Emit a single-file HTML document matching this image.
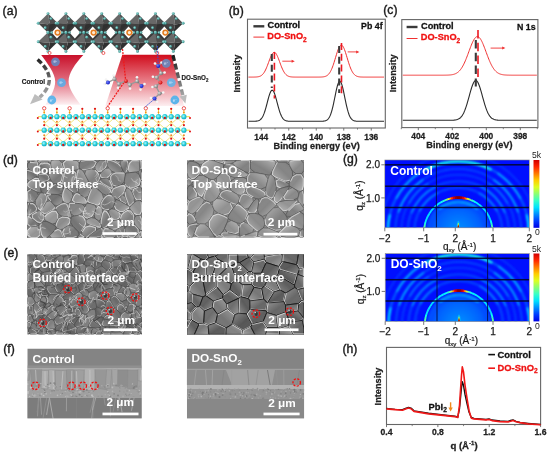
<!DOCTYPE html>
<html><head><meta charset="utf-8"><title>Figure</title>
<style>html,body{margin:0;padding:0;background:#fff;width:550px;height:454px;overflow:hidden}</style>
</head><body>
<svg width="550" height="454" viewBox="0 0 550 454" style="font-family:'Liberation Sans',Arial,sans-serif;display:block">
<defs>
<linearGradient id="sh0" x1="0" y1="0" x2="1" y2="1"><stop offset="0" stop-color="#fff" stop-opacity="0.9"/><stop offset="0.55" stop-color="#fff" stop-opacity="0"/><stop offset="1" stop-color="#000" stop-opacity="0.35"/></linearGradient>
<linearGradient id="sh1" x1="1" y1="0" x2="0" y2="1"><stop offset="0" stop-color="#fff" stop-opacity="0.9"/><stop offset="0.55" stop-color="#fff" stop-opacity="0"/><stop offset="1" stop-color="#000" stop-opacity="0.35"/></linearGradient>
<linearGradient id="sh2" x1="0" y1="1" x2="1" y2="0"><stop offset="0" stop-color="#fff" stop-opacity="0.9"/><stop offset="0.55" stop-color="#fff" stop-opacity="0"/><stop offset="1" stop-color="#000" stop-opacity="0.35"/></linearGradient>
<linearGradient id="sh3" x1="1" y1="1" x2="0" y2="0"><stop offset="0" stop-color="#fff" stop-opacity="0.9"/><stop offset="0.55" stop-color="#fff" stop-opacity="0"/><stop offset="1" stop-color="#000" stop-opacity="0.35"/></linearGradient>
<filter id="gblur" x="-5%" y="-5%" width="110%" height="110%"><feGaussianBlur stdDeviation="0.55"/></filter>
<filter id="gblur2" x="-20%" y="-20%" width="140%" height="140%"><feGaussianBlur stdDeviation="1.2"/></filter>
<linearGradient id="cbar" x1="0" y1="1" x2="0" y2="0"><stop offset="0.00" stop-color="#0000e5"/><stop offset="0.10" stop-color="#003aff"/><stop offset="0.20" stop-color="#008dff"/><stop offset="0.30" stop-color="#00e1ff"/><stop offset="0.40" stop-color="#36ffc8"/><stop offset="0.50" stop-color="#89ff75"/><stop offset="0.60" stop-color="#ddff21"/><stop offset="0.70" stop-color="#ffcd00"/><stop offset="0.80" stop-color="#ff7900"/><stop offset="0.90" stop-color="#ff2500"/><stop offset="1.00" stop-color="#d10000"/></linearGradient>
<radialGradient id="ginner"><stop offset="0" stop-color="#0093ff"/><stop offset="0.7" stop-color="#0060ff"/><stop offset="1" stop-color="#0038ff"/></radialGradient>
<clipPath id="gw1"><rect x="384.8" y="160" width="144.5" height="67.8"/></clipPath>
<clipPath id="gw2"><rect x="385.2" y="253.5" width="144.1" height="67.9"/></clipPath>
<filter id="semblur" x="0" y="0" width="100%" height="100%"><feGaussianBlur stdDeviation="0.55"/></filter>
<clipPath id="s1"><rect x="27" y="160" width="115" height="78"/></clipPath>
<clipPath id="s2"><rect x="187" y="160" width="117" height="77.5"/></clipPath>
<clipPath id="s3"><rect x="27.4" y="254.4" width="114.6" height="80"/></clipPath>
<clipPath id="s4"><rect x="187" y="254.4" width="117" height="80"/></clipPath>
<filter id="xsblur" x="0" y="0" width="100%" height="100%"><feGaussianBlur stdDeviation="0.5"/></filter>
<clipPath id="x1"><rect x="27.3" y="348.5" width="114.5" height="70.1"/></clipPath>
<clipPath id="x2"><rect x="186.9" y="348.5" width="117.3" height="70.1"/></clipPath>
<linearGradient id="gl" x1="0" y1="0" x2="0" y2="1"><stop offset="0" stop-color="#c8102a"/><stop offset="0.5" stop-color="#e06a7c"/><stop offset="1" stop-color="#fdf0f2"/></linearGradient>
<linearGradient id="gr" x1="0" y1="0" x2="0" y2="1"><stop offset="0" stop-color="#d00c1c"/><stop offset="0.45" stop-color="#e56e7a"/><stop offset="1" stop-color="#fdeff1"/></linearGradient>
<linearGradient id="garr1" x1="0" y1="0" x2="0" y2="1"><stop offset="0" stop-color="#1a1a1a"/><stop offset="1" stop-color="#c0c0c0"/></linearGradient>
<radialGradient id="ball_t" cx="0.35" cy="0.35" r="0.7"><stop offset="0" stop-color="#9ee0dc"/><stop offset="1" stop-color="#2a8580"/></radialGradient>
<radialGradient id="ball_c" cx="0.4" cy="0.4" r="0.65"><stop offset="0" stop-color="#a8fcff"/><stop offset="0.6" stop-color="#22c8d8"/><stop offset="1" stop-color="#10a8b8"/></radialGradient>
<radialGradient id="ball_g" cx="0.35" cy="0.35" r="0.7"><stop offset="0" stop-color="#e0e0e0"/><stop offset="1" stop-color="#707070"/></radialGradient>
<radialGradient id="ball_b" cx="0.35" cy="0.35" r="0.7"><stop offset="0" stop-color="#6a7cff"/><stop offset="1" stop-color="#0a14c0"/></radialGradient>
<radialGradient id="ball_r" cx="0.35" cy="0.35" r="0.7"><stop offset="0" stop-color="#ff7070"/><stop offset="1" stop-color="#c80000"/></radialGradient>
<linearGradient id="garr" gradientUnits="userSpaceOnUse" x1="0" y1="55" x2="0" y2="104"><stop offset="0" stop-color="#151515"/><stop offset="1" stop-color="#c4c4c4"/></linearGradient>
</defs>
<rect width="550" height="454" fill="#fff"/>
<text x="2.6" y="14.5" font-size="12.2" font-weight="normal" fill="#1a1a1a" text-anchor="start" stroke="#1a1a1a" stroke-width="0.4">(a)</text>
<text x="228.8" y="14.5" font-size="12.2" font-weight="normal" fill="#1a1a1a" text-anchor="start" stroke="#1a1a1a" stroke-width="0.4">(b)</text>
<text x="383.3" y="14.4" font-size="12.2" font-weight="normal" fill="#1a1a1a" text-anchor="start" stroke="#1a1a1a" stroke-width="0.4">(c)</text>
<text x="3" y="164" font-size="12.2" font-weight="normal" fill="#1a1a1a" text-anchor="start" stroke="#1a1a1a" stroke-width="0.4">(d)</text>
<text x="3.5" y="257" font-size="12.2" font-weight="normal" fill="#1a1a1a" text-anchor="start" stroke="#1a1a1a" stroke-width="0.4">(e)</text>
<text x="3.3" y="352.5" font-size="12.2" font-weight="normal" fill="#1a1a1a" text-anchor="start" stroke="#1a1a1a" stroke-width="0.4">(f)</text>
<text x="343" y="163" font-size="12.2" font-weight="normal" fill="#1a1a1a" text-anchor="start" stroke="#1a1a1a" stroke-width="0.4">(g)</text>
<text x="342.5" y="353" font-size="12.2" font-weight="normal" fill="#1a1a1a" text-anchor="start" stroke="#1a1a1a" stroke-width="0.4">(h)</text>
<rect x="247.5" y="19.2" width="137.8" height="108.8" fill="none" stroke="#666" stroke-width="1.1"/>
<line x1="261.25" y1="128" x2="261.25" y2="130.6" stroke="#666" stroke-width="0.9"/>
<line x1="288.75" y1="128" x2="288.75" y2="130.6" stroke="#666" stroke-width="0.9"/>
<line x1="316.25" y1="128" x2="316.25" y2="130.6" stroke="#666" stroke-width="0.9"/>
<line x1="343.75" y1="128" x2="343.75" y2="130.6" stroke="#666" stroke-width="0.9"/>
<line x1="371.25" y1="128" x2="371.25" y2="130.6" stroke="#666" stroke-width="0.9"/>
<line x1="275" y1="128" x2="275" y2="129.6" stroke="#666" stroke-width="0.8"/>
<line x1="302.5" y1="128" x2="302.5" y2="129.6" stroke="#666" stroke-width="0.8"/>
<line x1="330" y1="128" x2="330" y2="129.6" stroke="#666" stroke-width="0.8"/>
<line x1="357.5" y1="128" x2="357.5" y2="129.6" stroke="#666" stroke-width="0.8"/>
<text x="261.25" y="139.6" font-size="8.4" font-weight="bold" fill="#222" text-anchor="middle"  stroke="#222" stroke-width="0.28">144</text>
<text x="288.75" y="139.6" font-size="8.4" font-weight="bold" fill="#222" text-anchor="middle"  stroke="#222" stroke-width="0.28">142</text>
<text x="316.25" y="139.6" font-size="8.4" font-weight="bold" fill="#222" text-anchor="middle"  stroke="#222" stroke-width="0.28">140</text>
<text x="343.75" y="139.6" font-size="8.4" font-weight="bold" fill="#222" text-anchor="middle"  stroke="#222" stroke-width="0.28">138</text>
<text x="371.25" y="139.6" font-size="8.4" font-weight="bold" fill="#222" text-anchor="middle"  stroke="#222" stroke-width="0.28">136</text>
<text x="316.7" y="148.9" font-size="9.15" font-weight="bold" fill="#222" text-anchor="middle"  stroke="#222" stroke-width="0.28">Binding energy (eV)</text>
<text transform="translate(240.3,73.6) rotate(-90)" font-size="9.2" font-weight="bold" fill="#222" stroke="#222" stroke-width="0.25" text-anchor="middle">Intensity</text>
<path d="M248.5,121.3 L249,121.3 L249.5,121.3 L250,121.3 L250.5,121.3 L251,121.3 L251.5,121.3 L252,121.29 L252.5,121.29 L253,121.29 L253.5,121.28 L254,121.27 L254.5,121.25 L255,121.23 L255.5,121.21 L256,121.17 L256.5,121.12 L257,121.05 L257.5,120.95 L258,120.83 L258.5,120.68 L259,120.47 L259.5,120.22 L260,119.9 L260.5,119.5 L261,119.02 L261.5,118.43 L262,117.74 L262.5,116.92 L263,115.96 L263.5,114.87 L264,113.63 L264.5,112.25 L265,110.73 L265.5,109.09 L266,107.33 L266.5,105.49 L267,103.59 L267.5,101.67 L268,99.76 L268.5,97.91 L269,96.17 L269.5,94.58 L270,93.18 L270.5,92.02 L271,91.12 L271.5,90.52 L272,90.23 L272.5,90.26 L273,90.61 L273.5,91.28 L274,92.23 L274.5,93.44 L275,94.88 L275.5,96.51 L276,98.28 L276.5,100.14 L277,102.05 L277.5,103.97 L278,105.86 L278.5,107.69 L279,109.43 L279.5,111.05 L280,112.54 L280.5,113.89 L281,115.1 L281.5,116.16 L282,117.09 L282.5,117.89 L283,118.56 L283.5,119.12 L284,119.59 L284.5,119.97 L285,120.27 L285.5,120.52 L286,120.71 L286.5,120.86 L287,120.98 L287.5,121.06 L288,121.13 L288.5,121.18 L289,121.21 L289.5,121.24 L290,121.26 L290.5,121.27 L291,121.28 L291.5,121.29 L292,121.29 L292.5,121.29 L293,121.3 L293.5,121.3 L294,121.3 L294.5,121.3 L295,121.3 L295.5,121.3 L296,121.3 L296.5,121.3 L297,121.3 L297.5,121.3 L298,121.3 L298.5,121.3 L299,121.3 L299.5,121.3 L300,121.3 L300.5,121.3 L301,121.3 L301.5,121.3 L302,121.3 L302.5,121.3 L303,121.3 L303.5,121.3 L304,121.3 L304.5,121.3 L305,121.3 L305.5,121.3 L306,121.3 L306.5,121.3 L307,121.3 L307.5,121.3 L308,121.3 L308.5,121.3 L309,121.3 L309.5,121.3 L310,121.3 L310.5,121.3 L311,121.3 L311.5,121.3 L312,121.3 L312.5,121.3 L313,121.3 L313.5,121.3 L314,121.3 L314.5,121.3 L315,121.3 L315.5,121.3 L316,121.3 L316.5,121.3 L317,121.3 L317.5,121.3 L318,121.3 L318.5,121.3 L319,121.3 L319.5,121.29 L320,121.29 L320.5,121.28 L321,121.27 L321.5,121.26 L322,121.25 L322.5,121.22 L323,121.19 L323.5,121.14 L324,121.08 L324.5,120.99 L325,120.88 L325.5,120.73 L326,120.54 L326.5,120.29 L327,119.98 L327.5,119.59 L328,119.1 L328.5,118.5 L329,117.77 L329.5,116.91 L330,115.89 L330.5,114.7 L331,113.33 L331.5,111.77 L332,110.03 L332.5,108.11 L333,106.03 L333.5,103.8 L334,101.45 L334.5,99.01 L335,96.54 L335.5,94.08 L336,91.69 L336.5,89.42 L337,87.33 L337.5,85.47 L338,83.91 L338.5,82.68 L339,81.83 L339.5,81.37 L340,81.33 L340.5,81.71 L341,82.48 L341.5,83.64 L342,85.14 L342.5,86.93 L343,88.98 L343.5,91.22 L344,93.6 L344.5,96.05 L345,98.52 L345.5,100.97 L346,103.34 L346.5,105.59 L347,107.71 L347.5,109.66 L348,111.44 L348.5,113.03 L349,114.44 L349.5,115.66 L350,116.72 L350.5,117.61 L351,118.37 L351.5,118.99 L352,119.5 L352.5,119.91 L353,120.24 L353.5,120.5 L354,120.7 L354.5,120.86 L355,120.97 L355.5,121.06 L356,121.13 L356.5,121.18 L357,121.22 L357.5,121.24 L358,121.26 L358.5,121.27 L359,121.28 L359.5,121.29 L360,121.29 L360.5,121.29 L361,121.3 L361.5,121.3 L362,121.3 L362.5,121.3 L363,121.3 L363.5,121.3 L364,121.3 L364.5,121.3 L365,121.3 L365.5,121.3 L366,121.3 L366.5,121.3 L367,121.3 L367.5,121.3 L368,121.3 L368.5,121.3 L369,121.3 L369.5,121.3 L370,121.3 L370.5,121.3 L371,121.3 L371.5,121.3 L372,121.3 L372.5,121.3 L373,121.3 L373.5,121.3 L374,121.3 L374.5,121.3 L375,121.3 L375.5,121.3 L376,121.3 L376.5,121.3 L377,121.3 L377.5,121.3 L378,121.3 L378.5,121.3 L379,121.3 L379.5,121.3 L380,121.3 L380.5,121.3 L381,121.3 L381.5,121.3 L382,121.3 L382.5,121.3 L383,121.3 L383.5,121.3 L384,121.3" fill="none" stroke="#2a2a2a" stroke-width="1.1"/>
<path d="M248.5,77.1 L249,77.1 L249.5,77.1 L250,77.1 L250.5,77.1 L251,77.1 L251.5,77.1 L252,77.09 L252.5,77.09 L253,77.09 L253.5,77.08 L254,77.07 L254.5,77.06 L255,77.04 L255.5,77.02 L256,77 L256.5,76.96 L257,76.91 L257.5,76.85 L258,76.78 L258.5,76.68 L259,76.56 L259.5,76.4 L260,76.21 L260.5,75.99 L261,75.71 L261.5,75.38 L262,74.98 L262.5,74.52 L263,73.98 L263.5,73.36 L264,72.66 L264.5,71.86 L265,70.98 L265.5,70 L266,68.94 L266.5,67.79 L267,66.57 L267.5,65.29 L268,63.96 L268.5,62.6 L269,61.24 L269.5,59.89 L270,58.57 L270.5,57.32 L271,56.16 L271.5,55.12 L272,54.21 L272.5,53.46 L273,52.88 L273.5,52.5 L274,52.32 L274.5,52.34 L275,52.56 L275.5,52.98 L276,53.59 L276.5,54.38 L277,55.31 L277.5,56.39 L278,57.57 L278.5,58.83 L279,60.15 L279.5,61.51 L280,62.88 L280.5,64.23 L281,65.55 L281.5,66.82 L282,68.03 L282.5,69.16 L283,70.2 L283.5,71.16 L284,72.03 L284.5,72.81 L285,73.49 L285.5,74.1 L286,74.62 L286.5,75.07 L287,75.45 L287.5,75.77 L288,76.03 L288.5,76.26 L289,76.44 L289.5,76.58 L290,76.7 L290.5,76.79 L291,76.87 L291.5,76.92 L292,76.97 L292.5,77 L293,77.03 L293.5,77.05 L294,77.06 L294.5,77.07 L295,77.08 L295.5,77.09 L296,77.09 L296.5,77.09 L297,77.1 L297.5,77.1 L298,77.1 L298.5,77.1 L299,77.1 L299.5,77.1 L300,77.1 L300.5,77.1 L301,77.1 L301.5,77.1 L302,77.1 L302.5,77.1 L303,77.1 L303.5,77.1 L304,77.1 L304.5,77.1 L305,77.1 L305.5,77.1 L306,77.1 L306.5,77.1 L307,77.1 L307.5,77.1 L308,77.1 L308.5,77.1 L309,77.1 L309.5,77.1 L310,77.1 L310.5,77.1 L311,77.1 L311.5,77.1 L312,77.1 L312.5,77.1 L313,77.1 L313.5,77.1 L314,77.1 L314.5,77.1 L315,77.1 L315.5,77.1 L316,77.1 L316.5,77.1 L317,77.1 L317.5,77.09 L318,77.09 L318.5,77.09 L319,77.08 L319.5,77.07 L320,77.06 L320.5,77.05 L321,77.03 L321.5,77.01 L322,76.97 L322.5,76.93 L323,76.88 L323.5,76.81 L324,76.73 L324.5,76.62 L325,76.48 L325.5,76.32 L326,76.11 L326.5,75.87 L327,75.57 L327.5,75.21 L328,74.79 L328.5,74.3 L329,73.72 L329.5,73.06 L330,72.3 L330.5,71.45 L331,70.49 L331.5,69.42 L332,68.25 L332.5,66.98 L333,65.61 L333.5,64.15 L334,62.61 L334.5,61.01 L335,59.36 L335.5,57.69 L336,56.02 L336.5,54.38 L337,52.79 L337.5,51.28 L338,49.88 L338.5,48.62 L339,47.52 L339.5,46.6 L340,45.89 L340.5,45.4 L341,45.14 L341.5,45.12 L342,45.33 L342.5,45.78 L343,46.45 L343.5,47.32 L344,48.39 L344.5,49.62 L345,50.99 L345.5,52.48 L346,54.06 L346.5,55.69 L347,57.36 L347.5,59.03 L348,60.68 L348.5,62.29 L349,63.84 L349.5,65.32 L350,66.71 L350.5,68.01 L351,69.2 L351.5,70.28 L352,71.26 L352.5,72.14 L353,72.92 L353.5,73.6 L354,74.19 L354.5,74.7 L355,75.13 L355.5,75.5 L356,75.81 L356.5,76.07 L357,76.28 L357.5,76.45 L358,76.59 L358.5,76.71 L359,76.8 L359.5,76.87 L360,76.92 L360.5,76.97 L361,77 L361.5,77.03 L362,77.05 L362.5,77.06 L363,77.07 L363.5,77.08 L364,77.08 L364.5,77.09 L365,77.09 L365.5,77.09 L366,77.1 L366.5,77.1 L367,77.1 L367.5,77.1 L368,77.1 L368.5,77.1 L369,77.1 L369.5,77.1 L370,77.1 L370.5,77.1 L371,77.1 L371.5,77.1 L372,77.1 L372.5,77.1 L373,77.1 L373.5,77.1 L374,77.1 L374.5,77.1 L375,77.1 L375.5,77.1 L376,77.1 L376.5,77.1 L377,77.1 L377.5,77.1 L378,77.1 L378.5,77.1 L379,77.1 L379.5,77.1 L380,77.1 L380.5,77.1 L381,77.1 L381.5,77.1 L382,77.1 L382.5,77.1 L383,77.1 L383.5,77.1 L384,77.1" fill="none" stroke="#f03030" stroke-width="1"/>
<line x1="271.8" y1="54" x2="271.8" y2="88" stroke="#3a3a3a" stroke-width="2.1" stroke-dasharray="7,3.8"/>
<line x1="339.2" y1="46" x2="339.2" y2="93" stroke="#3a3a3a" stroke-width="2.1" stroke-dasharray="7,3.8"/>
<line x1="274.4" y1="52" x2="274.4" y2="98.5" stroke="#ec1a22" stroke-width="1.6" stroke-dasharray="7,3.8"/>
<line x1="341.5" y1="43" x2="341.5" y2="96" stroke="#ec1a22" stroke-width="1.6" stroke-dasharray="7,3.8"/>
<line x1="282.3" y1="61.2" x2="292.8" y2="61.2" stroke="#f03030" stroke-width="0.9"/>
<path d="M294.8,61.2 L291.6,59.7 L291.6,62.7 Z" fill="#f03030"/>
<line x1="347.7" y1="51.9" x2="357.4" y2="51.9" stroke="#f03030" stroke-width="0.9"/>
<path d="M359.4,51.9 L356.2,50.4 L356.2,53.4 Z" fill="#f03030"/>
<line x1="253.4" y1="26.3" x2="264.3" y2="26.3" stroke="#3a3a3a" stroke-width="2.4"/>
<text x="267.5" y="28" font-size="9.2" font-weight="bold" fill="#111" text-anchor="start"  stroke="#111" stroke-width="0.28">Control</text>
<line x1="253.4" y1="37.1" x2="264.3" y2="37.1" stroke="#f03030" stroke-width="1"/>
<text x="267.3" y="39.4" font-size="9.2" font-weight="bold" fill="#f01010" text-anchor="start"  stroke="#f01010" stroke-width="0.28">DO-SnO<tspan font-size="6.5" dy="2.6">2</tspan></text>
<text x="382.6" y="29.4" font-size="8.8" font-weight="bold" fill="#111" text-anchor="end"  stroke="#111" stroke-width="0.28">Pb 4f</text>
<rect x="401.8" y="19.6" width="136.1" height="108" fill="none" stroke="#666" stroke-width="1.1"/>
<line x1="418.3" y1="127.6" x2="418.3" y2="130.2" stroke="#666" stroke-width="0.9"/>
<line x1="452.3" y1="127.6" x2="452.3" y2="130.2" stroke="#666" stroke-width="0.9"/>
<line x1="486.3" y1="127.6" x2="486.3" y2="130.2" stroke="#666" stroke-width="0.9"/>
<line x1="520.3" y1="127.6" x2="520.3" y2="130.2" stroke="#666" stroke-width="0.9"/>
<line x1="435.3" y1="127.6" x2="435.3" y2="129.2" stroke="#666" stroke-width="0.8"/>
<line x1="469.3" y1="127.6" x2="469.3" y2="129.2" stroke="#666" stroke-width="0.8"/>
<line x1="503.3" y1="127.6" x2="503.3" y2="129.2" stroke="#666" stroke-width="0.8"/>
<line x1="401.3" y1="127.6" x2="401.3" y2="129.2" stroke="#666" stroke-width="0.8"/>
<line x1="537.3" y1="127.6" x2="537.3" y2="129.2" stroke="#666" stroke-width="0.8"/>
<text x="418.3" y="139.4" font-size="8.4" font-weight="bold" fill="#222" text-anchor="middle"  stroke="#222" stroke-width="0.28">404</text>
<text x="452.3" y="139.4" font-size="8.4" font-weight="bold" fill="#222" text-anchor="middle"  stroke="#222" stroke-width="0.28">402</text>
<text x="486.3" y="139.4" font-size="8.4" font-weight="bold" fill="#222" text-anchor="middle"  stroke="#222" stroke-width="0.28">400</text>
<text x="520.3" y="139.4" font-size="8.4" font-weight="bold" fill="#222" text-anchor="middle"  stroke="#222" stroke-width="0.28">398</text>
<text x="469.4" y="148.2" font-size="9.15" font-weight="bold" fill="#222" text-anchor="middle"  stroke="#222" stroke-width="0.28">Binding energy (eV)</text>
<text transform="translate(395.6,73.3) rotate(-90)" font-size="9.2" font-weight="bold" fill="#222" stroke="#222" stroke-width="0.25" text-anchor="middle">Intensity</text>
<path d="M402.8,120.3 L403.3,120.3 L403.8,120.3 L404.3,120.3 L404.8,120.3 L405.3,120.3 L405.8,120.3 L406.3,120.3 L406.8,120.3 L407.3,120.3 L407.8,120.3 L408.3,120.3 L408.8,120.3 L409.3,120.3 L409.8,120.3 L410.3,120.3 L410.8,120.3 L411.3,120.3 L411.8,120.3 L412.3,120.3 L412.8,120.3 L413.3,120.3 L413.8,120.3 L414.3,120.3 L414.8,120.3 L415.3,120.3 L415.8,120.3 L416.3,120.3 L416.8,120.3 L417.3,120.3 L417.8,120.3 L418.3,120.3 L418.8,120.3 L419.3,120.3 L419.8,120.3 L420.3,120.3 L420.8,120.3 L421.3,120.3 L421.8,120.3 L422.3,120.3 L422.8,120.3 L423.3,120.3 L423.8,120.3 L424.3,120.3 L424.8,120.3 L425.3,120.3 L425.8,120.3 L426.3,120.3 L426.8,120.3 L427.3,120.3 L427.8,120.3 L428.3,120.3 L428.8,120.3 L429.3,120.3 L429.8,120.3 L430.3,120.3 L430.8,120.3 L431.3,120.3 L431.8,120.3 L432.3,120.3 L432.8,120.3 L433.3,120.3 L433.8,120.3 L434.3,120.3 L434.8,120.3 L435.3,120.3 L435.8,120.3 L436.3,120.3 L436.8,120.3 L437.3,120.3 L437.8,120.3 L438.3,120.3 L438.8,120.3 L439.3,120.3 L439.8,120.3 L440.3,120.3 L440.8,120.3 L441.3,120.3 L441.8,120.3 L442.3,120.3 L442.8,120.3 L443.3,120.3 L443.8,120.3 L444.3,120.3 L444.8,120.3 L445.3,120.3 L445.8,120.3 L446.3,120.3 L446.8,120.3 L447.3,120.3 L447.8,120.3 L448.3,120.29 L448.8,120.29 L449.3,120.29 L449.8,120.28 L450.3,120.28 L450.8,120.27 L451.3,120.26 L451.8,120.25 L452.3,120.23 L452.8,120.21 L453.3,120.18 L453.8,120.15 L454.3,120.1 L454.8,120.05 L455.3,119.98 L455.8,119.9 L456.3,119.79 L456.8,119.67 L457.3,119.52 L457.8,119.33 L458.3,119.12 L458.8,118.86 L459.3,118.55 L459.8,118.19 L460.3,117.78 L460.8,117.29 L461.3,116.74 L461.8,116.1 L462.3,115.39 L462.8,114.58 L463.3,113.68 L463.8,112.68 L464.3,111.58 L464.8,110.38 L465.3,109.07 L465.8,107.67 L466.3,106.18 L466.8,104.59 L467.3,102.93 L467.8,101.21 L468.3,99.43 L468.8,97.62 L469.3,95.79 L469.8,93.97 L470.3,92.18 L470.8,90.43 L471.3,88.75 L471.8,87.18 L472.3,85.72 L472.8,84.41 L473.3,83.26 L473.8,82.29 L474.3,81.51 L474.8,80.95 L475.3,80.61 L475.8,80.5 L476.3,80.61 L476.8,80.95 L477.3,81.51 L477.8,82.29 L478.3,83.26 L478.8,84.41 L479.3,85.72 L479.8,87.18 L480.3,88.75 L480.8,90.43 L481.3,92.18 L481.8,93.97 L482.3,95.79 L482.8,97.62 L483.3,99.43 L483.8,101.21 L484.3,102.93 L484.8,104.59 L485.3,106.18 L485.8,107.67 L486.3,109.07 L486.8,110.38 L487.3,111.58 L487.8,112.68 L488.3,113.68 L488.8,114.58 L489.3,115.39 L489.8,116.1 L490.3,116.74 L490.8,117.29 L491.3,117.78 L491.8,118.19 L492.3,118.55 L492.8,118.86 L493.3,119.12 L493.8,119.33 L494.3,119.52 L494.8,119.67 L495.3,119.79 L495.8,119.9 L496.3,119.98 L496.8,120.05 L497.3,120.1 L497.8,120.15 L498.3,120.18 L498.8,120.21 L499.3,120.23 L499.8,120.25 L500.3,120.26 L500.8,120.27 L501.3,120.28 L501.8,120.28 L502.3,120.29 L502.8,120.29 L503.3,120.29 L503.8,120.3 L504.3,120.3 L504.8,120.3 L505.3,120.3 L505.8,120.3 L506.3,120.3 L506.8,120.3 L507.3,120.3 L507.8,120.3 L508.3,120.3 L508.8,120.3 L509.3,120.3 L509.8,120.3 L510.3,120.3 L510.8,120.3 L511.3,120.3 L511.8,120.3 L512.3,120.3 L512.8,120.3 L513.3,120.3 L513.8,120.3 L514.3,120.3 L514.8,120.3 L515.3,120.3 L515.8,120.3 L516.3,120.3 L516.8,120.3 L517.3,120.3 L517.8,120.3 L518.3,120.3 L518.8,120.3 L519.3,120.3 L519.8,120.3 L520.3,120.3 L520.8,120.3 L521.3,120.3 L521.8,120.3 L522.3,120.3 L522.8,120.3 L523.3,120.3 L523.8,120.3 L524.3,120.3 L524.8,120.3 L525.3,120.3 L525.8,120.3 L526.3,120.3 L526.8,120.3 L527.3,120.3 L527.8,120.3 L528.3,120.3 L528.8,120.3 L529.3,120.3 L529.8,120.3 L530.3,120.3 L530.8,120.3 L531.3,120.3 L531.8,120.3 L532.3,120.3 L532.8,120.3 L533.3,120.3 L533.8,120.3 L534.3,120.3 L534.8,120.3 L535.3,120.3 L535.8,120.3 L536.3,120.3 L536.8,120.3" fill="none" stroke="#2a2a2a" stroke-width="1.1"/>
<path d="M402.8,75.2 L403.3,75.2 L403.8,75.2 L404.3,75.2 L404.8,75.2 L405.3,75.2 L405.8,75.2 L406.3,75.2 L406.8,75.2 L407.3,75.2 L407.8,75.2 L408.3,75.2 L408.8,75.2 L409.3,75.2 L409.8,75.2 L410.3,75.2 L410.8,75.2 L411.3,75.2 L411.8,75.2 L412.3,75.2 L412.8,75.2 L413.3,75.2 L413.8,75.2 L414.3,75.2 L414.8,75.2 L415.3,75.2 L415.8,75.2 L416.3,75.2 L416.8,75.2 L417.3,75.2 L417.8,75.2 L418.3,75.2 L418.8,75.2 L419.3,75.2 L419.8,75.2 L420.3,75.2 L420.8,75.2 L421.3,75.2 L421.8,75.2 L422.3,75.2 L422.8,75.2 L423.3,75.2 L423.8,75.2 L424.3,75.2 L424.8,75.2 L425.3,75.2 L425.8,75.2 L426.3,75.2 L426.8,75.2 L427.3,75.2 L427.8,75.2 L428.3,75.2 L428.8,75.2 L429.3,75.2 L429.8,75.2 L430.3,75.2 L430.8,75.2 L431.3,75.2 L431.8,75.2 L432.3,75.2 L432.8,75.2 L433.3,75.2 L433.8,75.2 L434.3,75.2 L434.8,75.2 L435.3,75.2 L435.8,75.2 L436.3,75.2 L436.8,75.2 L437.3,75.2 L437.8,75.2 L438.3,75.2 L438.8,75.2 L439.3,75.2 L439.8,75.2 L440.3,75.2 L440.8,75.2 L441.3,75.19 L441.8,75.19 L442.3,75.19 L442.8,75.19 L443.3,75.19 L443.8,75.18 L444.3,75.18 L444.8,75.17 L445.3,75.16 L445.8,75.15 L446.3,75.14 L446.8,75.13 L447.3,75.12 L447.8,75.1 L448.3,75.07 L448.8,75.05 L449.3,75.01 L449.8,74.98 L450.3,74.93 L450.8,74.88 L451.3,74.81 L451.8,74.74 L452.3,74.65 L452.8,74.55 L453.3,74.44 L453.8,74.31 L454.3,74.15 L454.8,73.98 L455.3,73.78 L455.8,73.55 L456.3,73.3 L456.8,73.01 L457.3,72.69 L457.8,72.32 L458.3,71.92 L458.8,71.48 L459.3,70.99 L459.8,70.45 L460.3,69.85 L460.8,69.21 L461.3,68.51 L461.8,67.75 L462.3,66.94 L462.8,66.06 L463.3,65.13 L463.8,64.15 L464.3,63.1 L464.8,62 L465.3,60.85 L465.8,59.66 L466.3,58.42 L466.8,57.14 L467.3,55.83 L467.8,54.5 L468.3,53.15 L468.8,51.79 L469.3,50.43 L469.8,49.08 L470.3,47.75 L470.8,46.45 L471.3,45.18 L471.8,43.97 L472.3,42.82 L472.8,41.74 L473.3,40.75 L473.8,39.84 L474.3,39.03 L474.8,38.32 L475.3,37.73 L475.8,37.26 L476.3,36.91 L476.8,36.69 L477.3,36.6 L477.8,36.64 L478.3,36.81 L478.8,37.11 L479.3,37.53 L479.8,38.07 L480.3,38.73 L480.8,39.5 L481.3,40.37 L481.8,41.34 L482.3,42.38 L482.8,43.51 L483.3,44.69 L483.8,45.94 L484.3,47.22 L484.8,48.54 L485.3,49.89 L485.8,51.24 L486.3,52.6 L486.8,53.96 L487.3,55.3 L487.8,56.62 L488.3,57.91 L488.8,59.17 L489.3,60.38 L489.8,61.55 L490.3,62.67 L490.8,63.73 L491.3,64.75 L491.8,65.7 L492.3,66.59 L492.8,67.43 L493.3,68.21 L493.8,68.94 L494.3,69.6 L494.8,70.21 L495.3,70.78 L495.8,71.29 L496.3,71.75 L496.8,72.17 L497.3,72.55 L497.8,72.88 L498.3,73.19 L498.8,73.45 L499.3,73.69 L499.8,73.9 L500.3,74.09 L500.8,74.25 L501.3,74.39 L501.8,74.51 L502.3,74.62 L502.8,74.71 L503.3,74.79 L503.8,74.85 L504.3,74.91 L504.8,74.96 L505.3,75 L505.8,75.03 L506.3,75.06 L506.8,75.09 L507.3,75.11 L507.8,75.13 L508.3,75.14 L508.8,75.15 L509.3,75.16 L509.8,75.17 L510.3,75.17 L510.8,75.18 L511.3,75.18 L511.8,75.19 L512.3,75.19 L512.8,75.19 L513.3,75.19 L513.8,75.2 L514.3,75.2 L514.8,75.2 L515.3,75.2 L515.8,75.2 L516.3,75.2 L516.8,75.2 L517.3,75.2 L517.8,75.2 L518.3,75.2 L518.8,75.2 L519.3,75.2 L519.8,75.2 L520.3,75.2 L520.8,75.2 L521.3,75.2 L521.8,75.2 L522.3,75.2 L522.8,75.2 L523.3,75.2 L523.8,75.2 L524.3,75.2 L524.8,75.2 L525.3,75.2 L525.8,75.2 L526.3,75.2 L526.8,75.2 L527.3,75.2 L527.8,75.2 L528.3,75.2 L528.8,75.2 L529.3,75.2 L529.8,75.2 L530.3,75.2 L530.8,75.2 L531.3,75.2 L531.8,75.2 L532.3,75.2 L532.8,75.2 L533.3,75.2 L533.8,75.2 L534.3,75.2 L534.8,75.2 L535.3,75.2 L535.8,75.2 L536.3,75.2 L536.8,75.2" fill="none" stroke="#f03030" stroke-width="1"/>
<line x1="475.8" y1="40" x2="475.8" y2="86.5" stroke="#3a3a3a" stroke-width="2.1" stroke-dasharray="8.5,4.3"/>
<line x1="478" y1="30" x2="478" y2="79.5" stroke="#ec1a22" stroke-width="1.6" stroke-dasharray="8.5,4.3"/>
<line x1="490.6" y1="48.1" x2="503.4" y2="48.1" stroke="#f03030" stroke-width="0.9"/>
<path d="M505.4,48.1 L502.2,46.6 L502.2,49.6 Z" fill="#f03030"/>
<line x1="406.6" y1="27" x2="417.5" y2="27" stroke="#3a3a3a" stroke-width="2.4"/>
<text x="421" y="28.8" font-size="9.2" font-weight="bold" fill="#111" text-anchor="start"  stroke="#111" stroke-width="0.28">Control</text>
<line x1="406.6" y1="38.5" x2="417.5" y2="38.5" stroke="#f03030" stroke-width="1"/>
<text x="420.8" y="40.2" font-size="9.2" font-weight="bold" fill="#f01010" text-anchor="start"  stroke="#f01010" stroke-width="0.28">DO-SnO<tspan font-size="6.5" dy="2.6">2</tspan></text>
<text x="535.6" y="30" font-size="8.8" font-weight="bold" fill="#111" text-anchor="end"  stroke="#111" stroke-width="0.28">N 1s</text>
<rect x="386.5" y="347.4" width="154.1" height="77.1" fill="none" stroke="#666" stroke-width="1.1"/>
<line x1="386.5" y1="424.5" x2="386.5" y2="427.1" stroke="#666" stroke-width="0.9"/>
<line x1="437.86" y1="424.5" x2="437.86" y2="427.1" stroke="#666" stroke-width="0.9"/>
<line x1="489.22" y1="424.5" x2="489.22" y2="427.1" stroke="#666" stroke-width="0.9"/>
<line x1="540.58" y1="424.5" x2="540.58" y2="427.1" stroke="#666" stroke-width="0.9"/>
<line x1="412.18" y1="424.5" x2="412.18" y2="426.1" stroke="#666" stroke-width="0.8"/>
<line x1="463.54" y1="424.5" x2="463.54" y2="426.1" stroke="#666" stroke-width="0.8"/>
<line x1="514.9" y1="424.5" x2="514.9" y2="426.1" stroke="#666" stroke-width="0.8"/>
<text x="386.5" y="435.2" font-size="8.6" font-weight="bold" fill="#222" text-anchor="middle"  stroke="#222" stroke-width="0.28">0.4</text>
<text x="437.86" y="435.2" font-size="8.6" font-weight="bold" fill="#222" text-anchor="middle"  stroke="#222" stroke-width="0.28">0.8</text>
<text x="489.22" y="435.2" font-size="8.6" font-weight="bold" fill="#222" text-anchor="middle"  stroke="#222" stroke-width="0.28">1.2</text>
<text x="540.58" y="435.2" font-size="8.6" font-weight="bold" fill="#222" text-anchor="middle"  stroke="#222" stroke-width="0.28">1.6</text>
<text x="464" y="448.6" font-size="9.6" font-weight="bold" fill="#222" text-anchor="middle"  stroke="#222" stroke-width="0.28">q (Å<tspan font-size="6" dy="-3.5">-1</tspan><tspan dy="3.5">)</tspan></text>
<text transform="translate(381.2,386.5) rotate(-90)" font-size="9.2" font-weight="bold" fill="#222" stroke="#222" stroke-width="0.25" text-anchor="middle">Intensity</text>
<path d="M386.5,408.37 L395,409.39 L402.5,409.6 L405.5,408.52 L408.5,407.46 L411,408.14 L414,410.87 L428.6,413.24 L443.2,414.96 L454.8,416.22 L457.8,416.97 L459.5,408.55 L460.5,397.99 L461.5,387.78 L462.3,381.8 L463.5,385.32 L465,394.47 L467,403.62 L469,412.07 L471.3,417.42 L474,418.47 L480,418.88 L486,419.55 L489,418.91 L492,420.07 L500,420.97 L508,421.42 L510.5,420.46 L513,419.98 L516,421.32 L520,422.49 L528,423.33 L540.6,424.48" fill="none" stroke="#111" stroke-width="1.4" stroke-linejoin="round"/>
<path d="M386.5,408.37 L395,409.11 L402.5,409.82 L405.5,408.57 L408.5,407.57 L411,408.23 L414,410.88 L428.6,413.35 L443.2,414.92 L454.8,416.11 L457.8,417.05 L459.5,404.86 L460.5,389.68 L461.5,375 L462.3,366.4 L463.5,371.46 L465,384.62 L467,397.77 L469,409.92 L471.3,417.61 L474,418.41 L480,418.85 L486,419.41 L489,418.97 L492,420.11 L500,421.14 L508,421.4 L510.5,420.74 L513,419.93 L516,421.2 L520,422.13 L528,423.37 L540.6,424.24" fill="none" stroke="#f01818" stroke-width="1.6" stroke-linejoin="round" transform="translate(0,0.5)"/>
<line x1="488.3" y1="354.6" x2="495" y2="354.6" stroke="#111" stroke-width="1.6"/>
<text x="497.5" y="357.8" font-size="9.4" font-weight="bold" fill="#111" text-anchor="start"  stroke="#111" stroke-width="0.28">Control</text>
<line x1="488.3" y1="368.2" x2="495" y2="368.2" stroke="#f01818" stroke-width="1.6"/>
<text x="497.5" y="370.8" font-size="9.4" font-weight="bold" fill="#ee1111" text-anchor="start"  stroke="#ee1111" stroke-width="0.28">DO-SnO<tspan font-size="6.6" dy="2">2</tspan></text>
<text x="428.6" y="409.8" font-size="9.4" font-weight="bold" fill="#111" text-anchor="start"  stroke="#111" stroke-width="0.28">PbI<tspan font-size="6.6" dy="2">2</tspan></text>
<line x1="450.6" y1="402.3" x2="450.6" y2="408.5" stroke="#f08a1c" stroke-width="1.4"/>
<path d="M448.4,407.6 L452.8,407.6 L450.6,411.6 Z" fill="#f08a1c"/>
<g clip-path="url(#gw1)">
<rect x="384.8" y="160" width="144.5" height="67.8" fill="#000fff"/>
<g filter="url(#gblur2)">
<circle cx="458.3" cy="231.8" r="33" fill="url(#ginner)"/>
<circle cx="458.3" cy="231.8" r="29.8" fill="none" stroke="#0060ff" stroke-width="1.0"/>
<circle cx="458.3" cy="231.8" r="44" fill="none" stroke="#004cff" stroke-width="1.8"/>
<circle cx="458.3" cy="231.8" r="50.5" fill="none" stroke="#004cff" stroke-width="1.8"/>
<circle cx="458.3" cy="231.8" r="57" fill="none" stroke="#0042ff" stroke-width="1.6"/>
<circle cx="458.3" cy="231.8" r="63" fill="none" stroke="#004cff" stroke-width="1.8"/>
<circle cx="458.3" cy="231.8" r="70.5" fill="none" stroke="#0060ff" stroke-width="2.0"/>
<circle cx="458.3" cy="231.8" r="78" fill="none" stroke="#0038ff" stroke-width="1.6"/>
<path d="M477.46,208.97 A29.8,29.8 0 0 0 439.14,208.97" fill="none" stroke="#00d1ff" stroke-width="1.2"/>
<path d="M497.15,211.14 A44,44 0 0 0 478.96,192.95" fill="none" stroke="#0089ff" stroke-width="1.6"/>
<path d="M437.64,192.95 A44,44 0 0 0 419.45,211.14" fill="none" stroke="#0089ff" stroke-width="1.6"/>
<path d="M505.12,212.88 A50.5,50.5 0 0 0 480.44,186.41" fill="none" stroke="#0093ff" stroke-width="1.6"/>
<path d="M436.16,186.41 A50.5,50.5 0 0 0 411.48,212.88" fill="none" stroke="#0093ff" stroke-width="1.6"/>
<path d="M507.66,203.3 A57,57 0 0 0 488.51,183.46" fill="none" stroke="#007fff" stroke-width="1.5"/>
<path d="M428.09,183.46 A57,57 0 0 0 408.94,203.3" fill="none" stroke="#007fff" stroke-width="1.5"/>
<path d="M518.22,212.33 A63,63 0 0 0 493.53,179.57" fill="none" stroke="#00b2ff" stroke-width="1.6"/>
<path d="M423.07,179.57 A63,63 0 0 0 398.38,212.33" fill="none" stroke="#00b2ff" stroke-width="1.6"/>
<path d="M491.3,169.73 A70.3,70.3 0 0 0 425.3,169.73" fill="none" stroke="#19ffe5" stroke-width="2.4"/>
<path d="M528.8,231.8 A70.5,70.5 0 0 0 526.71,214.74" fill="none" stroke="#00efff" stroke-width="2.0"/>
<path d="M389.89,214.74 A70.5,70.5 0 0 0 387.8,231.8" fill="none" stroke="#00efff" stroke-width="2.0"/>
<path d="M520.55,198.7 A70.5,70.5 0 0 0 497.72,173.35" fill="none" stroke="#00b2ff" stroke-width="1.8"/>
<path d="M418.88,173.35 A70.5,70.5 0 0 0 396.05,198.7" fill="none" stroke="#00b2ff" stroke-width="1.8"/>
</g>
<g filter="url(#gblur)">
<path d="M492.5,231.8 A34.2,34.2 0 0 0 492.43,229.65" fill="none" stroke="#a3ff5b" stroke-width="1.8"/>
<path d="M492.45,230.01 A34.2,34.2 0 0 0 492.27,227.87" fill="none" stroke="#84ff7a" stroke-width="1.8"/>
<path d="M492.31,228.23 A34.2,34.2 0 0 0 492.02,226.1" fill="none" stroke="#65ff99" stroke-width="1.8"/>
<path d="M492.08,226.45 A34.2,34.2 0 0 0 491.68,224.34" fill="none" stroke="#47ffb7" stroke-width="1.8"/>
<path d="M491.75,224.69 A34.2,34.2 0 0 0 491.24,222.6" fill="none" stroke="#28ffd6" stroke-width="1.8"/>
<path d="M491.33,222.95 A34.2,34.2 0 0 0 490.71,220.89" fill="none" stroke="#0afff4" stroke-width="1.8"/>
<path d="M490.83,221.23 A34.2,34.2 0 0 0 490.1,219.21" fill="none" stroke="#00eaff" stroke-width="1.8"/>
<path d="M490.23,219.54 A34.2,34.2 0 0 0 489.4,217.56" fill="none" stroke="#00dcff" stroke-width="1.8"/>
<path d="M489.54,217.89 A34.2,34.2 0 0 0 488.61,215.96" fill="none" stroke="#00deff" stroke-width="1.8"/>
<path d="M488.77,216.27 A34.2,34.2 0 0 0 487.74,214.39" fill="none" stroke="#00dfff" stroke-width="1.8"/>
<path d="M487.92,214.7 A34.2,34.2 0 0 0 486.79,212.87" fill="none" stroke="#00e1ff" stroke-width="1.8"/>
<path d="M486.98,213.17 A34.2,34.2 0 0 0 485.76,211.41" fill="none" stroke="#00e3ff" stroke-width="1.8"/>
<path d="M485.97,211.7 A34.2,34.2 0 0 0 484.65,210" fill="none" stroke="#00e4ff" stroke-width="1.8"/>
<path d="M484.88,210.28 A34.2,34.2 0 0 0 483.47,208.65" fill="none" stroke="#00e6ff" stroke-width="1.8"/>
<path d="M483.72,208.92 A34.2,34.2 0 0 0 482.23,207.37" fill="none" stroke="#00e7ff" stroke-width="1.8"/>
<path d="M482.48,207.62 A34.2,34.2 0 0 0 480.92,206.15" fill="none" stroke="#00e9ff" stroke-width="1.8"/>
<path d="M481.18,206.38 A34.2,34.2 0 0 0 479.54,205" fill="none" stroke="#00ebff" stroke-width="1.8"/>
<path d="M479.82,205.22 A34.2,34.2 0 0 0 478.11,203.92" fill="none" stroke="#00ecff" stroke-width="1.8"/>
<path d="M478.4,204.13 A34.2,34.2 0 0 0 476.63,202.92" fill="none" stroke="#00eeff" stroke-width="1.8"/>
<path d="M476.93,203.12 A34.2,34.2 0 0 0 475.09,202" fill="none" stroke="#00f3ff" stroke-width="1.8"/>
<path d="M475.4,202.18 A34.2,34.2 0 0 0 473.51,201.17" fill="none" stroke="#0dfff1" stroke-width="1.8"/>
<path d="M473.83,201.33 A34.2,34.2 0 0 0 471.88,200.41" fill="none" stroke="#25ffd9" stroke-width="1.8"/>
<path d="M472.21,200.56 A34.2,34.2 0 0 0 470.22,199.74" fill="none" stroke="#3effc0" stroke-width="1.8"/>
<path d="M470.56,199.87 A34.2,34.2 0 0 0 468.53,199.16" fill="none" stroke="#92ff6c" stroke-width="1.8"/>
<path d="M468.87,199.27 A34.2,34.2 0 0 0 466.81,198.67" fill="none" stroke="#f2ff0c" stroke-width="1.8"/>
<path d="M467.15,198.77 A34.2,34.2 0 0 0 465.06,198.27" fill="none" stroke="#ff9e00" stroke-width="1.8"/>
<path d="M465.41,198.35 A34.2,34.2 0 0 0 463.3,197.97" fill="none" stroke="#ff2300" stroke-width="2.6"/>
<path d="M463.65,198.02 A34.2,34.2 0 0 0 461.52,197.75" fill="none" stroke="#db0000" stroke-width="2.6"/>
<path d="M461.87,197.79 A34.2,34.2 0 0 0 459.73,197.63" fill="none" stroke="#a40000" stroke-width="2.6"/>
<path d="M460.09,197.65 A34.2,34.2 0 0 0 457.94,197.6" fill="none" stroke="#8b0000" stroke-width="2.6"/>
<path d="M458.3,197.6 A34.2,34.2 0 0 0 456.15,197.67" fill="none" stroke="#8b0000" stroke-width="2.6"/>
<path d="M456.51,197.65 A34.2,34.2 0 0 0 454.37,197.83" fill="none" stroke="#a40000" stroke-width="2.6"/>
<path d="M454.73,197.79 A34.2,34.2 0 0 0 452.6,198.08" fill="none" stroke="#db0000" stroke-width="2.6"/>
<path d="M452.95,198.02 A34.2,34.2 0 0 0 450.84,198.42" fill="none" stroke="#ff2300" stroke-width="2.6"/>
<path d="M451.19,198.35 A34.2,34.2 0 0 0 449.1,198.86" fill="none" stroke="#ff9e00" stroke-width="1.8"/>
<path d="M449.45,198.77 A34.2,34.2 0 0 0 447.39,199.39" fill="none" stroke="#f2ff0c" stroke-width="1.8"/>
<path d="M447.73,199.27 A34.2,34.2 0 0 0 445.71,200" fill="none" stroke="#92ff6c" stroke-width="1.8"/>
<path d="M446.04,199.87 A34.2,34.2 0 0 0 444.06,200.7" fill="none" stroke="#3effc0" stroke-width="1.8"/>
<path d="M444.39,200.56 A34.2,34.2 0 0 0 442.46,201.49" fill="none" stroke="#25ffd9" stroke-width="1.8"/>
<path d="M442.77,201.33 A34.2,34.2 0 0 0 440.89,202.36" fill="none" stroke="#0dfff1" stroke-width="1.8"/>
<path d="M441.2,202.18 A34.2,34.2 0 0 0 439.37,203.31" fill="none" stroke="#00f3ff" stroke-width="1.8"/>
<path d="M439.67,203.12 A34.2,34.2 0 0 0 437.91,204.34" fill="none" stroke="#00eeff" stroke-width="1.8"/>
<path d="M438.2,204.13 A34.2,34.2 0 0 0 436.5,205.45" fill="none" stroke="#00ecff" stroke-width="1.8"/>
<path d="M436.78,205.22 A34.2,34.2 0 0 0 435.15,206.63" fill="none" stroke="#00ebff" stroke-width="1.8"/>
<path d="M435.42,206.38 A34.2,34.2 0 0 0 433.87,207.87" fill="none" stroke="#00e9ff" stroke-width="1.8"/>
<path d="M434.12,207.62 A34.2,34.2 0 0 0 432.65,209.18" fill="none" stroke="#00e7ff" stroke-width="1.8"/>
<path d="M432.88,208.92 A34.2,34.2 0 0 0 431.5,210.56" fill="none" stroke="#00e6ff" stroke-width="1.8"/>
<path d="M431.72,210.28 A34.2,34.2 0 0 0 430.42,211.99" fill="none" stroke="#00e4ff" stroke-width="1.8"/>
<path d="M430.63,211.7 A34.2,34.2 0 0 0 429.42,213.47" fill="none" stroke="#00e3ff" stroke-width="1.8"/>
<path d="M429.62,213.17 A34.2,34.2 0 0 0 428.5,215.01" fill="none" stroke="#00e1ff" stroke-width="1.8"/>
<path d="M428.68,214.7 A34.2,34.2 0 0 0 427.67,216.59" fill="none" stroke="#00dfff" stroke-width="1.8"/>
<path d="M427.83,216.27 A34.2,34.2 0 0 0 426.91,218.22" fill="none" stroke="#00deff" stroke-width="1.8"/>
<path d="M427.06,217.89 A34.2,34.2 0 0 0 426.24,219.88" fill="none" stroke="#00dcff" stroke-width="1.8"/>
<path d="M426.37,219.54 A34.2,34.2 0 0 0 425.66,221.57" fill="none" stroke="#00eaff" stroke-width="1.8"/>
<path d="M425.77,221.23 A34.2,34.2 0 0 0 425.17,223.29" fill="none" stroke="#0afff4" stroke-width="1.8"/>
<path d="M425.27,222.95 A34.2,34.2 0 0 0 424.77,225.04" fill="none" stroke="#28ffd6" stroke-width="1.8"/>
<path d="M424.85,224.69 A34.2,34.2 0 0 0 424.47,226.8" fill="none" stroke="#47ffb7" stroke-width="1.8"/>
<path d="M424.52,226.45 A34.2,34.2 0 0 0 424.25,228.58" fill="none" stroke="#65ff99" stroke-width="1.8"/>
<path d="M424.29,228.23 A34.2,34.2 0 0 0 424.13,230.37" fill="none" stroke="#84ff7a" stroke-width="1.8"/>
<path d="M424.15,230.01 A34.2,34.2 0 0 0 424.1,232.16" fill="none" stroke="#a3ff5b" stroke-width="1.8"/>
</g>
<ellipse cx="458.3" cy="226.8" rx="1.6" ry="6" fill="#00b2ff" filter="url(#gblur)"/>
<ellipse cx="458.3" cy="226.8" rx="0.7" ry="4" fill="#b2ff4c" filter="url(#gblur)"/>
<path d="M457.2,227.8 L458.3,224.2 L459.4,227.8 Z" fill="#b00000"/>
<rect x="384.8" y="164.05" width="144.5" height="1.5" fill="#020630" fill-opacity="0.92"/>
<rect x="384.8" y="185.45" width="144.5" height="1.5" fill="#020630" fill-opacity="0.92"/>
<rect x="384.8" y="206.75" width="144.5" height="1.5" fill="#020630" fill-opacity="0.92"/>
<rect x="435.9" y="160" width="1" height="67.8" fill="#02083a" fill-opacity="0.85"/>
<rect x="485.9" y="160" width="1" height="67.8" fill="#02083a" fill-opacity="0.85"/>
</g>
<rect x="384.8" y="160" width="144.5" height="67.8" fill="none" stroke="#888" stroke-width="0.6"/>
<rect x="533.5" y="160" width="5.9" height="67.8" fill="url(#cbar)"/>
<text x="536.6" y="158.4" font-size="8.6" font-weight="normal" fill="#222" text-anchor="middle" >5k</text>
<text x="537.4" y="235.2" font-size="8.6" font-weight="normal" fill="#222" text-anchor="middle" >0</text>
<text x="390.3" y="174.8" font-size="12" font-weight="bold" fill="#fff">Control</text>
<line x1="381.3" y1="164.8" x2="384.8" y2="164.8" stroke="#555" stroke-width="0.8"/>
<text x="380" y="168.4" font-size="10" font-weight="normal" fill="#1a1a1a" text-anchor="end" stroke="#1a1a1a" stroke-width="0.25">2.0</text>
<line x1="381.3" y1="197.9" x2="384.8" y2="197.9" stroke="#555" stroke-width="0.8"/>
<text x="380" y="201.5" font-size="10" font-weight="normal" fill="#1a1a1a" text-anchor="end" stroke="#1a1a1a" stroke-width="0.25">1.0</text>
<line x1="384.8" y1="227.8" x2="384.8" y2="231.3" stroke="#555" stroke-width="0.8"/>
<text x="384.8" y="241.8" font-size="10" font-weight="normal" fill="#1a1a1a" text-anchor="middle" stroke="#1a1a1a" stroke-width="0.25">−2</text>
<line x1="423.7" y1="227.8" x2="423.7" y2="231.3" stroke="#555" stroke-width="0.8"/>
<text x="423.7" y="241.8" font-size="10" font-weight="normal" fill="#1a1a1a" text-anchor="middle" stroke="#1a1a1a" stroke-width="0.25">−1</text>
<line x1="455.3" y1="227.8" x2="455.3" y2="231.3" stroke="#555" stroke-width="0.8"/>
<text x="455.3" y="241.8" font-size="10" font-weight="normal" fill="#1a1a1a" text-anchor="middle" stroke="#1a1a1a" stroke-width="0.25">2</text>
<line x1="493" y1="227.8" x2="493" y2="231.3" stroke="#555" stroke-width="0.8"/>
<text x="493" y="241.8" font-size="10" font-weight="normal" fill="#1a1a1a" text-anchor="middle" stroke="#1a1a1a" stroke-width="0.25">1</text>
<line x1="529.3" y1="227.8" x2="529.3" y2="231.3" stroke="#555" stroke-width="0.8"/>
<text x="529.3" y="241.8" font-size="10" font-weight="normal" fill="#1a1a1a" text-anchor="middle" stroke="#1a1a1a" stroke-width="0.25">2</text>
<text transform="translate(363.2,195.5) rotate(-90)" font-size="10" fill="#1a1a1a" stroke="#1a1a1a" stroke-width="0.2" text-anchor="middle">q<tspan font-size="6.2" dy="2">z</tspan><tspan dy="-2"> (Å</tspan><tspan font-size="6.2" dy="-3.2">-1</tspan><tspan dy="3.2">)</tspan></text>
<text x="459.6" y="250.1" font-size="10" fill="#1a1a1a" stroke="#1a1a1a" stroke-width="0.2" text-anchor="middle">q<tspan font-size="6.2" dy="2">xy</tspan><tspan dy="-2"> (Å</tspan><tspan font-size="6.2" dy="-3.2">-1</tspan><tspan dy="3.2">)</tspan></text>
<g clip-path="url(#gw2)">
<rect x="385.2" y="253.5" width="144.1" height="67.9" fill="#000fff"/>
<g filter="url(#gblur2)">
<circle cx="459" cy="324.8" r="33" fill="url(#ginner)"/>
<circle cx="459" cy="324.8" r="29.8" fill="none" stroke="#0060ff" stroke-width="1.0"/>
<circle cx="459" cy="324.8" r="44" fill="none" stroke="#004cff" stroke-width="1.8"/>
<circle cx="459" cy="324.8" r="50.5" fill="none" stroke="#004cff" stroke-width="1.8"/>
<circle cx="459" cy="324.8" r="57" fill="none" stroke="#0042ff" stroke-width="1.6"/>
<circle cx="459" cy="324.8" r="63" fill="none" stroke="#004cff" stroke-width="1.8"/>
<circle cx="459" cy="324.8" r="70.5" fill="none" stroke="#0060ff" stroke-width="2.0"/>
<circle cx="459" cy="324.8" r="78" fill="none" stroke="#0038ff" stroke-width="1.6"/>
<path d="M478.16,301.97 A29.8,29.8 0 0 0 439.84,301.97" fill="none" stroke="#00d1ff" stroke-width="1.2"/>
<path d="M497.85,304.14 A44,44 0 0 0 479.66,285.95" fill="none" stroke="#0089ff" stroke-width="1.6"/>
<path d="M438.34,285.95 A44,44 0 0 0 420.15,304.14" fill="none" stroke="#0089ff" stroke-width="1.6"/>
<path d="M505.82,305.88 A50.5,50.5 0 0 0 481.14,279.41" fill="none" stroke="#0093ff" stroke-width="1.6"/>
<path d="M436.86,279.41 A50.5,50.5 0 0 0 412.18,305.88" fill="none" stroke="#0093ff" stroke-width="1.6"/>
<path d="M508.36,296.3 A57,57 0 0 0 489.21,276.46" fill="none" stroke="#007fff" stroke-width="1.5"/>
<path d="M428.79,276.46 A57,57 0 0 0 409.64,296.3" fill="none" stroke="#007fff" stroke-width="1.5"/>
<path d="M518.92,305.33 A63,63 0 0 0 494.23,272.57" fill="none" stroke="#00b2ff" stroke-width="1.6"/>
<path d="M423.77,272.57 A63,63 0 0 0 399.08,305.33" fill="none" stroke="#00b2ff" stroke-width="1.6"/>
<path d="M492,262.73 A70.3,70.3 0 0 0 426,262.73" fill="none" stroke="#19ffe5" stroke-width="2.4"/>
<path d="M529.5,324.8 A70.5,70.5 0 0 0 527.41,307.74" fill="none" stroke="#00efff" stroke-width="2.0"/>
<path d="M390.59,307.74 A70.5,70.5 0 0 0 388.5,324.8" fill="none" stroke="#00efff" stroke-width="2.0"/>
<path d="M521.25,291.7 A70.5,70.5 0 0 0 498.42,266.35" fill="none" stroke="#00b2ff" stroke-width="1.8"/>
<path d="M419.58,266.35 A70.5,70.5 0 0 0 396.75,291.7" fill="none" stroke="#00b2ff" stroke-width="1.8"/>
</g>
<g filter="url(#gblur)">
<path d="M493.2,324.8 A34.2,34.2 0 0 0 493.13,322.65" fill="none" stroke="#a3ff5b" stroke-width="1.8"/>
<path d="M493.15,323.01 A34.2,34.2 0 0 0 492.97,320.87" fill="none" stroke="#84ff7a" stroke-width="1.8"/>
<path d="M493.01,321.23 A34.2,34.2 0 0 0 492.72,319.1" fill="none" stroke="#65ff99" stroke-width="1.8"/>
<path d="M492.78,319.45 A34.2,34.2 0 0 0 492.38,317.34" fill="none" stroke="#47ffb7" stroke-width="1.8"/>
<path d="M492.45,317.69 A34.2,34.2 0 0 0 491.94,315.6" fill="none" stroke="#28ffd6" stroke-width="1.8"/>
<path d="M492.03,315.95 A34.2,34.2 0 0 0 491.41,313.89" fill="none" stroke="#0afff4" stroke-width="1.8"/>
<path d="M491.53,314.23 A34.2,34.2 0 0 0 490.8,312.21" fill="none" stroke="#00eaff" stroke-width="1.8"/>
<path d="M490.93,312.54 A34.2,34.2 0 0 0 490.1,310.56" fill="none" stroke="#00dcff" stroke-width="1.8"/>
<path d="M490.24,310.89 A34.2,34.2 0 0 0 489.31,308.96" fill="none" stroke="#00deff" stroke-width="1.8"/>
<path d="M489.47,309.27 A34.2,34.2 0 0 0 488.44,307.39" fill="none" stroke="#00dfff" stroke-width="1.8"/>
<path d="M488.62,307.7 A34.2,34.2 0 0 0 487.49,305.87" fill="none" stroke="#00e1ff" stroke-width="1.8"/>
<path d="M487.68,306.17 A34.2,34.2 0 0 0 486.46,304.41" fill="none" stroke="#00e3ff" stroke-width="1.8"/>
<path d="M486.67,304.7 A34.2,34.2 0 0 0 485.35,303" fill="none" stroke="#00e4ff" stroke-width="1.8"/>
<path d="M485.58,303.28 A34.2,34.2 0 0 0 484.17,301.65" fill="none" stroke="#00e6ff" stroke-width="1.8"/>
<path d="M484.42,301.92 A34.2,34.2 0 0 0 482.93,300.37" fill="none" stroke="#00e7ff" stroke-width="1.8"/>
<path d="M483.18,300.62 A34.2,34.2 0 0 0 481.62,299.15" fill="none" stroke="#00e9ff" stroke-width="1.8"/>
<path d="M481.88,299.38 A34.2,34.2 0 0 0 480.24,298" fill="none" stroke="#00ebff" stroke-width="1.8"/>
<path d="M480.52,298.22 A34.2,34.2 0 0 0 478.81,296.92" fill="none" stroke="#00ecff" stroke-width="1.8"/>
<path d="M479.1,297.13 A34.2,34.2 0 0 0 477.33,295.92" fill="none" stroke="#00eeff" stroke-width="1.8"/>
<path d="M477.63,296.12 A34.2,34.2 0 0 0 475.79,295" fill="none" stroke="#00efff" stroke-width="1.8"/>
<path d="M476.1,295.18 A34.2,34.2 0 0 0 474.21,294.17" fill="none" stroke="#00efff" stroke-width="1.8"/>
<path d="M474.53,294.33 A34.2,34.2 0 0 0 472.58,293.41" fill="none" stroke="#00efff" stroke-width="1.8"/>
<path d="M472.91,293.56 A34.2,34.2 0 0 0 470.92,292.74" fill="none" stroke="#01fffd" stroke-width="1.8"/>
<path d="M471.26,292.87 A34.2,34.2 0 0 0 469.23,292.16" fill="none" stroke="#21ffdd" stroke-width="1.8"/>
<path d="M469.57,292.27 A34.2,34.2 0 0 0 467.51,291.67" fill="none" stroke="#42ffbc" stroke-width="1.8"/>
<path d="M467.85,291.77 A34.2,34.2 0 0 0 465.76,291.27" fill="none" stroke="#c2ff3c" stroke-width="1.8"/>
<path d="M466.11,291.35 A34.2,34.2 0 0 0 464,290.97" fill="none" stroke="#ffb200" stroke-width="1.8"/>
<path d="M464.35,291.02 A34.2,34.2 0 0 0 462.22,290.75" fill="none" stroke="#ff0f00" stroke-width="2.6"/>
<path d="M462.57,290.79 A34.2,34.2 0 0 0 460.43,290.63" fill="none" stroke="#bc0000" stroke-width="2.6"/>
<path d="M460.79,290.65 A34.2,34.2 0 0 0 458.64,290.6" fill="none" stroke="#8f0000" stroke-width="2.6"/>
<path d="M459,290.6 A34.2,34.2 0 0 0 456.85,290.67" fill="none" stroke="#8f0000" stroke-width="2.6"/>
<path d="M457.21,290.65 A34.2,34.2 0 0 0 455.07,290.83" fill="none" stroke="#bc0000" stroke-width="2.6"/>
<path d="M455.43,290.79 A34.2,34.2 0 0 0 453.3,291.08" fill="none" stroke="#ff0f00" stroke-width="2.6"/>
<path d="M453.65,291.02 A34.2,34.2 0 0 0 451.54,291.42" fill="none" stroke="#ffb200" stroke-width="1.8"/>
<path d="M451.89,291.35 A34.2,34.2 0 0 0 449.8,291.86" fill="none" stroke="#c2ff3c" stroke-width="1.8"/>
<path d="M450.15,291.77 A34.2,34.2 0 0 0 448.09,292.39" fill="none" stroke="#42ffbc" stroke-width="1.8"/>
<path d="M448.43,292.27 A34.2,34.2 0 0 0 446.41,293" fill="none" stroke="#21ffdd" stroke-width="1.8"/>
<path d="M446.74,292.87 A34.2,34.2 0 0 0 444.76,293.7" fill="none" stroke="#01fffd" stroke-width="1.8"/>
<path d="M445.09,293.56 A34.2,34.2 0 0 0 443.16,294.49" fill="none" stroke="#00efff" stroke-width="1.8"/>
<path d="M443.47,294.33 A34.2,34.2 0 0 0 441.59,295.36" fill="none" stroke="#00efff" stroke-width="1.8"/>
<path d="M441.9,295.18 A34.2,34.2 0 0 0 440.07,296.31" fill="none" stroke="#00efff" stroke-width="1.8"/>
<path d="M440.37,296.12 A34.2,34.2 0 0 0 438.61,297.34" fill="none" stroke="#00eeff" stroke-width="1.8"/>
<path d="M438.9,297.13 A34.2,34.2 0 0 0 437.2,298.45" fill="none" stroke="#00ecff" stroke-width="1.8"/>
<path d="M437.48,298.22 A34.2,34.2 0 0 0 435.85,299.63" fill="none" stroke="#00ebff" stroke-width="1.8"/>
<path d="M436.12,299.38 A34.2,34.2 0 0 0 434.57,300.87" fill="none" stroke="#00e9ff" stroke-width="1.8"/>
<path d="M434.82,300.62 A34.2,34.2 0 0 0 433.35,302.18" fill="none" stroke="#00e7ff" stroke-width="1.8"/>
<path d="M433.58,301.92 A34.2,34.2 0 0 0 432.2,303.56" fill="none" stroke="#00e6ff" stroke-width="1.8"/>
<path d="M432.42,303.28 A34.2,34.2 0 0 0 431.12,304.99" fill="none" stroke="#00e4ff" stroke-width="1.8"/>
<path d="M431.33,304.7 A34.2,34.2 0 0 0 430.12,306.47" fill="none" stroke="#00e3ff" stroke-width="1.8"/>
<path d="M430.32,306.17 A34.2,34.2 0 0 0 429.2,308.01" fill="none" stroke="#00e1ff" stroke-width="1.8"/>
<path d="M429.38,307.7 A34.2,34.2 0 0 0 428.37,309.59" fill="none" stroke="#00dfff" stroke-width="1.8"/>
<path d="M428.53,309.27 A34.2,34.2 0 0 0 427.61,311.22" fill="none" stroke="#00deff" stroke-width="1.8"/>
<path d="M427.76,310.89 A34.2,34.2 0 0 0 426.94,312.88" fill="none" stroke="#00dcff" stroke-width="1.8"/>
<path d="M427.07,312.54 A34.2,34.2 0 0 0 426.36,314.57" fill="none" stroke="#00eaff" stroke-width="1.8"/>
<path d="M426.47,314.23 A34.2,34.2 0 0 0 425.87,316.29" fill="none" stroke="#0afff4" stroke-width="1.8"/>
<path d="M425.97,315.95 A34.2,34.2 0 0 0 425.47,318.04" fill="none" stroke="#28ffd6" stroke-width="1.8"/>
<path d="M425.55,317.69 A34.2,34.2 0 0 0 425.17,319.8" fill="none" stroke="#47ffb7" stroke-width="1.8"/>
<path d="M425.22,319.45 A34.2,34.2 0 0 0 424.95,321.58" fill="none" stroke="#65ff99" stroke-width="1.8"/>
<path d="M424.99,321.23 A34.2,34.2 0 0 0 424.83,323.37" fill="none" stroke="#84ff7a" stroke-width="1.8"/>
<path d="M424.85,323.01 A34.2,34.2 0 0 0 424.8,325.16" fill="none" stroke="#a3ff5b" stroke-width="1.8"/>
</g>
<ellipse cx="459" cy="320.4" rx="1.6" ry="6" fill="#00b2ff" filter="url(#gblur)"/>
<ellipse cx="459" cy="320.4" rx="0.7" ry="4" fill="#b2ff4c" filter="url(#gblur)"/>
<path d="M457.9,321.4 L459,317.8 L460.1,321.4 Z" fill="#b00000"/>
<rect x="385.2" y="257.55" width="144.1" height="1.5" fill="#020630" fill-opacity="0.92"/>
<rect x="385.2" y="278.95" width="144.1" height="1.5" fill="#020630" fill-opacity="0.92"/>
<rect x="385.2" y="300.25" width="144.1" height="1.5" fill="#020630" fill-opacity="0.92"/>
<rect x="436.5" y="253.5" width="1" height="67.9" fill="#02083a" fill-opacity="0.85"/>
<rect x="487.1" y="253.5" width="1" height="67.9" fill="#02083a" fill-opacity="0.85"/>
</g>
<rect x="385.2" y="253.5" width="144.1" height="67.9" fill="none" stroke="#888" stroke-width="0.6"/>
<rect x="533.5" y="253.5" width="5.9" height="67.9" fill="url(#cbar)"/>
<text x="536.6" y="251.9" font-size="8.6" font-weight="normal" fill="#222" text-anchor="middle" >5k</text>
<text x="537.4" y="328.8" font-size="8.6" font-weight="normal" fill="#222" text-anchor="middle" >0</text>
<text x="390.7" y="268.3" font-size="12" font-weight="bold" fill="#fff">DO-SnO<tspan font-size="8" dy="2.5">2</tspan></text>
<line x1="381.7" y1="258.3" x2="385.2" y2="258.3" stroke="#555" stroke-width="0.8"/>
<text x="380.4" y="261.9" font-size="10" font-weight="normal" fill="#1a1a1a" text-anchor="end" stroke="#1a1a1a" stroke-width="0.25">2.0</text>
<line x1="381.7" y1="291.4" x2="385.2" y2="291.4" stroke="#555" stroke-width="0.8"/>
<text x="380.4" y="295" font-size="10" font-weight="normal" fill="#1a1a1a" text-anchor="end" stroke="#1a1a1a" stroke-width="0.25">1.0</text>
<line x1="385.2" y1="321.4" x2="385.2" y2="324.9" stroke="#555" stroke-width="0.8"/>
<text x="385.2" y="335.4" font-size="10" font-weight="normal" fill="#1a1a1a" text-anchor="middle" stroke="#1a1a1a" stroke-width="0.25">−2</text>
<line x1="423.7" y1="321.4" x2="423.7" y2="324.9" stroke="#555" stroke-width="0.8"/>
<text x="423.7" y="335.4" font-size="10" font-weight="normal" fill="#1a1a1a" text-anchor="middle" stroke="#1a1a1a" stroke-width="0.25">−1</text>
<line x1="455.3" y1="321.4" x2="455.3" y2="324.9" stroke="#555" stroke-width="0.8"/>
<text x="455.3" y="335.4" font-size="10" font-weight="normal" fill="#1a1a1a" text-anchor="middle" stroke="#1a1a1a" stroke-width="0.25">2</text>
<line x1="493" y1="321.4" x2="493" y2="324.9" stroke="#555" stroke-width="0.8"/>
<text x="493" y="335.4" font-size="10" font-weight="normal" fill="#1a1a1a" text-anchor="middle" stroke="#1a1a1a" stroke-width="0.25">1</text>
<line x1="529.3" y1="321.4" x2="529.3" y2="324.9" stroke="#555" stroke-width="0.8"/>
<text x="529.3" y="335.4" font-size="10" font-weight="normal" fill="#1a1a1a" text-anchor="middle" stroke="#1a1a1a" stroke-width="0.25">2</text>
<text transform="translate(363.6,289) rotate(-90)" font-size="10" fill="#1a1a1a" stroke="#1a1a1a" stroke-width="0.2" text-anchor="middle">q<tspan font-size="6.2" dy="2">z</tspan><tspan dy="-2"> (Å</tspan><tspan font-size="6.2" dy="-3.2">-1</tspan><tspan dy="3.2">)</tspan></text>
<text x="461.4" y="343.7" font-size="10" fill="#1a1a1a" stroke="#1a1a1a" stroke-width="0.2" text-anchor="middle">q<tspan font-size="6.2" dy="2">xy</tspan><tspan dy="-2"> (Å</tspan><tspan font-size="6.2" dy="-3.2">-1</tspan><tspan dy="3.2">)</tspan></text>
<g filter="url(#semblur)"><g clip-path="url(#s1)">
<rect x="27" y="160" width="115" height="78" fill="#7a7a7a"/>
<polygon points="35.2,162.1 29.9,161.9 27.2,161.7 27.1,161.6 27,161.2 27,160.4 29.8,160 35.4,160 38.1,160.6 37.9,161.7" fill="rgb(111,111,111)" stroke="#505050" stroke-width="0.75"/>
<polygon points="35.2,162.1 29.9,161.9 27.2,161.7 27.1,161.6 27,161.2 27,160.4 29.8,160 35.4,160 38.1,160.6 37.9,161.7" fill="url(#sh3)" fill-opacity="0.4"/>
<polyline points="27.7,161.2 27.7,160.5 30.1,160.2 34.8,160.2 37.1,160.7 36.9,161.6 34.6,162" fill="none" stroke="#f4f4f4" stroke-opacity="0.65" stroke-width="1.1" stroke-linecap="round"/>
<polygon points="41.1,162.4 47.5,162.5 51,161.9 51.6,160.6 48.5,160 41.6,160 38.1,160.6 37.9,161.7 37.8,162.3 37.9,162.3" fill="rgb(132,132,132)" stroke="#505050" stroke-width="0.75"/>
<polygon points="41.1,162.4 47.5,162.5 51,161.9 51.6,160.6 48.5,160 41.6,160 38.1,160.6 37.9,161.7 37.8,162.3 37.9,162.3" fill="url(#sh2)" fill-opacity="0.4"/>
<polyline points="50,161.8 50.6,160.7 47.9,160.2 41.9,160.2 38.8,160.7" fill="none" stroke="#f4f4f4" stroke-opacity="0.65" stroke-width="1.1" stroke-linecap="round"/>
<polygon points="81,160.7 79.8,162.1 78.4,162.1 76.8,160.7 77.4,160 80.1,160" fill="rgb(132,132,132)" stroke="#505050" stroke-width="0.75"/>
<polygon points="81,160.7 79.8,162.1 78.4,162.1 76.8,160.7 77.4,160 80.1,160" fill="url(#sh0)" fill-opacity="0.4"/>
<polyline points="79.7,160.4 80.2,160.8 79.4,161.7 78.6,161.7" fill="none" stroke="#f4f4f4" stroke-opacity="0.65" stroke-width="1.1" stroke-linecap="round"/>
<polygon points="105.3,160 106.1,160.1 106.5,160.1 106.6,160 106.2,160 105.3,160" fill="rgb(126,126,126)" stroke="#505050" stroke-width="0.75"/>
<polygon points="105.3,160 106.1,160.1 106.5,160.1 106.6,160 106.2,160 105.3,160" fill="url(#sh2)" fill-opacity="0.4"/>
<polyline points="106,160.1 106.3,160.1 106.3,160 106.1,160 105.7,160" fill="none" stroke="#f4f4f4" stroke-opacity="0.65" stroke-width="1.1" stroke-linecap="round"/>
<polygon points="121.2,161.1 120.7,163.2 118.3,163.2 114,161.1 114.3,160 119.1,160" fill="rgb(115,115,115)" stroke="#505050" stroke-width="0.75"/>
<polygon points="121.2,161.1 120.7,163.2 118.3,163.2 114,161.1 114.3,160 119.1,160" fill="url(#sh3)" fill-opacity="0.4"/>
<polyline points="118.2,162.8 114.9,161.1 115.1,160.3" fill="none" stroke="#f4f4f4" stroke-opacity="0.65" stroke-width="1.1" stroke-linecap="round"/>
<polygon points="140,160.1 139.6,160.4 139.2,160.4 139,160.1 139.2,160 139.9,160" fill="rgb(117,117,117)" stroke="#505050" stroke-width="0.75"/>
<polygon points="140,160.1 139.6,160.4 139.2,160.4 139,160.1 139.2,160 139.9,160" fill="url(#sh2)" fill-opacity="0.4"/>
<polyline points="139.7,160.2 139.5,160.3 139.4,160.3" fill="none" stroke="#f4f4f4" stroke-opacity="0.65" stroke-width="1.1" stroke-linecap="round"/>
<polygon points="27.1,170 27.3,169.7 27.4,167.6 27.3,163.7 27.2,161.7 27.1,161.6 27,163.7 27,167.9" fill="rgb(112,112,112)" stroke="#505050" stroke-width="0.75"/>
<polygon points="27.1,170 27.3,169.7 27.4,167.6 27.3,163.7 27.2,161.7 27.1,161.6 27,163.7 27,167.9" fill="url(#sh1)" fill-opacity="0.4"/>
<polyline points="27.1,162.5 27,164.1 27,167.5 27.1,169 27.3,168.9 27.3,167.2" fill="none" stroke="#f4f4f4" stroke-opacity="0.65" stroke-width="1.1" stroke-linecap="round"/>
<polygon points="38.2,165.2 38.7,171 38.9,173.9 38.8,174 35.9,173 30.3,170.7 27.4,167.6 27.3,163.7 29.9,161.9 35.2,162.1 37.8,162.3 37.9,162.3" fill="rgb(131,131,131)" stroke="#505050" stroke-width="0.75"/>
<polygon points="38.2,165.2 38.7,171 38.9,173.9 38.8,174 35.9,173 30.3,170.7 27.4,167.6 27.3,163.7 29.9,161.9 35.2,162.1 37.8,162.3 37.9,162.3" fill="url(#sh3)" fill-opacity="0.4"/>
<polyline points="30.4,162.4 35.1,162.7 37.5,162.8 37.6,162.9 37.8,165.5 38.3,170.6 38.4,173.2 38.3,173.3 35.8,172.4" fill="none" stroke="#f4f4f4" stroke-opacity="0.65" stroke-width="1.1" stroke-linecap="round"/>
<polygon points="38.2,165.2 38.7,171 41.3,173.8 45.9,173.7 49.1,172.7 50.7,171 51.3,168.2 50.9,164.4 47.5,162.5 41.1,162.4" fill="rgb(113,113,113)" stroke="#505050" stroke-width="0.75"/>
<polygon points="38.2,165.2 38.7,171 41.3,173.8 45.9,173.7 49.1,172.7 50.7,171 51.3,168.2 50.9,164.4 47.5,162.5 41.1,162.4" fill="url(#sh1)" fill-opacity="0.4"/>
<polyline points="50.7,168.2 50.3,164.8 47.3,163.1 41.5,163 38.9,165.6 39.4,170.7 41.7,173.3 45.9,173.2" fill="none" stroke="#f4f4f4" stroke-opacity="0.65" stroke-width="1.1" stroke-linecap="round"/>
<polygon points="62.2,163 63.6,168.9 64.3,171.9 64.2,172 61,171.6 54.7,170.6 51.3,168.2 50.9,164.4 51,161.9 51.6,160.6 54.4,160 59.1,160" fill="rgb(145,145,145)" stroke="#505050" stroke-width="0.75"/>
<polygon points="62.2,163 63.6,168.9 64.3,171.9 64.2,172 61,171.6 54.7,170.6 51.3,168.2 50.9,164.4 51,161.9 51.6,160.6 54.4,160 59.1,160" fill="url(#sh0)" fill-opacity="0.4"/>
<polyline points="61.8,163.3 63,168.7 63.7,171.4 63.6,171.5 60.7,171 55,170.2" fill="none" stroke="#f4f4f4" stroke-opacity="0.65" stroke-width="1.1" stroke-linecap="round"/>
<polygon points="79.2,164.3 79.2,167.2 78.8,168.9 77.9,169.6 74.2,170.4 67.6,171.4 63.6,168.9 62.2,163 65.1,160 72.3,160 76.8,160.7 78.4,162.1" fill="rgb(140,140,140)" stroke="#505050" stroke-width="0.75"/>
<polygon points="79.2,164.3 79.2,167.2 78.8,168.9 77.9,169.6 74.2,170.4 67.6,171.4 63.6,168.9 62.2,163 65.1,160 72.3,160 76.8,160.7 78.4,162.1" fill="url(#sh1)" fill-opacity="0.4"/>
<polyline points="68.1,170.9 64.5,168.6 63.2,163.2 65.8,160.5 72.4,160.5" fill="none" stroke="#f4f4f4" stroke-opacity="0.65" stroke-width="1.1" stroke-linecap="round"/>
<polygon points="82.2,170.2 80.2,169.2 79.2,167.2 79.2,164.3 79.8,162.1 81,160.7 85.8,160 94.2,160 97.3,162.2 95.1,166.5 91.3,169.1 85.9,170.2" fill="rgb(122,122,122)" stroke="#505050" stroke-width="0.75"/>
<polygon points="82.2,170.2 80.2,169.2 79.2,167.2 79.2,164.3 79.8,162.1 81,160.7 85.8,160 94.2,160 97.3,162.2 95.1,166.5 91.3,169.1 85.9,170.2" fill="url(#sh3)" fill-opacity="0.4"/>
<polyline points="81.4,161.1 85.8,160.5 93.4,160.5 96.3,162.4 94.3,166.3 90.9,168.8 85.9,169.7 82.6,169.8" fill="none" stroke="#f4f4f4" stroke-opacity="0.65" stroke-width="1.1" stroke-linecap="round"/>
<polygon points="101.5,171.8 105.5,168.5 107.2,165.2 106.7,161.8 106.1,160.1 105.3,160 103.3,160 100,160 97.3,162.2 95.1,166.5 95.4,169.8 98.1,172.2" fill="rgb(134,134,134)" stroke="#505050" stroke-width="0.75"/>
<polygon points="101.5,171.8 105.5,168.5 107.2,165.2 106.7,161.8 106.1,160.1 105.3,160 103.3,160 100,160 97.3,162.2 95.1,166.5 95.4,169.8 98.1,172.2" fill="url(#sh2)" fill-opacity="0.4"/>
<polyline points="98.5,171.5 101.5,171.1 105.1,168.1 106.7,165.2 106.2,162.2 105.6,160.6" fill="none" stroke="#f4f4f4" stroke-opacity="0.65" stroke-width="1.1" stroke-linecap="round"/>
<polygon points="114,161.1 118.3,163.2 121.2,166.3 122.9,170.3 121,172.4 115.6,172.5 111.5,171.1 108.8,168.3 107.2,165.2 106.7,161.8 106.5,160.1 106.6,160 108,160 110.6,160" fill="rgb(121,121,121)" stroke="#505050" stroke-width="0.75"/>
<polygon points="114,161.1 118.3,163.2 121.2,166.3 122.9,170.3 121,172.4 115.6,172.5 111.5,171.1 108.8,168.3 107.2,165.2 106.7,161.8 106.5,160.1 106.6,160 108,160 110.6,160" fill="url(#sh2)" fill-opacity="0.4"/>
<polyline points="107.3,162.1 107.1,160.6 107.2,160.5 108.4,160.5 110.8,160.5 113.9,161.4 117.8,163.4 120.5,166.2" fill="none" stroke="#f4f4f4" stroke-opacity="0.65" stroke-width="1.1" stroke-linecap="round"/>
<polygon points="124.2,172.6 125,173.1 125.7,173.2 126.2,173 127.2,169.7 128.6,163.2 127.4,160 123.4,160 121.2,161.1 120.7,163.2 121.2,166.3 122.9,170.3" fill="rgb(116,116,116)" stroke="#505050" stroke-width="0.75"/>
<polygon points="124.2,172.6 125,173.1 125.7,173.2 126.2,173 127.2,169.7 128.6,163.2 127.4,160 123.4,160 121.2,161.1 120.7,163.2 121.2,166.3 122.9,170.3" fill="url(#sh0)" fill-opacity="0.4"/>
<polyline points="126,172.3 126.9,169.4 128.2,163.7 127.1,160.8 123.6,160.8" fill="none" stroke="#f4f4f4" stroke-opacity="0.65" stroke-width="1.1" stroke-linecap="round"/>
<polygon points="135.3,172.1 129.4,172.7 127.2,169.7 128.6,163.2 131.7,160 136.5,160 139,160.1 139.2,160.4 139.6,162.9 140,167.6 139.7,170.4 138.7,171.4" fill="rgb(145,145,145)" stroke="#505050" stroke-width="0.75"/>
<polygon points="135.3,172.1 129.4,172.7 127.2,169.7 128.6,163.2 131.7,160 136.5,160 139,160.1 139.2,160.4 139.6,162.9 140,167.6 139.7,170.4 138.7,171.4" fill="url(#sh2)" fill-opacity="0.4"/>
<polyline points="128,169.3 129.3,163.5 132.1,160.6 136.4,160.6 138.6,160.7 138.9,161" fill="none" stroke="#f4f4f4" stroke-opacity="0.65" stroke-width="1.1" stroke-linecap="round"/>
<polygon points="140,167.6 139.6,162.9 139.6,160.4 140,160.1 140.7,160 141.6,160 142,162.4 142,167.3 141.5,169.8 140.6,169.9" fill="rgb(149,149,149)" stroke="#505050" stroke-width="0.75"/>
<polygon points="140,167.6 139.6,162.9 139.6,160.4 140,160.1 140.7,160 141.6,160 142,162.4 142,167.3 141.5,169.8 140.6,169.9" fill="url(#sh0)" fill-opacity="0.4"/>
<polyline points="140.1,160.8 140.7,160.7 141.4,160.7 141.8,162.7 141.8,166.8 141.4,168.8 140.6,168.9" fill="none" stroke="#f4f4f4" stroke-opacity="0.65" stroke-width="1.1" stroke-linecap="round"/>
<polygon points="29.7,180.6 35.2,177.5 38.1,175.4 38.5,174.5 35.9,173 30.3,170.7 27.3,169.7 27.1,170 27,173.1 27,179.2" fill="rgb(111,111,111)" stroke="#505050" stroke-width="0.75"/>
<polygon points="29.7,180.6 35.2,177.5 38.1,175.4 38.5,174.5 35.9,173 30.3,170.7 27.3,169.7 27.1,170 27,173.1 27,179.2" fill="url(#sh2)" fill-opacity="0.4"/>
<polyline points="37.4,175.3 37.7,174.5 35.4,173.1 30.4,171.1 27.8,170.3 27.6,170.5" fill="none" stroke="#f4f4f4" stroke-opacity="0.65" stroke-width="1.1" stroke-linecap="round"/>
<polygon points="48.3,181.2 43,182.5 39.7,181.4 38.5,177.7 38.1,175.4 38.5,174.5 38.8,174 38.9,173.9 41.3,173.8 45.9,173.7 49,175.4 50.3,178.8" fill="rgb(113,113,113)" stroke="#505050" stroke-width="0.75"/>
<polygon points="48.3,181.2 43,182.5 39.7,181.4 38.5,177.7 38.1,175.4 38.5,174.5 38.8,174 38.9,173.9 41.3,173.8 45.9,173.7 49,175.4 50.3,178.8" fill="url(#sh2)" fill-opacity="0.4"/>
<polyline points="39.3,174.3 41.4,174.2 45.5,174.1 48.2,175.6 49.3,178.6 47.6,180.7 42.9,181.8" fill="none" stroke="#f4f4f4" stroke-opacity="0.65" stroke-width="1.1" stroke-linecap="round"/>
<polygon points="50.3,178.8 49,175.4 49.1,172.7 50.7,171 54.7,170.6 61,171.6 63.5,175 62.3,180.8 59.5,183.7 55.2,183.9 52.6,183.1 51.5,181.4" fill="rgb(121,121,121)" stroke="#505050" stroke-width="0.75"/>
<polygon points="50.3,178.8 49,175.4 49.1,172.7 50.7,171 54.7,170.6 61,171.6 63.5,175 62.3,180.8 59.5,183.7 55.2,183.9 52.6,183.1 51.5,181.4" fill="url(#sh0)" fill-opacity="0.4"/>
<polyline points="51.1,171.6 54.7,171.2 60.4,172.1 62.7,175.2 61.6,180.4 59.1,183.1" fill="none" stroke="#f4f4f4" stroke-opacity="0.65" stroke-width="1.1" stroke-linecap="round"/>
<polygon points="62.4,184.5 63.8,186.3 64.8,187.2 65.4,187.3 68.1,186.1 72.8,183.6 75.7,179.2 76.9,173 74.2,170.4 67.6,171.4 64.3,171.9 64.2,172 63.5,175 62.3,180.8" fill="rgb(129,129,129)" stroke="#505050" stroke-width="0.75"/>
<polygon points="62.4,184.5 63.8,186.3 64.8,187.2 65.4,187.3 68.1,186.1 72.8,183.6 75.7,179.2 76.9,173 74.2,170.4 67.6,171.4 64.3,171.9 64.2,172 63.5,175 62.3,180.8" fill="url(#sh3)" fill-opacity="0.4"/>
<polyline points="75,179.2 76.1,173.5 73.6,171.1 67.6,172 64.6,172.5 64.5,172.6 63.9,175.3 62.7,180.6 62.8,184.1" fill="none" stroke="#f4f4f4" stroke-opacity="0.65" stroke-width="1.1" stroke-linecap="round"/>
<polygon points="87.2,184.6 81.8,185.9 78.1,185.5 76.2,183.4 75.7,179.2 76.9,173 77.9,169.6 78.8,168.9 80.2,169.2 82.2,170.2 84.9,174 88.3,180.7" fill="rgb(139,139,139)" stroke="#505050" stroke-width="0.75"/>
<polygon points="87.2,184.6 81.8,185.9 78.1,185.5 76.2,183.4 75.7,179.2 76.9,173 77.9,169.6 78.8,168.9 80.2,169.2 82.2,170.2 84.9,174 88.3,180.7" fill="url(#sh1)" fill-opacity="0.4"/>
<polyline points="86.7,184 81.7,185.2 78.4,184.8 76.5,182.9 76.2,179 77.2,173.4 78.1,170.2" fill="none" stroke="#f4f4f4" stroke-opacity="0.65" stroke-width="1.1" stroke-linecap="round"/>
<polygon points="100.1,177.4 99.7,174.8 98.1,172.2 95.4,169.8 91.3,169.1 85.9,170.2 84.9,174 88.3,180.7 90.6,184.4 91.8,185.4 92.8,185.8 93.4,185.7 95,184.6 97.5,182.5 99.1,180.8 99.9,179.4" fill="rgb(128,128,128)" stroke="#505050" stroke-width="0.75"/>
<polygon points="100.1,177.4 99.7,174.8 98.1,172.2 95.4,169.8 91.3,169.1 85.9,170.2 84.9,174 88.3,180.7 90.6,184.4 91.8,185.4 92.8,185.8 93.4,185.7 95,184.6 97.5,182.5 99.1,180.8 99.9,179.4" fill="url(#sh0)" fill-opacity="0.4"/>
<polyline points="94.9,184.1 97.2,182.2 98.6,180.6 99.4,179.4 99.5,177.5 99.1,175.1 97.7,172.8 95.3,170.6" fill="none" stroke="#f4f4f4" stroke-opacity="0.65" stroke-width="1.1" stroke-linecap="round"/>
<polygon points="100.1,177.4 99.7,174.8 101.5,171.8 105.5,168.5 108.8,168.3 111.5,171.1 111.9,173.9 109.9,176.6 106.8,178.2 102.5,178.6" fill="rgb(139,139,139)" stroke="#505050" stroke-width="0.75"/>
<polygon points="100.1,177.4 99.7,174.8 101.5,171.8 105.5,168.5 108.8,168.3 111.5,171.1 111.9,173.9 109.9,176.6 106.8,178.2 102.5,178.6" fill="url(#sh1)" fill-opacity="0.4"/>
<polyline points="111.2,173.9 109.4,176.3 106.7,177.7 102.9,178 100.8,177 100.4,174.7" fill="none" stroke="#f4f4f4" stroke-opacity="0.65" stroke-width="1.1" stroke-linecap="round"/>
<polygon points="116,187 121.3,185 124.3,181.4 125.1,176 125,173.1 124.2,172.6 121,172.4 115.6,172.5 111.9,173.9 109.9,176.6 110.1,180.5 112.3,185.5" fill="rgb(122,122,122)" stroke="#505050" stroke-width="0.75"/>
<polygon points="116,187 121.3,185 124.3,181.4 125.1,176 125,173.1 124.2,172.6 121,172.4 115.6,172.5 111.9,173.9 109.9,176.6 110.1,180.5 112.3,185.5" fill="url(#sh1)" fill-opacity="0.4"/>
<polyline points="123.7,173 120.8,172.8 115.8,172.9 112.4,174.2 110.6,176.7 110.7,180.3 112.7,184.9 116.2,186.2" fill="none" stroke="#f4f4f4" stroke-opacity="0.65" stroke-width="1.1" stroke-linecap="round"/>
<polygon points="135.3,172.1 129.4,172.7 126.2,173 125.7,173.2 125.1,176 124.3,181.4 124.6,184.9 125.8,186.5 127.5,187.9 129.6,188.9 133,188.5 137.7,186.8 140.4,184.5 141,181.8 140.6,178.2 139,174" fill="rgb(131,131,131)" stroke="#505050" stroke-width="0.75"/>
<polygon points="135.3,172.1 129.4,172.7 126.2,173 125.7,173.2 125.1,176 124.3,181.4 124.6,184.9 125.8,186.5 127.5,187.9 129.6,188.9 133,188.5 137.7,186.8 140.4,184.5 141,181.8 140.6,178.2 139,174" fill="url(#sh3)" fill-opacity="0.4"/>
<polyline points="125.1,184.6 126.2,186.1 127.8,187.3 129.8,188.3 132.9,187.9 137.2,186.3 139.7,184.2 140.3,181.7 139.9,178.4" fill="none" stroke="#f4f4f4" stroke-opacity="0.65" stroke-width="1.1" stroke-linecap="round"/>
<polygon points="139,174 140.6,178.2 141.5,180.4 141.8,180.5 142,177.8 142,172.4 141.5,169.8 140.6,169.9 139.7,170.4 138.7,171.4" fill="rgb(113,113,113)" stroke="#505050" stroke-width="0.75"/>
<polygon points="139,174 140.6,178.2 141.5,180.4 141.8,180.5 142,177.8 142,172.4 141.5,169.8 140.6,169.9 139.7,170.4 138.7,171.4" fill="url(#sh0)" fill-opacity="0.4"/>
<polyline points="141.4,179.4 141.7,179.5 141.8,177.3 141.8,172.8" fill="none" stroke="#f4f4f4" stroke-opacity="0.65" stroke-width="1.1" stroke-linecap="round"/>
<polygon points="29.7,180.6 35.2,177.5 38.5,177.7 39.7,181.4 40.5,185.6 41.1,190.5 41,193 40.4,193.2 36.8,191.8 30.3,188.8 27,186 27,183.5" fill="rgb(136,136,136)" stroke="#505050" stroke-width="0.75"/>
<polygon points="29.7,180.6 35.2,177.5 38.5,177.7 39.7,181.4 40.5,185.6 41.1,190.5 41,193 40.4,193.2 36.8,191.8 30.3,188.8 27,186 27,183.5" fill="url(#sh0)" fill-opacity="0.4"/>
<polyline points="36.7,191.3 30.7,188.6 27.8,186 27.8,183.7 30.2,181.1 35.2,178.2 38.3,178.4 39.3,181.7 40.1,185.6" fill="none" stroke="#f4f4f4" stroke-opacity="0.65" stroke-width="1.1" stroke-linecap="round"/>
<polygon points="48.3,181.2 43,182.5 40.5,185.6 41.1,190.5 42.4,193.1 44.7,193.4 47.6,191.2 51.3,186.4 52.6,183.1 51.5,181.4" fill="rgb(111,111,111)" stroke="#505050" stroke-width="0.75"/>
<polygon points="48.3,181.2 43,182.5 40.5,185.6 41.1,190.5 42.4,193.1 44.7,193.4 47.6,191.2 51.3,186.4 52.6,183.1 51.5,181.4" fill="url(#sh3)" fill-opacity="0.4"/>
<polyline points="50.7,186.4 51.9,183.5 51,182 48.1,181.8" fill="none" stroke="#f4f4f4" stroke-opacity="0.65" stroke-width="1.1" stroke-linecap="round"/>
<polygon points="46,193.8 45.9,193.7 47.6,191.2 51.3,186.4 55.2,183.9 59.5,183.7 62.4,184.5 63.8,186.3 63.8,189.1 62.5,192.9 57.9,194.6 50,194.1" fill="rgb(113,113,113)" stroke="#505050" stroke-width="0.75"/>
<polygon points="46,193.8 45.9,193.7 47.6,191.2 51.3,186.4 55.2,183.9 59.5,183.7 62.4,184.5 63.8,186.3 63.8,189.1 62.5,192.9 57.9,194.6 50,194.1" fill="url(#sh2)" fill-opacity="0.4"/>
<polyline points="50.5,193.7 46.8,193.4 46.7,193.3 48.3,191 51.6,186.6 55.3,184.4" fill="none" stroke="#f4f4f4" stroke-opacity="0.65" stroke-width="1.1" stroke-linecap="round"/>
<polygon points="72,192.1 67.8,188.9 68.1,186.1 72.8,183.6 76.2,183.4 78.1,185.5 78.8,188.1 78,191.3 76.8,193 75,193.5" fill="rgb(122,122,122)" stroke="#505050" stroke-width="0.75"/>
<polygon points="72,192.1 67.8,188.9 68.1,186.1 72.8,183.6 76.2,183.4 78.1,185.5 78.8,188.1 78,191.3 76.8,193 75,193.5" fill="url(#sh2)" fill-opacity="0.4"/>
<polyline points="72.3,191.6 68.6,188.8 68.9,186.4 73,184.2 75.9,184.1 77.7,185.9 78.2,188.2 77.6,190.9" fill="none" stroke="#f4f4f4" stroke-opacity="0.65" stroke-width="1.1" stroke-linecap="round"/>
<polygon points="88.3,196 91.1,189.2 91.8,185.4 90.6,184.4 87.2,184.6 81.8,185.9 78.8,188.1 78,191.3 80,194.5 84.7,197.7" fill="rgb(124,124,124)" stroke="#505050" stroke-width="0.75"/>
<polygon points="88.3,196 91.1,189.2 91.8,185.4 90.6,184.4 87.2,184.6 81.8,185.9 78.8,188.1 78,191.3 80,194.5 84.7,197.7" fill="url(#sh3)" fill-opacity="0.4"/>
<polyline points="90.5,189.3 91.2,185.8 90.1,185 87,185.1 82.2,186.3 79.4,188.3" fill="none" stroke="#f4f4f4" stroke-opacity="0.65" stroke-width="1.1" stroke-linecap="round"/>
<polygon points="97.5,182.5 95,184.6 96.6,188.2 102.1,193.4 106.3,195.4 109,194.4 110.9,192.8 111.7,190.6 108.8,187.5 102.1,183.5" fill="rgb(130,130,130)" stroke="#505050" stroke-width="0.75"/>
<polygon points="97.5,182.5 95,184.6 96.6,188.2 102.1,193.4 106.3,195.4 109,194.4 110.9,192.8 111.7,190.6 108.8,187.5 102.1,183.5" fill="url(#sh1)" fill-opacity="0.4"/>
<polyline points="110.2,192.5 111,190.5 108.4,187.6 102.2,184 98.1,183.1 95.8,185 97.2,188.3" fill="none" stroke="#f4f4f4" stroke-opacity="0.65" stroke-width="1.1" stroke-linecap="round"/>
<polygon points="102.5,178.6 106.8,178.2 110.1,180.5 112.3,185.5 113.1,188.4 112.5,189.1 108.8,187.5 102.1,183.5 99.1,180.8 99.9,179.4" fill="rgb(115,115,115)" stroke="#505050" stroke-width="0.75"/>
<polygon points="102.5,178.6 106.8,178.2 110.1,180.5 112.3,185.5 113.1,188.4 112.5,189.1 108.8,187.5 102.1,183.5 99.1,180.8 99.9,179.4" fill="url(#sh1)" fill-opacity="0.4"/>
<polyline points="109.7,180.8 111.7,185.2 112.4,187.8 111.9,188.5 108.6,187 102.5,183.4 99.9,181" fill="none" stroke="#f4f4f4" stroke-opacity="0.65" stroke-width="1.1" stroke-linecap="round"/>
<polygon points="124.7,192 125.9,188.9 125.8,186.5 124.6,184.9 121.3,185 116,187 113.1,188.4 112.5,189.1 111.7,190.6 110.9,192.8 111.7,195.3 114.3,198.1 116,199.6 116.9,199.6 119,198.1 122.4,195.1" fill="rgb(133,133,133)" stroke="#505050" stroke-width="0.75"/>
<polygon points="124.7,192 125.9,188.9 125.8,186.5 124.6,184.9 121.3,185 116,187 113.1,188.4 112.5,189.1 111.7,190.6 110.9,192.8 111.7,195.3 114.3,198.1 116,199.6 116.9,199.6 119,198.1 122.4,195.1" fill="url(#sh1)" fill-opacity="0.4"/>
<polyline points="118.9,197.5 122,194.8 124.1,192 125.1,189.2 125.1,187 123.9,185.5 121,185.7 116.2,187.5 113.5,188.7 113,189.4 112.3,190.7 111.5,192.7" fill="none" stroke="#f4f4f4" stroke-opacity="0.65" stroke-width="1.1" stroke-linecap="round"/>
<polygon points="136.8,200.8 139.6,200.4 141.2,200 141.7,199.5 142,196.6 142,191.2 141.5,187.8 140.5,186.5 137.7,186.8 133,188.5 131.9,192.3 134.3,198.1" fill="rgb(127,127,127)" stroke="#505050" stroke-width="0.75"/>
<polygon points="136.8,200.8 139.6,200.4 141.2,200 141.7,199.5 142,196.6 142,191.2 141.5,187.8 140.5,186.5 137.7,186.8 133,188.5 131.9,192.3 134.3,198.1" fill="url(#sh3)" fill-opacity="0.4"/>
<polyline points="137.8,187.5 133.6,189.1 132.6,192.5 134.7,197.6 137,200.1 139.4,199.7 140.9,199.3" fill="none" stroke="#f4f4f4" stroke-opacity="0.65" stroke-width="1.1" stroke-linecap="round"/>
<polygon points="141.5,187.8 140.5,186.5 140.4,184.5 141,181.8 141.5,180.4 141.8,180.5 142,182.5 142,186.5" fill="rgb(116,116,116)" stroke="#505050" stroke-width="0.75"/>
<polygon points="141.5,187.8 140.5,186.5 140.4,184.5 141,181.8 141.5,180.4 141.8,180.5 142,182.5 142,186.5" fill="url(#sh1)" fill-opacity="0.4"/>
<polyline points="141.7,181.3 141.8,182.8 141.8,185.8 141.5,186.8 140.7,185.9" fill="none" stroke="#f4f4f4" stroke-opacity="0.65" stroke-width="1.1" stroke-linecap="round"/>
<polygon points="28.6,202.7 27.5,202.3 27,198.4 27,191 30.3,188.8 36.8,191.8 38.6,195.6 35.6,200.2 32.9,202.6 30.4,202.8" fill="rgb(118,118,118)" stroke="#505050" stroke-width="0.75"/>
<polygon points="28.6,202.7 27.5,202.3 27,198.4 27,191 30.3,188.8 36.8,191.8 38.6,195.6 35.6,200.2 32.9,202.6 30.4,202.8" fill="url(#sh2)" fill-opacity="0.4"/>
<polyline points="27.9,201.8 27.5,198.3 27.5,191.7 30.4,189.7" fill="none" stroke="#f4f4f4" stroke-opacity="0.65" stroke-width="1.1" stroke-linecap="round"/>
<polygon points="42.7,208.4 46.3,201.9 47.6,197.4 46.6,195 46,193.8 45.9,193.7 44.7,193.4 42.4,193.1 41,193 40.4,193.2 38.6,195.6 35.6,200.2 35.3,204.5 37.5,208.5 39.2,210.7 40.3,211.3" fill="rgb(135,135,135)" stroke="#505050" stroke-width="0.75"/>
<polygon points="42.7,208.4 46.3,201.9 47.6,197.4 46.6,195 46,193.8 45.9,193.7 44.7,193.4 42.4,193.1 41,193 40.4,193.2 38.6,195.6 35.6,200.2 35.3,204.5 37.5,208.5 39.2,210.7 40.3,211.3" fill="url(#sh0)" fill-opacity="0.4"/>
<polyline points="37.9,207.7 39.5,209.8 40.5,210.3 42.6,207.6 45.9,201.7 47.1,197.6 46.1,195.4 45.6,194.3 45.5,194.2 44.5,194" fill="none" stroke="#f4f4f4" stroke-opacity="0.65" stroke-width="1.1" stroke-linecap="round"/>
<polygon points="50,200.7 53.9,204.8 57.7,205.7 61.4,203.5 62.9,200.5 62.2,196.7 57.9,194.6 50,194.1 46.6,195 47.6,197.4" fill="rgb(113,113,113)" stroke="#505050" stroke-width="0.75"/>
<polygon points="50,200.7 53.9,204.8 57.7,205.7 61.4,203.5 62.9,200.5 62.2,196.7 57.9,194.6 50,194.1 46.6,195 47.6,197.4" fill="url(#sh3)" fill-opacity="0.4"/>
<polyline points="50.5,194.6 47.3,195.4 48.3,197.6 50.5,200.5" fill="none" stroke="#f4f4f4" stroke-opacity="0.65" stroke-width="1.1" stroke-linecap="round"/>
<polygon points="72,192.1 67.8,188.9 65.4,187.3 64.8,187.2 63.8,189.1 62.5,192.9 62.2,196.7 62.9,200.5 64.5,202.8 66.8,203.6 68.6,203.6 69.9,202.9 71.4,200.3 73.2,195.9" fill="rgb(144,144,144)" stroke="#505050" stroke-width="0.75"/>
<polygon points="72,192.1 67.8,188.9 65.4,187.3 64.8,187.2 63.8,189.1 62.5,192.9 62.2,196.7 62.9,200.5 64.5,202.8 66.8,203.6 68.6,203.6 69.9,202.9 71.4,200.3 73.2,195.9" fill="url(#sh2)" fill-opacity="0.4"/>
<polyline points="65,188 64.1,189.7 62.9,193.2 62.6,196.7 63.3,200.1" fill="none" stroke="#f4f4f4" stroke-opacity="0.65" stroke-width="1.1" stroke-linecap="round"/>
<polygon points="82.1,203.9 74.4,203 71.4,200.3 73.2,195.9 75,193.5 76.8,193 80,194.5 84.7,197.7 87.1,200.2 87.4,202 87.1,203.2 86.3,204" fill="rgb(147,147,147)" stroke="#505050" stroke-width="0.75"/>
<polygon points="82.1,203.9 74.4,203 71.4,200.3 73.2,195.9 75,193.5 76.8,193 80,194.5 84.7,197.7 87.1,200.2 87.4,202 87.1,203.2 86.3,204" fill="url(#sh3)" fill-opacity="0.4"/>
<polyline points="81.9,203.5 75,202.6 72.3,200.2 73.9,196.2 75.5,194 77.1,193.6 80,194.9" fill="none" stroke="#f4f4f4" stroke-opacity="0.65" stroke-width="1.1" stroke-linecap="round"/>
<polygon points="90,203.6 95,205.1 97.9,205.8 98.8,205.8 100.6,203.3 103.5,198.4 102.1,193.4 96.6,188.2 93.4,185.7 92.8,185.8 91.1,189.2 88.3,196 87.1,200.2 87.4,202" fill="rgb(144,144,144)" stroke="#505050" stroke-width="0.75"/>
<polygon points="90,203.6 95,205.1 97.9,205.8 98.8,205.8 100.6,203.3 103.5,198.4 102.1,193.4 96.6,188.2 93.4,185.7 92.8,185.8 91.1,189.2 88.3,196 87.1,200.2 87.4,202" fill="url(#sh3)" fill-opacity="0.4"/>
<polyline points="91.3,189.8 88.8,196.1 87.7,200 87.9,201.6 90.4,203.1 95,204.5 97.7,205.2 98.4,205.2 100.2,202.9" fill="none" stroke="#f4f4f4" stroke-opacity="0.65" stroke-width="1.1" stroke-linecap="round"/>
<polygon points="109,194.4 106.3,195.4 103.5,198.4 100.6,203.3 100.2,206.8 102.1,208.7 104.2,209.9 106.4,210.3 108.9,210 111.8,208.9 113.8,206.2 115,201.7 114.3,198.1 111.7,195.3" fill="rgb(118,118,118)" stroke="#505050" stroke-width="0.75"/>
<polygon points="109,194.4 106.3,195.4 103.5,198.4 100.6,203.3 100.2,206.8 102.1,208.7 104.2,209.9 106.4,210.3 108.9,210 111.8,208.9 113.8,206.2 115,201.7 114.3,198.1 111.7,195.3" fill="url(#sh1)" fill-opacity="0.4"/>
<polyline points="111.4,196 108.9,195.2 106.4,196.1 103.8,198.8 101.2,203.3 100.8,206.5 102.6,208.2 104.5,209.3 106.5,209.7 108.8,209.4" fill="none" stroke="#f4f4f4" stroke-opacity="0.65" stroke-width="1.1" stroke-linecap="round"/>
<polygon points="122.4,195.1 119,198.1 120.2,201.2 125.9,204.5 127.6,202.9 125.3,196.7" fill="rgb(132,132,132)" stroke="#505050" stroke-width="0.75"/>
<polygon points="122.4,195.1 119,198.1 120.2,201.2 125.9,204.5 127.6,202.9 125.3,196.7" fill="url(#sh1)" fill-opacity="0.4"/>
<polyline points="119.7,198.3 120.7,201 125.6,203.8" fill="none" stroke="#f4f4f4" stroke-opacity="0.65" stroke-width="1.1" stroke-linecap="round"/>
<polygon points="124.7,192 125.9,188.9 127.5,187.9 129.6,188.9 131.9,192.3 134.3,198.1 134.1,202.5 131.2,205.5 129.5,206.8 129,206.3 127.6,202.9 125.3,196.7" fill="rgb(133,133,133)" stroke="#505050" stroke-width="0.75"/>
<polygon points="124.7,192 125.9,188.9 127.5,187.9 129.6,188.9 131.9,192.3 134.3,198.1 134.1,202.5 131.2,205.5 129.5,206.8 129,206.3 127.6,202.9 125.3,196.7" fill="url(#sh1)" fill-opacity="0.4"/>
<polyline points="133.6,202 131,204.8 129.5,205.9 129,205.5 127.8,202.4 125.7,196.7 125.1,192.5" fill="none" stroke="#f4f4f4" stroke-opacity="0.65" stroke-width="1.1" stroke-linecap="round"/>
<polygon points="141.7,201.9 141.2,200.7 141.2,200 141.7,199.5 142,200.1 142,201.7" fill="rgb(121,121,121)" stroke="#505050" stroke-width="0.75"/>
<polygon points="141.7,201.9 141.2,200.7 141.2,200 141.7,199.5 142,200.1 142,201.7" fill="url(#sh3)" fill-opacity="0.4"/>
<polyline points="141.7,200.1 141.8,200.4 141.8,201.2" fill="none" stroke="#f4f4f4" stroke-opacity="0.65" stroke-width="1.1" stroke-linecap="round"/>
<polygon points="28.6,202.7 27.5,202.3 27,204.8 27,210.2 27.5,210.4 28.6,205.4" fill="rgb(143,143,143)" stroke="#505050" stroke-width="0.75"/>
<polygon points="28.6,202.7 27.5,202.3 27,204.8 27,210.2 27.5,210.4 28.6,205.4" fill="url(#sh2)" fill-opacity="0.4"/>
<polyline points="27.6,209.4 28.4,205.5 28.4,203.4" fill="none" stroke="#f4f4f4" stroke-opacity="0.65" stroke-width="1.1" stroke-linecap="round"/>
<polygon points="28.4,216 27.5,216 27,215.3 27,213.7 27.5,210.4 28.6,205.4 30.4,202.8 32.9,202.6 35.3,204.5 37.5,208.5 36.2,211.8 31.3,214.6" fill="rgb(116,116,116)" stroke="#505050" stroke-width="0.75"/>
<polygon points="28.4,216 27.5,216 27,215.3 27,213.7 27.5,210.4 28.6,205.4 30.4,202.8 32.9,202.6 35.3,204.5 37.5,208.5 36.2,211.8 31.3,214.6" fill="url(#sh2)" fill-opacity="0.4"/>
<polyline points="30.4,203.6 32.7,203.5 34.8,205.1 36.8,208.6 35.6,211.6 31.3,214.1 28.7,215.3" fill="none" stroke="#f4f4f4" stroke-opacity="0.65" stroke-width="1.1" stroke-linecap="round"/>
<polygon points="46.9,213.6 52.4,210.4 55.3,208.3 55.6,207.3 53.9,204.8 50,200.7 46.3,201.9 42.7,208.4 41.7,212.5 43.4,214.3" fill="rgb(143,143,143)" stroke="#505050" stroke-width="0.75"/>
<polygon points="46.9,213.6 52.4,210.4 55.3,208.3 55.6,207.3 53.9,204.8 50,200.7 46.3,201.9 42.7,208.4 41.7,212.5 43.4,214.3" fill="url(#sh0)" fill-opacity="0.4"/>
<polyline points="42.4,212.1 43.9,213.7 47.1,213.1 52.1,210.2 54.7,208.3 55,207.4" fill="none" stroke="#f4f4f4" stroke-opacity="0.65" stroke-width="1.1" stroke-linecap="round"/>
<polygon points="66.8,203.6 64.5,202.8 61.4,203.5 57.7,205.7 55.6,207.3 55.3,208.3 56.3,210.6 58.4,214.2 62.4,216.3 68.2,217 71.3,217.2 71.5,216.8 70.7,213.5 68.9,207.1" fill="rgb(126,126,126)" stroke="#505050" stroke-width="0.75"/>
<polygon points="66.8,203.6 64.5,202.8 61.4,203.5 57.7,205.7 55.6,207.3 55.3,208.3 56.3,210.6 58.4,214.2 62.4,216.3 68.2,217 71.3,217.2 71.5,216.8 70.7,213.5 68.9,207.1" fill="url(#sh3)" fill-opacity="0.4"/>
<polyline points="70.1,213.2 68.4,207.4 66.5,204.1 64.4,203.4 61.6,204.1 58.2,206.1 56.3,207.5 56,208.5" fill="none" stroke="#f4f4f4" stroke-opacity="0.65" stroke-width="1.1" stroke-linecap="round"/>
<polygon points="84.9,206.9 82.9,212 79.3,215.1 74.2,216.1 70.7,213.5 68.9,207.1 68.6,203.6 69.9,202.9 74.4,203 82.1,203.9" fill="rgb(131,131,131)" stroke="#505050" stroke-width="0.75"/>
<polygon points="84.9,206.9 82.9,212 79.3,215.1 74.2,216.1 70.7,213.5 68.9,207.1 68.6,203.6 69.9,202.9 74.4,203 82.1,203.9" fill="url(#sh3)" fill-opacity="0.4"/>
<polyline points="69.5,207.2 69.2,204 70.4,203.3 74.5,203.4" fill="none" stroke="#f4f4f4" stroke-opacity="0.65" stroke-width="1.1" stroke-linecap="round"/>
<polygon points="84.9,206.9 82.9,212 82.8,215.8 84.8,218.3 87.6,218.9 91.2,217.6 94.1,214.2 96.4,208.6 95,205.1 90,203.6 87.1,203.2 86.3,204" fill="rgb(143,143,143)" stroke="#505050" stroke-width="0.75"/>
<polygon points="84.9,206.9 82.9,212 82.8,215.8 84.8,218.3 87.6,218.9 91.2,217.6 94.1,214.2 96.4,208.6 95,205.1 90,203.6 87.1,203.2 86.3,204" fill="url(#sh3)" fill-opacity="0.4"/>
<polyline points="85.2,207.2 83.4,211.9 83.3,215.3 85.1,217.6 87.7,218.2 91,217 93.6,213.9" fill="none" stroke="#f4f4f4" stroke-opacity="0.65" stroke-width="1.1" stroke-linecap="round"/>
<polygon points="102.1,208.7 100.2,206.8 98.8,205.8 97.9,205.8 96.4,208.6 94.1,214.2 94.9,218.3 98.6,221 101.1,219.1 102.4,212.8" fill="rgb(145,145,145)" stroke="#505050" stroke-width="0.75"/>
<polygon points="102.1,208.7 100.2,206.8 98.8,205.8 97.9,205.8 96.4,208.6 94.1,214.2 94.9,218.3 98.6,221 101.1,219.1 102.4,212.8" fill="url(#sh1)" fill-opacity="0.4"/>
<polyline points="100,207.4 98.7,206.5 98,206.5 96.6,209" fill="none" stroke="#f4f4f4" stroke-opacity="0.65" stroke-width="1.1" stroke-linecap="round"/>
<polygon points="108.9,210 111.8,208.9 115.3,209.6 119.5,212 121.1,214.8 120.1,218 117.7,219.9 113.9,220.4 110.8,218.1 108.6,213.1" fill="rgb(143,143,143)" stroke="#505050" stroke-width="0.75"/>
<polygon points="108.9,210 111.8,208.9 115.3,209.6 119.5,212 121.1,214.8 120.1,218 117.7,219.9 113.9,220.4 110.8,218.1 108.6,213.1" fill="url(#sh1)" fill-opacity="0.4"/>
<polyline points="119,212.3 120.4,214.8 119.5,217.6 117.3,219.3 114,219.7 111.3,217.7" fill="none" stroke="#f4f4f4" stroke-opacity="0.65" stroke-width="1.1" stroke-linecap="round"/>
<polygon points="129,206.3 129.5,206.8 129.7,207.4 129.6,208.1 127.6,209.7 123.6,212 119.5,212 115.3,209.6 113.8,206.2 115,201.7 116,199.6 116.9,199.6 120.2,201.2 125.9,204.5" fill="rgb(137,137,137)" stroke="#505050" stroke-width="0.75"/>
<polygon points="129,206.3 129.5,206.8 129.7,207.4 129.6,208.1 127.6,209.7 123.6,212 119.5,212 115.3,209.6 113.8,206.2 115,201.7 116,199.6 116.9,199.6 120.2,201.2 125.9,204.5" fill="url(#sh3)" fill-opacity="0.4"/>
<polyline points="129,207.3 128.9,207.9 127.1,209.4 123.4,211.5 119.7,211.5 116,209.3 114.6,206.2" fill="none" stroke="#f4f4f4" stroke-opacity="0.65" stroke-width="1.1" stroke-linecap="round"/>
<polygon points="136.8,200.8 139.6,200.4 141.2,200.7 141.7,201.9 142,205.6 142,212 140.3,215.3 136.8,215.5 133.7,213.8 130.9,210.3 129.6,208.1 129.7,207.4 131.2,205.5 134.1,202.5" fill="rgb(144,144,144)" stroke="#505050" stroke-width="0.75"/>
<polygon points="136.8,200.8 139.6,200.4 141.2,200.7 141.7,201.9 142,205.6 142,212 140.3,215.3 136.8,215.5 133.7,213.8 130.9,210.3 129.6,208.1 129.7,207.4 131.2,205.5 134.1,202.5" fill="url(#sh2)" fill-opacity="0.4"/>
<polyline points="141.2,202.4 141.5,205.8 141.5,211.6 139.9,214.5 136.7,214.7 133.9,213.2" fill="none" stroke="#f4f4f4" stroke-opacity="0.65" stroke-width="1.1" stroke-linecap="round"/>
<polygon points="39.7,225 39.5,225.6 36.2,226.3 30.1,227 27,224.6 27,218.9 27.5,216 28.4,216 31.6,218.1 37.1,222.5" fill="rgb(117,117,117)" stroke="#505050" stroke-width="0.75"/>
<polygon points="39.7,225 39.5,225.6 36.2,226.3 30.1,227 27,224.6 27,218.9 27.5,216 28.4,216 31.6,218.1 37.1,222.5" fill="url(#sh0)" fill-opacity="0.4"/>
<polyline points="35.8,225.8 30.3,226.5 27.6,224.3 27.6,219.2 28,216.6 28.8,216.6 31.7,218.5" fill="none" stroke="#f4f4f4" stroke-opacity="0.65" stroke-width="1.1" stroke-linecap="round"/>
<polygon points="44.2,218.9 44.2,216.5 43.4,214.3 41.7,212.5 40.3,211.3 39.2,210.7 36.2,211.8 31.3,214.6 31.6,218.1 37.1,222.5 41,223.6 43.1,221.3" fill="rgb(127,127,127)" stroke="#505050" stroke-width="0.75"/>
<polygon points="44.2,218.9 44.2,216.5 43.4,214.3 41.7,212.5 40.3,211.3 39.2,210.7 36.2,211.8 31.3,214.6 31.6,218.1 37.1,222.5 41,223.6 43.1,221.3" fill="url(#sh1)" fill-opacity="0.4"/>
<polyline points="36.6,212.3 32.2,214.8 32.5,217.9 37.4,221.9 40.8,222.8 42.7,220.8 43.7,218.6 43.7,216.4 42.9,214.5" fill="none" stroke="#f4f4f4" stroke-opacity="0.65" stroke-width="1.1" stroke-linecap="round"/>
<polygon points="46.9,221.5 52.3,224.1 56.1,223 58.4,218.3 58.4,214.2 56.3,210.6 52.4,210.4 46.9,213.6 44.2,216.5 44.2,218.9" fill="rgb(149,149,149)" stroke="#505050" stroke-width="0.75"/>
<polygon points="46.9,221.5 52.3,224.1 56.1,223 58.4,218.3 58.4,214.2 56.3,210.6 52.4,210.4 46.9,213.6 44.2,216.5 44.2,218.9" fill="url(#sh0)" fill-opacity="0.4"/>
<polyline points="57.7,218.2 57.8,214.5 55.8,211.2 52.4,211 47.4,213.9 44.9,216.5" fill="none" stroke="#f4f4f4" stroke-opacity="0.65" stroke-width="1.1" stroke-linecap="round"/>
<polygon points="55.4,226.1 56.1,227.5 57.7,228.7 60.2,229.7 63.6,228.6 68.2,225.5 70.6,222.3 71,219 68.2,217 62.4,216.3 58.4,218.3 56.1,223" fill="rgb(139,139,139)" stroke="#505050" stroke-width="0.75"/>
<polygon points="55.4,226.1 56.1,227.5 57.7,228.7 60.2,229.7 63.6,228.6 68.2,225.5 70.6,222.3 71,219 68.2,217 62.4,216.3 58.4,218.3 56.1,223" fill="url(#sh3)" fill-opacity="0.4"/>
<polyline points="67.7,225.3 69.9,222.4 70.2,219.4 67.7,217.6 62.4,217 58.7,218.8 56.7,223.1 56,225.9" fill="none" stroke="#f4f4f4" stroke-opacity="0.65" stroke-width="1.1" stroke-linecap="round"/>
<polygon points="79.3,215.1 74.2,216.1 71.5,216.8 71.3,217.2 71,219 70.6,222.3 72.9,226.4 77.8,231.3 80.3,233.7 80.3,233.7 81.9,231.4 85,226.7 86.4,223.1 86,220.8 84.8,218.3 82.8,215.8" fill="rgb(116,116,116)" stroke="#505050" stroke-width="0.75"/>
<polygon points="79.3,215.1 74.2,216.1 71.5,216.8 71.3,217.2 71,219 70.6,222.3 72.9,226.4 77.8,231.3 80.3,233.7 80.3,233.7 81.9,231.4 85,226.7 86.4,223.1 86,220.8 84.8,218.3 82.8,215.8" fill="url(#sh1)" fill-opacity="0.4"/>
<polyline points="81.6,230.7 84.5,226.4 85.8,223.1 85.4,220.9 84.3,218.7 82.5,216.3 79.2,215.7" fill="none" stroke="#f4f4f4" stroke-opacity="0.65" stroke-width="1.1" stroke-linecap="round"/>
<polygon points="98.6,221 94.9,218.3 91.2,217.6 87.6,218.9 86,220.8 86.4,223.1 89.9,225.2 96.4,227 100.2,227.9 101.1,227.9 101.3,226.4 100.7,223.7" fill="rgb(149,149,149)" stroke="#505050" stroke-width="0.75"/>
<polygon points="98.6,221 94.9,218.3 91.2,217.6 87.6,218.9 86,220.8 86.4,223.1 89.9,225.2 96.4,227 100.2,227.9 101.1,227.9 101.3,226.4 100.7,223.7" fill="url(#sh2)" fill-opacity="0.4"/>
<polyline points="90.3,225 96.3,226.6 99.6,227.4 100.4,227.4 100.6,226.1 100.1,223.6" fill="none" stroke="#f4f4f4" stroke-opacity="0.65" stroke-width="1.1" stroke-linecap="round"/>
<polygon points="102.4,212.8 101.1,219.1 100.7,223.7 101.3,226.4 101.9,228.1 102.6,228.5 103.7,228.5 105.3,227.9 107.6,225.9 110.5,222.4 110.8,218.1 108.6,213.1 106.4,210.3 104.2,209.9" fill="rgb(119,119,119)" stroke="#505050" stroke-width="0.75"/>
<polygon points="102.4,212.8 101.1,219.1 100.7,223.7 101.3,226.4 101.9,228.1 102.6,228.5 103.7,228.5 105.3,227.9 107.6,225.9 110.5,222.4 110.8,218.1 108.6,213.1 106.4,210.3 104.2,209.9" fill="url(#sh0)" fill-opacity="0.4"/>
<polyline points="103.8,227.8 105.3,227.3 107.3,225.5 110,222.3 110.3,218.4 108.2,213.8 106.2,211.3 104.2,210.9 102.7,213.6 101.4,219.3 101.1,223.4" fill="none" stroke="#f4f4f4" stroke-opacity="0.65" stroke-width="1.1" stroke-linecap="round"/>
<polygon points="113.9,220.4 117.7,219.9 120.5,221.2 122.3,224.3 121.1,227 116.8,229.4 112.5,229.8 108.3,228.4 107.6,225.9 110.5,222.4" fill="rgb(139,139,139)" stroke="#505050" stroke-width="0.75"/>
<polygon points="113.9,220.4 117.7,219.9 120.5,221.2 122.3,224.3 121.1,227 116.8,229.4 112.5,229.8 108.3,228.4 107.6,225.9 110.5,222.4" fill="url(#sh1)" fill-opacity="0.4"/>
<polyline points="119.9,221.6 121.5,224.3 120.4,226.8 116.6,228.9 112.8,229.3" fill="none" stroke="#f4f4f4" stroke-opacity="0.65" stroke-width="1.1" stroke-linecap="round"/>
<polygon points="134.6,217.4 133.8,221.2 131.2,224 126.8,225.8 124.3,226.5 123.6,226.1 122.3,224.3 120.5,221.2 120.1,218 121.1,214.8 123.6,212 127.6,209.7 130.9,210.3 133.7,213.8" fill="rgb(127,127,127)" stroke="#505050" stroke-width="0.75"/>
<polygon points="134.6,217.4 133.8,221.2 131.2,224 126.8,225.8 124.3,226.5 123.6,226.1 122.3,224.3 120.5,221.2 120.1,218 121.1,214.8 123.6,212 127.6,209.7 130.9,210.3 133.7,213.8" fill="url(#sh0)" fill-opacity="0.4"/>
<polyline points="120.6,218.1 121.5,215.2 123.8,212.6 127.5,210.5 130.6,211 133.1,214.2 133.9,217.6 133.2,221 130.8,223.5" fill="none" stroke="#f4f4f4" stroke-opacity="0.65" stroke-width="1.1" stroke-linecap="round"/>
<polygon points="141.7,230.8 141,230.8 138.8,228.9 135.2,225 133.8,221.2 134.6,217.4 136.8,215.5 140.3,215.3 142,219.1 142,226.9" fill="rgb(137,137,137)" stroke="#505050" stroke-width="0.75"/>
<polygon points="141.7,230.8 141,230.8 138.8,228.9 135.2,225 133.8,221.2 134.6,217.4 136.8,215.5 140.3,215.3 142,219.1 142,226.9" fill="url(#sh2)" fill-opacity="0.4"/>
<polyline points="140.1,216.1 141.7,219.5 141.7,226.5 141.3,230" fill="none" stroke="#f4f4f4" stroke-opacity="0.65" stroke-width="1.1" stroke-linecap="round"/>
<polygon points="41,235 39.9,228.9 36.2,226.3 30.1,227 27,230.1 27,235.4 30.6,238 37.9,238" fill="rgb(148,148,148)" stroke="#505050" stroke-width="0.75"/>
<polygon points="41,235 39.9,228.9 36.2,226.3 30.1,227 27,230.1 27,235.4 30.6,238 37.9,238" fill="url(#sh0)" fill-opacity="0.4"/>
<polyline points="30.4,227.6 27.6,230.3 27.6,235.1 30.9,237.5 37.5,237.5 40.3,234.7 39.3,229.2" fill="none" stroke="#f4f4f4" stroke-opacity="0.65" stroke-width="1.1" stroke-linecap="round"/>
<polygon points="46.9,221.5 52.3,224.1 55.4,226.1 56.1,227.5 54.3,230.7 49.8,235.6 46.1,238 43.1,238 41,235 39.9,228.9 39.5,225.6 39.7,225 41,223.6 43.1,221.3" fill="rgb(115,115,115)" stroke="#505050" stroke-width="0.75"/>
<polygon points="46.9,221.5 52.3,224.1 55.4,226.1 56.1,227.5 54.3,230.7 49.8,235.6 46.1,238 43.1,238 41,235 39.9,228.9 39.5,225.6 39.7,225 41,223.6 43.1,221.3" fill="url(#sh2)" fill-opacity="0.4"/>
<polyline points="46.1,237.2 43.4,237.2 41.5,234.5 40.4,228.9 40,225.9 40.3,225.3 41.4,224" fill="none" stroke="#f4f4f4" stroke-opacity="0.65" stroke-width="1.1" stroke-linecap="round"/>
<polygon points="49.8,235.6 54.3,230.7 57.7,228.7 60.2,229.7 62,232 63.4,235.7 64,237.7 63.8,237.9 59.7,238 51.6,238" fill="rgb(142,142,142)" stroke="#505050" stroke-width="0.75"/>
<polygon points="49.8,235.6 54.3,230.7 57.7,228.7 60.2,229.7 62,232 63.4,235.7 64,237.7 63.8,237.9 59.7,238 51.6,238" fill="url(#sh2)" fill-opacity="0.4"/>
<polyline points="54.8,231.1 57.8,229.4 60,230.2 61.6,232.3 62.8,235.6 63.4,237.3" fill="none" stroke="#f4f4f4" stroke-opacity="0.65" stroke-width="1.1" stroke-linecap="round"/>
<polygon points="76.9,236.9 79.2,234.8 77.8,231.3 72.9,226.4 68.2,225.5 63.6,228.6 62,232 63.4,235.7 64.7,237.7 66,237.9 68.9,238 73.5,238" fill="rgb(119,119,119)" stroke="#505050" stroke-width="0.75"/>
<polygon points="76.9,236.9 79.2,234.8 77.8,231.3 72.9,226.4 68.2,225.5 63.6,228.6 62,232 63.4,235.7 64.7,237.7 66,237.9 68.9,238 73.5,238" fill="url(#sh0)" fill-opacity="0.4"/>
<polyline points="64.2,229 62.7,232.1 63.9,235.6 65.1,237.3 66.3,237.5 69,237.6 73.2,237.6 76.3,236.6" fill="none" stroke="#f4f4f4" stroke-opacity="0.65" stroke-width="1.1" stroke-linecap="round"/>
<polygon points="96.4,230.5 89.7,235.5 86.3,238 86.3,238 84.8,236.9 81.8,234.8 81.9,231.4 85,226.7 89.9,225.2 96.4,227" fill="rgb(128,128,128)" stroke="#505050" stroke-width="0.75"/>
<polygon points="96.4,230.5 89.7,235.5 86.3,238 86.3,238 84.8,236.9 81.8,234.8 81.9,231.4 85,226.7 89.9,225.2 96.4,227" fill="url(#sh0)" fill-opacity="0.4"/>
<polyline points="82.5,231.5 85.3,227.2 89.7,225.9 95.6,227.6 95.5,230.6 89.5,235.2 86.5,237.4 86.5,237.4" fill="none" stroke="#f4f4f4" stroke-opacity="0.65" stroke-width="1.1" stroke-linecap="round"/>
<polygon points="101.1,227.9 100.2,227.9 96.4,230.5 89.7,235.5 88.6,238 93,238 97.3,237.6 101.3,236.7 103.3,234.4 103,230.7 102.6,228.5 101.9,228.1" fill="rgb(113,113,113)" stroke="#505050" stroke-width="0.75"/>
<polygon points="101.1,227.9 100.2,227.9 96.4,230.5 89.7,235.5 88.6,238 93,238 97.3,237.6 101.3,236.7 103.3,234.4 103,230.7 102.6,228.5 101.9,228.1" fill="url(#sh0)" fill-opacity="0.4"/>
<polyline points="89.6,237.4 93.6,237.4 97.4,237.1 101,236.3 102.7,234.2 102.5,230.9 102.1,229 101.5,228.6" fill="none" stroke="#f4f4f4" stroke-opacity="0.65" stroke-width="1.1" stroke-linecap="round"/>
<polygon points="108.3,228.4 112.5,229.8 115.3,232.4 116.5,236.1 113.8,238 107.2,238 103.8,237.6 103.5,236.7 103.3,234.4 103,230.7 103.7,228.5 105.3,227.9" fill="rgb(135,135,135)" stroke="#505050" stroke-width="0.75"/>
<polygon points="108.3,228.4 112.5,229.8 115.3,232.4 116.5,236.1 113.8,238 107.2,238 103.8,237.6 103.5,236.7 103.3,234.4 103,230.7 103.7,228.5 105.3,227.9" fill="url(#sh1)" fill-opacity="0.4"/>
<polyline points="113.2,237.5 107.3,237.5 104.2,237.1 104,236.3 103.8,234.3 103.6,230.9 104.2,229 105.6,228.5 108.2,228.9" fill="none" stroke="#f4f4f4" stroke-opacity="0.65" stroke-width="1.1" stroke-linecap="round"/>
<polygon points="120.6,237.2 124.2,235.7 125.6,232.9 125,228.7 124.3,226.5 123.6,226.1 121.1,227 116.8,229.4 115.3,232.4 116.5,236.1 117.6,238 118.4,238" fill="rgb(119,119,119)" stroke="#505050" stroke-width="0.75"/>
<polygon points="120.6,237.2 124.2,235.7 125.6,232.9 125,228.7 124.3,226.5 123.6,226.1 121.1,227 116.8,229.4 115.3,232.4 116.5,236.1 117.6,238 118.4,238" fill="url(#sh0)" fill-opacity="0.4"/>
<polyline points="117,235.7 117.9,237.3 118.7,237.3 120.6,236.7 123.8,235.3 125.1,232.8 124.5,229.2" fill="none" stroke="#f4f4f4" stroke-opacity="0.65" stroke-width="1.1" stroke-linecap="round"/>
<polygon points="126.9,235.7 128.9,237.2 131,238 133.3,238 136,236.2 139.1,232.7 138.8,228.9 135.2,225 131.2,224 126.8,225.8 125,228.7 125.6,232.9" fill="rgb(115,115,115)" stroke="#505050" stroke-width="0.75"/>
<polygon points="126.9,235.7 128.9,237.2 131,238 133.3,238 136,236.2 139.1,232.7 138.8,228.9 135.2,225 131.2,224 126.8,225.8 125,228.7 125.6,232.9" fill="url(#sh2)" fill-opacity="0.4"/>
<polyline points="127.4,235.4 129.1,236.7 131,237.4 133.1,237.4 135.5,235.8 138.3,232.6 138.1,229.2 134.9,225.7 131.2,224.7" fill="none" stroke="#f4f4f4" stroke-opacity="0.65" stroke-width="1.1" stroke-linecap="round"/>
<polygon points="66,237.9 64.7,237.7 64,237.7 63.8,237.9 64.5,238 65.9,238" fill="rgb(141,141,141)" stroke="#505050" stroke-width="0.75"/>
<polygon points="66,237.9 64.7,237.7 64,237.7 63.8,237.9 64.5,238 65.9,238" fill="url(#sh0)" fill-opacity="0.4"/>
<polyline points="64.7,237.9 65.4,237.9 65.4,237.9 64.7,237.8" fill="none" stroke="#f4f4f4" stroke-opacity="0.65" stroke-width="1.1" stroke-linecap="round"/>
<polygon points="80.3,233.7 80.3,233.7 79.2,234.8 76.9,236.9 78.4,238 83.7,238 84.8,236.9 81.8,234.8" fill="rgb(126,126,126)" stroke="#505050" stroke-width="0.75"/>
<polygon points="80.3,233.7 80.3,233.7 79.2,234.8 76.9,236.9 78.4,238 83.7,238 84.8,236.9 81.8,234.8" fill="url(#sh3)" fill-opacity="0.4"/>
<polyline points="79,237.5 83,237.5 83.9,236.7 81.6,235.1 80.4,234.2" fill="none" stroke="#f4f4f4" stroke-opacity="0.65" stroke-width="1.1" stroke-linecap="round"/>
<polygon points="97.3,237.6 101.3,236.7 103.5,236.7 103.8,237.6 101.8,238 97.4,238" fill="rgb(146,146,146)" stroke="#505050" stroke-width="0.75"/>
<polygon points="97.3,237.6 101.3,236.7 103.5,236.7 103.8,237.6 101.8,238 97.4,238" fill="url(#sh1)" fill-opacity="0.4"/>
<polyline points="101.2,236.9 102.8,236.9 103,237.5 101.5,237.8" fill="none" stroke="#f4f4f4" stroke-opacity="0.65" stroke-width="1.1" stroke-linecap="round"/>
<polygon points="128.9,237.2 126.9,235.7 124.2,235.7 120.6,237.2 121.6,238 127.1,238" fill="rgb(118,118,118)" stroke="#505050" stroke-width="0.75"/>
<polygon points="128.9,237.2 126.9,235.7 124.2,235.7 120.6,237.2 121.6,238 127.1,238" fill="url(#sh1)" fill-opacity="0.4"/>
<polyline points="128,237.2 126.5,236 124.3,236 121.6,237.2 122.3,237.8" fill="none" stroke="#f4f4f4" stroke-opacity="0.65" stroke-width="1.1" stroke-linecap="round"/>
<polygon points="136,236.2 139.1,232.7 141,230.8 141.7,230.8 142,232.6 142,236.2 140.1,238 136.3,238" fill="rgb(130,130,130)" stroke="#505050" stroke-width="0.75"/>
<polygon points="136,236.2 139.1,232.7 141,230.8 141.7,230.8 142,232.6 142,236.2 140.1,238 136.3,238" fill="url(#sh2)" fill-opacity="0.4"/>
<polyline points="139.2,233 140.7,231.5 141.3,231.5 141.6,232.9 141.6,235.9 140,237.3" fill="none" stroke="#f4f4f4" stroke-opacity="0.65" stroke-width="1.1" stroke-linecap="round"/>
</g></g>
<g filter="url(#semblur)"><g clip-path="url(#s2)">
<rect x="187" y="160" width="117" height="77.5" fill="#8a8a8a"/>
<polygon points="194,161 194,160.3 192.3,160 188.8,160 187,160.3 187,161 188.7,161.3 192.2,161.4" fill="rgb(147,147,147)" stroke="#555555" stroke-width="0.8"/>
<polygon points="194,161 194,160.3 192.3,160 188.8,160 187,160.3 187,161 188.7,161.3 192.2,161.4" fill="url(#sh2)" fill-opacity="0.45"/>
<polyline points="187.9,160.4 187.9,160.9 189.2,161.1" fill="none" stroke="#f6f6f6" stroke-opacity="0.6" stroke-width="1.1" stroke-linecap="round"/>
<polygon points="205.8,161.3 202.3,163.8 199,164.2 195.7,162.3 194,161 194,160.3 197.4,160 204.1,160" fill="rgb(142,142,142)" stroke="#555555" stroke-width="0.8"/>
<polygon points="205.8,161.3 202.3,163.8 199,164.2 195.7,162.3 194,161 194,160.3 197.4,160 204.1,160" fill="url(#sh3)" fill-opacity="0.45"/>
<polyline points="194.8,161.1 194.8,160.5 197.7,160.2 203.3,160.2" fill="none" stroke="#f6f6f6" stroke-opacity="0.6" stroke-width="1.1" stroke-linecap="round"/>
<polygon points="220.4,163.1 214.3,161 214.7,160 221.4,160 224.4,161 223.7,163.1" fill="rgb(145,145,145)" stroke="#555555" stroke-width="0.8"/>
<polygon points="220.4,163.1 214.3,161 214.7,160 221.4,160 224.4,161 223.7,163.1" fill="url(#sh1)" fill-opacity="0.45"/>
<polyline points="223.6,161.1 223.1,162.8 220.3,162.8 215.3,161.1" fill="none" stroke="#f6f6f6" stroke-opacity="0.6" stroke-width="1.1" stroke-linecap="round"/>
<polygon points="236.5,161 232.8,163 229.1,164.1 225.4,164.3 223.5,164.3 223.4,164.2 223.7,163.1 224.4,161 228.1,160 234.9,160" fill="rgb(140,140,140)" stroke="#555555" stroke-width="0.8"/>
<polygon points="236.5,161 232.8,163 229.1,164.1 225.4,164.3 223.5,164.3 223.4,164.2 223.7,163.1 224.4,161 228.1,160 234.9,160" fill="url(#sh2)" fill-opacity="0.45"/>
<polyline points="224.1,163.9 224.4,163 224.9,161.2" fill="none" stroke="#f6f6f6" stroke-opacity="0.6" stroke-width="1.1" stroke-linecap="round"/>
<polygon points="249.8,160.2 250.1,160.6 250.7,160.6 251.5,160.2 251.4,160 250.2,160" fill="rgb(132,132,132)" stroke="#555555" stroke-width="0.8"/>
<polygon points="249.8,160.2 250.1,160.6 250.7,160.6 251.5,160.2 251.4,160 250.2,160" fill="url(#sh2)" fill-opacity="0.45"/>
<polyline points="251,160.1 250.4,160.1 250.2,160.2" fill="none" stroke="#f6f6f6" stroke-opacity="0.6" stroke-width="1.1" stroke-linecap="round"/>
<polygon points="273.8,160.5 275.7,161.6 276.8,162.1 276.9,162 277.1,161.5 277.1,160.5 276.1,160 273.9,160" fill="rgb(132,132,132)" stroke="#555555" stroke-width="0.8"/>
<polygon points="273.8,160.5 275.7,161.6 276.8,162.1 276.9,162 277.1,161.5 277.1,160.5 276.1,160 273.9,160" fill="url(#sh1)" fill-opacity="0.45"/>
<polyline points="276,160.5 274.9,160.5 274.8,160.8 275.8,161.4 276.4,161.6" fill="none" stroke="#f6f6f6" stroke-opacity="0.6" stroke-width="1.1" stroke-linecap="round"/>
<polygon points="290.2,160.6 288.9,161.7 285.4,162.2 279.8,162.1 277.1,161.5 277.1,160.5 280.6,160 287.5,160" fill="rgb(144,144,144)" stroke="#555555" stroke-width="0.8"/>
<polygon points="290.2,160.6 288.9,161.7 285.4,162.2 279.8,162.1 277.1,161.5 277.1,160.5 280.6,160 287.5,160" fill="url(#sh2)" fill-opacity="0.45"/>
<polyline points="278,160.6 281,160.1 286.9,160.1 289.3,160.6 288.1,161.6" fill="none" stroke="#f6f6f6" stroke-opacity="0.6" stroke-width="1.1" stroke-linecap="round"/>
<polygon points="195.7,162.3 199,164.2 200.6,167.3 200.7,171.6 198.8,175.5 194.9,178.9 191.5,179.5 188.5,177.3 187,172.5 187,165 188.7,161.3 192.2,161.4" fill="rgb(133,133,133)" stroke="#555555" stroke-width="0.8"/>
<polygon points="195.7,162.3 199,164.2 200.6,167.3 200.7,171.6 198.8,175.5 194.9,178.9 191.5,179.5 188.5,177.3 187,172.5 187,165 188.7,161.3 192.2,161.4" fill="url(#sh2)" fill-opacity="0.45"/>
<polyline points="200.1,167.5 200.1,171.5 198.4,175 194.8,178.1 191.7,178.7" fill="none" stroke="#f6f6f6" stroke-opacity="0.6" stroke-width="1.1" stroke-linecap="round"/>
<polygon points="223.5,165.9 223.6,168.9 221.3,172.8 216.8,177.5 213.5,179.8 211.4,179.7 207.9,178.2 203.1,175.2 200.7,171.6 200.6,167.3 202.3,163.8 205.8,161.3 208.4,160 210.4,160 214.3,161 220.4,163.1 223.4,164.2 223.5,164.3" fill="rgb(142,142,142)" stroke="#555555" stroke-width="0.8"/>
<polygon points="223.5,165.9 223.6,168.9 221.3,172.8 216.8,177.5 213.5,179.8 211.4,179.7 207.9,178.2 203.1,175.2 200.7,171.6 200.6,167.3 202.3,163.8 205.8,161.3 208.4,160 210.4,160 214.3,161 220.4,163.1 223.4,164.2 223.5,164.3" fill="url(#sh0)" fill-opacity="0.45"/>
<polyline points="203.7,174.8 201.4,171.4 201.4,167.4 203,164.1 206.2,161.7 208.7,160.5" fill="none" stroke="#f6f6f6" stroke-opacity="0.6" stroke-width="1.1" stroke-linecap="round"/>
<polygon points="223.5,165.9 223.6,168.9 225.7,172.3 229.9,176.1 235.8,177.8 243.1,177.3 247.3,176.3 248.3,174.7 244.3,171.4 235.5,166.5 229.1,164.1 225.4,164.3" fill="rgb(130,130,130)" stroke="#555555" stroke-width="0.8"/>
<polygon points="223.5,165.9 223.6,168.9 225.7,172.3 229.9,176.1 235.8,177.8 243.1,177.3 247.3,176.3 248.3,174.7 244.3,171.4 235.5,166.5 229.1,164.1 225.4,164.3" fill="url(#sh3)" fill-opacity="0.45"/>
<polyline points="243.6,171.4 235.4,166.8 229.5,164.6 226,164.7" fill="none" stroke="#f6f6f6" stroke-opacity="0.6" stroke-width="1.1" stroke-linecap="round"/>
<polygon points="236.5,161 232.8,163 235.5,166.5 244.3,171.4 249.2,173.4 250.2,172.4 250.6,169.1 250.4,163.5 250.1,160.6 249.8,160.2 246.8,160 241.1,160" fill="rgb(129,129,129)" stroke="#555555" stroke-width="0.8"/>
<polygon points="236.5,161 232.8,163 235.5,166.5 244.3,171.4 249.2,173.4 250.2,172.4 250.6,169.1 250.4,163.5 250.1,160.6 249.8,160.2 246.8,160 241.1,160" fill="url(#sh0)" fill-opacity="0.45"/>
<polyline points="248.9,172.7 249.8,171.7 250.1,168.7 249.9,163.7 249.6,160.9 249.4,160.6 246.6,160.4 241.4,160.4" fill="none" stroke="#f6f6f6" stroke-opacity="0.6" stroke-width="1.1" stroke-linecap="round"/>
<polygon points="250.4,163.5 250.6,169.1 255.3,172.7 264.5,174.4 269.6,175.1 270.4,174.7 272.2,171.4 275.2,165.3 275.7,161.6 273.8,160.5 267.7,160 257.2,160 251.5,160.2 250.7,160.6" fill="rgb(129,129,129)" stroke="#555555" stroke-width="0.8"/>
<polygon points="250.4,163.5 250.6,169.1 255.3,172.7 264.5,174.4 269.6,175.1 270.4,174.7 272.2,171.4 275.2,165.3 275.7,161.6 273.8,160.5 267.7,160 257.2,160 251.5,160.2 250.7,160.6" fill="url(#sh1)" fill-opacity="0.45"/>
<polyline points="273.2,160.9 267.4,160.4 257.6,160.4 252.2,160.5 251.4,160.9" fill="none" stroke="#f6f6f6" stroke-opacity="0.6" stroke-width="1.1" stroke-linecap="round"/>
<polygon points="290.1,181 292.5,176.2 292.4,171 289.6,165.2 285.4,162.2 279.8,162.1 276.9,162 276.8,162.1 275.2,165.3 272.2,171.4 271.8,175.3 273.8,176.8 278.3,179 285.4,181.9" fill="rgb(132,132,132)" stroke="#555555" stroke-width="0.8"/>
<polygon points="290.1,181 292.5,176.2 292.4,171 289.6,165.2 285.4,162.2 279.8,162.1 276.9,162 276.8,162.1 275.2,165.3 272.2,171.4 271.8,175.3 273.8,176.8 278.3,179 285.4,181.9" fill="url(#sh2)" fill-opacity="0.45"/>
<polyline points="277.2,162.6 277.1,162.7 275.6,165.6 272.8,171.4 272.4,175 274.3,176.4 278.5,178.4 285.1,181.2 289.6,180.3" fill="none" stroke="#f6f6f6" stroke-opacity="0.6" stroke-width="1.1" stroke-linecap="round"/>
<polygon points="296.3,173.9 301.4,174 304,170.5 304,163.5 300.7,160 294.2,160 290.2,160.6 288.9,161.7 289.6,165.2 292.4,171" fill="rgb(137,137,137)" stroke="#555555" stroke-width="0.8"/>
<polygon points="296.3,173.9 301.4,174 304,170.5 304,163.5 300.7,160 294.2,160 290.2,160.6 288.9,161.7 289.6,165.2 292.4,171" fill="url(#sh0)" fill-opacity="0.45"/>
<polyline points="300.3,160.5 294.3,160.5 290.7,161" fill="none" stroke="#f6f6f6" stroke-opacity="0.6" stroke-width="1.1" stroke-linecap="round"/>
<polygon points="188.2,186.2 190.7,185.1 192.2,183.6 192.7,181.6 191.5,179.5 188.5,177.3 187,178.9 187,184.1" fill="rgb(129,129,129)" stroke="#555555" stroke-width="0.8"/>
<polygon points="188.2,186.2 190.7,185.1 192.2,183.6 192.7,181.6 191.5,179.5 188.5,177.3 187,178.9 187,184.1" fill="url(#sh2)" fill-opacity="0.45"/>
<polyline points="192.2,181.7 191.2,180 188.7,178.2 187.5,179.4" fill="none" stroke="#f6f6f6" stroke-opacity="0.6" stroke-width="1.1" stroke-linecap="round"/>
<polygon points="198.8,175.5 194.9,178.9 192.7,181.6 192.2,183.6 193.7,187.5 197.3,193.3 199.9,196.6 201.6,197.5 204.4,193.3 208.4,184.2 207.9,178.2 203.1,175.2" fill="rgb(147,147,147)" stroke="#555555" stroke-width="0.8"/>
<polygon points="198.8,175.5 194.9,178.9 192.7,181.6 192.2,183.6 193.7,187.5 197.3,193.3 199.9,196.6 201.6,197.5 204.4,193.3 208.4,184.2 207.9,178.2 203.1,175.2" fill="url(#sh3)" fill-opacity="0.45"/>
<polyline points="197.4,192.8 199.9,195.8 201.5,196.6 204.1,192.7 207.8,184.3 207.3,178.7" fill="none" stroke="#f6f6f6" stroke-opacity="0.6" stroke-width="1.1" stroke-linecap="round"/>
<polygon points="221.3,172.8 216.8,177.5 216.2,182.7 219.4,188.4 222.9,190.8 226.5,189.7 229.3,186.4 231.1,180.8 229.9,176.1 225.7,172.3" fill="rgb(145,145,145)" stroke="#555555" stroke-width="0.8"/>
<polygon points="221.3,172.8 216.8,177.5 216.2,182.7 219.4,188.4 222.9,190.8 226.5,189.7 229.3,186.4 231.1,180.8 229.9,176.1 225.7,172.3" fill="url(#sh2)" fill-opacity="0.45"/>
<polyline points="230.6,180.9 229.5,176.5 225.6,173.1 221.5,173.5" fill="none" stroke="#f6f6f6" stroke-opacity="0.6" stroke-width="1.1" stroke-linecap="round"/>
<polygon points="231.1,180.8 229.3,186.4 231.3,190.9 237.2,194.4 241.3,195.3 243.5,193.4 245.3,190.4 246.6,186.2 247.2,182.4 246.9,178.9 243.1,177.3 235.8,177.8" fill="rgb(141,141,141)" stroke="#555555" stroke-width="0.8"/>
<polygon points="231.1,180.8 229.3,186.4 231.3,190.9 237.2,194.4 241.3,195.3 243.5,193.4 245.3,190.4 246.6,186.2 247.2,182.4 246.9,178.9 243.1,177.3 235.8,177.8" fill="url(#sh3)" fill-opacity="0.45"/>
<polyline points="243.3,192.9 244.9,190.1 246.1,186.2 246.6,182.7" fill="none" stroke="#f6f6f6" stroke-opacity="0.6" stroke-width="1.1" stroke-linecap="round"/>
<polygon points="249.2,173.4 250.2,172.4 255.3,172.7 264.5,174.4 268.1,179.2 266.1,187.1 260.6,189.3 251.7,185.9 247.2,182.4 246.9,178.9 247.3,176.3 248.3,174.7" fill="rgb(137,137,137)" stroke="#555555" stroke-width="0.8"/>
<polygon points="249.2,173.4 250.2,172.4 255.3,172.7 264.5,174.4 268.1,179.2 266.1,187.1 260.6,189.3 251.7,185.9 247.2,182.4 246.9,178.9 247.3,176.3 248.3,174.7" fill="url(#sh1)" fill-opacity="0.45"/>
<polyline points="251.9,185.4 247.7,182.1 247.5,178.9 247.8,176.5 248.7,175 249.6,173.8" fill="none" stroke="#f6f6f6" stroke-opacity="0.6" stroke-width="1.1" stroke-linecap="round"/>
<polygon points="273.8,176.8 271.8,175.3 270.4,174.7 269.6,175.1 268.1,179.2 266.1,187.1 265.3,192.4 265.9,195 267.8,197.3 271.1,199.2 273.8,197.6 275.9,192.2 276.4,186.5 275.3,180.5" fill="rgb(131,131,131)" stroke="#555555" stroke-width="0.8"/>
<polygon points="273.8,176.8 271.8,175.3 270.4,174.7 269.6,175.1 268.1,179.2 266.1,187.1 265.3,192.4 265.9,195 267.8,197.3 271.1,199.2 273.8,197.6 275.9,192.2 276.4,186.5 275.3,180.5" fill="url(#sh0)" fill-opacity="0.45"/>
<polyline points="265.7,191.9 266.2,194.4 268,196.5 271.1,198.3 273.6,196.8 275.5,191.8" fill="none" stroke="#f6f6f6" stroke-opacity="0.6" stroke-width="1.1" stroke-linecap="round"/>
<polygon points="285.4,181.9 278.3,179 275.3,180.5 276.4,186.5 280.1,188.6 286.5,186.8 289.5,185.3 289.1,184" fill="rgb(129,129,129)" stroke="#555555" stroke-width="0.8"/>
<polygon points="285.4,181.9 278.3,179 275.3,180.5 276.4,186.5 280.1,188.6 286.5,186.8 289.5,185.3 289.1,184" fill="url(#sh2)" fill-opacity="0.45"/>
<polyline points="285.1,182.1 278.8,179.5 276.1,180.9 277.1,186.3 280.4,188.1" fill="none" stroke="#f6f6f6" stroke-opacity="0.6" stroke-width="1.1" stroke-linecap="round"/>
<polygon points="290.1,181 292.5,176.2 296.3,173.9 301.4,174 304,178.1 304,186.1 302.8,190.5 300.5,191.3 297,190.4 292.3,187.7 289.9,186.3 289.8,186 289.5,185.3 289.1,184" fill="rgb(136,136,136)" stroke="#555555" stroke-width="0.8"/>
<polygon points="290.1,181 292.5,176.2 296.3,173.9 301.4,174 304,178.1 304,186.1 302.8,190.5 300.5,191.3 297,190.4 292.3,187.7 289.9,186.3 289.8,186 289.5,185.3 289.1,184" fill="url(#sh3)" fill-opacity="0.45"/>
<polyline points="290.6,181.2 292.8,176.9 296.3,174.7 301,174.8 303.3,178.5 303.3,185.9 302.2,189.9" fill="none" stroke="#f6f6f6" stroke-opacity="0.6" stroke-width="1.1" stroke-linecap="round"/>
<polygon points="187.7,203.8 189,201.7 189,200.1 187.7,198.9 187,200 187,203.2" fill="rgb(141,141,141)" stroke="#555555" stroke-width="0.8"/>
<polygon points="187.7,203.8 189,201.7 189,200.1 187.7,198.9 187,200 187,203.2" fill="url(#sh0)" fill-opacity="0.45"/>
<polyline points="187.7,202.9 188.6,201.5 188.6,200.5" fill="none" stroke="#f6f6f6" stroke-opacity="0.6" stroke-width="1.1" stroke-linecap="round"/>
<polygon points="193.7,187.5 197.3,193.3 196.7,197.3 192,199.5 189,200.1 187.7,198.9 187,195.4 187,189.6 188.2,186.2 190.7,185.1" fill="rgb(128,128,128)" stroke="#555555" stroke-width="0.8"/>
<polygon points="193.7,187.5 197.3,193.3 196.7,197.3 192,199.5 189,200.1 187.7,198.9 187,195.4 187,189.6 188.2,186.2 190.7,185.1" fill="url(#sh3)" fill-opacity="0.45"/>
<polyline points="193.4,188.1 196.6,193.3 196.1,196.9" fill="none" stroke="#f6f6f6" stroke-opacity="0.6" stroke-width="1.1" stroke-linecap="round"/>
<polygon points="213.5,179.8 211.4,179.7 208.4,184.2 204.4,193.3 203.1,198.6 204.4,200 206.7,201.3 209.9,202.5 213.2,201.6 216.6,198.7 218.9,195.7 220.3,192.8 219.4,188.4 216.2,182.7" fill="rgb(144,144,144)" stroke="#555555" stroke-width="0.8"/>
<polygon points="213.5,179.8 211.4,179.7 208.4,184.2 204.4,193.3 203.1,198.6 204.4,200 206.7,201.3 209.9,202.5 213.2,201.6 216.6,198.7 218.9,195.7 220.3,192.8 219.4,188.4 216.2,182.7" fill="url(#sh1)" fill-opacity="0.45"/>
<polyline points="218.9,188.7 215.9,183.4 213.4,180.7 211.4,180.6 208.6,184.8 204.9,193.3 203.7,198.2 204.9,199.5" fill="none" stroke="#f6f6f6" stroke-opacity="0.6" stroke-width="1.1" stroke-linecap="round"/>
<polygon points="220.3,192.8 218.9,195.7 222.5,199.3 231,203.3 236.1,204.9 237.6,204 238.8,201.7 239.7,198 237.2,194.4 231.3,190.9 226.5,189.7 222.9,190.8" fill="rgb(131,131,131)" stroke="#555555" stroke-width="0.8"/>
<polygon points="220.3,192.8 218.9,195.7 222.5,199.3 231,203.3 236.1,204.9 237.6,204 238.8,201.7 239.7,198 237.2,194.4 231.3,190.9 226.5,189.7 222.9,190.8" fill="url(#sh1)" fill-opacity="0.45"/>
<polyline points="231.2,191.4 226.8,190.3 223.4,191.2 221.1,193.1 219.8,195.8 223.1,199.1 231,202.9 235.6,204.3" fill="none" stroke="#f6f6f6" stroke-opacity="0.6" stroke-width="1.1" stroke-linecap="round"/>
<polygon points="243.5,193.4 241.3,195.3 239.7,198 238.8,201.7 240.5,205.4 244.8,209 249,207.8 253.2,201.7 252.6,197.1 247.3,194.1" fill="rgb(137,137,137)" stroke="#555555" stroke-width="0.8"/>
<polygon points="243.5,193.4 241.3,195.3 239.7,198 238.8,201.7 240.5,205.4 244.8,209 249,207.8 253.2,201.7 252.6,197.1 247.3,194.1" fill="url(#sh3)" fill-opacity="0.45"/>
<polyline points="251.9,197.4 247.1,194.6 243.7,194.1 241.6,195.7 240.2,198.2 239.4,201.6" fill="none" stroke="#f6f6f6" stroke-opacity="0.6" stroke-width="1.1" stroke-linecap="round"/>
<polygon points="247.3,194.1 252.6,197.1 256.3,198.8 258.4,199.1 261.2,198.5 264.5,197 265.9,195 265.3,192.4 260.6,189.3 251.7,185.9 246.6,186.2 245.3,190.4" fill="rgb(130,130,130)" stroke="#555555" stroke-width="0.8"/>
<polygon points="247.3,194.1 252.6,197.1 256.3,198.8 258.4,199.1 261.2,198.5 264.5,197 265.9,195 265.3,192.4 260.6,189.3 251.7,185.9 246.6,186.2 245.3,190.4" fill="url(#sh1)" fill-opacity="0.45"/>
<polyline points="265.1,194.9 264.6,192.5 260.3,189.7 252.1,186.5 247.4,186.8 246.2,190.7 248,194 252.9,196.8" fill="none" stroke="#f6f6f6" stroke-opacity="0.6" stroke-width="1.1" stroke-linecap="round"/>
<polygon points="289.8,186 289.9,186.3 287.6,190 282.8,197.3 279.4,201.7 277.4,203.3 275.5,203.1 273.7,201.2 273.8,197.6 275.9,192.2 280.1,188.6 286.5,186.8" fill="rgb(131,131,131)" stroke="#555555" stroke-width="0.8"/>
<polygon points="289.8,186 289.9,186.3 287.6,190 282.8,197.3 279.4,201.7 277.4,203.3 275.5,203.1 273.7,201.2 273.8,197.6 275.9,192.2 280.1,188.6 286.5,186.8" fill="url(#sh2)" fill-opacity="0.45"/>
<polyline points="282.7,197 279.6,201.1 277.7,202.6 276,202.4 274.3,200.7 274.4,197.3" fill="none" stroke="#f6f6f6" stroke-opacity="0.6" stroke-width="1.1" stroke-linecap="round"/>
<polygon points="292.3,187.7 297,190.4 298.9,193.8 298.2,197.8 293.4,200 284.8,200.6 282.8,197.3 287.6,190" fill="rgb(137,137,137)" stroke="#555555" stroke-width="0.8"/>
<polygon points="292.3,187.7 297,190.4 298.9,193.8 298.2,197.8 293.4,200 284.8,200.6 282.8,197.3 287.6,190" fill="url(#sh0)" fill-opacity="0.45"/>
<polyline points="293.3,199.6 285.4,200.1 283.6,197 287.9,190.4" fill="none" stroke="#f6f6f6" stroke-opacity="0.6" stroke-width="1.1" stroke-linecap="round"/>
<polygon points="300.5,191.3 302.8,190.5 304,194.8 304,204.1 302.5,206.7 299.5,202.8 297.9,200.6 297.8,200 298.2,197.8 298.9,193.8" fill="rgb(140,140,140)" stroke="#555555" stroke-width="0.8"/>
<polygon points="300.5,191.3 302.8,190.5 304,194.8 304,204.1 302.5,206.7 299.5,202.8 297.9,200.6 297.8,200 298.2,197.8 298.9,193.8" fill="url(#sh2)" fill-opacity="0.45"/>
<polyline points="302.6,191.5 303.6,195.2 303.6,203.3" fill="none" stroke="#f6f6f6" stroke-opacity="0.6" stroke-width="1.1" stroke-linecap="round"/>
<polygon points="199.9,196.6 201.6,197.5 203.1,198.6 204.4,200 202.2,204.3 196.3,211.5 191.8,214.3 188.6,212.8 187,210.2 187,206.6 187.7,203.8 189,201.7 192,199.5 196.7,197.3" fill="rgb(147,147,147)" stroke="#555555" stroke-width="0.8"/>
<polygon points="199.9,196.6 201.6,197.5 203.1,198.6 204.4,200 202.2,204.3 196.3,211.5 191.8,214.3 188.6,212.8 187,210.2 187,206.6 187.7,203.8 189,201.7 192,199.5 196.7,197.3" fill="url(#sh3)" fill-opacity="0.45"/>
<polyline points="187.6,209.8 187.6,206.4 188.2,203.8 189.4,201.9 192.2,199.9 196.6,197.8 199.5,197.2" fill="none" stroke="#f6f6f6" stroke-opacity="0.6" stroke-width="1.1" stroke-linecap="round"/>
<polygon points="196,221 194.3,217 196.3,211.5 202.2,204.3 206.7,201.3 209.9,202.5 212.4,205.3 214,209.8 212.8,215.1 208.7,221.2 204.4,224.1 200.1,224 197.6,223.6 197.1,223.2" fill="rgb(134,134,134)" stroke="#555555" stroke-width="0.8"/>
<polygon points="196,221 194.3,217 196.3,211.5 202.2,204.3 206.7,201.3 209.9,202.5 212.4,205.3 214,209.8 212.8,215.1 208.7,221.2 204.4,224.1 200.1,224 197.6,223.6 197.1,223.2" fill="url(#sh3)" fill-opacity="0.45"/>
<polyline points="196.8,211.7 202.3,205 206.5,202.1 209.6,203.2" fill="none" stroke="#f6f6f6" stroke-opacity="0.6" stroke-width="1.1" stroke-linecap="round"/>
<polygon points="233.3,208.2 229.4,214 224.3,215.6 218,213.3 214,209.8 212.4,205.3 213.2,201.6 216.6,198.7 222.5,199.3 231,203.3" fill="rgb(145,145,145)" stroke="#555555" stroke-width="0.8"/>
<polygon points="233.3,208.2 229.4,214 224.3,215.6 218,213.3 214,209.8 212.4,205.3 213.2,201.6 216.6,198.7 222.5,199.3 231,203.3" fill="url(#sh0)" fill-opacity="0.45"/>
<polyline points="230.3,203.6 232.5,208.1 228.8,213.5 224.1,215" fill="none" stroke="#f6f6f6" stroke-opacity="0.6" stroke-width="1.1" stroke-linecap="round"/>
<polygon points="243.8,221.9 240.8,223.4 236.6,222.9 231.2,220.5 228.2,218.7 227.7,217.4 229.4,214 233.3,208.2 236.1,204.9 237.6,204 240.5,205.4 244.8,209 247.3,211.5 248.1,212.8 247.7,215.3 246,219.3" fill="rgb(132,132,132)" stroke="#555555" stroke-width="0.8"/>
<polygon points="243.8,221.9 240.8,223.4 236.6,222.9 231.2,220.5 228.2,218.7 227.7,217.4 229.4,214 233.3,208.2 236.1,204.9 237.6,204 240.5,205.4 244.8,209 247.3,211.5 248.1,212.8 247.7,215.3 246,219.3" fill="url(#sh1)" fill-opacity="0.45"/>
<polyline points="236.2,205.6 237.7,204.7 240.4,206 244.3,209.4 246.7,211.7 247.4,212.9 247.1,215.3 245.5,218.9" fill="none" stroke="#f6f6f6" stroke-opacity="0.6" stroke-width="1.1" stroke-linecap="round"/>
<polygon points="257.5,209.7 258.8,202.8 258.4,199.1 256.3,198.8 253.2,201.7 249,207.8 247.3,211.5 248.1,212.8 250.6,213.3 254.7,213.2" fill="rgb(135,135,135)" stroke="#555555" stroke-width="0.8"/>
<polygon points="257.5,209.7 258.8,202.8 258.4,199.1 256.3,198.8 253.2,201.7 249,207.8 247.3,211.5 248.1,212.8 250.6,213.3 254.7,213.2" fill="url(#sh3)" fill-opacity="0.45"/>
<polyline points="247.9,211.1 248.6,212.2 250.8,212.7 254.6,212.6 257.1,209.4" fill="none" stroke="#f6f6f6" stroke-opacity="0.6" stroke-width="1.1" stroke-linecap="round"/>
<polygon points="267.2,214.3 273.4,208.1 276.5,204.8 276.5,204.3 275.5,203.1 273.7,201.2 271.1,199.2 267.8,197.3 264.5,197 261.2,198.5 258.8,202.8 257.5,209.7 258.6,214.2 262.2,216.4" fill="rgb(133,133,133)" stroke="#555555" stroke-width="0.8"/>
<polygon points="267.2,214.3 273.4,208.1 276.5,204.8 276.5,204.3 275.5,203.1 273.7,201.2 271.1,199.2 267.8,197.3 264.5,197 261.2,198.5 258.8,202.8 257.5,209.7 258.6,214.2 262.2,216.4" fill="url(#sh3)" fill-opacity="0.45"/>
<polyline points="275.8,204.4 274.9,203.3 273.3,201.5 270.9,199.7 267.8,197.8 264.7,197.6 261.6,199 259.5,202.9" fill="none" stroke="#f6f6f6" stroke-opacity="0.6" stroke-width="1.1" stroke-linecap="round"/>
<polygon points="279.4,201.7 277.4,203.3 276.5,204.3 276.5,204.8 278.6,207.2 282.8,211.5 288.2,210.5 294.7,204 297.9,200.6 297.8,200 293.4,200 284.8,200.6" fill="rgb(147,147,147)" stroke="#555555" stroke-width="0.8"/>
<polygon points="279.4,201.7 277.4,203.3 276.5,204.3 276.5,204.8 278.6,207.2 282.8,211.5 288.2,210.5 294.7,204 297.9,200.6 297.8,200 293.4,200 284.8,200.6" fill="url(#sh2)" fill-opacity="0.45"/>
<polyline points="279.2,207 283,211 288,210 294,204 297,200.8" fill="none" stroke="#f6f6f6" stroke-opacity="0.6" stroke-width="1.1" stroke-linecap="round"/>
<polygon points="294.7,204 288.2,210.5 285.5,214.9 286.8,217.3 291.6,216.3 299.9,211.8 304,209.3 304,208.9 302.5,206.7 299.5,202.8" fill="rgb(128,128,128)" stroke="#555555" stroke-width="0.8"/>
<polygon points="294.7,204 288.2,210.5 285.5,214.9 286.8,217.3 291.6,216.3 299.9,211.8 304,209.3 304,208.9 302.5,206.7 299.5,202.8" fill="url(#sh1)" fill-opacity="0.45"/>
<polyline points="299.2,203.4 294.8,204.5 288.8,210.5" fill="none" stroke="#f6f6f6" stroke-opacity="0.6" stroke-width="1.1" stroke-linecap="round"/>
<polygon points="196,221 194.3,217 191.8,214.3 188.6,212.8 187,215.3 187,221.9 189.5,224.6 194.4,223.5" fill="rgb(139,139,139)" stroke="#555555" stroke-width="0.8"/>
<polygon points="196,221 194.3,217 191.8,214.3 188.6,212.8 187,215.3 187,221.9 189.5,224.6 194.4,223.5" fill="url(#sh1)" fill-opacity="0.45"/>
<polyline points="195.4,220.7 193.9,217.3 191.7,214.9 188.9,213.6 187.5,215.8" fill="none" stroke="#f6f6f6" stroke-opacity="0.6" stroke-width="1.1" stroke-linecap="round"/>
<polygon points="194.1,234.1 196.6,227.3 197.6,223.6 197.1,223.2 194.4,223.5 189.5,224.6 187,227.5 187,232.2 188,235.3 189.9,236.8 191.4,237.5 192.3,237.5" fill="rgb(129,129,129)" stroke="#555555" stroke-width="0.8"/>
<polygon points="194.1,234.1 196.6,227.3 197.6,223.6 197.1,223.2 194.4,223.5 189.5,224.6 187,227.5 187,232.2 188,235.3 189.9,236.8 191.4,237.5 192.3,237.5" fill="url(#sh2)" fill-opacity="0.45"/>
<polyline points="197.1,224.3 196.6,223.9 194.2,224.2 189.7,225.2 187.5,227.8 187.5,232 188.4,234.8 190.2,236.1" fill="none" stroke="#f6f6f6" stroke-opacity="0.6" stroke-width="1.1" stroke-linecap="round"/>
<polygon points="218.6,235.4 216.1,236.4 212.8,233.7 208.7,227.4 208.7,221.2 212.8,215.1 218,213.3 224.3,215.6 227.7,217.4 228.2,218.7 227.2,222.4 224.5,228.5 222.4,232.4 220.7,234" fill="rgb(137,137,137)" stroke="#555555" stroke-width="0.8"/>
<polygon points="218.6,235.4 216.1,236.4 212.8,233.7 208.7,227.4 208.7,221.2 212.8,215.1 218,213.3 224.3,215.6 227.7,217.4 228.2,218.7 227.2,222.4 224.5,228.5 222.4,232.4 220.7,234" fill="url(#sh0)" fill-opacity="0.45"/>
<polyline points="216.3,235.7 213.2,233.2 209.4,227.3 209.4,221.5 213.2,215.8 218.1,214 223.9,216.3 227.1,217.9" fill="none" stroke="#f6f6f6" stroke-opacity="0.6" stroke-width="1.1" stroke-linecap="round"/>
<polygon points="239.3,232.5 239.4,226.9 236.6,222.9 231.2,220.5 227.2,222.4 224.5,228.5 227.2,232.5 235.3,234.4" fill="rgb(143,143,143)" stroke="#555555" stroke-width="0.8"/>
<polygon points="239.3,232.5 239.4,226.9 236.6,222.9 231.2,220.5 227.2,222.4 224.5,228.5 227.2,232.5 235.3,234.4" fill="url(#sh1)" fill-opacity="0.45"/>
<polyline points="227.7,232.1 235,233.8 238.7,232.1 238.7,226.9" fill="none" stroke="#f6f6f6" stroke-opacity="0.6" stroke-width="1.1" stroke-linecap="round"/>
<polygon points="252.5,232.6 244.1,235.4 239.8,236.4 239.4,235.7 239.3,232.5 239.4,226.9 240.8,223.4 243.8,221.9 248.1,223.7 253.8,228.7" fill="rgb(134,134,134)" stroke="#555555" stroke-width="0.8"/>
<polygon points="252.5,232.6 244.1,235.4 239.8,236.4 239.4,235.7 239.3,232.5 239.4,226.9 240.8,223.4 243.8,221.9 248.1,223.7 253.8,228.7" fill="url(#sh1)" fill-opacity="0.45"/>
<polyline points="239.8,227.1 241.1,223.9 243.8,222.6" fill="none" stroke="#f6f6f6" stroke-opacity="0.6" stroke-width="1.1" stroke-linecap="round"/>
<polygon points="253.8,228.7 248.1,223.7 246,219.3 247.7,215.3 250.6,213.3 254.7,213.2 258.6,214.2 262.2,216.4 264.3,219.8 264.8,224.5 263.3,228 259.7,230.4 257.6,231.5 257,231.3" fill="rgb(138,138,138)" stroke="#555555" stroke-width="0.8"/>
<polygon points="253.8,228.7 248.1,223.7 246,219.3 247.7,215.3 250.6,213.3 254.7,213.2 258.6,214.2 262.2,216.4 264.3,219.8 264.8,224.5 263.3,228 259.7,230.4 257.6,231.5 257,231.3" fill="url(#sh2)" fill-opacity="0.45"/>
<polyline points="257.5,230.8 256.9,230.7 254,228.3 248.7,223.6 246.8,219.5 248.3,215.8" fill="none" stroke="#f6f6f6" stroke-opacity="0.6" stroke-width="1.1" stroke-linecap="round"/>
<polygon points="268.5,228.2 275.4,231.1 281.1,230.3 285.5,226 287.6,222.5 287.5,219.9 286.8,217.3 285.5,214.9 282.8,211.5 278.6,207.2 273.4,208.1 267.2,214.3 264.3,219.8 264.8,224.5" fill="rgb(128,128,128)" stroke="#555555" stroke-width="0.8"/>
<polygon points="268.5,228.2 275.4,231.1 281.1,230.3 285.5,226 287.6,222.5 287.5,219.9 286.8,217.3 285.5,214.9 282.8,211.5 278.6,207.2 273.4,208.1 267.2,214.3 264.3,219.8 264.8,224.5" fill="url(#sh0)" fill-opacity="0.45"/>
<polyline points="265.1,219.8 265.6,224.2 269,227.7 275.5,230.4 280.9,229.7" fill="none" stroke="#f6f6f6" stroke-opacity="0.6" stroke-width="1.1" stroke-linecap="round"/>
<polygon points="299.9,211.8 291.6,216.3 287.5,219.9 287.6,222.5 291,225.2 297.6,227.9 301.7,229.2 303.2,228.9 304,223.9 304,214.3" fill="rgb(140,140,140)" stroke="#555555" stroke-width="0.8"/>
<polygon points="299.9,211.8 291.6,216.3 287.5,219.9 287.6,222.5 291,225.2 297.6,227.9 301.7,229.2 303.2,228.9 304,223.9 304,214.3" fill="url(#sh2)" fill-opacity="0.45"/>
<polyline points="299.6,212.6 292,216.7 288.2,220 288.3,222.5 291.4,225" fill="none" stroke="#f6f6f6" stroke-opacity="0.6" stroke-width="1.1" stroke-linecap="round"/>
<polygon points="189.9,236.8 188,235.3 187,235.3 187,236.8 188,237.5 189.9,237.5" fill="rgb(138,138,138)" stroke="#555555" stroke-width="0.8"/>
<polygon points="189.9,236.8 188,235.3 187,235.3 187,236.8 188,237.5 189.9,237.5" fill="url(#sh0)" fill-opacity="0.45"/>
<polyline points="189.2,236.6 188.1,235.8 187.6,235.8 187.6,236.6" fill="none" stroke="#f6f6f6" stroke-opacity="0.6" stroke-width="1.1" stroke-linecap="round"/>
<polygon points="194.1,234.1 196.6,227.3 200.1,224 204.4,224.1 208.7,227.4 212.8,233.7 214.8,237.1 214.7,237.4 209.2,237.5 198.3,237.5" fill="rgb(141,141,141)" stroke="#555555" stroke-width="0.8"/>
<polygon points="194.1,234.1 196.6,227.3 200.1,224 204.4,224.1 208.7,227.4 212.8,233.7 214.8,237.1 214.7,237.4 209.2,237.5 198.3,237.5" fill="url(#sh0)" fill-opacity="0.45"/>
<polyline points="208.9,237.1 198.8,237.1 194.9,233.9 197.3,227.6" fill="none" stroke="#f6f6f6" stroke-opacity="0.6" stroke-width="1.1" stroke-linecap="round"/>
<polygon points="218.6,235.4 216.1,236.4 214.8,237.1 214.7,237.4 216.9,237.5 221.6,237.5 222.9,236.8 220.9,235.5" fill="rgb(131,131,131)" stroke="#555555" stroke-width="0.8"/>
<polygon points="218.6,235.4 216.1,236.4 214.8,237.1 214.7,237.4 216.9,237.5 221.6,237.5 222.9,236.8 220.9,235.5" fill="url(#sh1)" fill-opacity="0.45"/>
<polyline points="221.9,236.8 220.3,235.8 218.5,235.7 216.6,236.5" fill="none" stroke="#f6f6f6" stroke-opacity="0.6" stroke-width="1.1" stroke-linecap="round"/>
<polygon points="239.9,236.9 239.9,237.3 235.9,237.5 227.9,237.5 222.9,236.8 220.9,235.5 220.7,234 222.4,232.4 227.2,232.5 235.3,234.4 239.4,235.7 239.8,236.4" fill="rgb(141,141,141)" stroke="#555555" stroke-width="0.8"/>
<polygon points="239.9,236.9 239.9,237.3 235.9,237.5 227.9,237.5 222.9,236.8 220.9,235.5 220.7,234 222.4,232.4 227.2,232.5 235.3,234.4 239.4,235.7 239.8,236.4" fill="url(#sh3)" fill-opacity="0.45"/>
<polyline points="235.5,237.3 228.2,237.3 223.6,236.7 221.8,235.5 221.6,234.2 223.1,232.7 227.6,232.8" fill="none" stroke="#f6f6f6" stroke-opacity="0.6" stroke-width="1.1" stroke-linecap="round"/>
<polygon points="252.5,232.6 244.1,235.4 239.9,236.9 239.9,237.3 244.3,237.5 253.2,237.5 257.7,236 257.8,233.1 257.6,231.5 257,231.3" fill="rgb(146,146,146)" stroke="#555555" stroke-width="0.8"/>
<polygon points="252.5,232.6 244.1,235.4 239.9,236.9 239.9,237.3 244.3,237.5 253.2,237.5 257.7,236 257.8,233.1 257.6,231.5 257,231.3" fill="url(#sh1)" fill-opacity="0.45"/>
<polyline points="244.7,235.3 240.9,236.7 240.8,237.1 244.9,237.3 252.9,237.3 257,235.9 257.2,233.3" fill="none" stroke="#f6f6f6" stroke-opacity="0.6" stroke-width="1.1" stroke-linecap="round"/>
<polygon points="257.8,233.1 257.7,236 262.3,237.5 271.6,237.5 276.9,236.5 278.2,234.4 278.9,233.1 278.9,232.7 275.4,231.1 268.5,228.2 263.3,228 259.7,230.4" fill="rgb(146,146,146)" stroke="#555555" stroke-width="0.8"/>
<polygon points="257.8,233.1 257.7,236 262.3,237.5 271.6,237.5 276.9,236.5 278.2,234.4 278.9,233.1 278.9,232.7 275.4,231.1 268.5,228.2 263.3,228 259.7,230.4" fill="url(#sh1)" fill-opacity="0.45"/>
<polyline points="258.6,235.8 262.8,237.2 271.4,237.2 276.3,236.2" fill="none" stroke="#f6f6f6" stroke-opacity="0.6" stroke-width="1.1" stroke-linecap="round"/>
<polygon points="300.4,231.4 299.4,235.5 294.6,237.5 286.3,237.5 281.3,236.5 279.7,234.4 278.9,233.1 278.9,232.7 281.1,230.3 285.5,226 291,225.2 297.6,227.9" fill="rgb(146,146,146)" stroke="#555555" stroke-width="0.8"/>
<polygon points="300.4,231.4 299.4,235.5 294.6,237.5 286.3,237.5 281.3,236.5 279.7,234.4 278.9,233.1 278.9,232.7 281.1,230.3 285.5,226 291,225.2 297.6,227.9" fill="url(#sh0)" fill-opacity="0.45"/>
<polyline points="279.6,233.1 279.5,232.7 281.6,230.5 285.7,226.5 290.8,225.8" fill="none" stroke="#f6f6f6" stroke-opacity="0.6" stroke-width="1.1" stroke-linecap="round"/>
<polygon points="300.4,231.4 299.4,235.5 300.1,237.5 302.7,237.5 304,235.3 304,230.9 303.2,228.9 301.7,229.2" fill="rgb(137,137,137)" stroke="#555555" stroke-width="0.8"/>
<polygon points="300.4,231.4 299.4,235.5 300.1,237.5 302.7,237.5 304,235.3 304,230.9 303.2,228.9 301.7,229.2" fill="url(#sh2)" fill-opacity="0.45"/>
<polyline points="300.7,231.7 299.8,235.1 300.4,236.7 302.6,236.7" fill="none" stroke="#f6f6f6" stroke-opacity="0.6" stroke-width="1.1" stroke-linecap="round"/>
<polygon points="276.9,236.5 278.2,234.4 279.7,234.4 281.3,236.5 280.6,237.5 277.7,237.5" fill="rgb(135,135,135)" stroke="#555555" stroke-width="0.8"/>
<polygon points="276.9,236.5 278.2,234.4 279.7,234.4 281.3,236.5 280.6,237.5 277.7,237.5" fill="url(#sh1)" fill-opacity="0.45"/>
<polyline points="277.6,236.3 278.5,234.9 279.5,234.9 280.6,236.3" fill="none" stroke="#f6f6f6" stroke-opacity="0.6" stroke-width="1.1" stroke-linecap="round"/>
</g></g>
<g filter="url(#semblur)"><g clip-path="url(#s3)">
<rect x="27.4" y="254.4" width="114.6" height="80" fill="#707070"/>
<polygon points="27.6,254.4 27.5,254.5 27.4,254.5 27.4,254.4 27.5,254.4 27.6,254.4" fill="rgb(113,113,113)" stroke="#4a4a4a" stroke-width="0.7"/>
<polygon points="27.6,254.4 27.5,254.5 27.4,254.5 27.4,254.4 27.5,254.4 27.6,254.4" fill="url(#sh0)" fill-opacity="0.25"/>
<polyline points="27.4,254.5 27.4,254.4 27.5,254.4" fill="none" stroke="#eeeeee" stroke-opacity="0.6" stroke-width="0.9" stroke-linecap="round"/>
<polygon points="36.4,254.5 36.2,254.7 35.5,254.7 34.2,254.5 34.3,254.4 35.7,254.4" fill="rgb(117,117,117)" stroke="#4a4a4a" stroke-width="0.7"/>
<polygon points="36.4,254.5 36.2,254.7 35.5,254.7 34.2,254.5 34.3,254.4 35.7,254.4" fill="url(#sh1)" fill-opacity="0.25"/>
<polyline points="35.9,254.5 35.8,254.6 35.4,254.6" fill="none" stroke="#eeeeee" stroke-opacity="0.6" stroke-width="0.9" stroke-linecap="round"/>
<polygon points="58.6,256.4 55.2,258.5 53.3,259.6 52.8,259.5 52.2,258.2 51.6,255.7 53.5,254.4 57.8,254.4 60,254.6 60.2,255.1" fill="rgb(128,128,128)" stroke="#4a4a4a" stroke-width="0.7"/>
<polygon points="58.6,256.4 55.2,258.5 53.3,259.6 52.8,259.5 52.2,258.2 51.6,255.7 53.5,254.4 57.8,254.4 60,254.6 60.2,255.1" fill="url(#sh3)" fill-opacity="0.25"/>
<polyline points="53.2,259.1 52.7,258 52.2,255.8 53.8,254.7" fill="none" stroke="#eeeeee" stroke-opacity="0.6" stroke-width="0.9" stroke-linecap="round"/>
<polygon points="68.2,254.9 68.1,254.6 66,254.4 62,254.4 60,254.6 60.2,255.1 61.1,255.7 62.7,256.5 64.7,256.4 67,255.5" fill="rgb(106,106,106)" stroke="#4a4a4a" stroke-width="0.7"/>
<polygon points="68.2,254.9 68.1,254.6 66,254.4 62,254.4 60,254.6 60.2,255.1 61.1,255.7 62.7,256.5 64.7,256.4 67,255.5" fill="url(#sh0)" fill-opacity="0.25"/>
<polyline points="67.4,254.7 65.7,254.5 62.4,254.5 60.8,254.7 60.9,255.1 61.6,255.6" fill="none" stroke="#eeeeee" stroke-opacity="0.6" stroke-width="0.9" stroke-linecap="round"/>
<polygon points="68.1,254.6 68.2,254.9 68.8,255.2 70,255.6 71.1,255.5 72.2,255 72.8,254.6 72.8,254.5 71.6,254.4 69.3,254.4" fill="rgb(106,106,106)" stroke="#4a4a4a" stroke-width="0.7"/>
<polygon points="68.1,254.6 68.2,254.9 68.8,255.2 70,255.6 71.1,255.5 72.2,255 72.8,254.6 72.8,254.5 71.6,254.4 69.3,254.4" fill="url(#sh0)" fill-opacity="0.25"/>
<polyline points="72.1,254.7 72.1,254.6 71.3,254.5" fill="none" stroke="#eeeeee" stroke-opacity="0.6" stroke-width="0.9" stroke-linecap="round"/>
<polygon points="72.8,254.5 72.8,254.6 74.2,254.8 76.9,255 78.7,254.9 79.5,254.6 78.1,254.4 74.6,254.4" fill="rgb(115,115,115)" stroke="#4a4a4a" stroke-width="0.7"/>
<polygon points="72.8,254.5 72.8,254.6 74.2,254.8 76.9,255 78.7,254.9 79.5,254.6 78.1,254.4 74.6,254.4" fill="url(#sh2)" fill-opacity="0.25"/>
<polyline points="76.7,254.9 78.1,254.8 78.6,254.6 77.6,254.5" fill="none" stroke="#eeeeee" stroke-opacity="0.6" stroke-width="0.9" stroke-linecap="round"/>
<polygon points="95.7,254.9 94.7,256 92.9,256 90.1,254.9 90.6,254.4 94.3,254.4" fill="rgb(103,103,103)" stroke="#4a4a4a" stroke-width="0.7"/>
<polygon points="95.7,254.9 94.7,256 92.9,256 90.1,254.9 90.6,254.4 94.3,254.4" fill="url(#sh2)" fill-opacity="0.25"/>
<polyline points="90.9,255 91.2,254.6 94,254.6" fill="none" stroke="#eeeeee" stroke-opacity="0.6" stroke-width="0.9" stroke-linecap="round"/>
<polygon points="102.5,256.9 100,255.2 100.7,254.4 104.8,254.4 106.1,255.2 104.6,256.9" fill="rgb(102,102,102)" stroke="#4a4a4a" stroke-width="0.7"/>
<polygon points="102.5,256.9 100,255.2 100.7,254.4 104.8,254.4 106.1,255.2 104.6,256.9" fill="url(#sh1)" fill-opacity="0.25"/>
<polyline points="100.7,255.3 101.3,254.6 104.4,254.6" fill="none" stroke="#eeeeee" stroke-opacity="0.6" stroke-width="0.9" stroke-linecap="round"/>
<polygon points="110.4,254.9 111.4,256 112.9,256 114.8,254.9 114.3,254.4 111.4,254.4" fill="rgb(100,100,100)" stroke="#4a4a4a" stroke-width="0.7"/>
<polygon points="110.4,254.9 111.4,256 112.9,256 114.8,254.9 114.3,254.4 111.4,254.4" fill="url(#sh3)" fill-opacity="0.25"/>
<polyline points="111.1,255 111.8,255.7 112.8,255.7" fill="none" stroke="#eeeeee" stroke-opacity="0.6" stroke-width="0.9" stroke-linecap="round"/>
<polygon points="120.2,254.7 121.1,255.4 121.9,255.4 122.5,254.7 122,254.4 120.5,254.4" fill="rgb(111,111,111)" stroke="#4a4a4a" stroke-width="0.7"/>
<polygon points="120.2,254.7 121.1,255.4 121.9,255.4 122.5,254.7 122,254.4 120.5,254.4" fill="url(#sh0)" fill-opacity="0.25"/>
<polyline points="121.9,254.8 121.7,254.6 121,254.6" fill="none" stroke="#eeeeee" stroke-opacity="0.6" stroke-width="0.9" stroke-linecap="round"/>
<polygon points="131.3,254.6 130.6,255 130.1,255 129.7,254.6 130,254.4 131.1,254.4" fill="rgb(125,125,125)" stroke="#4a4a4a" stroke-width="0.7"/>
<polygon points="131.3,254.6 130.6,255 130.1,255 129.7,254.6 130,254.4 131.1,254.4" fill="url(#sh1)" fill-opacity="0.25"/>
<polyline points="130.9,254.6 130.6,254.8 130.3,254.8 130.1,254.6" fill="none" stroke="#eeeeee" stroke-opacity="0.6" stroke-width="0.9" stroke-linecap="round"/>
<polygon points="138.8,254.9 137.5,256 136.7,256 136.4,254.9 137,254.4 138.6,254.4" fill="rgb(109,109,109)" stroke="#4a4a4a" stroke-width="0.7"/>
<polygon points="138.8,254.9 137.5,256 136.7,256 136.4,254.9 137,254.4 138.6,254.4" fill="url(#sh2)" fill-opacity="0.25"/>
<polyline points="137.1,255.5 137,255 137.3,254.7" fill="none" stroke="#eeeeee" stroke-opacity="0.6" stroke-width="0.9" stroke-linecap="round"/>
<polygon points="36.6,257.7 36.3,255.7 35.5,254.7 34.2,254.5 32.1,254.4 29.1,254.4 27.6,254.4 27.5,254.5 27.4,256.7 27.4,260.9 28.1,263.3 29.4,263.8 31.7,262.7 35,260" fill="rgb(108,108,108)" stroke="#4a4a4a" stroke-width="0.7"/>
<polygon points="36.6,257.7 36.3,255.7 35.5,254.7 34.2,254.5 32.1,254.4 29.1,254.4 27.6,254.4 27.5,254.5 27.4,256.7 27.4,260.9 28.1,263.3 29.4,263.8 31.7,262.7 35,260" fill="url(#sh2)" fill-opacity="0.25"/>
<polyline points="27.8,256.8 27.8,260.6 28.4,262.7 29.6,263.1 31.7,262.2 34.6,259.7 36,257.7" fill="none" stroke="#eeeeee" stroke-opacity="0.6" stroke-width="0.9" stroke-linecap="round"/>
<polygon points="42.7,263.2 45.4,262.6 46.1,260.3 44.8,256.4 42.2,254.4 38.3,254.4 36.4,254.5 36.2,254.7 36.3,255.7 36.6,257.7 37.9,259.9 40.2,262.3" fill="rgb(118,118,118)" stroke="#4a4a4a" stroke-width="0.7"/>
<polygon points="42.7,263.2 45.4,262.6 46.1,260.3 44.8,256.4 42.2,254.4 38.3,254.4 36.4,254.5 36.2,254.7 36.3,255.7 36.6,257.7 37.9,259.9 40.2,262.3" fill="url(#sh1)" fill-opacity="0.25"/>
<polyline points="44.8,262.1 45.4,260.1 44.3,256.6 42,254.8 38.6,254.8" fill="none" stroke="#eeeeee" stroke-opacity="0.6" stroke-width="0.9" stroke-linecap="round"/>
<polygon points="44.8,256.4 46.1,260.3 47.1,262.4 47.8,262.5 49.2,261.8 51.4,260.3 52.2,258.2 51.6,255.7 49.5,254.4 45.9,254.4" fill="rgb(117,117,117)" stroke="#4a4a4a" stroke-width="0.7"/>
<polygon points="44.8,256.4 46.1,260.3 47.1,262.4 47.8,262.5 49.2,261.8 51.4,260.3 52.2,258.2 51.6,255.7 49.5,254.4 45.9,254.4" fill="url(#sh0)" fill-opacity="0.25"/>
<polyline points="51,260.1 51.7,258.3 51.2,256.1 49.4,255" fill="none" stroke="#eeeeee" stroke-opacity="0.6" stroke-width="0.9" stroke-linecap="round"/>
<polygon points="62.1,263.1 59.6,263.9 57.1,263.1 54.7,260.8 55.2,258.5 58.6,256.4 61.1,255.7 62.7,256.5 63.5,258.3 63.4,261.2" fill="rgb(118,118,118)" stroke="#4a4a4a" stroke-width="0.7"/>
<polygon points="62.1,263.1 59.6,263.9 57.1,263.1 54.7,260.8 55.2,258.5 58.6,256.4 61.1,255.7 62.7,256.5 63.5,258.3 63.4,261.2" fill="url(#sh1)" fill-opacity="0.25"/>
<polyline points="59.6,263.4 57.4,262.7 55.4,260.6" fill="none" stroke="#eeeeee" stroke-opacity="0.6" stroke-width="0.9" stroke-linecap="round"/>
<polygon points="67,255.5 64.7,256.4 63.5,258.3 63.4,261.2 63.8,263.2 64.8,264.2 66.9,264.1 70.1,262.7 71.4,260.5 70.8,257.3 70,255.6 68.8,255.2" fill="rgb(125,125,125)" stroke="#4a4a4a" stroke-width="0.7"/>
<polygon points="67,255.5 64.7,256.4 63.5,258.3 63.4,261.2 63.8,263.2 64.8,264.2 66.9,264.1 70.1,262.7 71.4,260.5 70.8,257.3 70,255.6 68.8,255.2" fill="url(#sh2)" fill-opacity="0.25"/>
<polyline points="64.2,262.7 65.1,263.7 66.9,263.5 69.7,262.4" fill="none" stroke="#eeeeee" stroke-opacity="0.6" stroke-width="0.9" stroke-linecap="round"/>
<polygon points="78,257.6 77.5,262.7 76.9,265.4 76.4,265.8 76.1,266 76,266 74.9,265.1 72.8,263.1 71.4,260.5 70.8,257.3 71.1,255.5 72.2,255 74.2,254.8 76.9,255" fill="rgb(126,126,126)" stroke="#4a4a4a" stroke-width="0.7"/>
<polygon points="78,257.6 77.5,262.7 76.9,265.4 76.4,265.8 76.1,266 76,266 74.9,265.1 72.8,263.1 71.4,260.5 70.8,257.3 71.1,255.5 72.2,255 74.2,254.8 76.9,255" fill="url(#sh3)" fill-opacity="0.25"/>
<polyline points="71.5,256 72.5,255.6 74.2,255.5 76.7,255.6 77.7,258 77.2,262.5 76.7,264.9" fill="none" stroke="#eeeeee" stroke-opacity="0.6" stroke-width="0.9" stroke-linecap="round"/>
<polygon points="78,257.6 77.5,262.7 79,264.9 82.5,264.2 84.5,262.9 85.1,260.8 85,258.5 84.3,255.8 82.9,254.4 80.9,254.4 79.5,254.6 78.7,254.9" fill="rgb(100,100,100)" stroke="#4a4a4a" stroke-width="0.7"/>
<polygon points="78,257.6 77.5,262.7 79,264.9 82.5,264.2 84.5,262.9 85.1,260.8 85,258.5 84.3,255.8 82.9,254.4 80.9,254.4 79.5,254.6 78.7,254.9" fill="url(#sh1)" fill-opacity="0.25"/>
<polyline points="84.6,260.6 84.6,258.5 83.9,256.1 82.7,254.9" fill="none" stroke="#eeeeee" stroke-opacity="0.6" stroke-width="0.9" stroke-linecap="round"/>
<polygon points="90.1,254.9 92.9,256 94.2,257.4 93.9,259.3 93.8,260.3 93.6,260.4 91.5,260.3 87.4,260 85,258.5 84.3,255.8 85.1,254.4 87.5,254.4" fill="rgb(97,97,97)" stroke="#4a4a4a" stroke-width="0.7"/>
<polygon points="90.1,254.9 92.9,256 94.2,257.4 93.9,259.3 93.8,260.3 93.6,260.4 91.5,260.3 87.4,260 85,258.5 84.3,255.8 85.1,254.4 87.5,254.4" fill="url(#sh2)" fill-opacity="0.25"/>
<polyline points="90.1,255.3 92.5,256.2 93.6,257.5 93.4,259.1 93.3,259.9 93.2,260" fill="none" stroke="#eeeeee" stroke-opacity="0.6" stroke-width="0.9" stroke-linecap="round"/>
<polygon points="93.9,259.3 94.2,257.4 94.7,256 95.7,254.9 96.8,254.4 98.1,254.4 100,255.2 102.5,256.9 103.8,258.1 103.8,259 103.2,260.5 102,262.4 99.5,262.6 95.7,261" fill="rgb(127,127,127)" stroke="#4a4a4a" stroke-width="0.7"/>
<polygon points="93.9,259.3 94.2,257.4 94.7,256 95.7,254.9 96.8,254.4 98.1,254.4 100,255.2 102.5,256.9 103.8,258.1 103.8,259 103.2,260.5 102,262.4 99.5,262.6 95.7,261" fill="url(#sh3)" fill-opacity="0.25"/>
<polyline points="103.2,258.1 103.2,258.9 102.7,260.2 101.6,261.9 99.4,262 96.1,260.6 94.5,259.1 94.7,257.5" fill="none" stroke="#eeeeee" stroke-opacity="0.6" stroke-width="0.9" stroke-linecap="round"/>
<polygon points="111.4,256 110.4,254.9 109.1,254.4 107.6,254.4 106.1,255.2 104.6,256.9 103.8,258.1 103.8,259 105.7,260.3 109.4,261.9 111.8,262 112.9,260.5 113.1,259 112.3,257.3" fill="rgb(111,111,111)" stroke="#4a4a4a" stroke-width="0.7"/>
<polygon points="111.4,256 110.4,254.9 109.1,254.4 107.6,254.4 106.1,255.2 104.6,256.9 103.8,258.1 103.8,259 105.7,260.3 109.4,261.9 111.8,262 112.9,260.5 113.1,259 112.3,257.3" fill="url(#sh3)" fill-opacity="0.25"/>
<polyline points="107.8,254.9 106.4,255.6 105.1,257 104.5,258.1 104.5,258.9" fill="none" stroke="#eeeeee" stroke-opacity="0.6" stroke-width="0.9" stroke-linecap="round"/>
<polygon points="121.5,256.7 121.4,258.5 119.4,259.5 115.5,259.7 113.1,259 112.3,257.3 112.9,256 114.8,254.9 116.8,254.4 118.8,254.4 120.2,254.7 121.1,255.4" fill="rgb(103,103,103)" stroke="#4a4a4a" stroke-width="0.7"/>
<polygon points="121.5,256.7 121.4,258.5 119.4,259.5 115.5,259.7 113.1,259 112.3,257.3 112.9,256 114.8,254.9 116.8,254.4 118.8,254.4 120.2,254.7 121.1,255.4" fill="url(#sh2)" fill-opacity="0.25"/>
<polyline points="115.2,255.2 116.9,254.7 118.6,254.7 119.8,255 120.6,255.6 120.9,256.7" fill="none" stroke="#eeeeee" stroke-opacity="0.6" stroke-width="0.9" stroke-linecap="round"/>
<polygon points="130.8,256.7 131.7,259.8 132,261.5 131.7,262 129.9,262.5 126.7,263.1 124.6,263.1 123.5,262.5 122.5,261.4 121.8,260.1 121.4,258.5 121.5,256.7 121.9,255.4 122.5,254.7 124.5,254.4 127.8,254.4 129.7,254.6 130.1,255" fill="rgb(105,105,105)" stroke="#4a4a4a" stroke-width="0.7"/>
<polygon points="130.8,256.7 131.7,259.8 132,261.5 131.7,262 129.9,262.5 126.7,263.1 124.6,263.1 123.5,262.5 122.5,261.4 121.8,260.1 121.4,258.5 121.5,256.7 121.9,255.4 122.5,254.7 124.5,254.4 127.8,254.4 129.7,254.6 130.1,255" fill="url(#sh2)" fill-opacity="0.25"/>
<polyline points="131.1,261.6 129.6,262.1 126.7,262.7 124.7,262.6 123.8,262.1 122.9,261.2 122.2,259.9" fill="none" stroke="#eeeeee" stroke-opacity="0.6" stroke-width="0.9" stroke-linecap="round"/>
<polygon points="136.4,254.9 136.7,256 136.9,257 136.9,258 135.7,259.2 133.3,260.6 131.7,259.8 130.8,256.7 130.6,255 131.3,254.6 132.8,254.4 135.1,254.4" fill="rgb(97,97,97)" stroke="#4a4a4a" stroke-width="0.7"/>
<polygon points="136.4,254.9 136.7,256 136.9,257 136.9,258 135.7,259.2 133.3,260.6 131.7,259.8 130.8,256.7 130.6,255 131.3,254.6 132.8,254.4 135.1,254.4" fill="url(#sh1)" fill-opacity="0.25"/>
<polyline points="131.2,255.3 131.7,255 133,254.8 134.9,254.8 136,255.2 136.3,256.1 136.4,256.9" fill="none" stroke="#eeeeee" stroke-opacity="0.6" stroke-width="0.9" stroke-linecap="round"/>
<polygon points="140.7,259.5 138.2,258.8 136.9,258 136.9,257 137.5,256 138.8,254.9 140,254.4 141.3,254.4 142,255.8 142,258.5" fill="rgb(117,117,117)" stroke="#4a4a4a" stroke-width="0.7"/>
<polygon points="140.7,259.5 138.2,258.8 136.9,258 136.9,257 137.5,256 138.8,254.9 140,254.4 141.3,254.4 142,255.8 142,258.5" fill="url(#sh3)" fill-opacity="0.25"/>
<polyline points="140.5,259 138.5,258.4 137.4,257.7 137.4,256.9 137.9,256.1" fill="none" stroke="#eeeeee" stroke-opacity="0.6" stroke-width="0.9" stroke-linecap="round"/>
<polygon points="28.1,263.3 29.4,263.8 30.3,264.4 30.6,265 30.5,267.3 29.9,271.3 29.2,273.4 28.6,273.5 28.1,273.3 27.6,273 27.4,270.4 27.4,265.5" fill="rgb(107,107,107)" stroke="#4a4a4a" stroke-width="0.7"/>
<polygon points="28.1,263.3 29.4,263.8 30.3,264.4 30.6,265 30.5,267.3 29.9,271.3 29.2,273.4 28.6,273.5 28.1,273.3 27.6,273 27.4,270.4 27.4,265.5" fill="url(#sh1)" fill-opacity="0.25"/>
<polyline points="28.6,272.8 28.2,272.7 27.8,272.4 27.6,270.2 27.6,265.9 28.2,264 29.3,264.5" fill="none" stroke="#eeeeee" stroke-opacity="0.6" stroke-width="0.9" stroke-linecap="round"/>
<polygon points="30.6,265 30.3,264.4 31.7,262.7 35,260 37.9,259.9 40.2,262.3 40.7,264.8 39.3,267.4 38.6,268.6 38.6,268.6 36.6,267.8 32.8,266.1" fill="rgb(126,126,126)" stroke="#4a4a4a" stroke-width="0.7"/>
<polygon points="30.6,265 30.3,264.4 31.7,262.7 35,260 37.9,259.9 40.2,262.3 40.7,264.8 39.3,267.4 38.6,268.6 38.6,268.6 36.6,267.8 32.8,266.1" fill="url(#sh3)" fill-opacity="0.25"/>
<polyline points="36.6,267.5 33.1,266 31.3,264.9 30.9,264.4 32.2,263 35.2,260.6 37.6,260.4" fill="none" stroke="#eeeeee" stroke-opacity="0.6" stroke-width="0.9" stroke-linecap="round"/>
<polygon points="42.7,263.2 45.4,262.6 47.1,262.4 47.8,262.5 48.8,264.8 50.3,269.3 48.8,271.7 44.3,272.2 41.2,271.5 39.5,269.6 39.3,267.4 40.7,264.8" fill="rgb(99,99,99)" stroke="#4a4a4a" stroke-width="0.7"/>
<polygon points="42.7,263.2 45.4,262.6 47.1,262.4 47.8,262.5 48.8,264.8 50.3,269.3 48.8,271.7 44.3,272.2 41.2,271.5 39.5,269.6 39.3,267.4 40.7,264.8" fill="url(#sh2)" fill-opacity="0.25"/>
<polyline points="41.1,265 42.9,263.6 45.3,263 46.9,262.8" fill="none" stroke="#eeeeee" stroke-opacity="0.6" stroke-width="0.9" stroke-linecap="round"/>
<polygon points="53.2,273 52.6,272.8 52,272.4 51.3,271.8 50.3,269.3 48.8,264.8 49.2,261.8 51.4,260.3 52.8,259.5 53.3,259.6 54.7,260.8 57.1,263.1 58.1,265.3 57.8,267.4 56.5,269.6 54.5,271.9" fill="rgb(96,96,96)" stroke="#4a4a4a" stroke-width="0.7"/>
<polygon points="53.2,273 52.6,272.8 52,272.4 51.3,271.8 50.3,269.3 48.8,264.8 49.2,261.8 51.4,260.3 52.8,259.5 53.3,259.6 54.7,260.8 57.1,263.1 58.1,265.3 57.8,267.4 56.5,269.6 54.5,271.9" fill="url(#sh1)" fill-opacity="0.25"/>
<polyline points="52.1,271.8 51.5,271.3 50.6,269 49.3,265 49.6,262.3 51.6,260.9" fill="none" stroke="#eeeeee" stroke-opacity="0.6" stroke-width="0.9" stroke-linecap="round"/>
<polygon points="57.8,267.4 58.1,265.3 59.6,263.9 62.1,263.1 63.8,263.2 64.8,264.2 65.4,265.9 65.6,268.2 63.7,269.1 59.6,268.6" fill="rgb(116,116,116)" stroke="#4a4a4a" stroke-width="0.7"/>
<polygon points="57.8,267.4 58.1,265.3 59.6,263.9 62.1,263.1 63.8,263.2 64.8,264.2 65.4,265.9 65.6,268.2 63.7,269.1 59.6,268.6" fill="url(#sh2)" fill-opacity="0.25"/>
<polyline points="59.9,264.2 62.1,263.5 63.6,263.6 64.4,264.5" fill="none" stroke="#eeeeee" stroke-opacity="0.6" stroke-width="0.9" stroke-linecap="round"/>
<polygon points="67.8,272.6 68.5,273 70.6,271.4 74.2,267.8 74.9,265.1 72.8,263.1 70.1,262.7 66.9,264.1 65.4,265.9 65.6,268.2 66.2,270.1 67.1,271.6" fill="rgb(104,104,104)" stroke="#4a4a4a" stroke-width="0.7"/>
<polygon points="67.8,272.6 68.5,273 70.6,271.4 74.2,267.8 74.9,265.1 72.8,263.1 70.1,262.7 66.9,264.1 65.4,265.9 65.6,268.2 66.2,270.1 67.1,271.6" fill="url(#sh0)" fill-opacity="0.25"/>
<polyline points="67.2,264.5 65.8,266.1 66,268.1" fill="none" stroke="#eeeeee" stroke-opacity="0.6" stroke-width="0.9" stroke-linecap="round"/>
<polygon points="84.7,264.5 85.8,265.7 86.1,267.8 85.9,270.7 84.4,272.3 81.7,272.5 79.3,270.9 77.2,267.7 76.4,265.8 76.9,265.4 79,264.9 82.5,264.2" fill="rgb(129,129,129)" stroke="#4a4a4a" stroke-width="0.7"/>
<polygon points="84.7,264.5 85.8,265.7 86.1,267.8 85.9,270.7 84.4,272.3 81.7,272.5 79.3,270.9 77.2,267.7 76.4,265.8 76.9,265.4 79,264.9 82.5,264.2" fill="url(#sh2)" fill-opacity="0.25"/>
<polyline points="77,266.1 77.5,265.7 79.3,265.2 82.4,264.6" fill="none" stroke="#eeeeee" stroke-opacity="0.6" stroke-width="0.9" stroke-linecap="round"/>
<polygon points="87.4,260 91.5,260.3 93.2,261.8 92.4,264.5 90.6,266 87.7,266.2 85.8,265.7 84.7,264.5 84.5,262.9 85.1,260.8" fill="rgb(103,103,103)" stroke="#4a4a4a" stroke-width="0.7"/>
<polygon points="87.4,260 91.5,260.3 93.2,261.8 92.4,264.5 90.6,266 87.7,266.2 85.8,265.7 84.7,264.5 84.5,262.9 85.1,260.8" fill="url(#sh1)" fill-opacity="0.25"/>
<polyline points="92.5,262 91.8,264.3 90.2,265.6" fill="none" stroke="#eeeeee" stroke-opacity="0.6" stroke-width="0.9" stroke-linecap="round"/>
<polygon points="95.7,261 99.5,262.6 101.4,264 101.5,265.1 100,266.8 96.9,268.8 94.6,268.8 92.8,266.9 92.4,264.5 93.2,261.8 93.6,260.4 93.8,260.3" fill="rgb(97,97,97)" stroke="#4a4a4a" stroke-width="0.7"/>
<polygon points="95.7,261 99.5,262.6 101.4,264 101.5,265.1 100,266.8 96.9,268.8 94.6,268.8 92.8,266.9 92.4,264.5 93.2,261.8 93.6,260.4 93.8,260.3" fill="url(#sh3)" fill-opacity="0.25"/>
<polyline points="93.3,266.5 92.9,264.5 93.6,262.1 94,260.8" fill="none" stroke="#eeeeee" stroke-opacity="0.6" stroke-width="0.9" stroke-linecap="round"/>
<polygon points="102,262.4 103.2,260.5 105.7,260.3 109.4,261.9 111.4,263.8 111.5,266 111,267.9 109.9,269.3 108.7,270.1 107.5,270.4 105.5,269.3 102.8,266.9 101.5,265.1 101.4,264" fill="rgb(108,108,108)" stroke="#4a4a4a" stroke-width="0.7"/>
<polygon points="102,262.4 103.2,260.5 105.7,260.3 109.4,261.9 111.4,263.8 111.5,266 111,267.9 109.9,269.3 108.7,270.1 107.5,270.4 105.5,269.3 102.8,266.9 101.5,265.1 101.4,264" fill="url(#sh1)" fill-opacity="0.25"/>
<polyline points="109.1,262.3 110.9,264 111,266 110.5,267.6 109.5,268.9 108.5,269.6" fill="none" stroke="#eeeeee" stroke-opacity="0.6" stroke-width="0.9" stroke-linecap="round"/>
<polygon points="112.9,260.5 111.8,262 111.4,263.8 111.5,266 112.9,267.2 115.5,267.2 118.3,266 121.4,263.4 122.5,261.4 121.8,260.1 119.4,259.5 115.5,259.7" fill="rgb(122,122,122)" stroke="#4a4a4a" stroke-width="0.7"/>
<polygon points="112.9,260.5 111.8,262 111.4,263.8 111.5,266 112.9,267.2 115.5,267.2 118.3,266 121.4,263.4 122.5,261.4 121.8,260.1 119.4,259.5 115.5,259.7" fill="url(#sh1)" fill-opacity="0.25"/>
<polyline points="112.3,262.1 111.9,263.7 112,265.7 113.3,266.7" fill="none" stroke="#eeeeee" stroke-opacity="0.6" stroke-width="0.9" stroke-linecap="round"/>
<polygon points="118.5,271.3 117.4,268.6 118.3,266 121.4,263.4 123.5,262.5 124.6,263.1 125.1,265.4 125.2,269.3 123.7,271.6 120.6,272.3" fill="rgb(98,98,98)" stroke="#4a4a4a" stroke-width="0.7"/>
<polygon points="118.5,271.3 117.4,268.6 118.3,266 121.4,263.4 123.5,262.5 124.6,263.1 125.1,265.4 125.2,269.3 123.7,271.6 120.6,272.3" fill="url(#sh2)" fill-opacity="0.25"/>
<polyline points="120.7,271.7 118.9,270.8 117.9,268.4" fill="none" stroke="#eeeeee" stroke-opacity="0.6" stroke-width="0.9" stroke-linecap="round"/>
<polygon points="125.2,269.3 125.1,265.4 126.7,263.1 129.9,262.5 133.1,264.4 136.1,269 137.5,271.4 137.3,271.6 137.1,271.9 136.8,272.2 134.1,272.4 129,272.6 126.1,272.4 125.5,271.6" fill="rgb(98,98,98)" stroke="#4a4a4a" stroke-width="0.7"/>
<polygon points="125.2,269.3 125.1,265.4 126.7,263.1 129.9,262.5 133.1,264.4 136.1,269 137.5,271.4 137.3,271.6 137.1,271.9 136.8,272.2 134.1,272.4 129,272.6 126.1,272.4 125.5,271.6" fill="url(#sh2)" fill-opacity="0.25"/>
<polyline points="136.3,271.9 133.8,272.1 129.2,272.3 126.6,272.1 126.1,271.4 125.8,269.3" fill="none" stroke="#eeeeee" stroke-opacity="0.6" stroke-width="0.9" stroke-linecap="round"/>
<polygon points="136.1,269 133.1,264.4 131.7,262 132,261.5 133.3,260.6 135.7,259.2 138.2,258.8 140.7,259.5 142,262.3 142,266.9 140.9,269.8 138.7,270.7" fill="rgb(120,120,120)" stroke="#4a4a4a" stroke-width="0.7"/>
<polygon points="136.1,269 133.1,264.4 131.7,262 132,261.5 133.3,260.6 135.7,259.2 138.2,258.8 140.7,259.5 142,262.3 142,266.9 140.9,269.8 138.7,270.7" fill="url(#sh0)" fill-opacity="0.25"/>
<polyline points="133.7,260.9 135.9,259.6 138.1,259.3 140.4,260 141.5,262.4 141.5,266.6" fill="none" stroke="#eeeeee" stroke-opacity="0.6" stroke-width="0.9" stroke-linecap="round"/>
<polygon points="27.6,274.4 28.1,273.8 28.1,273.3 27.6,273 27.4,273.3 27.4,274.3" fill="rgb(113,113,113)" stroke="#4a4a4a" stroke-width="0.7"/>
<polygon points="27.6,274.4 28.1,273.8 28.1,273.3 27.6,273 27.4,273.3 27.4,274.3" fill="url(#sh2)" fill-opacity="0.25"/>
<polyline points="27.9,273.5 27.7,273.4 27.6,273.5" fill="none" stroke="#eeeeee" stroke-opacity="0.6" stroke-width="0.9" stroke-linecap="round"/>
<polygon points="29.9,271.3 30.5,267.3 32.8,266.1 36.6,267.8 37.1,270.2 34.2,273.3 32,274.5 30.3,273.7" fill="rgb(102,102,102)" stroke="#4a4a4a" stroke-width="0.7"/>
<polygon points="29.9,271.3 30.5,267.3 32.8,266.1 36.6,267.8 37.1,270.2 34.2,273.3 32,274.5 30.3,273.7" fill="url(#sh3)" fill-opacity="0.25"/>
<polyline points="30.7,273.3 30.3,271.2 30.8,267.7 32.8,266.7 36.1,268.2" fill="none" stroke="#eeeeee" stroke-opacity="0.6" stroke-width="0.9" stroke-linecap="round"/>
<polygon points="33.2,275.8 34,277.7 35.4,278.7 37.6,278.8 39.4,278 40.9,276.3 41.7,274.7 42,273.2 41.2,271.5 39.5,269.6 38.6,268.6 38.6,268.6 37.1,270.2 34.2,273.3" fill="rgb(112,112,112)" stroke="#4a4a4a" stroke-width="0.7"/>
<polygon points="33.2,275.8 34,277.7 35.4,278.7 37.6,278.8 39.4,278 40.9,276.3 41.7,274.7 42,273.2 41.2,271.5 39.5,269.6 38.6,268.6 38.6,268.6 37.1,270.2 34.2,273.3" fill="url(#sh2)" fill-opacity="0.25"/>
<polyline points="33.7,275.6 34.5,277.3 35.7,278.2 37.6,278.2 39.2,277.5" fill="none" stroke="#eeeeee" stroke-opacity="0.6" stroke-width="0.9" stroke-linecap="round"/>
<polygon points="47.8,277.1 50.8,274.2 52,272.4 51.3,271.8 48.8,271.7 44.3,272.2 42,273.2 41.7,274.7 42.8,276.2 45.1,277.8" fill="rgb(120,120,120)" stroke="#4a4a4a" stroke-width="0.7"/>
<polygon points="47.8,277.1 50.8,274.2 52,272.4 51.3,271.8 48.8,271.7 44.3,272.2 42,273.2 41.7,274.7 42.8,276.2 45.1,277.8" fill="url(#sh1)" fill-opacity="0.25"/>
<polyline points="50.3,274.2 51.3,272.6 50.7,272.1" fill="none" stroke="#eeeeee" stroke-opacity="0.6" stroke-width="0.9" stroke-linecap="round"/>
<polygon points="54.5,271.9 56.5,269.6 59.6,268.6 63.7,269.1 66.2,270.1 67.1,271.6 64.7,273 59.1,274.3 55.9,274.9 54.9,274.6 54.2,274.1 53.7,273.5" fill="rgb(129,129,129)" stroke="#4a4a4a" stroke-width="0.7"/>
<polygon points="54.5,271.9 56.5,269.6 59.6,268.6 63.7,269.1 66.2,270.1 67.1,271.6 64.7,273 59.1,274.3 55.9,274.9 54.9,274.6 54.2,274.1 53.7,273.5" fill="url(#sh0)" fill-opacity="0.25"/>
<polyline points="56.2,274.6 55.4,274.3 54.7,273.9 54.3,273.3 55,272" fill="none" stroke="#eeeeee" stroke-opacity="0.6" stroke-width="0.9" stroke-linecap="round"/>
<polygon points="58.3,276.9 62.1,280.6 64.4,282.2 65.1,281.7 66.4,279.5 68.1,275.8 69,273.7 68.9,273.4 68.5,273 67.8,272.6 64.7,273 59.1,274.3" fill="rgb(120,120,120)" stroke="#4a4a4a" stroke-width="0.7"/>
<polygon points="58.3,276.9 62.1,280.6 64.4,282.2 65.1,281.7 66.4,279.5 68.1,275.8 69,273.7 68.9,273.4 68.5,273 67.8,272.6 64.7,273 59.1,274.3" fill="url(#sh0)" fill-opacity="0.25"/>
<polyline points="68.5,273.7 68.1,273.4 67.5,273 64.8,273.4 59.8,274.6 59,276.8 62.5,280.1" fill="none" stroke="#eeeeee" stroke-opacity="0.6" stroke-width="0.9" stroke-linecap="round"/>
<polygon points="76,277.4 77.3,276.9 78.6,275.7 79.7,273.6 79.3,270.9 77.2,267.7 76.1,266 76,266 74.2,267.8 70.6,271.4 68.9,273.4 69,273.7 70.6,274.8 73.8,276.7" fill="rgb(116,116,116)" stroke="#4a4a4a" stroke-width="0.7"/>
<polygon points="76,277.4 77.3,276.9 78.6,275.7 79.7,273.6 79.3,270.9 77.2,267.7 76.1,266 76,266 74.2,267.8 70.6,271.4 68.9,273.4 69,273.7 70.6,274.8 73.8,276.7" fill="url(#sh1)" fill-opacity="0.25"/>
<polyline points="77.1,276.4 78.2,275.3 79.2,273.5 78.8,271.1 76.9,268.1 76,266.7" fill="none" stroke="#eeeeee" stroke-opacity="0.6" stroke-width="0.9" stroke-linecap="round"/>
<polygon points="79.7,273.6 78.6,275.7 79.6,277.8 82.9,279.9 84.5,281 84.6,281 85.5,279.5 87.3,276.5 87.6,274.3 86.4,272.9 84.4,272.3 81.7,272.5" fill="rgb(118,118,118)" stroke="#4a4a4a" stroke-width="0.7"/>
<polygon points="79.7,273.6 78.6,275.7 79.6,277.8 82.9,279.9 84.5,281 84.6,281 85.5,279.5 87.3,276.5 87.6,274.3 86.4,272.9 84.4,272.3 81.7,272.5" fill="url(#sh1)" fill-opacity="0.25"/>
<polyline points="86,273.3 84.3,272.8 81.9,273 80.2,273.9 79.2,275.7" fill="none" stroke="#eeeeee" stroke-opacity="0.6" stroke-width="0.9" stroke-linecap="round"/>
<polygon points="90.6,266 87.7,266.2 86.1,267.8 85.9,270.7 86.4,272.9 87.6,274.3 89.5,275 92,275 93.6,274.7 94.3,274.1 94.8,272.9 95.2,270.8 94.6,268.8 92.8,266.9" fill="rgb(116,116,116)" stroke="#4a4a4a" stroke-width="0.7"/>
<polygon points="90.6,266 87.7,266.2 86.1,267.8 85.9,270.7 86.4,272.9 87.6,274.3 89.5,275 92,275 93.6,274.7 94.3,274.1 94.8,272.9 95.2,270.8 94.6,268.8 92.8,266.9" fill="url(#sh0)" fill-opacity="0.25"/>
<polyline points="86.7,268.2 86.5,270.8 86.9,272.7 88,273.9 89.6,274.6 91.9,274.6 93.3,274.3" fill="none" stroke="#eeeeee" stroke-opacity="0.6" stroke-width="0.9" stroke-linecap="round"/>
<polygon points="95.2,270.8 94.8,272.9 95.6,274.2 97.5,274.7 100,274.9 103.2,274.6 105.3,273.4 106.3,271.5 105.5,269.3 102.8,266.9 100,266.8 96.9,268.8" fill="rgb(104,104,104)" stroke="#4a4a4a" stroke-width="0.7"/>
<polygon points="95.2,270.8 94.8,272.9 95.6,274.2 97.5,274.7 100,274.9 103.2,274.6 105.3,273.4 106.3,271.5 105.5,269.3 102.8,266.9 100,266.8 96.9,268.8" fill="url(#sh1)" fill-opacity="0.25"/>
<polyline points="97.3,269.1 95.8,270.9 95.4,272.7 96.1,273.9 97.8,274.4 100,274.5 102.8,274.3" fill="none" stroke="#eeeeee" stroke-opacity="0.6" stroke-width="0.9" stroke-linecap="round"/>
<polygon points="109.3,281.6 107.2,281.1 105.8,279.2 105.1,276 105.3,273.4 106.3,271.5 107.5,270.4 108.7,270.1 110.3,271.1 112.2,273.2 112.5,276.2 111.1,280" fill="rgb(127,127,127)" stroke="#4a4a4a" stroke-width="0.7"/>
<polygon points="109.3,281.6 107.2,281.1 105.8,279.2 105.1,276 105.3,273.4 106.3,271.5 107.5,270.4 108.7,270.1 110.3,271.1 112.2,273.2 112.5,276.2 111.1,280" fill="url(#sh2)" fill-opacity="0.25"/>
<polyline points="105.6,273.7 106.6,271.9 107.6,270.9 108.7,270.7 110.1,271.6" fill="none" stroke="#eeeeee" stroke-opacity="0.6" stroke-width="0.9" stroke-linecap="round"/>
<polygon points="117.8,274.3 118.6,273.2 118.5,271.3 117.4,268.6 115.5,267.2 112.9,267.2 111,267.9 109.9,269.3 110.3,271.1 112.2,273.2 114.2,274.5 116.4,274.7" fill="rgb(108,108,108)" stroke="#4a4a4a" stroke-width="0.7"/>
<polygon points="117.8,274.3 118.6,273.2 118.5,271.3 117.4,268.6 115.5,267.2 112.9,267.2 111,267.9 109.9,269.3 110.3,271.1 112.2,273.2 114.2,274.5 116.4,274.7" fill="url(#sh3)" fill-opacity="0.25"/>
<polyline points="113.1,267.7 111.5,268.3 110.5,269.5 110.8,271.1 112.5,273 114.3,274" fill="none" stroke="#eeeeee" stroke-opacity="0.6" stroke-width="0.9" stroke-linecap="round"/>
<polygon points="117.8,274.3 118.6,273.2 120.6,272.3 123.7,271.6 125.5,271.6 126.1,272.4 126.4,273.2 126.3,274.2 125.9,275.8 125.4,277.9 123.7,279.2 120.8,279.6 118.9,278.6 117.9,276.1" fill="rgb(127,127,127)" stroke="#4a4a4a" stroke-width="0.7"/>
<polygon points="117.8,274.3 118.6,273.2 120.6,272.3 123.7,271.6 125.5,271.6 126.1,272.4 126.4,273.2 126.3,274.2 125.9,275.8 125.4,277.9 123.7,279.2 120.8,279.6 118.9,278.6 117.9,276.1" fill="url(#sh1)" fill-opacity="0.25"/>
<polyline points="119.4,278.2 118.5,276 118.4,274.4 119.2,273.4 120.9,272.7" fill="none" stroke="#eeeeee" stroke-opacity="0.6" stroke-width="0.9" stroke-linecap="round"/>
<polygon points="128.2,275.9 132.2,278.1 134.8,277.5 136,274.1 134.1,272.4 129,272.6 126.4,273.2 126.3,274.2" fill="rgb(101,101,101)" stroke="#4a4a4a" stroke-width="0.7"/>
<polygon points="128.2,275.9 132.2,278.1 134.8,277.5 136,274.1 134.1,272.4 129,272.6 126.4,273.2 126.3,274.2" fill="url(#sh1)" fill-opacity="0.25"/>
<polyline points="129.2,272.9 127,273.4 126.9,274.3 128.5,275.7" fill="none" stroke="#eeeeee" stroke-opacity="0.6" stroke-width="0.9" stroke-linecap="round"/>
<polygon points="140.9,269.8 138.7,270.7 137.5,271.4 137.3,271.6 138.4,273.5 140.8,277 142,276.4 142,271.6" fill="rgb(118,118,118)" stroke="#4a4a4a" stroke-width="0.7"/>
<polygon points="140.9,269.8 138.7,270.7 137.5,271.4 137.3,271.6 138.4,273.5 140.8,277 142,276.4 142,271.6" fill="url(#sh2)" fill-opacity="0.25"/>
<polyline points="141.6,271.8 140.7,270.3 138.9,271.1 137.9,271.6" fill="none" stroke="#eeeeee" stroke-opacity="0.6" stroke-width="0.9" stroke-linecap="round"/>
<polygon points="28.6,273.5 29.2,273.4 30.3,273.7 32,274.5 33.2,275.8 34,277.7 34.3,278.9 34.1,279.2 32.3,280.1 29,281.6 27.4,280.4 27.4,276.7 27.6,274.4 28.1,273.8" fill="rgb(121,121,121)" stroke="#4a4a4a" stroke-width="0.7"/>
<polygon points="28.6,273.5 29.2,273.4 30.3,273.7 32,274.5 33.2,275.8 34,277.7 34.3,278.9 34.1,279.2 32.3,280.1 29,281.6 27.4,280.4 27.4,276.7 27.6,274.4 28.1,273.8" fill="url(#sh0)" fill-opacity="0.25"/>
<polyline points="29.3,280.9 27.9,279.9 27.9,276.7 28,274.8 28.4,274.2 28.9,273.9 29.4,273.9" fill="none" stroke="#eeeeee" stroke-opacity="0.6" stroke-width="0.9" stroke-linecap="round"/>
<polygon points="37.4,287.2 42.1,286.9 44.6,286.6 44.9,286.4 43.4,284.5 40.2,280.7 37.6,278.8 35.4,278.7 34.3,278.9 34.1,279.2 34.3,281.4 34.8,285.4" fill="rgb(125,125,125)" stroke="#4a4a4a" stroke-width="0.7"/>
<polygon points="37.4,287.2 42.1,286.9 44.6,286.6 44.9,286.4 43.4,284.5 40.2,280.7 37.6,278.8 35.4,278.7 34.3,278.9 34.1,279.2 34.3,281.4 34.8,285.4" fill="url(#sh3)" fill-opacity="0.25"/>
<polyline points="35.8,279.2 34.7,279.3 34.6,279.6" fill="none" stroke="#eeeeee" stroke-opacity="0.6" stroke-width="0.9" stroke-linecap="round"/>
<polygon points="45.4,284.4 46,280.5 45.1,277.8 42.8,276.2 40.9,276.3 39.4,278 40.2,280.7 43.4,284.5 45,286.3 45.1,286.3" fill="rgb(122,122,122)" stroke="#4a4a4a" stroke-width="0.7"/>
<polygon points="45.4,284.4 46,280.5 45.1,277.8 42.8,276.2 40.9,276.3 39.4,278 40.2,280.7 43.4,284.5 45,286.3 45.1,286.3" fill="url(#sh2)" fill-opacity="0.25"/>
<polyline points="44.9,278.2 42.8,276.8 41.2,276.9 39.9,278.4" fill="none" stroke="#eeeeee" stroke-opacity="0.6" stroke-width="0.9" stroke-linecap="round"/>
<polygon points="53.2,273 52.6,272.8 50.8,274.2 47.8,277.1 46,280.5 45.4,284.4 45.1,286.3 45.3,286.4 47.3,286 51.1,285.2 53.4,282.2 54.1,277.1 54.2,274.1 53.7,273.5" fill="rgb(100,100,100)" stroke="#4a4a4a" stroke-width="0.7"/>
<polygon points="53.2,273 52.6,272.8 50.8,274.2 47.8,277.1 46,280.5 45.4,284.4 45.1,286.3 45.3,286.4 47.3,286 51.1,285.2 53.4,282.2 54.1,277.1 54.2,274.1 53.7,273.5" fill="url(#sh0)" fill-opacity="0.25"/>
<polyline points="51,284.7 53.1,282 53.7,277.3 53.8,274.6 53.4,274 52.9,273.6 52.4,273.4" fill="none" stroke="#eeeeee" stroke-opacity="0.6" stroke-width="0.9" stroke-linecap="round"/>
<polygon points="54.1,277.1 53.4,282.2 53.1,284.9 53.2,284.9 55.8,284.5 61.1,283.6 63.8,283 64,282.6 62.1,280.6 58.3,276.9 55.9,274.9 54.9,274.6" fill="rgb(121,121,121)" stroke="#4a4a4a" stroke-width="0.7"/>
<polygon points="54.1,277.1 53.4,282.2 53.1,284.9 53.2,284.9 55.8,284.5 61.1,283.6 63.8,283 64,282.6 62.1,280.6 58.3,276.9 55.9,274.9 54.9,274.6" fill="url(#sh0)" fill-opacity="0.25"/>
<polyline points="53.8,282.1 53.5,284.5 53.6,284.5 56,284.1 60.7,283.3" fill="none" stroke="#eeeeee" stroke-opacity="0.6" stroke-width="0.9" stroke-linecap="round"/>
<polygon points="71,283.9 67.3,282.2 66.4,279.5 68.1,275.8 70.6,274.8 73.8,276.7 75.3,279.1 75.2,282.1 74.6,283.9 73.5,284.4" fill="rgb(119,119,119)" stroke="#4a4a4a" stroke-width="0.7"/>
<polygon points="71,283.9 67.3,282.2 66.4,279.5 68.1,275.8 70.6,274.8 73.8,276.7 75.3,279.1 75.2,282.1 74.6,283.9 73.5,284.4" fill="url(#sh1)" fill-opacity="0.25"/>
<polyline points="74.8,281.9 74.3,283.4 73.2,283.9 71.1,283.4 67.8,282 67,279.6" fill="none" stroke="#eeeeee" stroke-opacity="0.6" stroke-width="0.9" stroke-linecap="round"/>
<polygon points="75.9,284 77.2,284.8 79.5,284.1 82.9,282 82.9,279.9 79.6,277.8 77.3,276.9 76,277.4 75.3,279.1 75.2,282.1" fill="rgb(112,112,112)" stroke="#4a4a4a" stroke-width="0.7"/>
<polygon points="75.9,284 77.2,284.8 79.5,284.1 82.9,282 82.9,279.9 79.6,277.8 77.3,276.9 76,277.4 75.3,279.1 75.2,282.1" fill="url(#sh0)" fill-opacity="0.25"/>
<polyline points="77.3,284.3 79.3,283.7 82.2,281.9 82.2,280" fill="none" stroke="#eeeeee" stroke-opacity="0.6" stroke-width="0.9" stroke-linecap="round"/>
<polygon points="85.2,281.9 86.5,283.7 88.6,284.6 91.6,284.7 93.5,284.2 94.2,283.2 94.2,280.8 93.6,276.9 92,275 89.5,275 87.3,276.5 85.5,279.5" fill="rgb(127,127,127)" stroke="#4a4a4a" stroke-width="0.7"/>
<polygon points="85.2,281.9 86.5,283.7 88.6,284.6 91.6,284.7 93.5,284.2 94.2,283.2 94.2,280.8 93.6,276.9 92,275 89.5,275 87.3,276.5 85.5,279.5" fill="url(#sh0)" fill-opacity="0.25"/>
<polyline points="91.4,284.2 93.1,283.8 93.7,282.9 93.8,280.8 93.2,277.3" fill="none" stroke="#eeeeee" stroke-opacity="0.6" stroke-width="0.9" stroke-linecap="round"/>
<polygon points="96.2,282.8 99.4,282.9 100.4,280.9 99.1,277 97.5,274.7 95.6,274.2 94.3,274.1 93.6,274.7 93.6,276.9 94.2,280.8" fill="rgb(110,110,110)" stroke="#4a4a4a" stroke-width="0.7"/>
<polygon points="96.2,282.8 99.4,282.9 100.4,280.9 99.1,277 97.5,274.7 95.6,274.2 94.3,274.1 93.6,274.7 93.6,276.9 94.2,280.8" fill="url(#sh1)" fill-opacity="0.25"/>
<polyline points="94,275.1 94,277.1 94.5,280.4 96.2,282.1 99,282.2 99.9,280.5" fill="none" stroke="#eeeeee" stroke-opacity="0.6" stroke-width="0.9" stroke-linecap="round"/>
<polygon points="105.1,276 105.8,279.2 105.2,281.4 103.4,282.8 102.1,283.3 101.4,283 100.4,280.9 99.1,277 100,274.9 103.2,274.6" fill="rgb(97,97,97)" stroke="#4a4a4a" stroke-width="0.7"/>
<polygon points="105.1,276 105.8,279.2 105.2,281.4 103.4,282.8 102.1,283.3 101.4,283 100.4,280.9 99.1,277 100,274.9 103.2,274.6" fill="url(#sh0)" fill-opacity="0.25"/>
<polyline points="104.7,276.5 105.3,279.2 104.8,281.1 103.3,282.3" fill="none" stroke="#eeeeee" stroke-opacity="0.6" stroke-width="0.9" stroke-linecap="round"/>
<polygon points="114.5,284.2 116.5,283.3 118,282.1 118.9,280.6 118.9,278.6 117.9,276.1 116.4,274.7 114.2,274.5 112.5,276.2 111.1,280 111.1,282.6 112.7,284" fill="rgb(130,130,130)" stroke="#4a4a4a" stroke-width="0.7"/>
<polygon points="114.5,284.2 116.5,283.3 118,282.1 118.9,280.6 118.9,278.6 117.9,276.1 116.4,274.7 114.2,274.5 112.5,276.2 111.1,280 111.1,282.6 112.7,284" fill="url(#sh1)" fill-opacity="0.25"/>
<polyline points="111.6,282.2 113,283.5 114.6,283.7 116.4,282.9 117.7,281.8 118.5,280.5 118.4,278.8" fill="none" stroke="#eeeeee" stroke-opacity="0.6" stroke-width="0.9" stroke-linecap="round"/>
<polygon points="118.6,283.7 120.8,285.5 122.8,286.6 124.7,287.1 126.4,287 127.9,286.4 128.9,285.6 129.4,284.8 128.5,283 126.2,280.3 123.7,279.2 120.8,279.6 118.9,280.6 118,282.1" fill="rgb(97,97,97)" stroke="#4a4a4a" stroke-width="0.7"/>
<polygon points="118.6,283.7 120.8,285.5 122.8,286.6 124.7,287.1 126.4,287 127.9,286.4 128.9,285.6 129.4,284.8 128.5,283 126.2,280.3 123.7,279.2 120.8,279.6 118.9,280.6 118,282.1" fill="url(#sh0)" fill-opacity="0.25"/>
<polyline points="127.4,286.1 128.3,285.4 128.8,284.6 128,283.1 126,280.7" fill="none" stroke="#eeeeee" stroke-opacity="0.6" stroke-width="0.9" stroke-linecap="round"/>
<polygon points="126.2,280.3 128.5,283 130.6,284 132.4,283.4 133.6,282.2 133.9,280.2 132.2,278.1 128.2,275.9 125.9,275.8 125.4,277.9" fill="rgb(96,96,96)" stroke="#4a4a4a" stroke-width="0.7"/>
<polygon points="126.2,280.3 128.5,283 130.6,284 132.4,283.4 133.6,282.2 133.9,280.2 132.2,278.1 128.2,275.9 125.9,275.8 125.4,277.9" fill="url(#sh1)" fill-opacity="0.25"/>
<polyline points="128.4,276.4 126.4,276.4 125.9,278.2 126.7,280.3 128.7,282.6 130.5,283.5" fill="none" stroke="#eeeeee" stroke-opacity="0.6" stroke-width="0.9" stroke-linecap="round"/>
<polygon points="140.8,277 138.4,273.5 137.1,271.9 136.8,272.2 136,274.1 134.8,277.5 133.9,280.2 133.6,282.2 134.1,283.5 135.7,284.3 137.9,284 140.6,282.7 142,281.2 142,279.6" fill="rgb(112,112,112)" stroke="#4a4a4a" stroke-width="0.7"/>
<polygon points="140.8,277 138.4,273.5 137.1,271.9 136.8,272.2 136,274.1 134.8,277.5 133.9,280.2 133.6,282.2 134.1,283.5 135.7,284.3 137.9,284 140.6,282.7 142,281.2 142,279.6" fill="url(#sh1)" fill-opacity="0.25"/>
<polyline points="141.5,281 141.5,279.5 140.5,277.2 138.3,274.1 137.1,272.7 136.8,272.9 136.1,274.6" fill="none" stroke="#eeeeee" stroke-opacity="0.6" stroke-width="0.9" stroke-linecap="round"/>
<polygon points="27.4,287.1 27.4,287.2 27.4,287.3 27.4,287.3 27.4,287.3 27.4,287.1" fill="rgb(127,127,127)" stroke="#4a4a4a" stroke-width="0.7"/>
<polygon points="27.4,287.1 27.4,287.2 27.4,287.3 27.4,287.3 27.4,287.3 27.4,287.1" fill="url(#sh1)" fill-opacity="0.25"/>
<polyline points="27.4,287.2 27.4,287.2 27.4,287.3" fill="none" stroke="#eeeeee" stroke-opacity="0.6" stroke-width="0.9" stroke-linecap="round"/>
<polygon points="34.8,285.4 34.3,281.4 32.3,280.1 29,281.6 27.4,283.5 27.4,285.9 27.4,287.1 27.4,287.2 28.9,287.7 31.9,288.6 33.8,288.7 34.6,287.8" fill="rgb(124,124,124)" stroke="#4a4a4a" stroke-width="0.7"/>
<polygon points="34.8,285.4 34.3,281.4 32.3,280.1 29,281.6 27.4,283.5 27.4,285.9 27.4,287.1 27.4,287.2 28.9,287.7 31.9,288.6 33.8,288.7 34.6,287.8" fill="url(#sh3)" fill-opacity="0.25"/>
<polyline points="27.8,285.8 27.9,286.9 27.9,287 29.2,287.4 31.7,288.2" fill="none" stroke="#eeeeee" stroke-opacity="0.6" stroke-width="0.9" stroke-linecap="round"/>
<polygon points="37.4,287.2 42.1,286.9 43.6,288.4 41.8,291.9 39.1,293.4 35.5,293 33.6,291.8 33.4,290 33.8,288.7 34.6,287.8" fill="rgb(123,123,123)" stroke="#4a4a4a" stroke-width="0.7"/>
<polygon points="37.4,287.2 42.1,286.9 43.6,288.4 41.8,291.9 39.1,293.4 35.5,293 33.6,291.8 33.4,290 33.8,288.7 34.6,287.8" fill="url(#sh0)" fill-opacity="0.25"/>
<polyline points="34.1,291.6 34,290 34.2,288.8" fill="none" stroke="#eeeeee" stroke-opacity="0.6" stroke-width="0.9" stroke-linecap="round"/>
<polygon points="51.1,285.2 47.3,286 46.2,288.4 48,292.5 51.2,294.5 55.8,294.6 58.1,294.6 58.1,294.5 56.9,292 54.4,287.3 53.2,284.9 53.1,284.9" fill="rgb(112,112,112)" stroke="#4a4a4a" stroke-width="0.7"/>
<polygon points="51.1,285.2 47.3,286 46.2,288.4 48,292.5 51.2,294.5 55.8,294.6 58.1,294.6 58.1,294.5 56.9,292 54.4,287.3 53.2,284.9 53.1,284.9" fill="url(#sh0)" fill-opacity="0.25"/>
<polyline points="46.9,288.6 48.5,292.2 51.3,294.1 55.5,294.2 57.5,294.1 57.6,294" fill="none" stroke="#eeeeee" stroke-opacity="0.6" stroke-width="0.9" stroke-linecap="round"/>
<polygon points="61.1,283.6 55.8,284.5 54.4,287.3 56.9,292 59.6,292.7 62.6,289.3 64,286.5 63.8,284.3" fill="rgb(96,96,96)" stroke="#4a4a4a" stroke-width="0.7"/>
<polygon points="61.1,283.6 55.8,284.5 54.4,287.3 56.9,292 59.6,292.7 62.6,289.3 64,286.5 63.8,284.3" fill="url(#sh2)" fill-opacity="0.25"/>
<polyline points="56.3,284.8 55,287.3 57.2,291.5" fill="none" stroke="#eeeeee" stroke-opacity="0.6" stroke-width="0.9" stroke-linecap="round"/>
<polygon points="72.3,286.3 71,289.7 68.8,290.4 65.7,288.6 64,286.5 63.8,284.3 63.8,283 64,282.6 64.4,282.2 65.1,281.7 67.3,282.2 71,283.9" fill="rgb(97,97,97)" stroke="#4a4a4a" stroke-width="0.7"/>
<polygon points="72.3,286.3 71,289.7 68.8,290.4 65.7,288.6 64,286.5 63.8,284.3 63.8,283 64,282.6 64.4,282.2 65.1,281.7 67.3,282.2 71,283.9" fill="url(#sh3)" fill-opacity="0.25"/>
<polyline points="64.2,283.3 64.3,283 64.7,282.6 65.4,282.1 67.3,282.6 70.5,284" fill="none" stroke="#eeeeee" stroke-opacity="0.6" stroke-width="0.9" stroke-linecap="round"/>
<polygon points="79.7,291.6 79.9,291.2 79.4,289.6 78.4,286.7 77.2,284.8 75.9,284 74.6,283.9 73.5,284.4 72.3,286.3 71,289.7 70.4,291.4 70.5,291.6 71.5,292.5 73.3,294.2 75.6,294.2 78.3,292.6" fill="rgb(111,111,111)" stroke="#4a4a4a" stroke-width="0.7"/>
<polygon points="79.7,291.6 79.9,291.2 79.4,289.6 78.4,286.7 77.2,284.8 75.9,284 74.6,283.9 73.5,284.4 72.3,286.3 71,289.7 70.4,291.4 70.5,291.6 71.5,292.5 73.3,294.2 75.6,294.2 78.3,292.6" fill="url(#sh0)" fill-opacity="0.25"/>
<polyline points="71.5,289.6 71,291.2 71,291.4 71.9,292.2 73.5,293.6" fill="none" stroke="#eeeeee" stroke-opacity="0.6" stroke-width="0.9" stroke-linecap="round"/>
<polygon points="79.5,284.1 82.9,282 84.5,281 84.6,281 85.2,281.9 86.5,283.7 86.7,285.6 85.9,287.5 84.1,289.2 81.3,290.4 79.4,289.6 78.4,286.7" fill="rgb(100,100,100)" stroke="#4a4a4a" stroke-width="0.7"/>
<polygon points="79.5,284.1 82.9,282 84.5,281 84.6,281 85.2,281.9 86.5,283.7 86.7,285.6 85.9,287.5 84.1,289.2 81.3,290.4 79.4,289.6 78.4,286.7" fill="url(#sh3)" fill-opacity="0.25"/>
<polyline points="84.4,281.5 85,282.3 86.1,283.9 86.2,285.5" fill="none" stroke="#eeeeee" stroke-opacity="0.6" stroke-width="0.9" stroke-linecap="round"/>
<polygon points="93.5,286 94.2,288.6 93.2,290.5 90.4,291.7 88.1,291.4 86.4,289.5 85.9,287.5 86.7,285.6 88.6,284.6 91.6,284.7" fill="rgb(101,101,101)" stroke="#4a4a4a" stroke-width="0.7"/>
<polygon points="93.5,286 94.2,288.6 93.2,290.5 90.4,291.7 88.1,291.4 86.4,289.5 85.9,287.5 86.7,285.6 88.6,284.6 91.6,284.7" fill="url(#sh3)" fill-opacity="0.25"/>
<polyline points="87.1,285.9 88.8,285.1 91.4,285.1 93,286.3" fill="none" stroke="#eeeeee" stroke-opacity="0.6" stroke-width="0.9" stroke-linecap="round"/>
<polygon points="96.2,282.8 99.4,282.9 101.4,283 102.1,283.3 102.5,285.3 102.6,289 102.5,291 102.3,291.4 101.4,292.1 99.8,293 97.9,292.5 95.7,290.8 94.2,288.6 93.5,286 93.5,284.2 94.2,283.2" fill="rgb(103,103,103)" stroke="#4a4a4a" stroke-width="0.7"/>
<polygon points="96.2,282.8 99.4,282.9 101.4,283 102.1,283.3 102.5,285.3 102.6,289 102.5,291 102.3,291.4 101.4,292.1 99.8,293 97.9,292.5 95.7,290.8 94.2,288.6 93.5,286 93.5,284.2 94.2,283.2" fill="url(#sh3)" fill-opacity="0.25"/>
<polyline points="102.1,285.5 102.2,288.8 102.1,290.7 101.9,291" fill="none" stroke="#eeeeee" stroke-opacity="0.6" stroke-width="0.9" stroke-linecap="round"/>
<polygon points="113.3,285.4 113.2,286.8 110.4,288.3 105.2,290 102.6,289 102.5,285.3 103.4,282.8 105.2,281.4 107.2,281.1 109.3,281.6 111.1,282.6 112.7,284" fill="rgb(108,108,108)" stroke="#4a4a4a" stroke-width="0.7"/>
<polygon points="113.3,285.4 113.2,286.8 110.4,288.3 105.2,290 102.6,289 102.5,285.3 103.4,282.8 105.2,281.4 107.2,281.1 109.3,281.6 111.1,282.6 112.7,284" fill="url(#sh3)" fill-opacity="0.25"/>
<polyline points="112.2,284.1 112.8,285.3 112.6,286.6 110.2,287.9" fill="none" stroke="#eeeeee" stroke-opacity="0.6" stroke-width="0.9" stroke-linecap="round"/>
<polygon points="113.3,285.4 113.2,286.8 113.7,289.1 114.9,292.4 116,293.8 116.9,293.5 118.5,291.6 120.7,288.1 120.8,285.5 118.6,283.7 116.5,283.3 114.5,284.2" fill="rgb(124,124,124)" stroke="#4a4a4a" stroke-width="0.7"/>
<polygon points="113.3,285.4 113.2,286.8 113.7,289.1 114.9,292.4 116,293.8 116.9,293.5 118.5,291.6 120.7,288.1 120.8,285.5 118.6,283.7 116.5,283.3 114.5,284.2" fill="url(#sh3)" fill-opacity="0.25"/>
<polyline points="113.6,287 114,289 115.1,291.9 116,293.1 116.8,292.9 118.2,291.2" fill="none" stroke="#eeeeee" stroke-opacity="0.6" stroke-width="0.9" stroke-linecap="round"/>
<polygon points="125,288.7 123.7,291.5 121.6,293 118.8,293.2 118.5,291.6 120.7,288.1 122.8,286.6 124.7,287.1" fill="rgb(112,112,112)" stroke="#4a4a4a" stroke-width="0.7"/>
<polygon points="125,288.7 123.7,291.5 121.6,293 118.8,293.2 118.5,291.6 120.7,288.1 122.8,286.6 124.7,287.1" fill="url(#sh0)" fill-opacity="0.25"/>
<polyline points="122.7,287.1 124.3,287.5 124.5,288.9" fill="none" stroke="#eeeeee" stroke-opacity="0.6" stroke-width="0.9" stroke-linecap="round"/>
<polygon points="135.7,284.3 134.1,283.5 132.4,283.4 130.6,284 129.4,284.8 128.9,285.6 129.2,287.9 130.3,291.5 132.8,293.1 136.9,292.7 139,292.2 139.2,291.6 138.6,289.6 137.2,286.3" fill="rgb(130,130,130)" stroke="#4a4a4a" stroke-width="0.7"/>
<polygon points="135.7,284.3 134.1,283.5 132.4,283.4 130.6,284 129.4,284.8 128.9,285.6 129.2,287.9 130.3,291.5 132.8,293.1 136.9,292.7 139,292.2 139.2,291.6 138.6,289.6 137.2,286.3" fill="url(#sh0)" fill-opacity="0.25"/>
<polyline points="136.5,292.2 138.4,291.8 138.6,291.2 138.1,289.4 136.8,286.5 135.5,284.7" fill="none" stroke="#eeeeee" stroke-opacity="0.6" stroke-width="0.9" stroke-linecap="round"/>
<polygon points="140.6,282.7 137.9,284 137.2,286.3 138.6,289.6 139.9,291 141.3,290.5 142,288.2 142,284.1" fill="rgb(110,110,110)" stroke="#4a4a4a" stroke-width="0.7"/>
<polygon points="140.6,282.7 137.9,284 137.2,286.3 138.6,289.6 139.9,291 141.3,290.5 142,288.2 142,284.1" fill="url(#sh0)" fill-opacity="0.25"/>
<polyline points="138.2,284.5 137.6,286.4 138.8,289.2 139.9,290.4" fill="none" stroke="#eeeeee" stroke-opacity="0.6" stroke-width="0.9" stroke-linecap="round"/>
<polygon points="27.4,287.3 27.4,287.3 28.9,287.7 31.9,288.6 33.4,290 33.6,291.8 33.3,293.7 32.6,295.6 31,296.5 28.6,296.4 27.4,294.1 27.4,289.6" fill="rgb(102,102,102)" stroke="#4a4a4a" stroke-width="0.7"/>
<polygon points="27.4,287.3 27.4,287.3 28.9,287.7 31.9,288.6 33.4,290 33.6,291.8 33.3,293.7 32.6,295.6 31,296.5 28.6,296.4 27.4,294.1 27.4,289.6" fill="url(#sh1)" fill-opacity="0.25"/>
<polyline points="27.8,287.8 29.1,288.2 31.7,289 33,290.2 33.2,291.8" fill="none" stroke="#eeeeee" stroke-opacity="0.6" stroke-width="0.9" stroke-linecap="round"/>
<polygon points="36.6,302.6 35.9,302.6 34.8,301.1 33.1,298.1 32.6,295.6 33.3,293.7 35.5,293 39.1,293.4 41.1,294.5 41.4,296 41.1,297.9 40.2,300.1 39,301.5 37.6,302.2" fill="rgb(128,128,128)" stroke="#4a4a4a" stroke-width="0.7"/>
<polygon points="36.6,302.6 35.9,302.6 34.8,301.1 33.1,298.1 32.6,295.6 33.3,293.7 35.5,293 39.1,293.4 41.1,294.5 41.4,296 41.1,297.9 40.2,300.1 39,301.5 37.6,302.2" fill="url(#sh2)" fill-opacity="0.25"/>
<polyline points="38.9,294 40.7,294.9 40.9,296.3 40.7,297.9 39.8,299.8" fill="none" stroke="#eeeeee" stroke-opacity="0.6" stroke-width="0.9" stroke-linecap="round"/>
<polygon points="45.1,286.3 45.3,286.4 46.2,288.4 48,292.5 48.7,294.9 48.3,295.6 46.5,296.2 43.2,296.6 41.4,296 41.1,294.5 41.8,291.9 43.6,288.4 44.6,286.6 44.9,286.4 45,286.3 45.1,286.3" fill="rgb(104,104,104)" stroke="#4a4a4a" stroke-width="0.7"/>
<polygon points="45.1,286.3 45.3,286.4 46.2,288.4 48,292.5 48.7,294.9 48.3,295.6 46.5,296.2 43.2,296.6 41.4,296 41.1,294.5 41.8,291.9 43.6,288.4 44.6,286.6 44.9,286.4 45,286.3 45.1,286.3" fill="url(#sh0)" fill-opacity="0.25"/>
<polyline points="47.9,295.1 46.3,295.6 43.4,295.9 41.8,295.4 41.6,294 42.2,291.8 43.7,288.7 44.6,287.1" fill="none" stroke="#eeeeee" stroke-opacity="0.6" stroke-width="0.9" stroke-linecap="round"/>
<polygon points="52,304.5 52.6,304.6 54.2,302.2 56.8,297.3 58.1,294.7 58.1,294.7 55.8,294.6 51.2,294.5 48.7,294.9 48.3,295.6 48.2,297.7 48.6,301.1 49.5,303.3 50.9,304.1" fill="rgb(119,119,119)" stroke="#4a4a4a" stroke-width="0.7"/>
<polygon points="52,304.5 52.6,304.6 54.2,302.2 56.8,297.3 58.1,294.7 58.1,294.7 55.8,294.6 51.2,294.5 48.7,294.9 48.3,295.6 48.2,297.7 48.6,301.1 49.5,303.3 50.9,304.1" fill="url(#sh2)" fill-opacity="0.25"/>
<polyline points="54,301.9 56.4,297.4 57.5,295.2 57.5,295.1" fill="none" stroke="#eeeeee" stroke-opacity="0.6" stroke-width="0.9" stroke-linecap="round"/>
<polygon points="61.1,296.7 59.1,295.4 58.1,294.7 58.1,294.7 58.1,294.6 58.1,294.5 59.6,292.7 62.6,289.3 65.7,288.6 68.8,290.4 70.4,291.4 70.5,291.6 68.5,293.1 64.3,295.9" fill="rgb(110,110,110)" stroke="#4a4a4a" stroke-width="0.7"/>
<polygon points="61.1,296.7 59.1,295.4 58.1,294.7 58.1,294.7 58.1,294.6 58.1,294.5 59.6,292.7 62.6,289.3 65.7,288.6 68.8,290.4 70.4,291.4 70.5,291.6 68.5,293.1 64.3,295.9" fill="url(#sh0)" fill-opacity="0.25"/>
<polyline points="67.9,293.1 64.1,295.6 61.4,296.3 59.5,295.2 58.6,294.6" fill="none" stroke="#eeeeee" stroke-opacity="0.6" stroke-width="0.9" stroke-linecap="round"/>
<polygon points="73.3,294.2 71.5,292.5 68.5,293.1 64.3,295.9 62.6,298 63.5,299.3 65.7,299.9 69.3,300 71.8,299.4 73.3,298.2 74.1,297 74.2,295.7" fill="rgb(105,105,105)" stroke="#4a4a4a" stroke-width="0.7"/>
<polygon points="73.3,294.2 71.5,292.5 68.5,293.1 64.3,295.9 62.6,298 63.5,299.3 65.7,299.9 69.3,300 71.8,299.4 73.3,298.2 74.1,297 74.2,295.7" fill="url(#sh3)" fill-opacity="0.25"/>
<polyline points="69.3,299.6 71.5,299.1 72.8,298.1 73.5,297 73.6,295.8" fill="none" stroke="#eeeeee" stroke-opacity="0.6" stroke-width="0.9" stroke-linecap="round"/>
<polygon points="82.2,297.4 80.6,301.5 78.3,302.1 75.4,299.1 74.1,297 74.2,295.7 75.6,294.2 78.3,292.6 80.5,292.6 82.2,294.5" fill="rgb(126,126,126)" stroke="#4a4a4a" stroke-width="0.7"/>
<polygon points="82.2,297.4 80.6,301.5 78.3,302.1 75.4,299.1 74.1,297 74.2,295.7 75.6,294.2 78.3,292.6 80.5,292.6 82.2,294.5" fill="url(#sh1)" fill-opacity="0.25"/>
<polyline points="75.8,298.8 74.6,296.9 74.7,295.8 75.9,294.5 78.3,293.1 80.2,293.1" fill="none" stroke="#eeeeee" stroke-opacity="0.6" stroke-width="0.9" stroke-linecap="round"/>
<polygon points="84.3,295.8 86.8,296.6 88.3,295.8 88.8,293.5 88.1,291.4 86.4,289.5 84.1,289.2 81.3,290.4 79.9,291.2 79.7,291.6 80.5,292.6 82.2,294.5" fill="rgb(117,117,117)" stroke="#4a4a4a" stroke-width="0.7"/>
<polygon points="84.3,295.8 86.8,296.6 88.3,295.8 88.8,293.5 88.1,291.4 86.4,289.5 84.1,289.2 81.3,290.4 79.9,291.2 79.7,291.6 80.5,292.6 82.2,294.5" fill="url(#sh3)" fill-opacity="0.25"/>
<polyline points="84.1,289.6 81.7,290.7 80.4,291.4 80.3,291.7" fill="none" stroke="#eeeeee" stroke-opacity="0.6" stroke-width="0.9" stroke-linecap="round"/>
<polygon points="91,299.7 94.1,300 96.1,299.7 97.1,298.8 97.9,297.1 98.7,294.6 97.9,292.5 95.7,290.8 93.2,290.5 90.4,291.7 88.8,293.5 88.3,295.8 88.4,297.6 89.1,298.9" fill="rgb(127,127,127)" stroke="#4a4a4a" stroke-width="0.7"/>
<polygon points="91,299.7 94.1,300 96.1,299.7 97.1,298.8 97.9,297.1 98.7,294.6 97.9,292.5 95.7,290.8 93.2,290.5 90.4,291.7 88.8,293.5 88.3,295.8 88.4,297.6 89.1,298.9" fill="url(#sh0)" fill-opacity="0.25"/>
<polyline points="89.2,293.7 88.9,295.8 89,297.4 89.6,298.6 91.2,299.3 94,299.6 95.8,299.3" fill="none" stroke="#eeeeee" stroke-opacity="0.6" stroke-width="0.9" stroke-linecap="round"/>
<polygon points="103.8,301.1 99.6,299.2 97.9,297.1 98.7,294.6 99.8,293 101.4,292.1 104.2,293.2 108.4,296.2 110.3,298.1 110,298.9 108.9,300 106.8,301.3" fill="rgb(103,103,103)" stroke="#4a4a4a" stroke-width="0.7"/>
<polygon points="103.8,301.1 99.6,299.2 97.9,297.1 98.7,294.6 99.8,293 101.4,292.1 104.2,293.2 108.4,296.2 110.3,298.1 110,298.9 108.9,300 106.8,301.3" fill="url(#sh3)" fill-opacity="0.25"/>
<polyline points="104.2,293.6 107.9,296.3 109.7,298 109.4,298.7 108.4,299.7" fill="none" stroke="#eeeeee" stroke-opacity="0.6" stroke-width="0.9" stroke-linecap="round"/>
<polygon points="114.1,295.4 111.6,297 108.4,296.2 104.2,293.2 102.3,291.4 102.5,291 105.2,290 110.4,288.3 113.7,289.1 114.9,292.4 115.5,294.2 115.3,294.5" fill="rgb(117,117,117)" stroke="#4a4a4a" stroke-width="0.7"/>
<polygon points="114.1,295.4 111.6,297 108.4,296.2 104.2,293.2 102.3,291.4 102.5,291 105.2,290 110.4,288.3 113.7,289.1 114.9,292.4 115.5,294.2 115.3,294.5" fill="url(#sh2)" fill-opacity="0.25"/>
<polyline points="113.3,289.5 114.4,292.4 114.9,294 114.8,294.3 113.7,295.2" fill="none" stroke="#eeeeee" stroke-opacity="0.6" stroke-width="0.9" stroke-linecap="round"/>
<polygon points="119.5,300.3 116.7,296.5 115.3,294.5 115.5,294.2 116,293.8 116.9,293.5 118.8,293.2 121.6,293 124.1,294 126.3,296.2 127.3,297.9 126.9,298.9 125.3,300.1 122.4,301.5" fill="rgb(129,129,129)" stroke="#4a4a4a" stroke-width="0.7"/>
<polygon points="119.5,300.3 116.7,296.5 115.3,294.5 115.5,294.2 116,293.8 116.9,293.5 118.8,293.2 121.6,293 124.1,294 126.3,296.2 127.3,297.9 126.9,298.9 125.3,300.1 122.4,301.5" fill="url(#sh1)" fill-opacity="0.25"/>
<polyline points="117.1,296.5 115.9,294.7 116,294.4 116.5,294.1 117.3,293.8 119,293.5 121.5,293.3" fill="none" stroke="#eeeeee" stroke-opacity="0.6" stroke-width="0.9" stroke-linecap="round"/>
<polygon points="129.2,287.9 130.3,291.5 130.5,294 129.7,295.3 128.9,296.3 127.9,297 126.3,296.2 124.1,294 123.7,291.5 125,288.7 126.4,287 127.9,286.4" fill="rgb(129,129,129)" stroke="#4a4a4a" stroke-width="0.7"/>
<polygon points="129.2,287.9 130.3,291.5 130.5,294 129.7,295.3 128.9,296.3 127.9,297 126.3,296.2 124.1,294 123.7,291.5 125,288.7 126.4,287 127.9,286.4" fill="url(#sh3)" fill-opacity="0.25"/>
<polyline points="127.9,296.4 126.5,295.7 124.5,293.7 124.1,291.5 125.3,289.1" fill="none" stroke="#eeeeee" stroke-opacity="0.6" stroke-width="0.9" stroke-linecap="round"/>
<polygon points="137.5,299 139.2,297.2 139.7,295.4 139.2,293.5 136.9,292.7 132.8,293.1 130.5,294 129.7,295.3 131.2,296.9 134.8,298.9" fill="rgb(128,128,128)" stroke="#4a4a4a" stroke-width="0.7"/>
<polygon points="137.5,299 139.2,297.2 139.7,295.4 139.2,293.5 136.9,292.7 132.8,293.1 130.5,294 129.7,295.3 131.2,296.9 134.8,298.9" fill="url(#sh0)" fill-opacity="0.25"/>
<polyline points="134.9,298.5 137.2,298.5 138.6,297 139.1,295.4 138.6,293.7" fill="none" stroke="#eeeeee" stroke-opacity="0.6" stroke-width="0.9" stroke-linecap="round"/>
<polygon points="141.3,290.5 139.9,291 139.2,291.6 139,292.2 139.2,293.5 139.7,295.4 140.5,296.5 141.5,297 142,295.5 142,292" fill="rgb(102,102,102)" stroke="#4a4a4a" stroke-width="0.7"/>
<polygon points="141.3,290.5 139.9,291 139.2,291.6 139,292.2 139.2,293.5 139.7,295.4 140.5,296.5 141.5,297 142,295.5 142,292" fill="url(#sh0)" fill-opacity="0.25"/>
<polyline points="139.9,295 140.5,295.9 141.3,296.3" fill="none" stroke="#eeeeee" stroke-opacity="0.6" stroke-width="0.9" stroke-linecap="round"/>
<polygon points="31.8,305.1 28.9,305.3 27.4,303.2 27.4,298.6 28.6,296.4 31,296.5 33.1,298.1 34.8,301.1 35,303.2 33.9,304.4" fill="rgb(130,130,130)" stroke="#4a4a4a" stroke-width="0.7"/>
<polygon points="31.8,305.1 28.9,305.3 27.4,303.2 27.4,298.6 28.6,296.4 31,296.5 33.1,298.1 34.8,301.1 35,303.2 33.9,304.4" fill="url(#sh0)" fill-opacity="0.25"/>
<polyline points="34.6,302.9 33.5,304 31.7,304.6 29.2,304.8" fill="none" stroke="#eeeeee" stroke-opacity="0.6" stroke-width="0.9" stroke-linecap="round"/>
<polygon points="38.3,304.5 41,308.4 43.6,308.6 45.9,304.9 45.3,302.6 41.6,301.6 39,301.5 37.6,302.2" fill="rgb(101,101,101)" stroke="#4a4a4a" stroke-width="0.7"/>
<polygon points="38.3,304.5 41,308.4 43.6,308.6 45.9,304.9 45.3,302.6 41.6,301.6 39,301.5 37.6,302.2" fill="url(#sh0)" fill-opacity="0.25"/>
<polyline points="39.4,301.9 38.2,302.5 38.7,304.5" fill="none" stroke="#eeeeee" stroke-opacity="0.6" stroke-width="0.9" stroke-linecap="round"/>
<polygon points="40.2,300.1 41.1,297.9 43.2,296.6 46.5,296.2 48.2,297.7 48.6,301.1 48.3,302.9 47.5,303 45.3,302.6 41.6,301.6" fill="rgb(131,131,131)" stroke="#4a4a4a" stroke-width="0.7"/>
<polygon points="40.2,300.1 41.1,297.9 43.2,296.6 46.5,296.2 48.2,297.7 48.6,301.1 48.3,302.9 47.5,303 45.3,302.6 41.6,301.6" fill="url(#sh3)" fill-opacity="0.25"/>
<polyline points="46.3,296.7 47.8,298 48.1,301 47.9,302.5 47.2,302.6" fill="none" stroke="#eeeeee" stroke-opacity="0.6" stroke-width="0.9" stroke-linecap="round"/>
<polygon points="54.8,306.7 53.5,305.4 54.2,302.2 56.8,297.3 59.1,295.4 61.1,296.7 62.6,298 63.5,299.3 63.7,301.2 63.3,303.7 61.1,305.6 57.3,306.8" fill="rgb(114,114,114)" stroke="#4a4a4a" stroke-width="0.7"/>
<polygon points="54.8,306.7 53.5,305.4 54.2,302.2 56.8,297.3 59.1,295.4 61.1,296.7 62.6,298 63.5,299.3 63.7,301.2 63.3,303.7 61.1,305.6 57.3,306.8" fill="url(#sh1)" fill-opacity="0.25"/>
<polyline points="59.1,296 61,297.2 62.3,298.3 63.1,299.5 63.3,301.2 62.9,303.5" fill="none" stroke="#eeeeee" stroke-opacity="0.6" stroke-width="0.9" stroke-linecap="round"/>
<polygon points="70.5,306.4 70.8,302.1 69.3,300 65.7,299.9 63.7,301.2 63.3,303.7 63.9,305.8 65.5,307.5 67.3,308.4 69.3,308.5" fill="rgb(98,98,98)" stroke="#4a4a4a" stroke-width="0.7"/>
<polygon points="70.5,306.4 70.8,302.1 69.3,300 65.7,299.9 63.7,301.2 63.3,303.7 63.9,305.8 65.5,307.5 67.3,308.4 69.3,308.5" fill="url(#sh1)" fill-opacity="0.25"/>
<polyline points="65.9,300.5 64.1,301.6 63.7,303.8 64.3,305.6 65.7,307.1 67.3,307.9" fill="none" stroke="#eeeeee" stroke-opacity="0.6" stroke-width="0.9" stroke-linecap="round"/>
<polygon points="73.2,309 77.1,308.3 79.3,307.1 79.9,305.3 80.1,304.2 79.9,303.8 78.3,302.1 75.4,299.1 73.3,298.2 71.8,299.4 70.8,302.1 70.5,306.4 70.6,308.8 71.1,309.2" fill="rgb(112,112,112)" stroke="#4a4a4a" stroke-width="0.7"/>
<polygon points="73.2,309 77.1,308.3 79.3,307.1 79.9,305.3 80.1,304.2 79.9,303.8 78.3,302.1 75.4,299.1 73.3,298.2 71.8,299.4 70.8,302.1 70.5,306.4 70.6,308.8 71.1,309.2" fill="url(#sh0)" fill-opacity="0.25"/>
<polyline points="79.4,303.8 78,302.3 75.4,299.7 73.4,298.9 72.1,299.9 71.3,302.4" fill="none" stroke="#eeeeee" stroke-opacity="0.6" stroke-width="0.9" stroke-linecap="round"/>
<polygon points="84.3,295.8 86.8,296.6 88.4,297.6 89.1,298.9 88.6,300.4 87.1,302.2 84.8,303.4 81.7,304.1 80.1,304.2 79.9,303.8 80.6,301.5 82.2,297.4" fill="rgb(114,114,114)" stroke="#4a4a4a" stroke-width="0.7"/>
<polygon points="84.3,295.8 86.8,296.6 88.4,297.6 89.1,298.9 88.6,300.4 87.1,302.2 84.8,303.4 81.7,304.1 80.1,304.2 79.9,303.8 80.6,301.5 82.2,297.4" fill="url(#sh0)" fill-opacity="0.25"/>
<polyline points="88.1,300.4 86.7,302 84.7,303.1 82.1,303.6" fill="none" stroke="#eeeeee" stroke-opacity="0.6" stroke-width="0.9" stroke-linecap="round"/>
<polygon points="91,299.7 94.1,300 95.9,302 96.5,305.6 96.5,307.8 95.8,308.4 94.1,309.1 91.3,309.7 89,308.2 87.2,304.8 87.1,302.2 88.6,300.4" fill="rgb(108,108,108)" stroke="#4a4a4a" stroke-width="0.7"/>
<polygon points="91,299.7 94.1,300 95.9,302 96.5,305.6 96.5,307.8 95.8,308.4 94.1,309.1 91.3,309.7 89,308.2 87.2,304.8 87.1,302.2 88.6,300.4" fill="url(#sh0)" fill-opacity="0.25"/>
<polyline points="91.4,309.1 89.3,307.9 87.7,304.8 87.6,302.5 89,300.9" fill="none" stroke="#eeeeee" stroke-opacity="0.6" stroke-width="0.9" stroke-linecap="round"/>
<polygon points="103.8,301.1 99.6,299.2 97.1,298.8 96.1,299.7 95.9,302 96.5,305.6 98.1,307.8 100.8,308.7 102.8,308.8 104.1,308.3 105.1,306.5 105.6,303.5" fill="rgb(102,102,102)" stroke="#4a4a4a" stroke-width="0.7"/>
<polygon points="103.8,301.1 99.6,299.2 97.1,298.8 96.1,299.7 95.9,302 96.5,305.6 98.1,307.8 100.8,308.7 102.8,308.8 104.1,308.3 105.1,306.5 105.6,303.5" fill="url(#sh0)" fill-opacity="0.25"/>
<polyline points="105,303.6 103.4,301.4 99.7,299.7 97.4,299.3" fill="none" stroke="#eeeeee" stroke-opacity="0.6" stroke-width="0.9" stroke-linecap="round"/>
<polygon points="106.5,308.8 105.3,308.3 105.1,306.5 105.6,303.5 106.8,301.3 108.9,300 111.1,301.5 113.5,305.9 114.7,308.2 114.7,308.2 112.8,308.4 108.9,308.8" fill="rgb(108,108,108)" stroke="#4a4a4a" stroke-width="0.7"/>
<polygon points="106.5,308.8 105.3,308.3 105.1,306.5 105.6,303.5 106.8,301.3 108.9,300 111.1,301.5 113.5,305.9 114.7,308.2 114.7,308.2 112.8,308.4 108.9,308.8" fill="url(#sh0)" fill-opacity="0.25"/>
<polyline points="107.1,301.8 108.9,300.6 110.9,302 113,305.9 114.1,307.9 114.1,307.9" fill="none" stroke="#eeeeee" stroke-opacity="0.6" stroke-width="0.9" stroke-linecap="round"/>
<polygon points="119.5,300.3 116.7,296.5 114.1,295.4 111.6,297 110.3,298.1 110,298.9 111.1,301.5 113.5,305.9 114.9,308.2 115.2,308.2 116.7,306.8 119.4,303.9 120.8,302.5 120.9,302.3" fill="rgb(106,106,106)" stroke="#4a4a4a" stroke-width="0.7"/>
<polygon points="119.5,300.3 116.7,296.5 114.1,295.4 111.6,297 110.3,298.1 110,298.9 111.1,301.5 113.5,305.9 114.9,308.2 115.2,308.2 116.7,306.8 119.4,303.9 120.8,302.5 120.9,302.3" fill="url(#sh2)" fill-opacity="0.25"/>
<polyline points="116.6,306.3 119,303.7 120.3,302.4 120.4,302.2 119.1,300.4 116.6,297.1 114.2,296.1 112,297.5" fill="none" stroke="#eeeeee" stroke-opacity="0.6" stroke-width="0.9" stroke-linecap="round"/>
<polygon points="122.4,301.5 125.3,300.1 127.5,300.3 128.9,302 128.8,304.6 127.1,307.9 124.9,307.9 122.2,304.3 120.8,302.5 120.9,302.3" fill="rgb(108,108,108)" stroke="#4a4a4a" stroke-width="0.7"/>
<polygon points="122.4,301.5 125.3,300.1 127.5,300.3 128.9,302 128.8,304.6 127.1,307.9 124.9,307.9 122.2,304.3 120.8,302.5 120.9,302.3" fill="url(#sh3)" fill-opacity="0.25"/>
<polyline points="126.8,307.3 124.9,307.2 122.6,304.2 121.4,302.6" fill="none" stroke="#eeeeee" stroke-opacity="0.6" stroke-width="0.9" stroke-linecap="round"/>
<polygon points="126.9,298.9 127.3,297.9 127.9,297 128.9,296.3 131.2,296.9 134.8,298.9 136.3,301.1 135.7,303.5 133.9,304.2 131.1,303.4 128.9,302 127.5,300.3" fill="rgb(109,109,109)" stroke="#4a4a4a" stroke-width="0.7"/>
<polygon points="126.9,298.9 127.3,297.9 127.9,297 128.9,296.3 131.2,296.9 134.8,298.9 136.3,301.1 135.7,303.5 133.9,304.2 131.1,303.4 128.9,302 127.5,300.3" fill="url(#sh2)" fill-opacity="0.25"/>
<polyline points="131,302.9 129.1,301.8 127.9,300.2 127.4,299 127.7,298.2" fill="none" stroke="#eeeeee" stroke-opacity="0.6" stroke-width="0.9" stroke-linecap="round"/>
<polygon points="138.2,306.4 136.9,306.4 136,305.9 135.6,305.1 135.7,303.5 136.3,301.1 137.5,299 139.2,297.2 140.5,296.5 141.5,297 142,299.2 142,302.9 141.2,305.2 139.7,306" fill="rgb(125,125,125)" stroke="#4a4a4a" stroke-width="0.7"/>
<polygon points="138.2,306.4 136.9,306.4 136,305.9 135.6,305.1 135.7,303.5 136.3,301.1 137.5,299 139.2,297.2 140.5,296.5 141.5,297 142,299.2 142,302.9 141.2,305.2 139.7,306" fill="url(#sh0)" fill-opacity="0.25"/>
<polyline points="136.1,303.3 136.6,301.2 137.6,299.4 139.1,297.8 140.3,297.3" fill="none" stroke="#eeeeee" stroke-opacity="0.6" stroke-width="0.9" stroke-linecap="round"/>
<polygon points="31.8,305.1 28.9,305.3 27.4,307.8 27.4,312.7 28.5,315.1 30.8,315.1 32.3,314.6 33.1,313.8 33.5,311.2 33.4,307.1" fill="rgb(104,104,104)" stroke="#4a4a4a" stroke-width="0.7"/>
<polygon points="31.8,305.1 28.9,305.3 27.4,307.8 27.4,312.7 28.5,315.1 30.8,315.1 32.3,314.6 33.1,313.8 33.5,311.2 33.4,307.1" fill="url(#sh2)" fill-opacity="0.25"/>
<polyline points="32.8,313.4 33.1,311.2 33,307.6 31.7,305.8 29.1,306" fill="none" stroke="#eeeeee" stroke-opacity="0.6" stroke-width="0.9" stroke-linecap="round"/>
<polygon points="36.6,302.6 35.9,302.6 35,303.2 33.9,304.4 33.4,307.1 33.5,311.2 36,313.5 40.8,313.9 43,313.2 42.6,311.3 41,308.4 38.3,304.5" fill="rgb(118,118,118)" stroke="#4a4a4a" stroke-width="0.7"/>
<polygon points="36.6,302.6 35.9,302.6 35,303.2 33.9,304.4 33.4,307.1 33.5,311.2 36,313.5 40.8,313.9 43,313.2 42.6,311.3 41,308.4 38.3,304.5" fill="url(#sh2)" fill-opacity="0.25"/>
<polyline points="42.5,312.7 42.1,311 40.7,308.4 38.2,304.9 36.7,303.1" fill="none" stroke="#eeeeee" stroke-opacity="0.6" stroke-width="0.9" stroke-linecap="round"/>
<polygon points="42.6,311.3 43,313.2 43.3,314.2 43.5,314.4 45.6,312 49.7,307 50.9,304.1 49.5,303.3 48.3,302.9 47.5,303 45.9,304.9 43.6,308.6" fill="rgb(125,125,125)" stroke="#4a4a4a" stroke-width="0.7"/>
<polygon points="42.6,311.3 43,313.2 43.3,314.2 43.5,314.4 45.6,312 49.7,307 50.9,304.1 49.5,303.3 48.3,302.9 47.5,303 45.9,304.9 43.6,308.6" fill="url(#sh2)" fill-opacity="0.25"/>
<polyline points="43.6,313.5 43.8,313.7 45.7,311.6 49.3,307.1" fill="none" stroke="#eeeeee" stroke-opacity="0.6" stroke-width="0.9" stroke-linecap="round"/>
<polygon points="45.6,315.4 44.4,314.9 43.7,314.6 43.6,314.5 45.6,312 49.7,307 52,304.5 52.6,304.6 53.5,305.4 54.8,306.7 55.4,308 55.5,309 53.2,311 48.6,314.1" fill="rgb(118,118,118)" stroke="#4a4a4a" stroke-width="0.7"/>
<polygon points="45.6,315.4 44.4,314.9 43.7,314.6 43.6,314.5 45.6,312 49.7,307 52,304.5 52.6,304.6 53.5,305.4 54.8,306.7 55.4,308 55.5,309 53.2,311 48.6,314.1" fill="url(#sh2)" fill-opacity="0.25"/>
<polyline points="44.2,314.1 46,311.8 49.7,307.3 51.8,305.1 52.4,305.2 53.2,305.8" fill="none" stroke="#eeeeee" stroke-opacity="0.6" stroke-width="0.9" stroke-linecap="round"/>
<polygon points="60.7,315.4 59.1,315 57.6,313.5 56.3,310.8 55.5,309 55.4,308 57.3,306.8 61.1,305.6 63.9,305.8 65.5,307.5 65.1,310.1 62.7,313.8" fill="rgb(117,117,117)" stroke="#4a4a4a" stroke-width="0.7"/>
<polygon points="60.7,315.4 59.1,315 57.6,313.5 56.3,310.8 55.5,309 55.4,308 57.3,306.8 61.1,305.6 63.9,305.8 65.5,307.5 65.1,310.1 62.7,313.8" fill="url(#sh3)" fill-opacity="0.25"/>
<polyline points="64.6,310.1 62.4,313.3 60.6,314.8 59.2,314.4 57.9,313.1" fill="none" stroke="#eeeeee" stroke-opacity="0.6" stroke-width="0.9" stroke-linecap="round"/>
<polygon points="63.3,317.6 62.1,316.2 62.7,313.8 65.1,310.1 67.3,308.4 69.3,308.5 70.6,308.8 71.1,309.2 71.3,310 71.3,311.4 69.4,313.6 65.8,316.7" fill="rgb(108,108,108)" stroke="#4a4a4a" stroke-width="0.7"/>
<polygon points="63.3,317.6 62.1,316.2 62.7,313.8 65.1,310.1 67.3,308.4 69.3,308.5 70.6,308.8 71.1,309.2 71.3,310 71.3,311.4 69.4,313.6 65.8,316.7" fill="url(#sh2)" fill-opacity="0.25"/>
<polyline points="62.7,315.7 63.2,313.5 65.4,310.3 67.3,308.8 69.1,308.9 70.2,309.2" fill="none" stroke="#eeeeee" stroke-opacity="0.6" stroke-width="0.9" stroke-linecap="round"/>
<polygon points="71.3,311.4 71.3,310 73.2,309 77.1,308.3 79.7,309.4 81.2,312.3 81.3,314.6 79.9,316.3 77.7,317.1 74.8,317 72.9,315.7 71.8,313.3" fill="rgb(113,113,113)" stroke="#4a4a4a" stroke-width="0.7"/>
<polygon points="71.3,311.4 71.3,310 73.2,309 77.1,308.3 79.7,309.4 81.2,312.3 81.3,314.6 79.9,316.3 77.7,317.1 74.8,317 72.9,315.7 71.8,313.3" fill="url(#sh3)" fill-opacity="0.25"/>
<polyline points="77,308.8 79.3,309.8 80.7,312.4 80.7,314.4 79.4,316 77.5,316.7" fill="none" stroke="#eeeeee" stroke-opacity="0.6" stroke-width="0.9" stroke-linecap="round"/>
<polygon points="83.1,313.9 85.3,314.3 87.3,313.3 89,311.1 89,308.2 87.2,304.8 84.8,303.4 81.7,304.1 79.9,305.3 79.3,307.1 79.7,309.4 81.2,312.3" fill="rgb(113,113,113)" stroke="#4a4a4a" stroke-width="0.7"/>
<polygon points="83.1,313.9 85.3,314.3 87.3,313.3 89,311.1 89,308.2 87.2,304.8 84.8,303.4 81.7,304.1 79.9,305.3 79.3,307.1 79.7,309.4 81.2,312.3" fill="url(#sh3)" fill-opacity="0.25"/>
<polyline points="86.9,312.9 88.5,310.9 88.4,308.3 86.8,305.2 84.7,304" fill="none" stroke="#eeeeee" stroke-opacity="0.6" stroke-width="0.9" stroke-linecap="round"/>
<polygon points="102.1,315 102.1,311.1 100.8,308.7 98.1,307.8 96.5,307.8 95.8,308.4 95.6,310.8 95.8,314.7 97.4,316.8 100.6,316.9" fill="rgb(100,100,100)" stroke="#4a4a4a" stroke-width="0.7"/>
<polygon points="102.1,315 102.1,311.1 100.8,308.7 98.1,307.8 96.5,307.8 95.8,308.4 95.6,310.8 95.8,314.7 97.4,316.8 100.6,316.9" fill="url(#sh1)" fill-opacity="0.25"/>
<polyline points="97.6,316.1 100.3,316.3 101.7,314.6 101.6,311.1" fill="none" stroke="#eeeeee" stroke-opacity="0.6" stroke-width="0.9" stroke-linecap="round"/>
<polygon points="104.2,316.9 106.6,315.1 107.7,312.9 107.2,310.3 106.5,308.8 105.3,308.3 104.1,308.3 102.8,308.8 102.1,311.1 102.1,315 102.3,317.2 102.7,317.6" fill="rgb(101,101,101)" stroke="#4a4a4a" stroke-width="0.7"/>
<polygon points="104.2,316.9 106.6,315.1 107.7,312.9 107.2,310.3 106.5,308.8 105.3,308.3 104.1,308.3 102.8,308.8 102.1,311.1 102.1,315 102.3,317.2 102.7,317.6" fill="url(#sh2)" fill-opacity="0.25"/>
<polyline points="107.2,312.8 106.9,310.6 106.2,309.3 105.2,308.9 104.2,308.9 103,309.3 102.4,311.2" fill="none" stroke="#eeeeee" stroke-opacity="0.6" stroke-width="0.9" stroke-linecap="round"/>
<polygon points="107.7,312.9 107.2,310.3 108.9,308.8 112.8,308.4 113.9,310.1 112.4,314 110.7,315.5 108.8,314.6" fill="rgb(103,103,103)" stroke="#4a4a4a" stroke-width="0.7"/>
<polygon points="107.7,312.9 107.2,310.3 108.9,308.8 112.8,308.4 113.9,310.1 112.4,314 110.7,315.5 108.8,314.6" fill="url(#sh3)" fill-opacity="0.25"/>
<polyline points="109,314.2 108.1,312.7 107.7,310.5 109.1,309.3 112.4,308.9" fill="none" stroke="#eeeeee" stroke-opacity="0.6" stroke-width="0.9" stroke-linecap="round"/>
<polygon points="119.4,303.9 116.7,306.8 116.7,309.7 119.6,312.6 122.4,313.4 125.2,311.8 126.5,310.7 126.4,310 124.9,307.9 122.2,304.3" fill="rgb(108,108,108)" stroke="#4a4a4a" stroke-width="0.7"/>
<polygon points="119.4,303.9 116.7,306.8 116.7,309.7 119.6,312.6 122.4,313.4 125.2,311.8 126.5,310.7 126.4,310 124.9,307.9 122.2,304.3" fill="url(#sh0)" fill-opacity="0.25"/>
<polyline points="125.9,309.9 124.6,308 122.2,304.9 119.7,304.5 117.3,307 117.3,309.6" fill="none" stroke="#eeeeee" stroke-opacity="0.6" stroke-width="0.9" stroke-linecap="round"/>
<polygon points="131.1,303.4 133.9,304.2 135.6,305.1 136,305.9 136,306.9 135.5,308 134.2,309.5 132,311.6 129.8,312.2 127.6,311.4 126.5,310.7 126.4,310 127.1,307.9 128.8,304.6" fill="rgb(113,113,113)" stroke="#4a4a4a" stroke-width="0.7"/>
<polygon points="131.1,303.4 133.9,304.2 135.6,305.1 136,305.9 136,306.9 135.5,308 134.2,309.5 132,311.6 129.8,312.2 127.6,311.4 126.5,310.7 126.4,310 127.1,307.9 128.8,304.6" fill="url(#sh3)" fill-opacity="0.25"/>
<polyline points="129.1,305 131.1,303.9 133.7,304.7 135.1,305.4 135.5,306.2 135.4,307 135,308 133.9,309.4" fill="none" stroke="#eeeeee" stroke-opacity="0.6" stroke-width="0.9" stroke-linecap="round"/>
<polygon points="141,314.9 141.7,313.9 142,312.5 142,310.5 141.2,308.8 139.7,307.2 138.2,306.4 136.9,306.4 136,306.9 135.5,308 136.7,310.2 139.4,313.6" fill="rgb(114,114,114)" stroke="#4a4a4a" stroke-width="0.7"/>
<polygon points="141,314.9 141.7,313.9 142,312.5 142,310.5 141.2,308.8 139.7,307.2 138.2,306.4 136.9,306.4 136,306.9 135.5,308 136.7,310.2 139.4,313.6" fill="url(#sh3)" fill-opacity="0.25"/>
<polyline points="141.3,313.3 141.6,312.1 141.6,310.4 140.9,309" fill="none" stroke="#eeeeee" stroke-opacity="0.6" stroke-width="0.9" stroke-linecap="round"/>
<polygon points="141.2,305.2 139.7,306 139.7,307.2 141.2,308.8 142,308.4 142,306" fill="rgb(121,121,121)" stroke="#4a4a4a" stroke-width="0.7"/>
<polygon points="141.2,305.2 139.7,306 139.7,307.2 141.2,308.8 142,308.4 142,306" fill="url(#sh0)" fill-opacity="0.25"/>
<polyline points="141.7,306.3 141.1,305.8 140.1,306.3" fill="none" stroke="#eeeeee" stroke-opacity="0.6" stroke-width="0.9" stroke-linecap="round"/>
<polygon points="30.8,315.1 28.5,315.1 27.4,316.5 27.4,319.4 28.6,321.3 30.9,322.3 32.5,322.3 33.3,321.3 33.3,319.4 32.3,316.5" fill="rgb(116,116,116)" stroke="#4a4a4a" stroke-width="0.7"/>
<polygon points="30.8,315.1 28.5,315.1 27.4,316.5 27.4,319.4 28.6,321.3 30.9,322.3 32.5,322.3 33.3,321.3 33.3,319.4 32.3,316.5" fill="url(#sh3)" fill-opacity="0.25"/>
<polyline points="30.7,315.7 28.8,315.7 27.9,316.9 27.9,319.3 28.9,321 30.9,321.8" fill="none" stroke="#eeeeee" stroke-opacity="0.6" stroke-width="0.9" stroke-linecap="round"/>
<polygon points="43.3,314.2 43.5,314.4 43.6,314.5 43.7,314.6 42.7,316.6 40.8,320.5 38.3,322.1 35.3,321.3 33.3,319.4 32.3,316.5 32.3,314.6 33.1,313.8 36,313.5 40.8,313.9" fill="rgb(104,104,104)" stroke="#4a4a4a" stroke-width="0.7"/>
<polygon points="43.3,314.2 43.5,314.4 43.6,314.5 43.7,314.6 42.7,316.6 40.8,320.5 38.3,322.1 35.3,321.3 33.3,319.4 32.3,316.5 32.3,314.6 33.1,313.8 36,313.5 40.8,313.9" fill="url(#sh3)" fill-opacity="0.25"/>
<polyline points="32.9,314.8 33.7,314 36.2,313.8 40.6,314.2 42.8,314.4 43,314.6 43.1,314.7" fill="none" stroke="#eeeeee" stroke-opacity="0.6" stroke-width="0.9" stroke-linecap="round"/>
<polygon points="50.7,319.3 52.5,319.6 54.6,318.5 57.1,316 57.6,313.5 56.3,310.8 53.2,311 48.6,314.1 47.1,316.5 48.9,318.3" fill="rgb(126,126,126)" stroke="#4a4a4a" stroke-width="0.7"/>
<polygon points="50.7,319.3 52.5,319.6 54.6,318.5 57.1,316 57.6,313.5 56.3,310.8 53.2,311 48.6,314.1 47.1,316.5 48.9,318.3" fill="url(#sh1)" fill-opacity="0.25"/>
<polyline points="47.8,316.4 49.4,318 51,318.9" fill="none" stroke="#eeeeee" stroke-opacity="0.6" stroke-width="0.9" stroke-linecap="round"/>
<polygon points="65.4,321.7 65.3,321.8 62.9,322.9 58.3,324.9 55.4,324.4 54.1,321.3 54.6,318.5 57.1,316 59.1,315 60.7,315.4 62.1,316.2 63.3,317.6 64.3,319.1 65.1,320.8" fill="rgb(116,116,116)" stroke="#4a4a4a" stroke-width="0.7"/>
<polygon points="65.4,321.7 65.3,321.8 62.9,322.9 58.3,324.9 55.4,324.4 54.1,321.3 54.6,318.5 57.1,316 59.1,315 60.7,315.4 62.1,316.2 63.3,317.6 64.3,319.1 65.1,320.8" fill="url(#sh3)" fill-opacity="0.25"/>
<polyline points="62.7,322.6 58.6,324.4 55.9,323.9 54.8,321.1" fill="none" stroke="#eeeeee" stroke-opacity="0.6" stroke-width="0.9" stroke-linecap="round"/>
<polygon points="65.1,320.8 64.3,319.1 65.8,316.7 69.4,313.6 71.8,313.3 72.9,315.7 72.5,318.1 70.6,320.4 68.8,321.7 66.9,321.9 65.9,321.9 65.6,321.8" fill="rgb(121,121,121)" stroke="#4a4a4a" stroke-width="0.7"/>
<polygon points="65.1,320.8 64.3,319.1 65.8,316.7 69.4,313.6 71.8,313.3 72.9,315.7 72.5,318.1 70.6,320.4 68.8,321.7 66.9,321.9 65.9,321.9 65.6,321.8" fill="url(#sh0)" fill-opacity="0.25"/>
<polyline points="71.3,314 72.3,316.1 71.9,318.2 70.3,320.2 68.7,321.3 67.1,321.4 66.2,321.5" fill="none" stroke="#eeeeee" stroke-opacity="0.6" stroke-width="0.9" stroke-linecap="round"/>
<polygon points="70.8,322.4 72.9,323.9 75.3,322.8 77.9,319.2 79.2,317.3 79.2,317.2 77.7,317.1 74.8,317 72.5,318.1 70.6,320.4" fill="rgb(99,99,99)" stroke="#4a4a4a" stroke-width="0.7"/>
<polygon points="70.8,322.4 72.9,323.9 75.3,322.8 77.9,319.2 79.2,317.3 79.2,317.2 77.7,317.1 74.8,317 72.5,318.1 70.6,320.4" fill="url(#sh3)" fill-opacity="0.25"/>
<polyline points="74.9,317.4 72.8,318.3 71.2,320.3 71.4,322 73.2,323.3" fill="none" stroke="#eeeeee" stroke-opacity="0.6" stroke-width="0.9" stroke-linecap="round"/>
<polygon points="83.1,313.9 85.3,314.3 86.6,314.7 87,315.3 85.9,318 83.2,322.7 81.2,323.2 79.8,319.3 79.2,317.3 79.2,317.2 79.9,316.3 81.3,314.6" fill="rgb(129,129,129)" stroke="#4a4a4a" stroke-width="0.7"/>
<polygon points="83.1,313.9 85.3,314.3 86.6,314.7 87,315.3 85.9,318 83.2,322.7 81.2,323.2 79.8,319.3 79.2,317.3 79.2,317.2 79.9,316.3 81.3,314.6" fill="url(#sh2)" fill-opacity="0.25"/>
<polyline points="80.2,316.5 81.5,315 83,314.4" fill="none" stroke="#eeeeee" stroke-opacity="0.6" stroke-width="0.9" stroke-linecap="round"/>
<polygon points="93.2,319.1 95,317.5 95.8,314.7 95.6,310.8 94.1,309.1 91.3,309.7 89,311.1 87.3,313.3 86.6,314.7 87,315.3 88.3,316.7 90.4,318.9 91.7,320 92.1,319.9" fill="rgb(127,127,127)" stroke="#4a4a4a" stroke-width="0.7"/>
<polygon points="93.2,319.1 95,317.5 95.8,314.7 95.6,310.8 94.1,309.1 91.3,309.7 89,311.1 87.3,313.3 86.6,314.7 87,315.3 88.3,316.7 90.4,318.9 91.7,320 92.1,319.9" fill="url(#sh2)" fill-opacity="0.25"/>
<polyline points="88.6,316.5 90.5,318.5 91.7,319.4 92,319.3 93,318.6 94.6,317.2" fill="none" stroke="#eeeeee" stroke-opacity="0.6" stroke-width="0.9" stroke-linecap="round"/>
<polygon points="101.7,324.3 102.7,320.6 103.2,318.5 103,318 102.7,317.6 102.3,317.2 100.6,316.9 97.4,316.8 95,317.5 93.2,319.1 94.4,321.5 98.7,324.7 100.9,326.2 101.1,326.1" fill="rgb(100,100,100)" stroke="#4a4a4a" stroke-width="0.7"/>
<polygon points="101.7,324.3 102.7,320.6 103.2,318.5 103,318 102.7,317.6 102.3,317.2 100.6,316.9 97.4,316.8 95,317.5 93.2,319.1 94.4,321.5 98.7,324.7 100.9,326.2 101.1,326.1" fill="url(#sh2)" fill-opacity="0.25"/>
<polyline points="95.1,321.3 98.8,324.2 100.8,325.6 100.9,325.5 101.5,323.8" fill="none" stroke="#eeeeee" stroke-opacity="0.6" stroke-width="0.9" stroke-linecap="round"/>
<polygon points="112.4,320.8 112.7,320.6 112.6,319.3 111.9,317.1 110.7,315.5 108.8,314.6 106.6,315.1 104.2,316.9 103,318 103.2,318.5 105.5,319.3 110,320.3" fill="rgb(120,120,120)" stroke="#4a4a4a" stroke-width="0.7"/>
<polygon points="112.4,320.8 112.7,320.6 112.6,319.3 111.9,317.1 110.7,315.5 108.8,314.6 106.6,315.1 104.2,316.9 103,318 103.2,318.5 105.5,319.3 110,320.3" fill="url(#sh1)" fill-opacity="0.25"/>
<polyline points="110.4,315.8 108.8,315.1 106.9,315.5 104.7,317" fill="none" stroke="#eeeeee" stroke-opacity="0.6" stroke-width="0.9" stroke-linecap="round"/>
<polygon points="112.6,319.3 111.9,317.1 112.4,314 113.9,310.1 114.7,308.2 114.7,308.2 114.9,308.2 115.2,308.2 116.7,309.7 119.6,312.6 120.8,315.8 120.2,319.1 119.8,320.9 119.5,321 117.8,320.9 114.5,320.6" fill="rgb(110,110,110)" stroke="#4a4a4a" stroke-width="0.7"/>
<polygon points="112.6,319.3 111.9,317.1 112.4,314 113.9,310.1 114.7,308.2 114.7,308.2 114.9,308.2 115.2,308.2 116.7,309.7 119.6,312.6 120.8,315.8 120.2,319.1 119.8,320.9 119.5,321 117.8,320.9 114.5,320.6" fill="url(#sh2)" fill-opacity="0.25"/>
<polyline points="112.7,314.1 114.1,310.5 114.8,308.8 114.8,308.8 115,308.8" fill="none" stroke="#eeeeee" stroke-opacity="0.6" stroke-width="0.9" stroke-linecap="round"/>
<polygon points="126.2,321.3 130.3,319.4 132,317 131.2,314.1 129.8,312.2 127.6,311.4 125.2,311.8 122.4,313.4 120.8,315.8 120.2,319.1 121,321.1 123.1,321.9" fill="rgb(131,131,131)" stroke="#4a4a4a" stroke-width="0.7"/>
<polygon points="126.2,321.3 130.3,319.4 132,317 131.2,314.1 129.8,312.2 127.6,311.4 125.2,311.8 122.4,313.4 120.8,315.8 120.2,319.1 121,321.1 123.1,321.9" fill="url(#sh2)" fill-opacity="0.25"/>
<polyline points="127.5,311.9 125.2,312.2 122.7,313.7 121.3,315.9 120.8,318.9 121.5,320.7" fill="none" stroke="#eeeeee" stroke-opacity="0.6" stroke-width="0.9" stroke-linecap="round"/>
<polygon points="140.7,316.3 140.7,315.7 139.4,313.6 136.7,310.2 134.2,309.5 132,311.6 131.2,314.1 132,317 132.4,318.4 132.4,318.4 134.5,318 138.6,317" fill="rgb(121,121,121)" stroke="#4a4a4a" stroke-width="0.7"/>
<polygon points="140.7,316.3 140.7,315.7 139.4,313.6 136.7,310.2 134.2,309.5 132,311.6 131.2,314.1 132,317 132.4,318.4 132.4,318.4 134.5,318 138.6,317" fill="url(#sh3)" fill-opacity="0.25"/>
<polyline points="134.6,317.6 138.2,316.8 140.1,316.1 140.1,315.6 138.9,313.8 136.5,310.8" fill="none" stroke="#eeeeee" stroke-opacity="0.6" stroke-width="0.9" stroke-linecap="round"/>
<polygon points="140.7,316.3 140.7,315.7 141,314.9 141.7,313.9 142,314.5 142,316.8 141.7,317.6 141,316.9" fill="rgb(126,126,126)" stroke="#4a4a4a" stroke-width="0.7"/>
<polygon points="140.7,316.3 140.7,315.7 141,314.9 141.7,313.9 142,314.5 142,316.8 141.7,317.6 141,316.9" fill="url(#sh1)" fill-opacity="0.25"/>
<polyline points="141.5,314.7 141.7,315.1 141.7,316.4 141.5,316.8 141.2,316.4" fill="none" stroke="#eeeeee" stroke-opacity="0.6" stroke-width="0.9" stroke-linecap="round"/>
<polygon points="28.6,321.3 30.9,322.3 31.6,324.1 30.5,326.6 29.6,328 29,328.1 28.4,328.2 27.7,328 27.4,326.2 27.4,322.6" fill="rgb(124,124,124)" stroke="#4a4a4a" stroke-width="0.7"/>
<polygon points="28.6,321.3 30.9,322.3 31.6,324.1 30.5,326.6 29.6,328 29,328.1 28.4,328.2 27.7,328 27.4,326.2 27.4,322.6" fill="url(#sh3)" fill-opacity="0.25"/>
<polyline points="27.7,326.1 27.7,323.2 28.7,322.1 30.6,322.9 31.1,324.3 30.2,326.4" fill="none" stroke="#eeeeee" stroke-opacity="0.6" stroke-width="0.9" stroke-linecap="round"/>
<polygon points="38.3,322.1 35.3,321.3 33.3,321.3 32.5,322.3 31.6,324.1 30.5,326.6 31.8,328.8 35.4,330.6 38.3,330.4 40.4,328.1 41.1,325.9 40.2,323.6" fill="rgb(124,124,124)" stroke="#4a4a4a" stroke-width="0.7"/>
<polygon points="38.3,322.1 35.3,321.3 33.3,321.3 32.5,322.3 31.6,324.1 30.5,326.6 31.8,328.8 35.4,330.6 38.3,330.4 40.4,328.1 41.1,325.9 40.2,323.6" fill="url(#sh3)" fill-opacity="0.25"/>
<polyline points="40.5,325.8 39.7,323.8 38,322.4 35.3,321.7" fill="none" stroke="#eeeeee" stroke-opacity="0.6" stroke-width="0.9" stroke-linecap="round"/>
<polygon points="48.8,321.3 46.6,325.5 44.5,327.5 42.5,327.2 41.1,325.9 40.2,323.6 40.8,320.5 42.7,316.6 44.4,314.9 45.6,315.4 47.1,316.5 48.9,318.3" fill="rgb(102,102,102)" stroke="#4a4a4a" stroke-width="0.7"/>
<polygon points="48.8,321.3 46.6,325.5 44.5,327.5 42.5,327.2 41.1,325.9 40.2,323.6 40.8,320.5 42.7,316.6 44.4,314.9 45.6,315.4 47.1,316.5 48.9,318.3" fill="url(#sh3)" fill-opacity="0.25"/>
<polyline points="46.4,325.1 44.5,326.8 42.7,326.5 41.4,325.4 40.7,323.3 41.2,320.6" fill="none" stroke="#eeeeee" stroke-opacity="0.6" stroke-width="0.9" stroke-linecap="round"/>
<polygon points="48.8,321.3 46.6,325.5 45.9,327.9 46.6,328.5 49,328.9 53.1,329.1 55.3,328.4 55.8,326.8 55.4,324.4 54.1,321.3 52.5,319.6 50.7,319.3" fill="rgb(127,127,127)" stroke="#4a4a4a" stroke-width="0.7"/>
<polygon points="48.8,321.3 46.6,325.5 45.9,327.9 46.6,328.5 49,328.9 53.1,329.1 55.3,328.4 55.8,326.8 55.4,324.4 54.1,321.3 52.5,319.6 50.7,319.3" fill="url(#sh3)" fill-opacity="0.25"/>
<polyline points="49,321.7 47.1,325.5 46.5,327.6 47.1,328.1 49.2,328.5" fill="none" stroke="#eeeeee" stroke-opacity="0.6" stroke-width="0.9" stroke-linecap="round"/>
<polygon points="58.3,324.9 62.9,322.9 64.3,324.2 62.3,328.9 59.9,331 57.1,330.6 55.5,330.1 55.2,329.6 55.3,328.4 55.8,326.8" fill="rgb(104,104,104)" stroke="#4a4a4a" stroke-width="0.7"/>
<polygon points="58.3,324.9 62.9,322.9 64.3,324.2 62.3,328.9 59.9,331 57.1,330.6 55.5,330.1 55.2,329.6 55.3,328.4 55.8,326.8" fill="url(#sh0)" fill-opacity="0.25"/>
<polyline points="62.4,323.5 63.5,324.7 61.8,328.8 59.8,330.6" fill="none" stroke="#eeeeee" stroke-opacity="0.6" stroke-width="0.9" stroke-linecap="round"/>
<polygon points="66.5,324.2 67.4,328.6 69.8,329.9 73.6,327.9 75.2,326.4 74.4,325.3 72.9,323.9 70.8,322.4 68.8,321.7 66.9,321.9" fill="rgb(102,102,102)" stroke="#4a4a4a" stroke-width="0.7"/>
<polygon points="66.5,324.2 67.4,328.6 69.8,329.9 73.6,327.9 75.2,326.4 74.4,325.3 72.9,323.9 70.8,322.4 68.8,321.7 66.9,321.9" fill="url(#sh1)" fill-opacity="0.25"/>
<polyline points="70.7,322.7 69,322.1 67.4,322.3 67,324.3" fill="none" stroke="#eeeeee" stroke-opacity="0.6" stroke-width="0.9" stroke-linecap="round"/>
<polygon points="75.2,326.4 74.4,325.3 75.3,322.8 77.9,319.2 79.8,319.3 81.2,323.2 81.9,325.3 82,325.7 80.7,326.4 78.2,327.3 76.6,327.6 75.9,327.2" fill="rgb(104,104,104)" stroke="#4a4a4a" stroke-width="0.7"/>
<polygon points="75.2,326.4 74.4,325.3 75.3,322.8 77.9,319.2 79.8,319.3 81.2,323.2 81.9,325.3 82,325.7 80.7,326.4 78.2,327.3 76.6,327.6 75.9,327.2" fill="url(#sh3)" fill-opacity="0.25"/>
<polyline points="81.4,325.2 81.4,325.6 80.4,326.2 78.2,326.9 76.8,327.1" fill="none" stroke="#eeeeee" stroke-opacity="0.6" stroke-width="0.9" stroke-linecap="round"/>
<polygon points="88.5,325.9 90.5,322 90.4,318.9 88.3,316.7 85.9,318 83.2,322.7 81.9,325.3 82,325.7 83.3,326.5 85.9,327.6 87.3,328.1 87.4,328" fill="rgb(126,126,126)" stroke="#4a4a4a" stroke-width="0.7"/>
<polygon points="88.5,325.9 90.5,322 90.4,318.9 88.3,316.7 85.9,318 83.2,322.7 81.9,325.3 82,325.7 83.3,326.5 85.9,327.6 87.3,328.1 87.4,328" fill="url(#sh0)" fill-opacity="0.25"/>
<polyline points="90,322.2 89.9,319.5 88,317.5 85.9,318.6 83.5,322.8 82.4,325.1" fill="none" stroke="#eeeeee" stroke-opacity="0.6" stroke-width="0.9" stroke-linecap="round"/>
<polygon points="98.7,324.7 94.4,321.5 92.1,319.9 91.7,320 90.5,322 88.5,325.9 90.6,327.8 97,327.6 100.4,327.2 100.7,326.6" fill="rgb(111,111,111)" stroke="#4a4a4a" stroke-width="0.7"/>
<polygon points="98.7,324.7 94.4,321.5 92.1,319.9 91.7,320 90.5,322 88.5,325.9 90.6,327.8 97,327.6 100.4,327.2 100.7,326.6" fill="url(#sh1)" fill-opacity="0.25"/>
<polyline points="92.4,320.4 92,320.4 90.9,322.2 89.1,325.8 91.1,327.4" fill="none" stroke="#eeeeee" stroke-opacity="0.6" stroke-width="0.9" stroke-linecap="round"/>
<polygon points="101.7,324.3 102.7,320.6 105.5,319.3 110,320.3 111.4,322.5 109.7,325.6 106.9,326.9 103.1,326.4" fill="rgb(114,114,114)" stroke="#4a4a4a" stroke-width="0.7"/>
<polygon points="101.7,324.3 102.7,320.6 105.5,319.3 110,320.3 111.4,322.5 109.7,325.6 106.9,326.9 103.1,326.4" fill="url(#sh2)" fill-opacity="0.25"/>
<polyline points="103.5,326 102.2,324.1 103.2,320.9" fill="none" stroke="#eeeeee" stroke-opacity="0.6" stroke-width="0.9" stroke-linecap="round"/>
<polygon points="112.9,331.4 116.2,330.1 118.2,327.3 119,323.2 117.8,320.9 114.5,320.6 112.7,320.6 112.4,320.8 111.4,322.5 109.7,325.6 109.5,328.4 110.7,330.8" fill="rgb(96,96,96)" stroke="#4a4a4a" stroke-width="0.7"/>
<polygon points="112.9,331.4 116.2,330.1 118.2,327.3 119,323.2 117.8,320.9 114.5,320.6 112.7,320.6 112.4,320.8 111.4,322.5 109.7,325.6 109.5,328.4 110.7,330.8" fill="url(#sh1)" fill-opacity="0.25"/>
<polyline points="118.4,323.4 117.3,321.4 114.4,321.1 112.8,321 112.5,321.2 111.6,322.7 110.1,325.6" fill="none" stroke="#eeeeee" stroke-opacity="0.6" stroke-width="0.9" stroke-linecap="round"/>
<polygon points="119.5,321 119.8,320.9 121,321.1 123.1,321.9 124.6,323.2 125.7,325.2 125.5,328.3 124,332.3 121.9,333.1 119.2,330.7 118.2,327.3 119,323.2" fill="rgb(114,114,114)" stroke="#4a4a4a" stroke-width="0.7"/>
<polygon points="119.5,321 119.8,320.9 121,321.1 123.1,321.9 124.6,323.2 125.7,325.2 125.5,328.3 124,332.3 121.9,333.1 119.2,330.7 118.2,327.3 119,323.2" fill="url(#sh2)" fill-opacity="0.25"/>
<polyline points="125.3,325.3 125.1,328 123.8,331.6 121.9,332.3 119.4,330.1 118.6,327.2" fill="none" stroke="#eeeeee" stroke-opacity="0.6" stroke-width="0.9" stroke-linecap="round"/>
<polygon points="135.2,325.9 134.9,326.5 134.2,327.2 133.3,328.1 131.2,328 127.9,326.8 125.7,325.2 124.6,323.2 126.2,321.3 130.3,319.4 132.4,318.4 132.4,318.4 133.1,320.2 134.6,323.8" fill="rgb(99,99,99)" stroke="#4a4a4a" stroke-width="0.7"/>
<polygon points="135.2,325.9 134.9,326.5 134.2,327.2 133.3,328.1 131.2,328 127.9,326.8 125.7,325.2 124.6,323.2 126.2,321.3 130.3,319.4 132.4,318.4 132.4,318.4 133.1,320.2 134.6,323.8" fill="url(#sh1)" fill-opacity="0.25"/>
<polyline points="132.3,319 132.3,319 132.9,320.6 134.2,323.8 134.7,325.7 134.4,326.2 133.9,326.8" fill="none" stroke="#eeeeee" stroke-opacity="0.6" stroke-width="0.9" stroke-linecap="round"/>
<polygon points="138.6,317 134.5,318 133.1,320.2 134.6,323.8 136.1,325.5 137.6,325.3 139.2,324.1 141.1,321.9 142,320.1 142,318.6 141.7,317.6 141,316.9" fill="rgb(104,104,104)" stroke="#4a4a4a" stroke-width="0.7"/>
<polygon points="138.6,317 134.5,318 133.1,320.2 134.6,323.8 136.1,325.5 137.6,325.3 139.2,324.1 141.1,321.9 142,320.1 142,318.6 141.7,317.6 141,316.9" fill="url(#sh0)" fill-opacity="0.25"/>
<polyline points="141.3,318 140.7,317.4 138.6,317.5 135,318.3 133.8,320.3 135.1,323.4" fill="none" stroke="#eeeeee" stroke-opacity="0.6" stroke-width="0.9" stroke-linecap="round"/>
<polygon points="141.1,327.1 139.2,325.8 139.2,324.1 141.1,321.9 142,322.6 142,326" fill="rgb(130,130,130)" stroke="#4a4a4a" stroke-width="0.7"/>
<polygon points="141.1,327.1 139.2,325.8 139.2,324.1 141.1,321.9 142,322.6 142,326" fill="url(#sh2)" fill-opacity="0.25"/>
<polyline points="139.6,324.2 141,322.6 141.7,323.1" fill="none" stroke="#eeeeee" stroke-opacity="0.6" stroke-width="0.9" stroke-linecap="round"/>
<polygon points="27.7,328 28.4,328.2 28.6,329.8 28.6,332.9 28.3,334.4 27.7,334.4 27.4,332.8 27.4,329.6" fill="rgb(122,122,122)" stroke="#4a4a4a" stroke-width="0.7"/>
<polygon points="27.7,328 28.4,328.2 28.6,329.8 28.6,332.9 28.3,334.4 27.7,334.4 27.4,332.8 27.4,329.6" fill="url(#sh2)" fill-opacity="0.25"/>
<polyline points="27.5,332.5 27.5,330 27.8,328.7 28.3,328.8" fill="none" stroke="#eeeeee" stroke-opacity="0.6" stroke-width="0.9" stroke-linecap="round"/>
<polygon points="28.6,332.9 28.6,329.8 29,328.1 29.6,328 31.8,328.8 35.4,330.6 37.2,332.3 37.3,333.7 35.1,334.4 30.7,334.4" fill="rgb(110,110,110)" stroke="#4a4a4a" stroke-width="0.7"/>
<polygon points="28.6,332.9 28.6,329.8 29,328.1 29.6,328 31.8,328.8 35.4,330.6 37.2,332.3 37.3,333.7 35.1,334.4 30.7,334.4" fill="url(#sh3)" fill-opacity="0.25"/>
<polyline points="31.9,329.1 35,330.7 36.6,332.1 36.6,333.4 34.7,334 30.9,334" fill="none" stroke="#eeeeee" stroke-opacity="0.6" stroke-width="0.9" stroke-linecap="round"/>
<polygon points="45.9,327.9 46.6,328.5 46.9,330.2 46.7,333 44.3,334.4 39.6,334.4 37.3,333.7 37.2,332.3 38.3,330.4 40.4,328.1 42.5,327.2 44.5,327.5" fill="rgb(109,109,109)" stroke="#4a4a4a" stroke-width="0.7"/>
<polygon points="45.9,327.9 46.6,328.5 46.9,330.2 46.7,333 44.3,334.4 39.6,334.4 37.3,333.7 37.2,332.3 38.3,330.4 40.4,328.1 42.5,327.2 44.5,327.5" fill="url(#sh3)" fill-opacity="0.25"/>
<polyline points="37.9,332.1 38.8,330.4 40.7,328.4 42.5,327.6" fill="none" stroke="#eeeeee" stroke-opacity="0.6" stroke-width="0.9" stroke-linecap="round"/>
<polygon points="46.9,330.2 46.7,333 48.8,334.4 53,334.4 55.3,333.4 55.5,331.4 55.5,330.1 55.2,329.6 53.1,329.1 49,328.9" fill="rgb(117,117,117)" stroke="#4a4a4a" stroke-width="0.7"/>
<polygon points="46.9,330.2 46.7,333 48.8,334.4 53,334.4 55.3,333.4 55.5,331.4 55.5,330.1 55.2,329.6 53.1,329.1 49,328.9" fill="url(#sh3)" fill-opacity="0.25"/>
<polyline points="52.9,329.5 49.4,329.2 47.6,330.3 47.5,332.8 49.2,334" fill="none" stroke="#eeeeee" stroke-opacity="0.6" stroke-width="0.9" stroke-linecap="round"/>
<polygon points="59.9,331 57.1,330.6 55.5,331.4 55.3,333.4 57.2,334.4 61.5,334.4 63.7,334 63.9,333.1 63.3,332.4 62,331.6" fill="rgb(122,122,122)" stroke="#4a4a4a" stroke-width="0.7"/>
<polygon points="59.9,331 57.1,330.6 55.5,331.4 55.3,333.4 57.2,334.4 61.5,334.4 63.7,334 63.9,333.1 63.3,332.4 62,331.6" fill="url(#sh2)" fill-opacity="0.25"/>
<polyline points="57.7,334.1 61.2,334.1 63.1,333.8 63.3,333.1 62.8,332.4" fill="none" stroke="#eeeeee" stroke-opacity="0.6" stroke-width="0.9" stroke-linecap="round"/>
<polygon points="65.4,321.7 65.3,321.8 64.3,324.2 62.3,328.9 62,331.6 63.3,332.4 64.9,332.5 66.7,331.9 67.7,331.4 67.8,331 67.4,328.6 66.5,324.2 65.9,321.9 65.6,321.8" fill="rgb(107,107,107)" stroke="#4a4a4a" stroke-width="0.7"/>
<polygon points="65.4,321.7 65.3,321.8 64.3,324.2 62.3,328.9 62,331.6 63.3,332.4 64.9,332.5 66.7,331.9 67.7,331.4 67.8,331 67.4,328.6 66.5,324.2 65.9,321.9 65.6,321.8" fill="url(#sh0)" fill-opacity="0.25"/>
<polyline points="65.6,322.4 65.4,322.4 65.3,322.5 64.4,324.6 62.7,328.7 62.4,331.1 63.6,331.8 64.9,331.9" fill="none" stroke="#eeeeee" stroke-opacity="0.6" stroke-width="0.9" stroke-linecap="round"/>
<polygon points="69.8,329.9 73.6,327.9 75.9,327.2 76.6,327.6 76.8,329.4 76.5,332.7 74.7,334.4 71.6,334.4 69.4,333.7 68.2,332.3 67.7,331.4 67.8,331" fill="rgb(98,98,98)" stroke="#4a4a4a" stroke-width="0.7"/>
<polygon points="69.8,329.9 73.6,327.9 75.9,327.2 76.6,327.6 76.8,329.4 76.5,332.7 74.7,334.4 71.6,334.4 69.4,333.7 68.2,332.3 67.7,331.4 67.8,331" fill="url(#sh1)" fill-opacity="0.25"/>
<polyline points="70.1,330 73.5,328.3 75.5,327.7 76,328 76.2,329.6 75.9,332.5" fill="none" stroke="#eeeeee" stroke-opacity="0.6" stroke-width="0.9" stroke-linecap="round"/>
<polygon points="85.9,327.6 83.3,326.5 80.7,326.4 78.2,327.3 76.8,329.4 76.5,332.7 78.1,334.4 81.5,334.4 84.4,333.6 86.6,332.1 87.6,330.5 87.3,328.9" fill="rgb(105,105,105)" stroke="#4a4a4a" stroke-width="0.7"/>
<polygon points="85.9,327.6 83.3,326.5 80.7,326.4 78.2,327.3 76.8,329.4 76.5,332.7 78.1,334.4 81.5,334.4 84.4,333.6 86.6,332.1 87.6,330.5 87.3,328.9" fill="url(#sh0)" fill-opacity="0.25"/>
<polyline points="78.5,334 81.6,334 84.1,333.3 86.1,331.9 87,330.5 86.8,329.1" fill="none" stroke="#eeeeee" stroke-opacity="0.6" stroke-width="0.9" stroke-linecap="round"/>
<polygon points="97,327.6 90.6,327.8 87.4,328 87.3,328.1 87.3,328.9 87.6,330.5 88.3,332.1 89.7,333.6 91.2,334.4 93.1,334.4 95.5,333.1 98.5,330.5 100.1,328.8 100.2,327.9" fill="rgb(125,125,125)" stroke="#4a4a4a" stroke-width="0.7"/>
<polygon points="97,327.6 90.6,327.8 87.4,328 87.3,328.1 87.3,328.9 87.6,330.5 88.3,332.1 89.7,333.6 91.2,334.4 93.1,334.4 95.5,333.1 98.5,330.5 100.1,328.8 100.2,327.9" fill="url(#sh1)" fill-opacity="0.25"/>
<polyline points="87.9,329.1 88.1,330.5 88.8,331.9 89.9,333.3 91.4,334 93,334" fill="none" stroke="#eeeeee" stroke-opacity="0.6" stroke-width="0.9" stroke-linecap="round"/>
<polygon points="98.5,330.5 95.5,333.1 96.2,334.4 100.7,334.4 102.2,333.1 100.8,330.5" fill="rgb(121,121,121)" stroke="#4a4a4a" stroke-width="0.7"/>
<polygon points="98.5,330.5 95.5,333.1 96.2,334.4 100.7,334.4 102.2,333.1 100.8,330.5" fill="url(#sh1)" fill-opacity="0.25"/>
<polyline points="100.4,330.9 98.6,330.9 96.1,333 96.7,334.1" fill="none" stroke="#eeeeee" stroke-opacity="0.6" stroke-width="0.9" stroke-linecap="round"/>
<polygon points="103.1,326.4 106.9,326.9 109.5,328.4 110.7,330.8 111.2,332.4 111,333.1 110.6,333.7 110,334.2 108,334.4 104.6,334.4 102.2,333.1 100.8,330.5 100.1,328.8 100.2,327.9 100.4,327.2 100.7,326.6 100.9,326.2 101.1,326.1" fill="rgb(115,115,115)" stroke="#4a4a4a" stroke-width="0.7"/>
<polygon points="103.1,326.4 106.9,326.9 109.5,328.4 110.7,330.8 111.2,332.4 111,333.1 110.6,333.7 110,334.2 108,334.4 104.6,334.4 102.2,333.1 100.8,330.5 100.1,328.8 100.2,327.9 100.4,327.2 100.7,326.6 100.9,326.2 101.1,326.1" fill="url(#sh1)" fill-opacity="0.25"/>
<polyline points="109.5,333.7 107.7,334 104.7,334 102.5,332.8 101.2,330.4" fill="none" stroke="#eeeeee" stroke-opacity="0.6" stroke-width="0.9" stroke-linecap="round"/>
<polygon points="112.9,331.4 116.2,330.1 119.2,330.7 121.9,333.1 123.3,334.4 123.3,334.4 120.5,334.4 114.8,334.4 111.7,334.2 111.2,333.7 111,333.1 111.2,332.4" fill="rgb(108,108,108)" stroke="#4a4a4a" stroke-width="0.7"/>
<polygon points="112.9,331.4 116.2,330.1 119.2,330.7 121.9,333.1 123.3,334.4 123.3,334.4 120.5,334.4 114.8,334.4 111.7,334.2 111.2,333.7 111,333.1 111.2,332.4" fill="url(#sh3)" fill-opacity="0.25"/>
<polyline points="122.5,334.2 122.5,334.2 120,334.2 115,334.2 112.3,334 111.8,333.6 111.6,333.1" fill="none" stroke="#eeeeee" stroke-opacity="0.6" stroke-width="0.9" stroke-linecap="round"/>
<polygon points="124,332.3 125.5,328.3 127.9,326.8 131.2,328 132.6,330 132.2,332.9 129.8,334.4 125.5,334.4 123.3,334.4 123.3,334.4" fill="rgb(116,116,116)" stroke="#4a4a4a" stroke-width="0.7"/>
<polygon points="124,332.3 125.5,328.3 127.9,326.8 131.2,328 132.6,330 132.2,332.9 129.8,334.4 125.5,334.4 123.3,334.4 123.3,334.4" fill="url(#sh3)" fill-opacity="0.25"/>
<polyline points="130.8,328.4 132,330.2 131.6,332.8 129.5,334.1" fill="none" stroke="#eeeeee" stroke-opacity="0.6" stroke-width="0.9" stroke-linecap="round"/>
<polygon points="140.1,332.5 136.5,328.7 134.2,327.2 133.3,328.1 132.6,330 132.2,332.9 134.5,334.4 139.5,334.4" fill="rgb(115,115,115)" stroke="#4a4a4a" stroke-width="0.7"/>
<polygon points="140.1,332.5 136.5,328.7 134.2,327.2 133.3,328.1 132.6,330 132.2,332.9 134.5,334.4 139.5,334.4" fill="url(#sh1)" fill-opacity="0.25"/>
<polyline points="134.6,333.9 138.9,333.9 139.5,332.3 136.3,329 134.4,327.8" fill="none" stroke="#eeeeee" stroke-opacity="0.6" stroke-width="0.9" stroke-linecap="round"/>
<polygon points="141.1,327.1 139.2,325.8 137.6,325.3 136.1,325.5 135.2,325.9 134.9,326.5 136.5,328.7 140.1,332.5 142,334.4 142,334.4 142,332.7 142,329.4" fill="rgb(113,113,113)" stroke="#4a4a4a" stroke-width="0.7"/>
<polygon points="141.1,327.1 139.2,325.8 137.6,325.3 136.1,325.5 135.2,325.9 134.9,326.5 136.5,328.7 140.1,332.5 142,334.4 142,334.4 142,332.7 142,329.4" fill="url(#sh2)" fill-opacity="0.25"/>
<polyline points="141.6,332.3 141.6,329.3 140.8,327.3 139.2,326.2 137.8,325.8" fill="none" stroke="#eeeeee" stroke-opacity="0.6" stroke-width="0.9" stroke-linecap="round"/>
<polygon points="66.7,331.9 64.9,332.5 63.9,333.1 63.7,334 65.2,334.4 68.4,334.4 69.4,333.7 68.2,332.3" fill="rgb(103,103,103)" stroke="#4a4a4a" stroke-width="0.7"/>
<polygon points="66.7,331.9 64.9,332.5 63.9,333.1 63.7,334 65.2,334.4 68.4,334.4 69.4,333.7 68.2,332.3" fill="url(#sh2)" fill-opacity="0.25"/>
<polyline points="65.2,332.7 64.5,333.2 64.3,333.8 65.5,334.1 67.9,334.1" fill="none" stroke="#eeeeee" stroke-opacity="0.6" stroke-width="0.9" stroke-linecap="round"/>
<polygon points="86.6,332.1 84.4,333.6 85,334.4 88.5,334.4 89.7,333.6 88.3,332.1" fill="rgb(122,122,122)" stroke="#4a4a4a" stroke-width="0.7"/>
<polygon points="86.6,332.1 84.4,333.6 85,334.4 88.5,334.4 89.7,333.6 88.3,332.1" fill="url(#sh3)" fill-opacity="0.25"/>
<polyline points="85.1,333.6 85.5,334.1 88.2,334.1" fill="none" stroke="#eeeeee" stroke-opacity="0.6" stroke-width="0.9" stroke-linecap="round"/>
<polygon points="111.2,333.7 111.7,334.2 111.4,334.4 110.3,334.4 110,334.2 110.6,333.7" fill="rgb(114,114,114)" stroke="#4a4a4a" stroke-width="0.7"/>
<polygon points="111.2,333.7 111.7,334.2 111.4,334.4 110.3,334.4 110,334.2 110.6,333.7" fill="url(#sh0)" fill-opacity="0.25"/>
<polyline points="110.8,333.9 111,333.9 111.3,334.1" fill="none" stroke="#eeeeee" stroke-opacity="0.6" stroke-width="0.9" stroke-linecap="round"/>
</g></g>
<g filter="url(#semblur)"><g clip-path="url(#s4)">
<rect x="187" y="254.4" width="117" height="80" fill="#5a5a5a"/>
<polygon points="200.7,258.9 193.4,254.4 207.3,254.4 208.9,257.8 205.4,260.3" fill="rgb(96,96,96)" stroke="#1c1c1c" stroke-width="1.0"/>
<polygon points="200.7,258.9 193.4,254.4 207.3,254.4 208.9,257.8 205.4,260.3" fill="url(#sh2)" fill-opacity="0.35"/>
<polyline points="206.8,254.7 208.2,257.7 205.1,259.9" fill="none" stroke="#fafafa" stroke-opacity="0.7" stroke-width="1.0" stroke-linecap="round"/>
<polygon points="207.3,254.4 208.9,257.8 215.1,256.1 215.2,255.9 215.1,254.4" fill="rgb(119,119,119)" stroke="#1c1c1c" stroke-width="1.0"/>
<polygon points="207.3,254.4 208.9,257.8 215.1,256.1 215.2,255.9 215.1,254.4" fill="url(#sh2)" fill-opacity="0.35"/>
<polyline points="214.7,256 214.7,255.9 214.7,254.6" fill="none" stroke="#fafafa" stroke-opacity="0.7" stroke-width="1.0" stroke-linecap="round"/>
<polygon points="215.1,254.4 215.2,255.9 218.2,254.4" fill="rgb(86,86,86)" stroke="#1c1c1c" stroke-width="1.0"/>
<polygon points="215.1,254.4 215.2,255.9 218.2,254.4" fill="url(#sh2)" fill-opacity="0.35"/>
<polyline points="215.6,255.5 217.5,254.6 215.5,254.6" fill="none" stroke="#fafafa" stroke-opacity="0.7" stroke-width="1.0" stroke-linecap="round"/>
<polygon points="248.2,257.5 247.4,254.4 237.6,254.4 237.8,262.5 239.6,262.7" fill="rgb(96,96,96)" stroke="#1c1c1c" stroke-width="1.0"/>
<polygon points="248.2,257.5 247.4,254.4 237.6,254.4 237.8,262.5 239.6,262.7" fill="url(#sh3)" fill-opacity="0.35"/>
<polyline points="247.6,257.6 246.9,254.8 238.1,254.8" fill="none" stroke="#fafafa" stroke-opacity="0.7" stroke-width="1.0" stroke-linecap="round"/>
<polygon points="248.2,257.5 247.4,254.4 253.6,254.4 249.9,258" fill="rgb(108,108,108)" stroke="#1c1c1c" stroke-width="1.0"/>
<polygon points="248.2,257.5 247.4,254.4 253.6,254.4 249.9,258" fill="url(#sh3)" fill-opacity="0.35"/>
<polyline points="247.9,254.8 252.8,254.8 249.9,257.6" fill="none" stroke="#fafafa" stroke-opacity="0.7" stroke-width="1.0" stroke-linecap="round"/>
<polygon points="264,254.4 264.5,256.9 278.6,254.4" fill="rgb(121,121,121)" stroke="#1c1c1c" stroke-width="1.0"/>
<polygon points="264,254.4 264.5,256.9 278.6,254.4" fill="url(#sh2)" fill-opacity="0.35"/>
<polyline points="277.7,254.5 264.5,254.5 264.9,256.7" fill="none" stroke="#fafafa" stroke-opacity="0.7" stroke-width="1.0" stroke-linecap="round"/>
<polygon points="283,254.4 282.7,254.8 281,254.4" fill="rgb(88,88,88)" stroke="#1c1c1c" stroke-width="1.0"/>
<polygon points="283,254.4 282.7,254.8 281,254.4" fill="url(#sh0)" fill-opacity="0.35"/>
<polyline points="282.6,254.5 282.4,254.7 281.6,254.5" fill="none" stroke="#fafafa" stroke-opacity="0.7" stroke-width="1.0" stroke-linecap="round"/>
<polygon points="298.2,254.4 298.4,254.5 298.9,254.4" fill="rgb(109,109,109)" stroke="#1c1c1c" stroke-width="1.0"/>
<polygon points="298.2,254.4 298.4,254.5 298.9,254.4" fill="url(#sh0)" fill-opacity="0.35"/>
<polyline points="298.4,254.5 298.7,254.4 298.4,254.4" fill="none" stroke="#fafafa" stroke-opacity="0.7" stroke-width="1.0" stroke-linecap="round"/>
<polygon points="187,254.4 187,269.1 188.1,268.9 191.9,254.4" fill="rgb(107,107,107)" stroke="#1c1c1c" stroke-width="1.0"/>
<polygon points="187,254.4 187,269.1 188.1,268.9 191.9,254.4" fill="url(#sh0)" fill-opacity="0.35"/>
<polyline points="187.1,255 187.1,268.5 188.1,268.3" fill="none" stroke="#fafafa" stroke-opacity="0.7" stroke-width="1.0" stroke-linecap="round"/>
<polygon points="200.7,258.9 193.4,254.4 191.9,254.4 188.1,268.9 193.2,272" fill="rgb(124,124,124)" stroke="#1c1c1c" stroke-width="1.0"/>
<polygon points="200.7,258.9 193.4,254.4 191.9,254.4 188.1,268.9 193.2,272" fill="url(#sh1)" fill-opacity="0.35"/>
<polyline points="192,254.9 188.5,268.4 193.2,271.3" fill="none" stroke="#fafafa" stroke-opacity="0.7" stroke-width="1.0" stroke-linecap="round"/>
<polygon points="205.4,260.3 208.9,257.8 215.1,256.1 217.8,259.3 212.1,276.1 206.3,275.6" fill="rgb(108,108,108)" stroke="#1c1c1c" stroke-width="1.0"/>
<polygon points="205.4,260.3 208.9,257.8 215.1,256.1 217.8,259.3 212.1,276.1 206.3,275.6" fill="url(#sh2)" fill-opacity="0.35"/>
<polyline points="214.9,256.6 217.3,259.6 212,275.4" fill="none" stroke="#fafafa" stroke-opacity="0.7" stroke-width="1.0" stroke-linecap="round"/>
<polygon points="228.6,254.4 229.6,265.4 229.3,265.4 217.8,259.3 215.1,256.1 215.2,255.9 218.2,254.4" fill="rgb(103,103,103)" stroke="#1c1c1c" stroke-width="1.0"/>
<polygon points="228.6,254.4 229.6,265.4 229.3,265.4 217.8,259.3 215.1,256.1 215.2,255.9 218.2,254.4" fill="url(#sh3)" fill-opacity="0.35"/>
<polyline points="228,254.7 229,264.8 228.7,264.9" fill="none" stroke="#fafafa" stroke-opacity="0.7" stroke-width="1.0" stroke-linecap="round"/>
<polygon points="237.6,254.4 237.8,262.5 231.4,265.8 229.6,265.4 228.6,254.4" fill="rgb(124,124,124)" stroke="#1c1c1c" stroke-width="1.0"/>
<polygon points="237.6,254.4 237.8,262.5 231.4,265.8 229.6,265.4 228.6,254.4" fill="url(#sh2)" fill-opacity="0.35"/>
<polyline points="229.9,264.9 229,255 237.2,255" fill="none" stroke="#fafafa" stroke-opacity="0.7" stroke-width="1.0" stroke-linecap="round"/>
<polygon points="251.6,271.9 253.9,262.1 249.9,258 248.2,257.5 239.6,262.7 248.8,271.5" fill="rgb(97,97,97)" stroke="#1c1c1c" stroke-width="1.0"/>
<polygon points="251.6,271.9 253.9,262.1 249.9,258 248.2,257.5 239.6,262.7 248.8,271.5" fill="url(#sh3)" fill-opacity="0.35"/>
<polyline points="251.4,271.2 253.5,262.2 249.8,258.5" fill="none" stroke="#fafafa" stroke-opacity="0.7" stroke-width="1.0" stroke-linecap="round"/>
<polygon points="264.3,259.5 253.9,262.1 249.9,258 253.6,254.4 264,254.4 264.5,256.9" fill="rgb(119,119,119)" stroke="#1c1c1c" stroke-width="1.0"/>
<polygon points="264.3,259.5 253.9,262.1 249.9,258 253.6,254.4 264,254.4 264.5,256.9" fill="url(#sh2)" fill-opacity="0.35"/>
<polyline points="250.7,258 254.1,254.7 263.5,254.7" fill="none" stroke="#fafafa" stroke-opacity="0.7" stroke-width="1.0" stroke-linecap="round"/>
<polygon points="278.6,254.4 264.5,256.9 264.3,259.5 266.2,262.6 278.8,266.5 282.2,261.4 282.7,254.8 281,254.4" fill="rgb(124,124,124)" stroke="#1c1c1c" stroke-width="1.0"/>
<polygon points="278.6,254.4 264.5,256.9 264.3,259.5 266.2,262.6 278.8,266.5 282.2,261.4 282.7,254.8 281,254.4" fill="url(#sh3)" fill-opacity="0.35"/>
<polyline points="280.6,254.7 278.3,254.7 265.2,257 265.1,259.5" fill="none" stroke="#fafafa" stroke-opacity="0.7" stroke-width="1.0" stroke-linecap="round"/>
<polygon points="298.2,254.4 298.4,254.5 296.8,264.8 282.2,261.4 282.7,254.8 283,254.4" fill="rgb(101,101,101)" stroke="#1c1c1c" stroke-width="1.0"/>
<polygon points="298.2,254.4 298.4,254.5 296.8,264.8 282.2,261.4 282.7,254.8 283,254.4" fill="url(#sh2)" fill-opacity="0.35"/>
<polyline points="282.8,261.1 283.2,255 283.5,254.6" fill="none" stroke="#fafafa" stroke-opacity="0.7" stroke-width="1.0" stroke-linecap="round"/>
<polygon points="304,267.9 299.5,269.3 296.8,264.8 298.4,254.5 298.9,254.4 304,254.4" fill="rgb(108,108,108)" stroke="#1c1c1c" stroke-width="1.0"/>
<polygon points="304,267.9 299.5,269.3 296.8,264.8 298.4,254.5 298.9,254.4 304,254.4" fill="url(#sh2)" fill-opacity="0.35"/>
<polyline points="303.7,267.3 299.5,268.6 297.1,264.4" fill="none" stroke="#fafafa" stroke-opacity="0.7" stroke-width="1.0" stroke-linecap="round"/>
<polygon points="193.2,272 188.1,268.9 187,269.1 187,284.2 189.8,286.5 198.8,277.8" fill="rgb(93,93,93)" stroke="#1c1c1c" stroke-width="1.0"/>
<polygon points="193.2,272 188.1,268.9 187,269.1 187,284.2 189.8,286.5 198.8,277.8" fill="url(#sh2)" fill-opacity="0.35"/>
<polyline points="193,272.3 188.3,269.5 187.3,269.6" fill="none" stroke="#fafafa" stroke-opacity="0.7" stroke-width="1.0" stroke-linecap="round"/>
<polygon points="200.7,258.9 193.2,272 198.8,277.8 202.4,277.8 206.3,275.6 205.4,260.3" fill="rgb(101,101,101)" stroke="#1c1c1c" stroke-width="1.0"/>
<polygon points="200.7,258.9 193.2,272 198.8,277.8 202.4,277.8 206.3,275.6 205.4,260.3" fill="url(#sh3)" fill-opacity="0.35"/>
<polyline points="202.3,277.3 205.9,275.3 205.1,260.9" fill="none" stroke="#fafafa" stroke-opacity="0.7" stroke-width="1.0" stroke-linecap="round"/>
<polygon points="216.4,277.9 212.1,276.1 217.8,259.3 229.3,265.4 216.7,277.8" fill="rgb(126,126,126)" stroke="#1c1c1c" stroke-width="1.0"/>
<polygon points="216.4,277.9 212.1,276.1 217.8,259.3 229.3,265.4 216.7,277.8" fill="url(#sh3)" fill-opacity="0.35"/>
<polyline points="216.8,277.4 216.6,277.5 212.5,275.8" fill="none" stroke="#fafafa" stroke-opacity="0.7" stroke-width="1.0" stroke-linecap="round"/>
<polygon points="231.4,283.7 236.3,279.8 231.4,265.8 229.6,265.4 229.3,265.4 216.7,277.8" fill="rgb(111,111,111)" stroke="#1c1c1c" stroke-width="1.0"/>
<polygon points="231.4,283.7 236.3,279.8 231.4,265.8 229.6,265.4 229.3,265.4 216.7,277.8" fill="url(#sh1)" fill-opacity="0.35"/>
<polyline points="231.2,283 235.9,279.4 231.3,266.3" fill="none" stroke="#fafafa" stroke-opacity="0.7" stroke-width="1.0" stroke-linecap="round"/>
<polygon points="236.6,279.9 236.3,279.8 231.4,265.8 237.8,262.5 239.6,262.7 248.8,271.5" fill="rgb(99,99,99)" stroke="#1c1c1c" stroke-width="1.0"/>
<polygon points="236.6,279.9 236.3,279.8 231.4,265.8 237.8,262.5 239.6,262.7 248.8,271.5" fill="url(#sh1)" fill-opacity="0.35"/>
<polyline points="248.1,271.4 236.7,279.3 236.5,279.2" fill="none" stroke="#fafafa" stroke-opacity="0.7" stroke-width="1.0" stroke-linecap="round"/>
<polygon points="251.6,271.9 253.9,262.1 264.3,259.5 266.2,262.6 261.4,273.3 253,273.3" fill="rgb(105,105,105)" stroke="#1c1c1c" stroke-width="1.0"/>
<polygon points="251.6,271.9 253.9,262.1 264.3,259.5 266.2,262.6 261.4,273.3 253,273.3" fill="url(#sh2)" fill-opacity="0.35"/>
<polyline points="254.3,262.5 263.9,260.1 265.6,262.9" fill="none" stroke="#fafafa" stroke-opacity="0.7" stroke-width="1.0" stroke-linecap="round"/>
<polygon points="267.4,280.1 261.4,273.3 266.2,262.6 278.8,266.5 279.2,269.2 277.7,275 274.8,278.3" fill="rgb(94,94,94)" stroke="#1c1c1c" stroke-width="1.0"/>
<polygon points="267.4,280.1 261.4,273.3 266.2,262.6 278.8,266.5 279.2,269.2 277.7,275 274.8,278.3" fill="url(#sh3)" fill-opacity="0.35"/>
<polyline points="278.4,266.9 278.7,269.4 277.3,274.8" fill="none" stroke="#fafafa" stroke-opacity="0.7" stroke-width="1.0" stroke-linecap="round"/>
<polygon points="294.5,285.1 277.7,275 279.2,269.2 297.5,274.6" fill="rgb(89,89,89)" stroke="#1c1c1c" stroke-width="1.0"/>
<polygon points="294.5,285.1 277.7,275 279.2,269.2 297.5,274.6" fill="url(#sh1)" fill-opacity="0.35"/>
<polyline points="296.9,274.7 294.1,284.5 278.3,275" fill="none" stroke="#fafafa" stroke-opacity="0.7" stroke-width="1.0" stroke-linecap="round"/>
<polygon points="282.2,261.4 296.8,264.8 299.5,269.3 297.7,274.4 297.5,274.6 279.2,269.2 278.8,266.5" fill="rgb(89,89,89)" stroke="#1c1c1c" stroke-width="1.0"/>
<polygon points="282.2,261.4 296.8,264.8 299.5,269.3 297.7,274.4 297.5,274.6 279.2,269.2 278.8,266.5" fill="url(#sh3)" fill-opacity="0.35"/>
<polyline points="297.1,274.3 279.9,269.2 279.5,266.6 282.7,261.8" fill="none" stroke="#fafafa" stroke-opacity="0.7" stroke-width="1.0" stroke-linecap="round"/>
<polygon points="304,276.7 297.7,274.4 299.5,269.3 304,267.9" fill="rgb(114,114,114)" stroke="#1c1c1c" stroke-width="1.0"/>
<polygon points="304,276.7 297.7,274.4 299.5,269.3 304,267.9" fill="url(#sh3)" fill-opacity="0.35"/>
<polyline points="299.7,269.7 303.6,268.4 303.6,276.1" fill="none" stroke="#fafafa" stroke-opacity="0.7" stroke-width="1.0" stroke-linecap="round"/>
<polygon points="188.9,290.8 187,291.8 187,284.2 189.8,286.5" fill="rgb(103,103,103)" stroke="#1c1c1c" stroke-width="1.0"/>
<polygon points="188.9,290.8 187,291.8 187,284.2 189.8,286.5" fill="url(#sh1)" fill-opacity="0.35"/>
<polyline points="187.2,285 189.5,286.8 188.7,290.4" fill="none" stroke="#fafafa" stroke-opacity="0.7" stroke-width="1.0" stroke-linecap="round"/>
<polygon points="202.4,277.8 205.9,294.8 205.7,295.6 202.9,297 192.2,294 188.9,290.8 189.8,286.5 198.8,277.8" fill="rgb(115,115,115)" stroke="#1c1c1c" stroke-width="1.0"/>
<polygon points="202.4,277.8 205.9,294.8 205.7,295.6 202.9,297 192.2,294 188.9,290.8 189.8,286.5 198.8,277.8" fill="url(#sh2)" fill-opacity="0.35"/>
<polyline points="189.5,290.7 190.3,286.6 198.8,278.5" fill="none" stroke="#fafafa" stroke-opacity="0.7" stroke-width="1.0" stroke-linecap="round"/>
<polygon points="206.3,275.6 212.1,276.1 216.4,277.9 216.9,287 205.9,294.8 202.4,277.8" fill="rgb(98,98,98)" stroke="#1c1c1c" stroke-width="1.0"/>
<polygon points="206.3,275.6 212.1,276.1 216.4,277.9 216.9,287 205.9,294.8 202.4,277.8" fill="url(#sh3)" fill-opacity="0.35"/>
<polyline points="216,278.2 216.5,286.7 206.2,293.8" fill="none" stroke="#fafafa" stroke-opacity="0.7" stroke-width="1.0" stroke-linecap="round"/>
<polygon points="231.4,283.7 216.7,277.8 216.4,277.9 216.9,287 223.3,294.8 229.9,290" fill="rgb(123,123,123)" stroke="#1c1c1c" stroke-width="1.0"/>
<polygon points="231.4,283.7 216.7,277.8 216.4,277.9 216.9,287 223.3,294.8 229.9,290" fill="url(#sh2)" fill-opacity="0.35"/>
<polyline points="217.1,278.3 216.9,278.4 217.3,286.9" fill="none" stroke="#fafafa" stroke-opacity="0.7" stroke-width="1.0" stroke-linecap="round"/>
<polygon points="242.9,284.9 241.3,296.8 239.7,297.5 229.9,290 231.4,283.7 236.3,279.8 236.6,279.9" fill="rgb(94,94,94)" stroke="#1c1c1c" stroke-width="1.0"/>
<polygon points="242.9,284.9 241.3,296.8 239.7,297.5 229.9,290 231.4,283.7 236.3,279.8 236.6,279.9" fill="url(#sh1)" fill-opacity="0.35"/>
<polyline points="242.4,285.1 241,296.1 239.5,296.7" fill="none" stroke="#fafafa" stroke-opacity="0.7" stroke-width="1.0" stroke-linecap="round"/>
<polygon points="251.6,271.9 248.8,271.5 236.6,279.9 242.9,284.9 251.5,284.4 253,273.3" fill="rgb(127,127,127)" stroke="#1c1c1c" stroke-width="1.0"/>
<polygon points="251.6,271.9 248.8,271.5 236.6,279.9 242.9,284.9 251.5,284.4 253,273.3" fill="url(#sh3)" fill-opacity="0.35"/>
<polyline points="251.2,283.9 252.6,273.6 251.3,272.3" fill="none" stroke="#fafafa" stroke-opacity="0.7" stroke-width="1.0" stroke-linecap="round"/>
<polygon points="253,273.3 261.4,273.3 267.4,280.1 264.8,285.5 261.7,288.6 254.1,287.3 251.5,284.4" fill="rgb(96,96,96)" stroke="#1c1c1c" stroke-width="1.0"/>
<polygon points="253,273.3 261.4,273.3 267.4,280.1 264.8,285.5 261.7,288.6 254.1,287.3 251.5,284.4" fill="url(#sh1)" fill-opacity="0.35"/>
<polyline points="261.5,288.1 254.5,286.9 252,284.2 253.5,273.9" fill="none" stroke="#fafafa" stroke-opacity="0.7" stroke-width="1.0" stroke-linecap="round"/>
<polygon points="274.3,291.8 264.8,285.5 267.4,280.1 274.8,278.3 280.1,290" fill="rgb(122,122,122)" stroke="#1c1c1c" stroke-width="1.0"/>
<polygon points="274.3,291.8 264.8,285.5 267.4,280.1 274.8,278.3 280.1,290" fill="url(#sh2)" fill-opacity="0.35"/>
<polyline points="279.5,289.6 274.1,291.3 265.4,285.5" fill="none" stroke="#fafafa" stroke-opacity="0.7" stroke-width="1.0" stroke-linecap="round"/>
<polygon points="280.1,290 285.8,293.1 294.8,287.6 294.5,285.1 277.7,275 274.8,278.3" fill="rgb(93,93,93)" stroke="#1c1c1c" stroke-width="1.0"/>
<polygon points="280.1,290 285.8,293.1 294.8,287.6 294.5,285.1 277.7,275 274.8,278.3" fill="url(#sh2)" fill-opacity="0.35"/>
<polyline points="278.1,275.5 275.4,278.7 280.4,289.7" fill="none" stroke="#fafafa" stroke-opacity="0.7" stroke-width="1.0" stroke-linecap="round"/>
<polygon points="297.5,289.4 294.8,287.6 294.5,285.1 297.5,274.6 297.7,274.4 304,276.7 304,288.2" fill="rgb(102,102,102)" stroke="#1c1c1c" stroke-width="1.0"/>
<polygon points="297.5,289.4 294.8,287.6 294.5,285.1 297.5,274.6 297.7,274.4 304,276.7 304,288.2" fill="url(#sh1)" fill-opacity="0.35"/>
<polyline points="303.5,277.1 303.5,287.7 297.6,288.8" fill="none" stroke="#fafafa" stroke-opacity="0.7" stroke-width="1.0" stroke-linecap="round"/>
<polygon points="191.5,302.6 192.2,294 188.9,290.8 187,291.8 187,304.3" fill="rgb(106,106,106)" stroke="#1c1c1c" stroke-width="1.0"/>
<polygon points="191.5,302.6 192.2,294 188.9,290.8 187,291.8 187,304.3" fill="url(#sh0)" fill-opacity="0.35"/>
<polyline points="191.3,302 191.9,294.2 188.9,291.4" fill="none" stroke="#fafafa" stroke-opacity="0.7" stroke-width="1.0" stroke-linecap="round"/>
<polygon points="196.5,307.2 199.6,306.3 202.9,297 192.2,294 191.5,302.6" fill="rgb(100,100,100)" stroke="#1c1c1c" stroke-width="1.0"/>
<polygon points="196.5,307.2 199.6,306.3 202.9,297 192.2,294 191.5,302.6" fill="url(#sh1)" fill-opacity="0.35"/>
<polyline points="192.6,294.6 191.9,302.5 196.5,306.7" fill="none" stroke="#fafafa" stroke-opacity="0.7" stroke-width="1.0" stroke-linecap="round"/>
<polygon points="205.7,295.6 213.5,301.1 222.3,298.4 223.3,294.8 216.9,287 205.9,294.8" fill="rgb(105,105,105)" stroke="#1c1c1c" stroke-width="1.0"/>
<polygon points="205.7,295.6 213.5,301.1 222.3,298.4 223.3,294.8 216.9,287 205.9,294.8" fill="url(#sh2)" fill-opacity="0.35"/>
<polyline points="216.8,287.6 206.5,294.8 206.4,295.6" fill="none" stroke="#fafafa" stroke-opacity="0.7" stroke-width="1.0" stroke-linecap="round"/>
<polygon points="229.9,290 239.7,297.5 239.4,297.9 226.7,304 222.3,298.4 223.3,294.8" fill="rgb(95,95,95)" stroke="#1c1c1c" stroke-width="1.0"/>
<polygon points="229.9,290 239.7,297.5 239.4,297.9 226.7,304 222.3,298.4 223.3,294.8" fill="url(#sh1)" fill-opacity="0.35"/>
<polyline points="223.8,295 229.9,290.5 239,297.4" fill="none" stroke="#fafafa" stroke-opacity="0.7" stroke-width="1.0" stroke-linecap="round"/>
<polygon points="242.9,284.9 241.3,296.8 248.3,298.6 254.1,287.3 251.5,284.4" fill="rgb(105,105,105)" stroke="#1c1c1c" stroke-width="1.0"/>
<polygon points="242.9,284.9 241.3,296.8 248.3,298.6 254.1,287.3 251.5,284.4" fill="url(#sh0)" fill-opacity="0.35"/>
<polyline points="243.2,285.4 241.8,296.3 248.2,298" fill="none" stroke="#fafafa" stroke-opacity="0.7" stroke-width="1.0" stroke-linecap="round"/>
<polygon points="248.3,298.6 250.1,300.9 263.7,299.1 261.7,288.6 254.1,287.3" fill="rgb(118,118,118)" stroke="#1c1c1c" stroke-width="1.0"/>
<polygon points="248.3,298.6 250.1,300.9 263.7,299.1 261.7,288.6 254.1,287.3" fill="url(#sh2)" fill-opacity="0.35"/>
<polyline points="250.5,300.5 263.1,298.8 261.2,289.1" fill="none" stroke="#fafafa" stroke-opacity="0.7" stroke-width="1.0" stroke-linecap="round"/>
<polygon points="274.3,291.8 267.4,302.9 263.7,299.1 261.7,288.6 264.8,285.5" fill="rgb(113,113,113)" stroke="#1c1c1c" stroke-width="1.0"/>
<polygon points="274.3,291.8 267.4,302.9 263.7,299.1 261.7,288.6 264.8,285.5" fill="url(#sh3)" fill-opacity="0.35"/>
<polyline points="265,286.1 273.7,292 267.4,302.2" fill="none" stroke="#fafafa" stroke-opacity="0.7" stroke-width="1.0" stroke-linecap="round"/>
<polygon points="274.3,291.8 267.4,302.9 267.5,303.1 283.8,301.6 285.8,293.1 280.1,290" fill="rgb(90,90,90)" stroke="#1c1c1c" stroke-width="1.0"/>
<polygon points="274.3,291.8 267.4,302.9 267.5,303.1 283.8,301.6 285.8,293.1 280.1,290" fill="url(#sh0)" fill-opacity="0.35"/>
<polyline points="268.1,302.7 283.3,301.3 285.2,293.4" fill="none" stroke="#fafafa" stroke-opacity="0.7" stroke-width="1.0" stroke-linecap="round"/>
<polygon points="301.9,300.5 298.9,303.5 285.5,305.1 283.8,301.6 285.8,293.1 294.8,287.6 297.5,289.4" fill="rgb(103,103,103)" stroke="#1c1c1c" stroke-width="1.0"/>
<polygon points="301.9,300.5 298.9,303.5 285.5,305.1 283.8,301.6 285.8,293.1 294.8,287.6 297.5,289.4" fill="url(#sh0)" fill-opacity="0.35"/>
<polyline points="286,304.6 284.3,301.3 286.2,293.4" fill="none" stroke="#fafafa" stroke-opacity="0.7" stroke-width="1.0" stroke-linecap="round"/>
<polygon points="304,301.3 301.9,300.5 297.5,289.4 304,288.2" fill="rgb(94,94,94)" stroke="#1c1c1c" stroke-width="1.0"/>
<polygon points="304,301.3 301.9,300.5 297.5,289.4 304,288.2" fill="url(#sh1)" fill-opacity="0.35"/>
<polyline points="303.8,300.7 301.9,300 297.9,289.9" fill="none" stroke="#fafafa" stroke-opacity="0.7" stroke-width="1.0" stroke-linecap="round"/>
<polygon points="187.1,310 187,310.1 187,310" fill="rgb(96,96,96)" stroke="#1c1c1c" stroke-width="1.0"/>
<polygon points="187.1,310 187,310.1 187,310" fill="url(#sh0)" fill-opacity="0.35"/>
<polyline points="187,310 187,310.1 187,310" fill="none" stroke="#fafafa" stroke-opacity="0.7" stroke-width="1.0" stroke-linecap="round"/>
<polygon points="191.3,313.7 187.1,310 187,310 187,304.3 191.5,302.6 196.5,307.2" fill="rgb(90,90,90)" stroke="#1c1c1c" stroke-width="1.0"/>
<polygon points="191.3,313.7 187.1,310 187,310 187,304.3 191.5,302.6 196.5,307.2" fill="url(#sh0)" fill-opacity="0.35"/>
<polyline points="195.7,307.3 191.1,313 187.4,309.8" fill="none" stroke="#fafafa" stroke-opacity="0.7" stroke-width="1.0" stroke-linecap="round"/>
<polygon points="205.7,295.6 213.5,301.1 212.5,307.5 204.4,310.9 199.6,306.3 202.9,297" fill="rgb(96,96,96)" stroke="#1c1c1c" stroke-width="1.0"/>
<polygon points="205.7,295.6 213.5,301.1 212.5,307.5 204.4,310.9 199.6,306.3 202.9,297" fill="url(#sh3)" fill-opacity="0.35"/>
<polyline points="212,307.2 204.6,310.3 200.2,306.1" fill="none" stroke="#fafafa" stroke-opacity="0.7" stroke-width="1.0" stroke-linecap="round"/>
<polygon points="212.5,307.5 217.6,314.5 227.5,309 226.7,304 222.3,298.4 213.5,301.1" fill="rgb(120,120,120)" stroke="#1c1c1c" stroke-width="1.0"/>
<polygon points="212.5,307.5 217.6,314.5 227.5,309 226.7,304 222.3,298.4 213.5,301.1" fill="url(#sh1)" fill-opacity="0.35"/>
<polyline points="222.2,299 214,301.5 213.1,307.4" fill="none" stroke="#fafafa" stroke-opacity="0.7" stroke-width="1.0" stroke-linecap="round"/>
<polygon points="234.9,314.8 238.6,313.3 239.4,297.9 226.7,304 227.5,309" fill="rgb(109,109,109)" stroke="#1c1c1c" stroke-width="1.0"/>
<polygon points="234.9,314.8 238.6,313.3 239.4,297.9 226.7,304 227.5,309" fill="url(#sh3)" fill-opacity="0.35"/>
<polyline points="227.2,304.3 227.9,308.9 234.8,314.3" fill="none" stroke="#fafafa" stroke-opacity="0.7" stroke-width="1.0" stroke-linecap="round"/>
<polygon points="238.6,313.3 239.4,297.9 239.7,297.5 241.3,296.8 248.3,298.6 250.1,300.9 250,309.4 246.5,313.9" fill="rgb(91,91,91)" stroke="#1c1c1c" stroke-width="1.0"/>
<polygon points="238.6,313.3 239.4,297.9 239.7,297.5 241.3,296.8 248.3,298.6 250.1,300.9 250,309.4 246.5,313.9" fill="url(#sh2)" fill-opacity="0.35"/>
<polyline points="239,312.6 239.7,298.4 240,297.9" fill="none" stroke="#fafafa" stroke-opacity="0.7" stroke-width="1.0" stroke-linecap="round"/>
<polygon points="266.2,310.8 250,309.4 250.1,300.9 263.7,299.1 267.4,302.9 267.5,303.1" fill="rgb(102,102,102)" stroke="#1c1c1c" stroke-width="1.0"/>
<polygon points="266.2,310.8 250,309.4 250.1,300.9 263.7,299.1 267.4,302.9 267.5,303.1" fill="url(#sh0)" fill-opacity="0.35"/>
<polyline points="267,303.2 265.8,310.3 250.8,309.1" fill="none" stroke="#fafafa" stroke-opacity="0.7" stroke-width="1.0" stroke-linecap="round"/>
<polygon points="285.5,305.1 285.7,312.2 276.4,315.6 266.8,312.6 266.2,310.8 267.5,303.1 283.8,301.6" fill="rgb(102,102,102)" stroke="#1c1c1c" stroke-width="1.0"/>
<polygon points="285.5,305.1 285.7,312.2 276.4,315.6 266.8,312.6 266.2,310.8 267.5,303.1 283.8,301.6" fill="url(#sh0)" fill-opacity="0.35"/>
<polyline points="267.3,312.4 266.8,310.6 268,303.4" fill="none" stroke="#fafafa" stroke-opacity="0.7" stroke-width="1.0" stroke-linecap="round"/>
<polygon points="298.9,303.5 285.5,305.1 285.7,312.2 286,312.5 298,311.1" fill="rgb(113,113,113)" stroke="#1c1c1c" stroke-width="1.0"/>
<polygon points="298.9,303.5 285.5,305.1 285.7,312.2 286,312.5 298,311.1" fill="url(#sh3)" fill-opacity="0.35"/>
<polyline points="286.4,312.2 297.4,310.9 298.3,304" fill="none" stroke="#fafafa" stroke-opacity="0.7" stroke-width="1.0" stroke-linecap="round"/>
<polygon points="301.9,300.5 298.9,303.5 298,311.1 303.8,318.2 304,318.1 304,301.3" fill="rgb(97,97,97)" stroke="#1c1c1c" stroke-width="1.0"/>
<polygon points="301.9,300.5 298.9,303.5 298,311.1 303.8,318.2 304,318.1 304,301.3" fill="url(#sh2)" fill-opacity="0.35"/>
<polyline points="303.8,301.9 301.9,301.1 299.2,303.9" fill="none" stroke="#fafafa" stroke-opacity="0.7" stroke-width="1.0" stroke-linecap="round"/>
<polygon points="191.3,313.7 191.6,320 190.6,320.3 187,320.4 187,310.1 187.1,310" fill="rgb(128,128,128)" stroke="#1c1c1c" stroke-width="1.0"/>
<polygon points="191.3,313.7 191.6,320 190.6,320.3 187,320.4 187,310.1 187.1,310" fill="url(#sh3)" fill-opacity="0.35"/>
<polyline points="187.3,310.7 191,313.9 191.3,319.5" fill="none" stroke="#fafafa" stroke-opacity="0.7" stroke-width="1.0" stroke-linecap="round"/>
<polygon points="191.3,313.7 191.6,320 199.1,324.1 203.8,323.6 204.4,310.9 199.6,306.3 196.5,307.2" fill="rgb(125,125,125)" stroke="#1c1c1c" stroke-width="1.0"/>
<polygon points="191.3,313.7 191.6,320 199.1,324.1 203.8,323.6 204.4,310.9 199.6,306.3 196.5,307.2" fill="url(#sh1)" fill-opacity="0.35"/>
<polyline points="196.6,307.8 191.8,313.8 192.1,319.6 199,323.5" fill="none" stroke="#fafafa" stroke-opacity="0.7" stroke-width="1.0" stroke-linecap="round"/>
<polygon points="204.4,310.9 203.8,323.6 208.2,325.4 215.6,322.9 217.6,314.5 212.5,307.5" fill="rgb(109,109,109)" stroke="#1c1c1c" stroke-width="1.0"/>
<polygon points="204.4,310.9 203.8,323.6 208.2,325.4 215.6,322.9 217.6,314.5 212.5,307.5" fill="url(#sh3)" fill-opacity="0.35"/>
<polyline points="204.2,323.1 208.3,324.8 215.2,322.5" fill="none" stroke="#fafafa" stroke-opacity="0.7" stroke-width="1.0" stroke-linecap="round"/>
<polygon points="232.1,324.3 234.9,314.8 227.5,309 217.6,314.5 215.6,322.9 226.1,328" fill="rgb(116,116,116)" stroke="#1c1c1c" stroke-width="1.0"/>
<polygon points="232.1,324.3 234.9,314.8 227.5,309 217.6,314.5 215.6,322.9 226.1,328" fill="url(#sh1)" fill-opacity="0.35"/>
<polyline points="234.4,315.1 227.4,309.6 218.1,314.8" fill="none" stroke="#fafafa" stroke-opacity="0.7" stroke-width="1.0" stroke-linecap="round"/>
<polygon points="232.1,324.3 234.9,314.8 238.6,313.3 246.5,313.9 252.1,324.2 250.8,326.7 242.9,330.6" fill="rgb(86,86,86)" stroke="#1c1c1c" stroke-width="1.0"/>
<polygon points="232.1,324.3 234.9,314.8 238.6,313.3 246.5,313.9 252.1,324.2 250.8,326.7 242.9,330.6" fill="url(#sh0)" fill-opacity="0.35"/>
<polyline points="251.5,324 250.3,326.4 242.9,330.1 232.7,324.1" fill="none" stroke="#fafafa" stroke-opacity="0.7" stroke-width="1.0" stroke-linecap="round"/>
<polygon points="252.1,324.2 246.5,313.9 250,309.4 266.2,310.8 266.8,312.6 263.1,321.6" fill="rgb(95,95,95)" stroke="#1c1c1c" stroke-width="1.0"/>
<polygon points="252.1,324.2 246.5,313.9 250,309.4 266.2,310.8 266.8,312.6 263.1,321.6" fill="url(#sh0)" fill-opacity="0.35"/>
<polyline points="252.4,323.6 247.2,313.9 250.5,309.8" fill="none" stroke="#fafafa" stroke-opacity="0.7" stroke-width="1.0" stroke-linecap="round"/>
<polygon points="277.9,327.7 276.4,315.6 266.8,312.6 263.1,321.6 267.3,327.7" fill="rgb(128,128,128)" stroke="#1c1c1c" stroke-width="1.0"/>
<polygon points="277.9,327.7 276.4,315.6 266.8,312.6 263.1,321.6 267.3,327.7" fill="url(#sh1)" fill-opacity="0.35"/>
<polyline points="263.6,321.5 267.5,327.3 277.4,327.3" fill="none" stroke="#fafafa" stroke-opacity="0.7" stroke-width="1.0" stroke-linecap="round"/>
<polygon points="288.2,326.1 279.6,328.9 277.9,327.7 276.4,315.6 285.7,312.2 286,312.5 290,322" fill="rgb(126,126,126)" stroke="#1c1c1c" stroke-width="1.0"/>
<polygon points="288.2,326.1 279.6,328.9 277.9,327.7 276.4,315.6 285.7,312.2 286,312.5 290,322" fill="url(#sh0)" fill-opacity="0.35"/>
<polyline points="278.3,327.2 276.9,316 285.6,312.8" fill="none" stroke="#fafafa" stroke-opacity="0.7" stroke-width="1.0" stroke-linecap="round"/>
<polygon points="290,322 286,312.5 298,311.1 303.8,318.2 302.4,320.4" fill="rgb(95,95,95)" stroke="#1c1c1c" stroke-width="1.0"/>
<polygon points="290,322 286,312.5 298,311.1 303.8,318.2 302.4,320.4" fill="url(#sh1)" fill-opacity="0.35"/>
<polyline points="303.3,318.1 301.9,320.2 290.5,321.6" fill="none" stroke="#fafafa" stroke-opacity="0.7" stroke-width="1.0" stroke-linecap="round"/>
<polygon points="302.4,320.4 303.8,318.2 304,318.1 304,329" fill="rgb(92,92,92)" stroke="#1c1c1c" stroke-width="1.0"/>
<polygon points="302.4,320.4 303.8,318.2 304,318.1 304,329" fill="url(#sh3)" fill-opacity="0.35"/>
<polyline points="303.9,318.6 303.9,327.8 302.5,320.6" fill="none" stroke="#fafafa" stroke-opacity="0.7" stroke-width="1.0" stroke-linecap="round"/>
<polygon points="187,327.9 190.6,320.3 187,320.4" fill="rgb(101,101,101)" stroke="#1c1c1c" stroke-width="1.0"/>
<polygon points="187,327.9 190.6,320.3 187,320.4" fill="url(#sh3)" fill-opacity="0.35"/>
<polyline points="187.2,327.1 190.2,320.7 187.2,320.8" fill="none" stroke="#fafafa" stroke-opacity="0.7" stroke-width="1.0" stroke-linecap="round"/>
<polygon points="187,327.9 190.6,320.3 191.6,320 199.1,324.1 194.4,334.4 187,334.4" fill="rgb(95,95,95)" stroke="#1c1c1c" stroke-width="1.0"/>
<polygon points="187,327.9 190.6,320.3 191.6,320 199.1,324.1 194.4,334.4 187,334.4" fill="url(#sh2)" fill-opacity="0.35"/>
<polyline points="187.4,327.8 190.7,320.9 191.6,320.5" fill="none" stroke="#fafafa" stroke-opacity="0.7" stroke-width="1.0" stroke-linecap="round"/>
<polygon points="194.4,334.4 199.1,324.1 203.8,323.6 208.2,325.4 208.9,334.4" fill="rgb(120,120,120)" stroke="#1c1c1c" stroke-width="1.0"/>
<polygon points="194.4,334.4 199.1,324.1 203.8,323.6 208.2,325.4 208.9,334.4" fill="url(#sh3)" fill-opacity="0.35"/>
<polyline points="199.4,324.5 203.7,324 207.7,325.6" fill="none" stroke="#fafafa" stroke-opacity="0.7" stroke-width="1.0" stroke-linecap="round"/>
<polygon points="225.9,334.4 226.1,328 215.6,322.9 208.2,325.4 208.9,334.4" fill="rgb(90,90,90)" stroke="#1c1c1c" stroke-width="1.0"/>
<polygon points="225.9,334.4 226.1,328 215.6,322.9 208.2,325.4 208.9,334.4" fill="url(#sh0)" fill-opacity="0.35"/>
<polyline points="225.3,334 225.5,328.1 215.7,323.3" fill="none" stroke="#fafafa" stroke-opacity="0.7" stroke-width="1.0" stroke-linecap="round"/>
<polygon points="225.9,334.4 226.1,328 232.1,324.3 242.9,330.6 242.2,334.4" fill="rgb(129,129,129)" stroke="#1c1c1c" stroke-width="1.0"/>
<polygon points="225.9,334.4 226.1,328 232.1,324.3 242.9,330.6 242.2,334.4" fill="url(#sh1)" fill-opacity="0.35"/>
<polyline points="232.2,324.8 242.2,330.6 241.6,334.1" fill="none" stroke="#fafafa" stroke-opacity="0.7" stroke-width="1.0" stroke-linecap="round"/>
<polygon points="242.9,330.6 250.8,326.7 254.8,334.4 242.2,334.4" fill="rgb(128,128,128)" stroke="#1c1c1c" stroke-width="1.0"/>
<polygon points="242.9,330.6 250.8,326.7 254.8,334.4 242.2,334.4" fill="url(#sh2)" fill-opacity="0.35"/>
<polyline points="242.8,334.1 243.4,330.7 250.5,327.2" fill="none" stroke="#fafafa" stroke-opacity="0.7" stroke-width="1.0" stroke-linecap="round"/>
<polygon points="267.3,327.7 263.1,321.6 252.1,324.2 250.8,326.7 254.8,334.4 265.8,334.4" fill="rgb(92,92,92)" stroke="#1c1c1c" stroke-width="1.0"/>
<polygon points="267.3,327.7 263.1,321.6 252.1,324.2 250.8,326.7 254.8,334.4 265.8,334.4" fill="url(#sh3)" fill-opacity="0.35"/>
<polyline points="266.7,327.8 262.8,322 252.6,324.5" fill="none" stroke="#fafafa" stroke-opacity="0.7" stroke-width="1.0" stroke-linecap="round"/>
<polygon points="265.8,334.4 267.3,327.7 277.9,327.7 279.6,328.9 279.3,334.4" fill="rgb(106,106,106)" stroke="#1c1c1c" stroke-width="1.0"/>
<polygon points="265.8,334.4 267.3,327.7 277.9,327.7 279.6,328.9 279.3,334.4" fill="url(#sh2)" fill-opacity="0.35"/>
<polyline points="279.1,329 278.8,334.1 266.5,334.1" fill="none" stroke="#fafafa" stroke-opacity="0.7" stroke-width="1.0" stroke-linecap="round"/>
<polygon points="279.3,334.4 279.6,328.9 288.2,326.1 293.4,334.4" fill="rgb(128,128,128)" stroke="#1c1c1c" stroke-width="1.0"/>
<polygon points="279.3,334.4 279.6,328.9 288.2,326.1 293.4,334.4" fill="url(#sh3)" fill-opacity="0.35"/>
<polyline points="280.1,329 288,326.5 292.7,334.1" fill="none" stroke="#fafafa" stroke-opacity="0.7" stroke-width="1.0" stroke-linecap="round"/>
<polygon points="288.2,326.1 293.4,334.4 304,334.4 304,329 302.4,320.4 290,322" fill="rgb(100,100,100)" stroke="#1c1c1c" stroke-width="1.0"/>
<polygon points="288.2,326.1 293.4,334.4 304,334.4 304,329 302.4,320.4 290,322" fill="url(#sh0)" fill-opacity="0.35"/>
<polyline points="288.8,326.2 293.7,333.9 303.5,333.9" fill="none" stroke="#fafafa" stroke-opacity="0.7" stroke-width="1.0" stroke-linecap="round"/>
</g></g>
<g clip-path="url(#s3)" filter="url(#semblur)">
<polyline points="56.2,258.1 54.4,258.1 52.6,257.6 50,255.5" fill="none" stroke="#303030" stroke-opacity="0.55" stroke-width="0.8" stroke-linecap="round"/>
<polyline points="59.8,269.3 59.2,270.8 57.6,272.2 55.3,272.5" fill="none" stroke="#f0f0f0" stroke-opacity="0.55" stroke-width="1" stroke-linecap="round"/>
<polyline points="75.7,285.9 76.3,288.1 76.4,289.8 75.5,291.2" fill="none" stroke="#303030" stroke-opacity="0.55" stroke-width="0.8" stroke-linecap="round"/>
<polyline points="101.1,334.4 99.8,337.4 98.1,338.3 96.2,340.5" fill="none" stroke="#303030" stroke-opacity="0.55" stroke-width="0.8" stroke-linecap="round"/>
<polyline points="55.4,277 57.2,276.7 59.1,275 61.7,275.6" fill="none" stroke="#f0f0f0" stroke-opacity="0.55" stroke-width="0.7" stroke-linecap="round"/>
<polyline points="59.1,266.9 60.5,264.4 63.8,263.8 66.4,265.5" fill="none" stroke="#303030" stroke-opacity="0.55" stroke-width="0.7" stroke-linecap="round"/>
<polyline points="57.9,284.8 55.9,286.1 53.8,287 51.6,287.5" fill="none" stroke="#303030" stroke-opacity="0.55" stroke-width="0.8" stroke-linecap="round"/>
<polyline points="108,313.4 106.1,313 103,312.3 101.8,313.8" fill="none" stroke="#f0f0f0" stroke-opacity="0.55" stroke-width="1" stroke-linecap="round"/>
<polyline points="87.7,327.2 85.5,328.2 84.7,330.7 83.5,333.7" fill="none" stroke="#303030" stroke-opacity="0.55" stroke-width="0.6" stroke-linecap="round"/>
<polyline points="65.8,306 65.1,308 66.1,310 67.1,312.7" fill="none" stroke="#f0f0f0" stroke-opacity="0.55" stroke-width="0.8" stroke-linecap="round"/>
<polyline points="114.5,280.9 113.7,283.1 115.3,285.2 117.1,286" fill="none" stroke="#303030" stroke-opacity="0.55" stroke-width="1.1" stroke-linecap="round"/>
<polyline points="38.2,287.1 41.1,286.4 43.6,288.1 44.5,290.8" fill="none" stroke="#303030" stroke-opacity="0.55" stroke-width="0.9" stroke-linecap="round"/>
<polyline points="135.6,263.3 136.2,264.7 136.6,266.2 138.1,267.6" fill="none" stroke="#303030" stroke-opacity="0.55" stroke-width="0.8" stroke-linecap="round"/>
<polyline points="76.4,272.9 78.7,273.8 80.5,274.5 82.4,277" fill="none" stroke="#303030" stroke-opacity="0.55" stroke-width="0.9" stroke-linecap="round"/>
<polyline points="129.5,269.1 130,271.7 129.7,274.5 128.1,276.7" fill="none" stroke="#303030" stroke-opacity="0.55" stroke-width="1" stroke-linecap="round"/>
<polyline points="29.3,254.7 32.4,254 33.2,251.9 35,248.9" fill="none" stroke="#303030" stroke-opacity="0.55" stroke-width="0.9" stroke-linecap="round"/>
<polyline points="37.9,310.1 39.9,307.9 41.5,307.2 43.5,306.4" fill="none" stroke="#f0f0f0" stroke-opacity="0.55" stroke-width="0.7" stroke-linecap="round"/>
<polyline points="116.2,274.4 117.6,271.3 118.6,270.2 118.4,266.9" fill="none" stroke="#303030" stroke-opacity="0.55" stroke-width="0.7" stroke-linecap="round"/>
<polyline points="111.5,325.3 113.5,325.4 116.3,325.8 117.8,325.3" fill="none" stroke="#f0f0f0" stroke-opacity="0.55" stroke-width="0.9" stroke-linecap="round"/>
<polyline points="96.4,320.6 98.5,322 99.4,323.4 101,326.1" fill="none" stroke="#f0f0f0" stroke-opacity="0.55" stroke-width="1" stroke-linecap="round"/>
<polyline points="102.2,284.2 103.4,287.2 104.8,287.9 104.9,289.8" fill="none" stroke="#f0f0f0" stroke-opacity="0.55" stroke-width="0.7" stroke-linecap="round"/>
<polyline points="124.9,297.9 125.2,294.8 126.1,293.3 126.4,291.2" fill="none" stroke="#303030" stroke-opacity="0.55" stroke-width="0.8" stroke-linecap="round"/>
<polyline points="86.2,297.8 83.6,299.8 80.9,300.1 79.1,301.6" fill="none" stroke="#303030" stroke-opacity="0.55" stroke-width="0.7" stroke-linecap="round"/>
<polyline points="139.8,308.4 141.9,310.5 144.9,311 146.5,309.1" fill="none" stroke="#303030" stroke-opacity="0.55" stroke-width="1" stroke-linecap="round"/>
<polyline points="44.5,289.3 42.2,289.6 41.6,291.2 38.3,292.2" fill="none" stroke="#f0f0f0" stroke-opacity="0.55" stroke-width="1.1" stroke-linecap="round"/>
<polyline points="126.2,271.5 123.8,270 122.7,268.3 121.9,266" fill="none" stroke="#303030" stroke-opacity="0.55" stroke-width="1.1" stroke-linecap="round"/>
<polyline points="75.6,287.8 72.4,288.2 70.4,290.2 67.5,290.5" fill="none" stroke="#303030" stroke-opacity="0.55" stroke-width="1" stroke-linecap="round"/>
<polyline points="126.9,305.6 124.8,306 124.2,307.5 122.3,309.6" fill="none" stroke="#303030" stroke-opacity="0.55" stroke-width="0.6" stroke-linecap="round"/>
<polyline points="99.2,278.7 100.6,276.2 100.8,273.3 100.5,270.8" fill="none" stroke="#303030" stroke-opacity="0.55" stroke-width="0.8" stroke-linecap="round"/>
<polyline points="84,284.7 84.3,286.4 83.9,289.4 85.1,292" fill="none" stroke="#f0f0f0" stroke-opacity="0.55" stroke-width="0.7" stroke-linecap="round"/>
<polyline points="42.8,290.5 42.1,293.2 43.6,294.6 46.1,294.5" fill="none" stroke="#303030" stroke-opacity="0.55" stroke-width="0.9" stroke-linecap="round"/>
<polyline points="61.6,270.4 62.5,268.9 63,266.3 61.5,264.4" fill="none" stroke="#303030" stroke-opacity="0.55" stroke-width="0.9" stroke-linecap="round"/>
<polyline points="33.9,318 36.1,318 37.3,316.2 38.4,314.8" fill="none" stroke="#f0f0f0" stroke-opacity="0.55" stroke-width="1" stroke-linecap="round"/>
<polyline points="60.1,305.7 60.6,303.4 63.2,302.7 65.2,303" fill="none" stroke="#303030" stroke-opacity="0.55" stroke-width="1" stroke-linecap="round"/>
<polyline points="44.7,311.3 46.2,313 46.2,315.3 44.6,317.4" fill="none" stroke="#f0f0f0" stroke-opacity="0.55" stroke-width="0.6" stroke-linecap="round"/>
<polyline points="38.6,320.5 39.2,318.8 41.2,316.3 43,315.1" fill="none" stroke="#303030" stroke-opacity="0.55" stroke-width="0.6" stroke-linecap="round"/>
<polyline points="68.1,308.2 69.5,307.5 70.7,304.9 69.5,302.8" fill="none" stroke="#303030" stroke-opacity="0.55" stroke-width="1" stroke-linecap="round"/>
<polyline points="51.6,263.5 50.6,262.1 47.9,262.3 46.5,260.2" fill="none" stroke="#303030" stroke-opacity="0.55" stroke-width="1" stroke-linecap="round"/>
<polyline points="136,299.4 134,298.2 131.6,297.3 128.7,295.7" fill="none" stroke="#f0f0f0" stroke-opacity="0.55" stroke-width="0.9" stroke-linecap="round"/>
<polyline points="109.6,293.6 106.7,292.1 103.7,292.8 102,292.1" fill="none" stroke="#f0f0f0" stroke-opacity="0.55" stroke-width="0.9" stroke-linecap="round"/>
<polyline points="133.2,262.8 130.5,262.3 128.3,263.6 126,262.9" fill="none" stroke="#303030" stroke-opacity="0.55" stroke-width="0.7" stroke-linecap="round"/>
<polyline points="54.3,315.4 55.6,314.3 56.4,312.4 58.4,310.5" fill="none" stroke="#f0f0f0" stroke-opacity="0.55" stroke-width="0.8" stroke-linecap="round"/>
<polyline points="79.5,321.8 79.3,318.9 82,317.6 83.5,315.3" fill="none" stroke="#f0f0f0" stroke-opacity="0.55" stroke-width="1.1" stroke-linecap="round"/>
<polyline points="127,287.7 129.9,287.8 132.9,289 135,289.5" fill="none" stroke="#f0f0f0" stroke-opacity="0.55" stroke-width="1" stroke-linecap="round"/>
<polyline points="133.3,321.5 133.5,323.4 134.6,324.5 137.3,323.6" fill="none" stroke="#303030" stroke-opacity="0.55" stroke-width="0.8" stroke-linecap="round"/>
<polyline points="69.3,255.7 69.3,259.1 71.5,260.9 72.1,263.4" fill="none" stroke="#303030" stroke-opacity="0.55" stroke-width="0.9" stroke-linecap="round"/>
<polyline points="44.7,266.3 44.2,264.8 45.5,262.8 47.1,262.9" fill="none" stroke="#303030" stroke-opacity="0.55" stroke-width="0.8" stroke-linecap="round"/>
<polyline points="66.7,327.1 67.6,324.2 68.6,322.4 69.7,320.5" fill="none" stroke="#f0f0f0" stroke-opacity="0.55" stroke-width="0.7" stroke-linecap="round"/>
<polyline points="31.9,321.6 32.7,323.3 34.9,323.7 36,325.5" fill="none" stroke="#303030" stroke-opacity="0.55" stroke-width="0.7" stroke-linecap="round"/>
<polyline points="100.6,297.3 98,298.9 95.9,299.8 93.6,302.3" fill="none" stroke="#303030" stroke-opacity="0.55" stroke-width="0.7" stroke-linecap="round"/>
<polyline points="72.7,312.9 74.3,315.1 76.8,315 78.9,317.6" fill="none" stroke="#303030" stroke-opacity="0.55" stroke-width="0.9" stroke-linecap="round"/>
<polyline points="72.6,259.7 74.3,258.5 75.9,258.5 78.4,256.4" fill="none" stroke="#303030" stroke-opacity="0.55" stroke-width="0.6" stroke-linecap="round"/>
<polyline points="57.3,331.9 55.7,334.3 55.6,337.6 57.5,340.2" fill="none" stroke="#f0f0f0" stroke-opacity="0.55" stroke-width="0.7" stroke-linecap="round"/>
<polyline points="38,288.6 40.7,290.8 43.7,290.5 45,292.7" fill="none" stroke="#303030" stroke-opacity="0.55" stroke-width="0.8" stroke-linecap="round"/>
<polyline points="118.7,258.2 120.3,255.8 120.4,253.9 118.6,251.2" fill="none" stroke="#303030" stroke-opacity="0.55" stroke-width="1" stroke-linecap="round"/>
<polyline points="114,258.2 111.3,256.4 109.4,256 107.4,255" fill="none" stroke="#f0f0f0" stroke-opacity="0.55" stroke-width="0.8" stroke-linecap="round"/>
<polyline points="54.5,311.5 52,309.6 52.4,307.6 55.4,306.9" fill="none" stroke="#f0f0f0" stroke-opacity="0.55" stroke-width="0.9" stroke-linecap="round"/>
<polyline points="36,320 36.5,322.7 36.8,324.2 36.4,326.4" fill="none" stroke="#303030" stroke-opacity="0.55" stroke-width="1" stroke-linecap="round"/>
<polyline points="57,295.2 55.5,296.3 54.3,297.8 53.5,299.7" fill="none" stroke="#f0f0f0" stroke-opacity="0.55" stroke-width="0.8" stroke-linecap="round"/>
<polyline points="75,254.7 72.6,255.3 70.7,258.1 68.2,259.4" fill="none" stroke="#f0f0f0" stroke-opacity="0.55" stroke-width="1.1" stroke-linecap="round"/>
<polyline points="120.5,266.6 119.8,263.4 121.7,261.9 123.6,261.7" fill="none" stroke="#f0f0f0" stroke-opacity="0.55" stroke-width="0.7" stroke-linecap="round"/>
<polyline points="41.5,292.7 38.3,293.8 38.1,297.2 39.9,299.5" fill="none" stroke="#303030" stroke-opacity="0.55" stroke-width="0.7" stroke-linecap="round"/>
<polyline points="137.2,271.5 135.8,270.5 134.7,267.9 132.8,267.4" fill="none" stroke="#f0f0f0" stroke-opacity="0.55" stroke-width="0.7" stroke-linecap="round"/>
<polyline points="101.7,332.6 103.4,330.4 103.2,328.8 106,327.3" fill="none" stroke="#303030" stroke-opacity="0.55" stroke-width="1.1" stroke-linecap="round"/>
<polyline points="103.7,294.8 101.8,295.2 99.8,296.1 96.8,294.5" fill="none" stroke="#f0f0f0" stroke-opacity="0.55" stroke-width="0.9" stroke-linecap="round"/>
<polyline points="72.2,311.7 72.6,308.5 71,306.6 69.5,304.1" fill="none" stroke="#f0f0f0" stroke-opacity="0.55" stroke-width="1" stroke-linecap="round"/>
<polyline points="96.5,265.2 96.5,262 98.6,259.9 98.6,257.6" fill="none" stroke="#f0f0f0" stroke-opacity="0.55" stroke-width="0.8" stroke-linecap="round"/>
<polyline points="50,305.6 47.5,307.1 44.5,307 42.4,307.1" fill="none" stroke="#303030" stroke-opacity="0.55" stroke-width="0.9" stroke-linecap="round"/>
<polyline points="80.8,299.8 77.4,299.8 76.2,298.5 76.7,296.4" fill="none" stroke="#f0f0f0" stroke-opacity="0.55" stroke-width="0.9" stroke-linecap="round"/>
<polyline points="56.8,297 58.9,296.2 59.9,293.8 61.4,293.1" fill="none" stroke="#303030" stroke-opacity="0.55" stroke-width="0.9" stroke-linecap="round"/>
<polyline points="59,273.5 60.5,271.2 59.5,269.7 56.7,269.9" fill="none" stroke="#f0f0f0" stroke-opacity="0.55" stroke-width="0.7" stroke-linecap="round"/>
<polyline points="72.1,329.1 70,331.6 70.8,333.5 68.8,335.7" fill="none" stroke="#303030" stroke-opacity="0.55" stroke-width="0.7" stroke-linecap="round"/>
<polyline points="42.8,266.6 44,264.6 46,263.8 49,264.8" fill="none" stroke="#303030" stroke-opacity="0.55" stroke-width="0.8" stroke-linecap="round"/>
<polyline points="121.8,263.7 121.6,261.5 120.3,258.5 119.6,256.1" fill="none" stroke="#303030" stroke-opacity="0.55" stroke-width="0.7" stroke-linecap="round"/>
<polyline points="101.2,306.5 102.7,305.7 104.2,305.5 105.4,307.3" fill="none" stroke="#f0f0f0" stroke-opacity="0.55" stroke-width="0.9" stroke-linecap="round"/>
<polyline points="60.2,316.7 59.5,314.6 57.5,312.3 56.5,310.3" fill="none" stroke="#303030" stroke-opacity="0.55" stroke-width="0.9" stroke-linecap="round"/>
<polyline points="128.6,273 128.7,271.1 127.9,267.7 126.7,264.8" fill="none" stroke="#f0f0f0" stroke-opacity="0.55" stroke-width="0.8" stroke-linecap="round"/>
<polyline points="44,328.5 43.7,330.8 44,334 44.3,337.2" fill="none" stroke="#f0f0f0" stroke-opacity="0.55" stroke-width="0.7" stroke-linecap="round"/>
<polyline points="97.7,275.2 96.6,273.4 94.6,270.7 93.1,269.8" fill="none" stroke="#303030" stroke-opacity="0.55" stroke-width="0.9" stroke-linecap="round"/>
<polyline points="121,330.8 120.8,328.6 123.2,326.4 124.1,323.3" fill="none" stroke="#f0f0f0" stroke-opacity="0.55" stroke-width="0.9" stroke-linecap="round"/>
<polyline points="88.5,317.7 90.1,317.8 91,316.5 93.2,315.7" fill="none" stroke="#f0f0f0" stroke-opacity="0.55" stroke-width="0.8" stroke-linecap="round"/>
<polyline points="61.9,286 63.4,283.2 63,281.2 61.3,279" fill="none" stroke="#303030" stroke-opacity="0.55" stroke-width="0.9" stroke-linecap="round"/>
<polyline points="64.5,323.1 64.9,321.1 66.3,318.3 68.7,317.9" fill="none" stroke="#f0f0f0" stroke-opacity="0.55" stroke-width="0.8" stroke-linecap="round"/>
<polyline points="130.3,271.1 127.6,272.2 126.2,273 126.4,274.5" fill="none" stroke="#f0f0f0" stroke-opacity="0.55" stroke-width="1" stroke-linecap="round"/>
<polyline points="57.9,294.6 60.1,295.1 61.4,294.2 64.6,295" fill="none" stroke="#f0f0f0" stroke-opacity="0.55" stroke-width="0.7" stroke-linecap="round"/>
<polyline points="82.3,301.5 82.7,304.4 81.9,307.4 83.1,310.3" fill="none" stroke="#303030" stroke-opacity="0.55" stroke-width="0.9" stroke-linecap="round"/>
<polyline points="130.3,317.3 132.2,319.3 132,321.9 134.9,323.8" fill="none" stroke="#303030" stroke-opacity="0.55" stroke-width="1.1" stroke-linecap="round"/>
<polyline points="42.8,331.2 41,331.2 39.1,328.7 36,327.8" fill="none" stroke="#303030" stroke-opacity="0.55" stroke-width="0.7" stroke-linecap="round"/>
<polyline points="75.4,311.9 75.4,310.3 77,307.3 80.1,307" fill="none" stroke="#f0f0f0" stroke-opacity="0.55" stroke-width="0.8" stroke-linecap="round"/>
<polyline points="125,311.8 127.5,313.1 130.8,312.7 133.1,312.9" fill="none" stroke="#303030" stroke-opacity="0.55" stroke-width="1.1" stroke-linecap="round"/>
<polyline points="31,311.4 31.2,313.8 34.3,314.8 34.6,316.6" fill="none" stroke="#f0f0f0" stroke-opacity="0.55" stroke-width="0.6" stroke-linecap="round"/>
<polyline points="51.3,333.5 51,331.9 49.1,331.3 46.2,331.4" fill="none" stroke="#303030" stroke-opacity="0.55" stroke-width="0.7" stroke-linecap="round"/>
<polyline points="92.3,284.5 90.1,286.8 87.4,288.3 85.3,288.6" fill="none" stroke="#f0f0f0" stroke-opacity="0.55" stroke-width="0.9" stroke-linecap="round"/>
<polyline points="98.8,282.8 97.5,285.4 96.5,286.6 94.9,289.2" fill="none" stroke="#303030" stroke-opacity="0.55" stroke-width="0.8" stroke-linecap="round"/>
<polyline points="44.8,296.4 45.7,297.9 46.7,299.3 46.3,302" fill="none" stroke="#303030" stroke-opacity="0.55" stroke-width="1" stroke-linecap="round"/>
<polyline points="40.3,264.4 43,264.2 45.1,262.1 46.6,259.4" fill="none" stroke="#f0f0f0" stroke-opacity="0.55" stroke-width="0.9" stroke-linecap="round"/>
<polyline points="59.1,267.5 61.6,269.3 62.8,270.9 63.2,272.3" fill="none" stroke="#f0f0f0" stroke-opacity="0.55" stroke-width="0.8" stroke-linecap="round"/>
<polyline points="129.6,314.9 131.7,313.5 133.2,313.6 134.9,312.9" fill="none" stroke="#f0f0f0" stroke-opacity="0.55" stroke-width="1" stroke-linecap="round"/>
<polyline points="63.5,296.4 64.8,294.1 65.6,292.9 68.5,291.6" fill="none" stroke="#303030" stroke-opacity="0.55" stroke-width="0.9" stroke-linecap="round"/>
<polyline points="97.2,329.4 94.8,328.2 92.3,328.1 90,327.5" fill="none" stroke="#303030" stroke-opacity="0.55" stroke-width="0.6" stroke-linecap="round"/>
<polyline points="36.4,274.4 38.1,273.3 40,273.3 41.4,274" fill="none" stroke="#303030" stroke-opacity="0.55" stroke-width="0.9" stroke-linecap="round"/>
<polyline points="35.6,312.4 38.3,311.6 40.3,310 42.3,308.7" fill="none" stroke="#f0f0f0" stroke-opacity="0.55" stroke-width="0.9" stroke-linecap="round"/>
<polyline points="113.7,281.4 111.6,280.7 109.3,280.2 107.1,280.3" fill="none" stroke="#303030" stroke-opacity="0.55" stroke-width="1" stroke-linecap="round"/>
<polyline points="67.9,260.5 70.5,260.7 72.3,261.1 74.1,261.4" fill="none" stroke="#f0f0f0" stroke-opacity="0.55" stroke-width="0.9" stroke-linecap="round"/>
<polyline points="70.9,303.8 68.7,304.2 67.2,305.8 66.7,307.3" fill="none" stroke="#f0f0f0" stroke-opacity="0.55" stroke-width="0.6" stroke-linecap="round"/>
<polyline points="120.8,255.9 123.5,257.7 126.5,256.8 129.9,257.8" fill="none" stroke="#f0f0f0" stroke-opacity="0.55" stroke-width="0.6" stroke-linecap="round"/>
<polyline points="141,266.5 139.5,263.6 140.2,261.6 140.6,258.5" fill="none" stroke="#303030" stroke-opacity="0.55" stroke-width="1" stroke-linecap="round"/>
<polyline points="131.8,319.3 131.4,322.4 130.5,324.5 127.2,324.7" fill="none" stroke="#303030" stroke-opacity="0.55" stroke-width="0.7" stroke-linecap="round"/>
<polyline points="69.4,303.6 70.5,301.9 69.7,300.5 70.1,297.2" fill="none" stroke="#f0f0f0" stroke-opacity="0.55" stroke-width="1" stroke-linecap="round"/>
<polyline points="132.8,294.5 134.8,293.5 136.7,291.6 139,291.2" fill="none" stroke="#f0f0f0" stroke-opacity="0.55" stroke-width="1" stroke-linecap="round"/>
<polyline points="44.5,318.8 43.1,318 40.9,317.8 39.1,316.6" fill="none" stroke="#303030" stroke-opacity="0.55" stroke-width="0.7" stroke-linecap="round"/>
<polyline points="68.5,315.4 71.6,314.9 73,313.8 75.5,314.3" fill="none" stroke="#f0f0f0" stroke-opacity="0.55" stroke-width="1.1" stroke-linecap="round"/>
<polyline points="133.3,304.9 133.9,306.4 133.6,309.9 133.4,312.6" fill="none" stroke="#f0f0f0" stroke-opacity="0.55" stroke-width="1" stroke-linecap="round"/>
<polyline points="135.4,292.8 133.4,293.9 132.3,296.6 129.4,298.1" fill="none" stroke="#303030" stroke-opacity="0.55" stroke-width="0.8" stroke-linecap="round"/>
<polyline points="65,327.5 66.9,327.1 68.8,324.4 68.3,322.3" fill="none" stroke="#303030" stroke-opacity="0.55" stroke-width="0.8" stroke-linecap="round"/>
<polyline points="27.6,272.2 25.5,269.4 24.7,267.4 24.5,264.7" fill="none" stroke="#f0f0f0" stroke-opacity="0.55" stroke-width="1.1" stroke-linecap="round"/>
<polyline points="92.7,329.5 91.5,330.5 91.4,333.7 88.7,335" fill="none" stroke="#303030" stroke-opacity="0.55" stroke-width="1" stroke-linecap="round"/>
<polyline points="68.9,314 65.7,315.5 62.7,317 59.9,317.9" fill="none" stroke="#f0f0f0" stroke-opacity="0.55" stroke-width="1.1" stroke-linecap="round"/>
<polyline points="102.3,283.5 101.3,285.1 99.8,286 99.8,287.5" fill="none" stroke="#303030" stroke-opacity="0.55" stroke-width="0.9" stroke-linecap="round"/>
<polyline points="138.3,280.4 136.7,282.4 137.8,284.5 135.8,286.9" fill="none" stroke="#f0f0f0" stroke-opacity="0.55" stroke-width="0.8" stroke-linecap="round"/>
<polyline points="47.7,309.4 45.9,308 43.7,306.5 44.2,303.6" fill="none" stroke="#303030" stroke-opacity="0.55" stroke-width="1" stroke-linecap="round"/>
<polyline points="63.1,301.3 65.5,302 65.7,303.8 64.6,305.3" fill="none" stroke="#f0f0f0" stroke-opacity="0.55" stroke-width="1" stroke-linecap="round"/>
<polyline points="121.8,263.5 120.2,265.1 118.3,266 117.4,269.2" fill="none" stroke="#f0f0f0" stroke-opacity="0.55" stroke-width="0.8" stroke-linecap="round"/>
<polyline points="87.5,328.8 87.4,332.3 89.8,333.8 90.9,335.2" fill="none" stroke="#f0f0f0" stroke-opacity="0.55" stroke-width="1" stroke-linecap="round"/>
<polyline points="36.5,264.5 34.6,264.2 33,264.6 31.4,264.2" fill="none" stroke="#f0f0f0" stroke-opacity="0.55" stroke-width="0.6" stroke-linecap="round"/>
<polyline points="136.7,260.7 139.4,259.1 140.8,259.6 141.8,262.3" fill="none" stroke="#303030" stroke-opacity="0.55" stroke-width="1" stroke-linecap="round"/>
<polyline points="93.8,320.7 96.3,319.9 97.5,318.8 99.6,317.6" fill="none" stroke="#303030" stroke-opacity="0.55" stroke-width="1.1" stroke-linecap="round"/>
<polyline points="56.2,303.9 58.7,306.1 60.6,305.2 62.2,304.1" fill="none" stroke="#303030" stroke-opacity="0.55" stroke-width="0.8" stroke-linecap="round"/>
<polyline points="93.3,297.5 92.8,299.3 91.5,301.2 90.7,302.8" fill="none" stroke="#f0f0f0" stroke-opacity="0.55" stroke-width="1" stroke-linecap="round"/>
<polyline points="96.5,299.8 97.2,297.4 98,295.3 98.3,293.6" fill="none" stroke="#f0f0f0" stroke-opacity="0.55" stroke-width="0.9" stroke-linecap="round"/>
<polyline points="35.7,292.5 36.7,294.4 38.1,296.5 40.7,297.9" fill="none" stroke="#f0f0f0" stroke-opacity="0.55" stroke-width="0.7" stroke-linecap="round"/>
<polyline points="136.6,332.2 139.1,331 140.9,330.1 143,331.6" fill="none" stroke="#f0f0f0" stroke-opacity="0.55" stroke-width="0.7" stroke-linecap="round"/>
<polyline points="55.7,255.8 52.9,255.5 51.4,257.4 51.2,259.5" fill="none" stroke="#303030" stroke-opacity="0.55" stroke-width="0.9" stroke-linecap="round"/>
<polyline points="34.3,288.2 34.5,286.5 34.7,283.1 33,280.7" fill="none" stroke="#303030" stroke-opacity="0.55" stroke-width="1.1" stroke-linecap="round"/>
<polyline points="88.2,257.5 90.2,256.2 91.9,255.6 92.5,253.2" fill="none" stroke="#f0f0f0" stroke-opacity="0.55" stroke-width="1.1" stroke-linecap="round"/>
<polyline points="34.7,310 35.9,312.2 36.6,315.5 36.5,317" fill="none" stroke="#f0f0f0" stroke-opacity="0.55" stroke-width="1" stroke-linecap="round"/>
<polyline points="49.1,295.9 48,294.1 46.4,291.4 44.6,288.7" fill="none" stroke="#303030" stroke-opacity="0.55" stroke-width="1" stroke-linecap="round"/>
<polyline points="47.3,256.3 43.9,255.5 42.3,254.3 39.2,255.3" fill="none" stroke="#303030" stroke-opacity="0.55" stroke-width="0.9" stroke-linecap="round"/>
<polyline points="85.1,273 87.7,271.8 90.6,270.5 92.6,271.5" fill="none" stroke="#f0f0f0" stroke-opacity="0.55" stroke-width="1" stroke-linecap="round"/>
<polyline points="86,315.1 85.4,317.4 85.9,320.8 85.6,322.4" fill="none" stroke="#f0f0f0" stroke-opacity="0.55" stroke-width="0.8" stroke-linecap="round"/>
<polyline points="102.3,285.5 101.5,283 99.4,282.7 97.3,280.2" fill="none" stroke="#f0f0f0" stroke-opacity="0.55" stroke-width="0.7" stroke-linecap="round"/>
<polyline points="107.2,284.1 103.7,284.6 101.8,282.2 101.5,280.7" fill="none" stroke="#303030" stroke-opacity="0.55" stroke-width="1.1" stroke-linecap="round"/>
<polyline points="28.3,266.7 30.6,267.6 32.3,266.3 31.6,263.7" fill="none" stroke="#303030" stroke-opacity="0.55" stroke-width="0.8" stroke-linecap="round"/>
<polyline points="77.5,305.5 75.4,305 73.3,306.4 70.6,307" fill="none" stroke="#f0f0f0" stroke-opacity="0.55" stroke-width="0.7" stroke-linecap="round"/>
<polyline points="139.5,330.9 138.3,332 138.1,333.6 136.9,335.8" fill="none" stroke="#303030" stroke-opacity="0.55" stroke-width="0.9" stroke-linecap="round"/>
<polyline points="28.4,332.6 26.8,334.4 25,334.5 23.4,333.4" fill="none" stroke="#f0f0f0" stroke-opacity="0.55" stroke-width="1.1" stroke-linecap="round"/>
<polyline points="30.8,289.6 29,287.3 27.1,285.6 26.2,284.1" fill="none" stroke="#303030" stroke-opacity="0.55" stroke-width="0.9" stroke-linecap="round"/>
<polyline points="29.8,309 29.5,306.9 28.1,304.8 28,302.1" fill="none" stroke="#f0f0f0" stroke-opacity="0.55" stroke-width="1" stroke-linecap="round"/>
<polyline points="75.4,265.9 78.9,266.2 79.9,268.9 80.2,271.5" fill="none" stroke="#303030" stroke-opacity="0.55" stroke-width="1.1" stroke-linecap="round"/>
<polyline points="54.4,324 54.8,326.3 55.9,328.8 54.2,331.7" fill="none" stroke="#303030" stroke-opacity="0.55" stroke-width="0.6" stroke-linecap="round"/>
<polyline points="137,281.4 138.8,283.8 140.7,284.4 142.5,285.7" fill="none" stroke="#f0f0f0" stroke-opacity="0.55" stroke-width="0.6" stroke-linecap="round"/>
<polyline points="80.6,318.9 82.3,319.2 83.4,320.4 83.3,322.4" fill="none" stroke="#f0f0f0" stroke-opacity="0.55" stroke-width="0.7" stroke-linecap="round"/>
<polyline points="35.2,271.3 38.3,270.3 39,267.8 39.2,265.1" fill="none" stroke="#303030" stroke-opacity="0.55" stroke-width="1.1" stroke-linecap="round"/>
<polyline points="34.6,291 35,294.4 34.4,296.3 34.1,298.4" fill="none" stroke="#303030" stroke-opacity="0.55" stroke-width="1" stroke-linecap="round"/>
<polyline points="65.1,331.1 67.5,330.7 70,329.7 73,330" fill="none" stroke="#f0f0f0" stroke-opacity="0.55" stroke-width="0.6" stroke-linecap="round"/>
<polyline points="52.6,258.8 50.5,260.5 48.4,260.4 45.6,261.1" fill="none" stroke="#f0f0f0" stroke-opacity="0.55" stroke-width="0.8" stroke-linecap="round"/>
<polyline points="40.7,301.9 43.1,302.2 44.6,303.5 45.8,304.5" fill="none" stroke="#303030" stroke-opacity="0.55" stroke-width="1" stroke-linecap="round"/>
<polyline points="81.2,329.1 84,327.2 86.3,327.7 87.7,328.1" fill="none" stroke="#f0f0f0" stroke-opacity="0.55" stroke-width="1" stroke-linecap="round"/>
<polyline points="33.7,259.6 33.5,262.3 32.6,264.8 31.6,267.1" fill="none" stroke="#303030" stroke-opacity="0.55" stroke-width="0.9" stroke-linecap="round"/>
<polyline points="133,311.4 135.3,313.4 135.5,316 136.3,318.8" fill="none" stroke="#303030" stroke-opacity="0.55" stroke-width="0.6" stroke-linecap="round"/>
</g>
<g clip-path="url(#s1)" filter="url(#semblur)">
<polyline points="70.1,234.2 70.3,232.4 69.2,231.1 69.7,228.5" fill="none" stroke="#f0f0f0" stroke-opacity="0.45" stroke-width="1" stroke-linecap="round"/>
<polyline points="29.4,235.7 29,233.8 27.3,232.6 25.5,231.1" fill="none" stroke="#f0f0f0" stroke-opacity="0.45" stroke-width="0.7" stroke-linecap="round"/>
<polyline points="97.4,170.9 97.5,173.3 96.4,174.8 94.7,176.9" fill="none" stroke="#f0f0f0" stroke-opacity="0.45" stroke-width="0.6" stroke-linecap="round"/>
<polyline points="96.9,173.3 97.2,176.7 95.9,178.4 96.7,181.1" fill="none" stroke="#f0f0f0" stroke-opacity="0.45" stroke-width="0.8" stroke-linecap="round"/>
<polyline points="41,198.6 41.8,200.5 41.7,202.6 41.6,205.2" fill="none" stroke="#f0f0f0" stroke-opacity="0.45" stroke-width="0.7" stroke-linecap="round"/>
<polyline points="138.5,220.5 140.8,221.9 140.8,223.6 141.8,224.8" fill="none" stroke="#f0f0f0" stroke-opacity="0.45" stroke-width="0.8" stroke-linecap="round"/>
<polyline points="71.7,181.2 72,179.1 72.4,177.4 73.8,176.5" fill="none" stroke="#f0f0f0" stroke-opacity="0.45" stroke-width="1.1" stroke-linecap="round"/>
<polyline points="115.8,175.5 117.9,177.6 118.5,180.5 120.7,181.2" fill="none" stroke="#f0f0f0" stroke-opacity="0.45" stroke-width="0.7" stroke-linecap="round"/>
<polyline points="126.3,208.6 127.3,210.4 129.8,212.1 131.7,214.8" fill="none" stroke="#f0f0f0" stroke-opacity="0.45" stroke-width="0.8" stroke-linecap="round"/>
<polyline points="40.8,215.6 41.4,212.7 41.9,210.2 41.9,208.6" fill="none" stroke="#f0f0f0" stroke-opacity="0.45" stroke-width="0.7" stroke-linecap="round"/>
<polyline points="30.6,209.6 29.3,212.7 29.7,214.9 28.8,216.7" fill="none" stroke="#f0f0f0" stroke-opacity="0.45" stroke-width="0.6" stroke-linecap="round"/>
<polyline points="60.3,172.6 63,173.4 64.1,176.3 67.1,177.6" fill="none" stroke="#f0f0f0" stroke-opacity="0.45" stroke-width="0.9" stroke-linecap="round"/>
<polyline points="119.9,229.9 120.8,231.6 122.8,234 122.5,235.5" fill="none" stroke="#f0f0f0" stroke-opacity="0.45" stroke-width="0.9" stroke-linecap="round"/>
<polyline points="75,177.3 78.2,178.5 80.7,178.4 82.7,179.3" fill="none" stroke="#f0f0f0" stroke-opacity="0.45" stroke-width="1.1" stroke-linecap="round"/>
<polyline points="137.7,179.6 135.9,180.6 136,183.3 136,184.9" fill="none" stroke="#f0f0f0" stroke-opacity="0.45" stroke-width="0.7" stroke-linecap="round"/>
<polyline points="131.5,178.7 133.6,181.4 136.4,182.1 137.6,183.7" fill="none" stroke="#f0f0f0" stroke-opacity="0.45" stroke-width="1" stroke-linecap="round"/>
<polyline points="69.3,209.3 68.3,208 68.6,205.9 67.7,204.6" fill="none" stroke="#f0f0f0" stroke-opacity="0.45" stroke-width="0.9" stroke-linecap="round"/>
<polyline points="104.9,161.3 102.6,162.8 102,165.6 102.2,169" fill="none" stroke="#f0f0f0" stroke-opacity="0.45" stroke-width="0.7" stroke-linecap="round"/>
<polyline points="66.2,168.9 68.1,169.7 70.2,172 71.7,174" fill="none" stroke="#f0f0f0" stroke-opacity="0.45" stroke-width="0.7" stroke-linecap="round"/>
<polyline points="37.7,230 39.8,229.3 42.1,227.5 45.2,228.4" fill="none" stroke="#f0f0f0" stroke-opacity="0.45" stroke-width="1" stroke-linecap="round"/>
<polyline points="100.8,166.6 99.8,169.1 101,170.3 101.5,171.7" fill="none" stroke="#f0f0f0" stroke-opacity="0.45" stroke-width="0.7" stroke-linecap="round"/>
<polyline points="90.1,214 87.3,213.1 85.3,213.8 82.6,213.1" fill="none" stroke="#f0f0f0" stroke-opacity="0.45" stroke-width="1" stroke-linecap="round"/>
<polyline points="102.6,204.3 104.6,204.9 107.8,203.7 110.5,201.9" fill="none" stroke="#f0f0f0" stroke-opacity="0.45" stroke-width="0.9" stroke-linecap="round"/>
<polyline points="118.4,199.2 116.7,198.4 115.6,196.6 112.8,197" fill="none" stroke="#f0f0f0" stroke-opacity="0.45" stroke-width="0.7" stroke-linecap="round"/>
<polyline points="135.2,234.4 136.2,233.3 138.5,233.7 139.4,237" fill="none" stroke="#f0f0f0" stroke-opacity="0.45" stroke-width="1" stroke-linecap="round"/>
<polyline points="60.9,190 61.2,188.2 62.3,185 64.2,183.2" fill="none" stroke="#f0f0f0" stroke-opacity="0.45" stroke-width="0.6" stroke-linecap="round"/>
<polyline points="97.7,237.2 99.7,239.8 99.9,242.7 99,244.7" fill="none" stroke="#f0f0f0" stroke-opacity="0.45" stroke-width="0.7" stroke-linecap="round"/>
<polyline points="120.1,223.2 122.6,223.6 125.6,224.1 128.2,225.5" fill="none" stroke="#f0f0f0" stroke-opacity="0.45" stroke-width="1" stroke-linecap="round"/>
<polyline points="129.4,186.4 129.8,189 132.2,189.6 134.1,190.4" fill="none" stroke="#f0f0f0" stroke-opacity="0.45" stroke-width="0.9" stroke-linecap="round"/>
<polyline points="30.5,162.9 30.7,161.2 31.2,158.2 29.9,155.8" fill="none" stroke="#f0f0f0" stroke-opacity="0.45" stroke-width="0.6" stroke-linecap="round"/>
<polyline points="32.9,201.4 30.5,199.8 30.9,197.3 30,194.3" fill="none" stroke="#f0f0f0" stroke-opacity="0.45" stroke-width="0.7" stroke-linecap="round"/>
<polyline points="77.5,166.1 78.4,169.1 78,171.4 79.1,172.9" fill="none" stroke="#f0f0f0" stroke-opacity="0.45" stroke-width="0.7" stroke-linecap="round"/>
<polyline points="90.2,215.7 87.1,214.2 85.8,211.9 85.2,209.7" fill="none" stroke="#f0f0f0" stroke-opacity="0.45" stroke-width="0.7" stroke-linecap="round"/>
<polyline points="67.9,219.1 69,217.9 67.9,214.9 68.2,212.5" fill="none" stroke="#f0f0f0" stroke-opacity="0.45" stroke-width="0.6" stroke-linecap="round"/>
<polyline points="83.5,196.9 84.9,198.8 85.9,201.4 88.1,201.6" fill="none" stroke="#f0f0f0" stroke-opacity="0.45" stroke-width="0.9" stroke-linecap="round"/>
<polyline points="84.9,226.8 83.2,226.5 81.9,225.7 79.4,223.5" fill="none" stroke="#f0f0f0" stroke-opacity="0.45" stroke-width="0.9" stroke-linecap="round"/>
<polyline points="71.6,210.2 68.3,210.7 65.2,212.1 63.6,211.1" fill="none" stroke="#f0f0f0" stroke-opacity="0.45" stroke-width="0.6" stroke-linecap="round"/>
<polyline points="38.6,161.4 39.4,162.8 42.1,164.6 44.7,163" fill="none" stroke="#f0f0f0" stroke-opacity="0.45" stroke-width="0.7" stroke-linecap="round"/>
<polyline points="40.6,214.3 41,211.4 42.6,210.1 42.9,207.1" fill="none" stroke="#f0f0f0" stroke-opacity="0.45" stroke-width="1" stroke-linecap="round"/>
<polyline points="140.9,192.2 138.7,192.5 136.7,190 134.5,188" fill="none" stroke="#f0f0f0" stroke-opacity="0.45" stroke-width="1" stroke-linecap="round"/>
<polyline points="38.9,230.4 37.4,228.8 37.8,226.6 35.1,224.8" fill="none" stroke="#f0f0f0" stroke-opacity="0.45" stroke-width="0.6" stroke-linecap="round"/>
<polyline points="63.7,234.1 66.5,233.7 68.5,233.2 70.7,231.4" fill="none" stroke="#f0f0f0" stroke-opacity="0.45" stroke-width="1" stroke-linecap="round"/>
<polyline points="118,221.6 119.4,222.4 121.3,223.9 121.2,226.1" fill="none" stroke="#f0f0f0" stroke-opacity="0.45" stroke-width="0.7" stroke-linecap="round"/>
<polyline points="43.4,219.4 41.8,219.8 40.2,219.3 38.7,216.8" fill="none" stroke="#f0f0f0" stroke-opacity="0.45" stroke-width="0.6" stroke-linecap="round"/>
<polyline points="36.8,237 35.3,239.7 31.9,239.8 30,238.6" fill="none" stroke="#f0f0f0" stroke-opacity="0.45" stroke-width="0.6" stroke-linecap="round"/>
<polyline points="116.4,203.6 114.9,202.7 113.5,202 112,201.4" fill="none" stroke="#f0f0f0" stroke-opacity="0.45" stroke-width="0.7" stroke-linecap="round"/>
<polyline points="40.5,210.6 41.1,207.3 40.8,205.2 42.2,203.8" fill="none" stroke="#f0f0f0" stroke-opacity="0.45" stroke-width="1.1" stroke-linecap="round"/>
<polyline points="28.4,235.7 29.3,238 28.1,239.2 25.3,241.2" fill="none" stroke="#f0f0f0" stroke-opacity="0.45" stroke-width="0.9" stroke-linecap="round"/>
<polyline points="99.4,214.3 96.7,214.2 95.8,212.9 92.8,211.4" fill="none" stroke="#f0f0f0" stroke-opacity="0.45" stroke-width="1" stroke-linecap="round"/>
<polyline points="79.4,208.4 80.7,210.4 82.9,212 86.1,210.7" fill="none" stroke="#f0f0f0" stroke-opacity="0.45" stroke-width="1.1" stroke-linecap="round"/>
</g>
<text x="32.6" y="174.4" font-size="11.8" font-weight="bold" fill="#fff">Control</text>
<text x="32.6" y="187.6" font-size="11.8" font-weight="bold" fill="#fff">Top surface</text>
<rect x="102.5" y="232.2" width="34.2" height="2.7" fill="#fff"/>
<text x="120.8" y="225.6" font-size="11.8" font-weight="bold" fill="#fff" text-anchor="middle">2 μm</text>
<text x="191.5" y="174.4" font-size="11.8" font-weight="bold" fill="#fff">DO-SnO<tspan font-size="7.8" dy="2.5">2</tspan></text>
<text x="191.5" y="187.6" font-size="11.8" font-weight="bold" fill="#fff">Top surface</text>
<rect x="263.5" y="232.8" width="33.9" height="2.7" fill="#fff"/>
<text x="281.4" y="226" font-size="11.8" font-weight="bold" fill="#fff" text-anchor="middle">2 μm</text>
<text x="32.6" y="268.4" font-size="11.8" font-weight="bold" fill="#fff">Control</text>
<text x="32.6" y="281.6" font-size="12.2" font-weight="bold" fill="#fff">Buried interface</text>
<rect x="103.5" y="328.4" width="33.9" height="2.7" fill="#fff"/>
<text x="121.3" y="324" font-size="11.8" font-weight="bold" fill="#fff" text-anchor="middle">2 μm</text>
<ellipse cx="67.8" cy="289.1" rx="1.6" ry="2.2" fill="#2a2a2a" fill-opacity="0.8"/>
<circle cx="66.9" cy="287.9" r="0.8" fill="#e8e8e8" fill-opacity="0.8"/>
<circle cx="67.5" cy="289.1" r="3.8" fill="none" stroke="#f01010" stroke-width="1.3" stroke-dasharray="2.2,1.3"/>
<ellipse cx="81.6" cy="301.7" rx="1.6" ry="2.2" fill="#2a2a2a" fill-opacity="0.8"/>
<circle cx="80.7" cy="300.5" r="0.8" fill="#e8e8e8" fill-opacity="0.8"/>
<circle cx="81.3" cy="301.7" r="3.8" fill="none" stroke="#f01010" stroke-width="1.3" stroke-dasharray="2.2,1.3"/>
<ellipse cx="105.4" cy="295.6" rx="1.6" ry="2.2" fill="#2a2a2a" fill-opacity="0.8"/>
<circle cx="104.5" cy="294.4" r="0.8" fill="#e8e8e8" fill-opacity="0.8"/>
<circle cx="105.1" cy="295.6" r="3.8" fill="none" stroke="#f01010" stroke-width="1.3" stroke-dasharray="2.2,1.3"/>
<ellipse cx="135.5" cy="297.4" rx="1.6" ry="2.2" fill="#2a2a2a" fill-opacity="0.8"/>
<circle cx="134.6" cy="296.2" r="0.8" fill="#e8e8e8" fill-opacity="0.8"/>
<circle cx="135.2" cy="297.4" r="3.8" fill="none" stroke="#f01010" stroke-width="1.3" stroke-dasharray="2.2,1.3"/>
<ellipse cx="110.4" cy="310.9" rx="1.6" ry="2.2" fill="#2a2a2a" fill-opacity="0.8"/>
<circle cx="109.5" cy="309.7" r="0.8" fill="#e8e8e8" fill-opacity="0.8"/>
<circle cx="110.1" cy="310.9" r="3.8" fill="none" stroke="#f01010" stroke-width="1.3" stroke-dasharray="2.2,1.3"/>
<ellipse cx="42.8" cy="322.9" rx="1.6" ry="2.2" fill="#2a2a2a" fill-opacity="0.8"/>
<circle cx="41.9" cy="321.7" r="0.8" fill="#e8e8e8" fill-opacity="0.8"/>
<circle cx="42.5" cy="322.9" r="3.8" fill="none" stroke="#f01010" stroke-width="1.3" stroke-dasharray="2.2,1.3"/>
<text x="191.5" y="268.4" font-size="11.8" font-weight="bold" fill="#fff">DO-SnO<tspan font-size="7.8" dy="2.5">2</tspan></text>
<text x="191.5" y="281.6" font-size="12.2" font-weight="bold" fill="#fff">Buried interface</text>
<rect x="264.6" y="328.4" width="33.9" height="2.7" fill="#fff"/>
<text x="282.1" y="324" font-size="11.8" font-weight="bold" fill="#fff" text-anchor="middle">2 μm</text>
<ellipse cx="256.2" cy="313.7" rx="1.6" ry="2.2" fill="#2a2a2a" fill-opacity="0.8"/>
<circle cx="255.3" cy="312.5" r="0.8" fill="#e8e8e8" fill-opacity="0.8"/>
<circle cx="255.9" cy="313.7" r="3.8" fill="none" stroke="#f01010" stroke-width="1.3" stroke-dasharray="2.2,1.3"/>
<ellipse cx="290" cy="311.6" rx="1.6" ry="2.2" fill="#2a2a2a" fill-opacity="0.8"/>
<circle cx="289.1" cy="310.4" r="0.8" fill="#e8e8e8" fill-opacity="0.8"/>
<circle cx="289.7" cy="311.6" r="3.8" fill="none" stroke="#f01010" stroke-width="1.3" stroke-dasharray="2.2,1.3"/>
<g clip-path="url(#x1)" filter="url(#xsblur)">
<rect x="27.3" y="348.5" width="114.5" height="70.1" fill="#848484"/>
<rect x="27.3" y="365.5" width="114.5" height="4" fill="#909090"/>
<rect x="27.3" y="368" width="114.5" height="29.5" fill="#a0a0a0"/>
<polygon points="25.3,369.9 28,369.5 30.6,369.9 29.3,380.3 24.7,380.9" fill="rgb(152,152,152)" stroke="#8a8a8a" stroke-width="0.5"/>
<line x1="28.24" y1="370.94" x2="26.52" y2="379.26" stroke="#cfcfcf" stroke-width="0.6"/>
<polygon points="30.6,368.9 36.2,369.4 41.7,368.9 42.5,386 32.1,387" fill="rgb(147,147,147)" stroke="#8a8a8a" stroke-width="0.5"/>
<line x1="35.57" y1="369.86" x2="36.42" y2="384.95" stroke="#cfcfcf" stroke-width="0.6"/>
<polygon points="41.7,370.3 45.2,370.4 48.6,370.3 47.6,389.1 41.1,388.3" fill="rgb(174,174,174)" stroke="#8a8a8a" stroke-width="0.5"/>
<line x1="45" y1="371.33" x2="45.17" y2="388.13" stroke="#cfcfcf" stroke-width="0.6"/>
<polygon points="48.6,370 51.9,369.6 55.1,370 55.5,390.2 49.1,389.7" fill="rgb(172,172,172)" stroke="#8a8a8a" stroke-width="0.5"/>
<line x1="53.08" y1="370.95" x2="53.48" y2="389.19" stroke="#cfcfcf" stroke-width="0.6"/>
<polygon points="55.1,370.2 60.8,370.6 66.4,370.2 67.6,390.3 55.7,390.1" fill="rgb(160,160,160)" stroke="#8a8a8a" stroke-width="0.5"/>
<line x1="62.94" y1="371.16" x2="61.5" y2="389.31" stroke="#cfcfcf" stroke-width="0.6"/>
<polygon points="66.4,369.7 70.3,369.4 74.2,369.7 75.1,390.6 67.3,391.3" fill="rgb(150,150,150)" stroke="#8a8a8a" stroke-width="0.5"/>
<line x1="71.82" y1="370.68" x2="71.69" y2="389.64" stroke="#cfcfcf" stroke-width="0.6"/>
<polygon points="74.2,370.2 79.3,369.7 84.4,370.2 83.4,388.4 75.3,387.9" fill="rgb(159,159,159)" stroke="#8a8a8a" stroke-width="0.5"/>
<line x1="76.51" y1="371.23" x2="77.05" y2="387.43" stroke="#cfcfcf" stroke-width="0.6"/>
<polygon points="84.4,368.9 89.7,368.4 95,368.9 94.7,390.3 84,390.6" fill="rgb(176,176,176)" stroke="#8a8a8a" stroke-width="0.5"/>
<line x1="89.9" y1="369.89" x2="89.99" y2="389.29" stroke="#cfcfcf" stroke-width="0.6"/>
<polygon points="95,368.9 100.8,368.6 106.6,368.9 107.1,389.8 96.3,388.1" fill="rgb(151,151,151)" stroke="#8a8a8a" stroke-width="0.5"/>
<polygon points="106.6,369.4 109.2,369.8 111.8,369.4 110.4,388.3 105.3,388.7" fill="rgb(161,161,161)" stroke="#8a8a8a" stroke-width="0.5"/>
<polygon points="111.8,368.8 114.8,369.6 117.9,368.8 118.9,385.5 112.4,385.4" fill="rgb(165,165,165)" stroke="#8a8a8a" stroke-width="0.5"/>
<polygon points="117.9,369.8 122.9,369.8 128,369.8 127.8,386.9 117.4,386.1" fill="rgb(142,142,142)" stroke="#8a8a8a" stroke-width="0.5"/>
<polygon points="128,370 133,370.4 138,370 137.2,389.4 127.5,388.5" fill="rgb(148,148,148)" stroke="#8a8a8a" stroke-width="0.5"/>
<polygon points="138,368.8 143.7,368.6 149.5,368.8 148.3,381.7 138,380.7" fill="rgb(165,165,165)" stroke="#8a8a8a" stroke-width="0.5"/>
<line x1="141.58" y1="369.78" x2="140.88" y2="380.65" stroke="#cfcfcf" stroke-width="0.6"/>
<circle cx="103.5" cy="387.4" r="0.7" fill="rgb(161,161,161)"/>
<circle cx="37.4" cy="384.2" r="0.6" fill="rgb(142,142,142)"/>
<circle cx="34.5" cy="393.9" r="0.7" fill="rgb(159,159,159)"/>
<circle cx="120" cy="387.7" r="0.7" fill="rgb(138,138,138)"/>
<circle cx="104.3" cy="387" r="1" fill="rgb(143,143,143)"/>
<circle cx="89" cy="393.4" r="0.7" fill="rgb(187,187,187)"/>
<circle cx="88.4" cy="384.9" r="1" fill="rgb(192,192,192)"/>
<circle cx="101.9" cy="385.8" r="0.5" fill="rgb(192,192,192)"/>
<circle cx="75.8" cy="396.2" r="1" fill="rgb(147,147,147)"/>
<circle cx="138.9" cy="392.8" r="1.1" fill="rgb(146,146,146)"/>
<circle cx="72.6" cy="396.3" r="1.1" fill="rgb(134,134,134)"/>
<circle cx="114" cy="383.6" r="0.6" fill="rgb(171,171,171)"/>
<circle cx="86.8" cy="390.1" r="1" fill="rgb(132,132,132)"/>
<circle cx="137.5" cy="391.2" r="0.9" fill="rgb(153,153,153)"/>
<circle cx="72.6" cy="391.3" r="0.6" fill="rgb(155,155,155)"/>
<circle cx="125.1" cy="388" r="0.5" fill="rgb(132,132,132)"/>
<circle cx="79.5" cy="384.8" r="0.5" fill="rgb(174,174,174)"/>
<circle cx="27.6" cy="384.2" r="0.9" fill="rgb(181,181,181)"/>
<circle cx="125.8" cy="394.2" r="0.8" fill="rgb(141,141,141)"/>
<circle cx="89.2" cy="387.1" r="0.7" fill="rgb(150,150,150)"/>
<circle cx="38" cy="393.5" r="0.5" fill="rgb(176,176,176)"/>
<circle cx="54.7" cy="386.8" r="0.8" fill="rgb(180,180,180)"/>
<circle cx="80.6" cy="386.7" r="1" fill="rgb(167,167,167)"/>
<circle cx="141" cy="383.4" r="0.5" fill="rgb(161,161,161)"/>
<circle cx="123.9" cy="391.9" r="0.7" fill="rgb(152,152,152)"/>
<circle cx="34.3" cy="395.6" r="1.1" fill="rgb(188,188,188)"/>
<circle cx="132.6" cy="383.4" r="0.5" fill="rgb(186,186,186)"/>
<circle cx="139.6" cy="393.6" r="1" fill="rgb(187,187,187)"/>
<circle cx="131.1" cy="393.4" r="0.5" fill="rgb(188,188,188)"/>
<circle cx="105.2" cy="394.8" r="0.5" fill="rgb(187,187,187)"/>
<circle cx="82.1" cy="391.2" r="0.8" fill="rgb(140,140,140)"/>
<circle cx="123.1" cy="396.7" r="1.1" fill="rgb(171,171,171)"/>
<circle cx="44" cy="389.3" r="0.6" fill="rgb(131,131,131)"/>
<circle cx="88.9" cy="392.5" r="0.9" fill="rgb(144,144,144)"/>
<circle cx="128" cy="393.5" r="0.9" fill="rgb(164,164,164)"/>
<circle cx="65.2" cy="391.6" r="0.5" fill="rgb(173,173,173)"/>
<circle cx="31.5" cy="387.8" r="0.8" fill="rgb(181,181,181)"/>
<circle cx="126" cy="387.1" r="1" fill="rgb(146,146,146)"/>
<circle cx="70.7" cy="390.1" r="0.7" fill="rgb(180,180,180)"/>
<circle cx="27.9" cy="391.2" r="0.8" fill="rgb(149,149,149)"/>
<circle cx="60.8" cy="392.2" r="1" fill="rgb(159,159,159)"/>
<circle cx="68.9" cy="386.4" r="1" fill="rgb(162,162,162)"/>
<circle cx="134.4" cy="386.7" r="0.7" fill="rgb(129,129,129)"/>
<circle cx="112.5" cy="391.4" r="0.8" fill="rgb(178,178,178)"/>
<circle cx="65.5" cy="391.7" r="0.9" fill="rgb(177,177,177)"/>
<circle cx="29.8" cy="387.6" r="0.7" fill="rgb(156,156,156)"/>
<circle cx="44.9" cy="392.5" r="0.8" fill="rgb(126,126,126)"/>
<circle cx="30.8" cy="387.3" r="1.1" fill="rgb(192,192,192)"/>
<circle cx="75.5" cy="384.7" r="1.1" fill="rgb(191,191,191)"/>
<circle cx="69.4" cy="383.7" r="1" fill="rgb(133,133,133)"/>
<circle cx="36.8" cy="389" r="0.6" fill="rgb(144,144,144)"/>
<circle cx="37.7" cy="383" r="0.9" fill="rgb(136,136,136)"/>
<circle cx="65" cy="392.8" r="0.9" fill="rgb(156,156,156)"/>
<circle cx="49.3" cy="386.2" r="1" fill="rgb(191,191,191)"/>
<circle cx="92.9" cy="396.7" r="1" fill="rgb(185,185,185)"/>
<circle cx="87.7" cy="384.6" r="1.1" fill="rgb(168,168,168)"/>
<circle cx="77.7" cy="390.4" r="0.7" fill="rgb(132,132,132)"/>
<circle cx="43.5" cy="395.7" r="1" fill="rgb(194,194,194)"/>
<circle cx="107.1" cy="390.6" r="0.7" fill="rgb(151,151,151)"/>
<circle cx="113.7" cy="383.5" r="0.7" fill="rgb(186,186,186)"/>
<circle cx="61.6" cy="393.8" r="1.1" fill="rgb(157,157,157)"/>
<circle cx="87.8" cy="395.4" r="1.1" fill="rgb(161,161,161)"/>
<circle cx="56.8" cy="386.8" r="1" fill="rgb(194,194,194)"/>
<circle cx="45.6" cy="393.3" r="0.6" fill="rgb(154,154,154)"/>
<circle cx="111.7" cy="396.9" r="0.9" fill="rgb(184,184,184)"/>
<circle cx="73.8" cy="384" r="1" fill="rgb(138,138,138)"/>
<circle cx="92" cy="395.4" r="1.1" fill="rgb(193,193,193)"/>
<circle cx="106.3" cy="385.8" r="0.8" fill="rgb(178,178,178)"/>
<circle cx="116" cy="389.6" r="0.9" fill="rgb(162,162,162)"/>
<circle cx="57.5" cy="395.4" r="0.8" fill="rgb(188,188,188)"/>
<circle cx="91.7" cy="391.4" r="0.7" fill="rgb(176,176,176)"/>
<circle cx="43.4" cy="384.5" r="0.8" fill="rgb(172,172,172)"/>
<circle cx="98.9" cy="394" r="0.6" fill="rgb(170,170,170)"/>
<circle cx="126.7" cy="395.6" r="0.6" fill="rgb(139,139,139)"/>
<circle cx="54.5" cy="389.8" r="0.9" fill="rgb(192,192,192)"/>
<circle cx="60.6" cy="394.4" r="0.7" fill="rgb(179,179,179)"/>
<circle cx="69.1" cy="391.4" r="0.9" fill="rgb(181,181,181)"/>
<circle cx="37.6" cy="383.8" r="0.7" fill="rgb(179,179,179)"/>
<circle cx="39" cy="386.4" r="1.1" fill="rgb(180,180,180)"/>
<circle cx="132.4" cy="384.2" r="0.7" fill="rgb(171,171,171)"/>
<circle cx="81.7" cy="389.9" r="0.7" fill="rgb(151,151,151)"/>
<circle cx="99.6" cy="388.1" r="0.6" fill="rgb(148,148,148)"/>
<circle cx="137.5" cy="389" r="0.8" fill="rgb(154,154,154)"/>
<circle cx="98.4" cy="385.4" r="1" fill="rgb(131,131,131)"/>
<circle cx="121.9" cy="385.6" r="0.7" fill="rgb(176,176,176)"/>
<circle cx="67.6" cy="396.6" r="1" fill="rgb(176,176,176)"/>
<circle cx="54.1" cy="390.4" r="1" fill="rgb(138,138,138)"/>
<circle cx="32.8" cy="394.7" r="1.1" fill="rgb(175,175,175)"/>
<circle cx="121.1" cy="385.5" r="0.9" fill="rgb(166,166,166)"/>
<circle cx="139" cy="392" r="1" fill="rgb(147,147,147)"/>
<circle cx="29.3" cy="390.7" r="0.7" fill="rgb(168,168,168)"/>
<circle cx="71.7" cy="395.3" r="0.6" fill="rgb(194,194,194)"/>
<circle cx="135.1" cy="388.8" r="0.9" fill="rgb(159,159,159)"/>
<circle cx="92.1" cy="391.3" r="0.7" fill="rgb(159,159,159)"/>
<circle cx="66.6" cy="396" r="1" fill="rgb(168,168,168)"/>
<circle cx="69.4" cy="396.1" r="0.7" fill="rgb(163,163,163)"/>
<circle cx="107.9" cy="386.5" r="0.8" fill="rgb(164,164,164)"/>
<circle cx="33.5" cy="394.1" r="0.5" fill="rgb(139,139,139)"/>
<circle cx="59.8" cy="390.7" r="0.9" fill="rgb(162,162,162)"/>
<circle cx="43.6" cy="396.8" r="0.9" fill="rgb(170,170,170)"/>
<circle cx="40.8" cy="383.5" r="0.6" fill="rgb(193,193,193)"/>
<circle cx="56.8" cy="386.9" r="0.9" fill="rgb(142,142,142)"/>
<circle cx="110.5" cy="396.6" r="1" fill="rgb(131,131,131)"/>
<circle cx="76.6" cy="387.3" r="0.7" fill="rgb(189,189,189)"/>
<circle cx="44.2" cy="386.7" r="1" fill="rgb(188,188,188)"/>
<circle cx="101.9" cy="396.3" r="0.9" fill="rgb(142,142,142)"/>
<circle cx="136.1" cy="386.4" r="1.1" fill="rgb(135,135,135)"/>
<circle cx="139.3" cy="386.3" r="0.9" fill="rgb(155,155,155)"/>
<circle cx="106.5" cy="393.1" r="0.5" fill="rgb(157,157,157)"/>
<circle cx="139.9" cy="391.9" r="0.7" fill="rgb(183,183,183)"/>
<circle cx="86.3" cy="395.5" r="0.6" fill="rgb(132,132,132)"/>
<circle cx="54.4" cy="383.2" r="0.9" fill="rgb(131,131,131)"/>
<circle cx="138.8" cy="393.2" r="0.5" fill="rgb(184,184,184)"/>
<circle cx="114.1" cy="393.9" r="0.8" fill="rgb(132,132,132)"/>
<circle cx="62.4" cy="393.4" r="0.7" fill="rgb(135,135,135)"/>
<circle cx="85.7" cy="396.8" r="0.6" fill="rgb(152,152,152)"/>
<circle cx="121.2" cy="387.4" r="0.8" fill="rgb(162,162,162)"/>
<circle cx="93.5" cy="391.2" r="0.6" fill="rgb(140,140,140)"/>
<circle cx="65.8" cy="396.6" r="0.7" fill="rgb(173,173,173)"/>
<circle cx="50.5" cy="383.2" r="0.9" fill="rgb(133,133,133)"/>
<circle cx="90.2" cy="396.3" r="1" fill="rgb(157,157,157)"/>
<circle cx="95.3" cy="383.6" r="0.6" fill="rgb(129,129,129)"/>
<circle cx="129.8" cy="390" r="0.6" fill="rgb(131,131,131)"/>
<circle cx="44.4" cy="390.9" r="0.7" fill="rgb(184,184,184)"/>
<circle cx="112.4" cy="387.3" r="1.1" fill="rgb(174,174,174)"/>
<circle cx="66.4" cy="384" r="0.5" fill="rgb(136,136,136)"/>
<circle cx="98.1" cy="396.2" r="0.5" fill="rgb(140,140,140)"/>
<circle cx="67.8" cy="388.4" r="0.9" fill="rgb(133,133,133)"/>
<circle cx="29.6" cy="396.4" r="0.7" fill="rgb(187,187,187)"/>
<circle cx="35.9" cy="387.6" r="0.6" fill="rgb(162,162,162)"/>
<circle cx="29.3" cy="385.7" r="0.9" fill="rgb(157,157,157)"/>
<circle cx="75.9" cy="386.2" r="0.9" fill="rgb(193,193,193)"/>
<circle cx="133.6" cy="396.9" r="1" fill="rgb(154,154,154)"/>
<circle cx="54.9" cy="384.1" r="0.8" fill="rgb(132,132,132)"/>
<circle cx="83.5" cy="385.3" r="0.8" fill="rgb(155,155,155)"/>
<circle cx="44.7" cy="385.3" r="0.5" fill="rgb(169,169,169)"/>
<circle cx="118.1" cy="386.6" r="0.5" fill="rgb(139,139,139)"/>
<circle cx="54" cy="383" r="0.7" fill="rgb(144,144,144)"/>
<circle cx="133.8" cy="387.9" r="1.1" fill="rgb(127,127,127)"/>
<circle cx="84.1" cy="390.9" r="0.9" fill="rgb(153,153,153)"/>
<circle cx="107.8" cy="391.8" r="0.8" fill="rgb(188,188,188)"/>
<circle cx="38.7" cy="386.7" r="0.7" fill="rgb(189,189,189)"/>
<circle cx="42" cy="395.5" r="0.7" fill="rgb(165,165,165)"/>
<circle cx="35.3" cy="387.8" r="1" fill="rgb(165,165,165)"/>
<circle cx="131" cy="395" r="0.8" fill="rgb(158,158,158)"/>
<circle cx="34.2" cy="387.5" r="0.9" fill="rgb(151,151,151)"/>
<circle cx="78.3" cy="389.6" r="0.6" fill="rgb(160,160,160)"/>
<circle cx="112.3" cy="387.6" r="0.6" fill="rgb(190,190,190)"/>
<circle cx="81.2" cy="386.3" r="0.6" fill="rgb(156,156,156)"/>
<circle cx="59.6" cy="385.6" r="0.7" fill="rgb(163,163,163)"/>
<circle cx="32.5" cy="396.9" r="0.6" fill="rgb(143,143,143)"/>
<circle cx="54" cy="386" r="0.9" fill="rgb(173,173,173)"/>
<circle cx="44.7" cy="390.2" r="0.8" fill="rgb(128,128,128)"/>
<circle cx="81.2" cy="388.8" r="0.6" fill="rgb(190,190,190)"/>
<circle cx="37.9" cy="389.9" r="0.7" fill="rgb(183,183,183)"/>
<circle cx="69.3" cy="390.8" r="1.1" fill="rgb(144,144,144)"/>
<circle cx="81.9" cy="396.9" r="0.9" fill="rgb(131,131,131)"/>
<circle cx="128.6" cy="395.3" r="0.8" fill="rgb(150,150,150)"/>
<circle cx="121" cy="385.9" r="0.7" fill="rgb(152,152,152)"/>
<circle cx="85.2" cy="384.3" r="1" fill="rgb(146,146,146)"/>
<circle cx="76.4" cy="392.5" r="1" fill="rgb(174,174,174)"/>
<circle cx="67.4" cy="387.4" r="0.8" fill="rgb(136,136,136)"/>
<circle cx="76.8" cy="386.7" r="0.7" fill="rgb(156,156,156)"/>
<circle cx="107.9" cy="384.6" r="0.6" fill="rgb(192,192,192)"/>
<circle cx="67.5" cy="390.9" r="0.6" fill="rgb(181,181,181)"/>
<circle cx="83.8" cy="391.6" r="0.8" fill="rgb(130,130,130)"/>
<circle cx="80.7" cy="391.8" r="0.9" fill="rgb(187,187,187)"/>
<circle cx="139" cy="393.8" r="0.7" fill="rgb(152,152,152)"/>
<circle cx="80" cy="386.1" r="0.9" fill="rgb(137,137,137)"/>
<circle cx="73" cy="392.5" r="0.8" fill="rgb(127,127,127)"/>
<circle cx="70.1" cy="386.4" r="0.8" fill="rgb(143,143,143)"/>
<circle cx="49.2" cy="388.8" r="0.5" fill="rgb(188,188,188)"/>
<circle cx="39.9" cy="395.3" r="0.9" fill="rgb(143,143,143)"/>
<circle cx="140.4" cy="395.7" r="0.7" fill="rgb(150,150,150)"/>
<circle cx="127.5" cy="390.5" r="0.6" fill="rgb(164,164,164)"/>
<circle cx="46.2" cy="393.7" r="1" fill="rgb(179,179,179)"/>
<circle cx="71.9" cy="389.5" r="0.6" fill="rgb(191,191,191)"/>
<circle cx="47.7" cy="384.4" r="0.7" fill="rgb(129,129,129)"/>
<circle cx="138.2" cy="388.1" r="0.9" fill="rgb(155,155,155)"/>
<circle cx="87.7" cy="395.9" r="0.7" fill="rgb(140,140,140)"/>
<circle cx="77.2" cy="389.4" r="1" fill="rgb(187,187,187)"/>
<circle cx="107.8" cy="385.8" r="0.7" fill="rgb(126,126,126)"/>
<circle cx="60.3" cy="386.6" r="0.6" fill="rgb(125,125,125)"/>
<circle cx="109.6" cy="395.5" r="0.7" fill="rgb(186,186,186)"/>
<circle cx="65.4" cy="396.8" r="0.6" fill="rgb(187,187,187)"/>
<circle cx="52" cy="390.9" r="0.7" fill="rgb(125,125,125)"/>
<circle cx="79.6" cy="394.4" r="1" fill="rgb(126,126,126)"/>
<circle cx="77.2" cy="392" r="0.7" fill="rgb(162,162,162)"/>
<circle cx="28" cy="392.1" r="1.1" fill="rgb(189,189,189)"/>
<circle cx="80.2" cy="393.2" r="0.8" fill="rgb(171,171,171)"/>
<circle cx="35.4" cy="395.6" r="1" fill="rgb(174,174,174)"/>
<circle cx="45.9" cy="386.5" r="0.7" fill="rgb(149,149,149)"/>
<circle cx="27.8" cy="391.4" r="0.6" fill="rgb(182,182,182)"/>
<circle cx="136.8" cy="388.5" r="0.9" fill="rgb(164,164,164)"/>
<circle cx="118" cy="395.4" r="1" fill="rgb(130,130,130)"/>
<circle cx="73.5" cy="396.5" r="0.9" fill="rgb(153,153,153)"/>
<circle cx="51.4" cy="389.2" r="0.6" fill="rgb(166,166,166)"/>
<circle cx="108.4" cy="393.2" r="0.9" fill="rgb(144,144,144)"/>
<circle cx="90.9" cy="392.6" r="0.5" fill="rgb(163,163,163)"/>
<circle cx="129.5" cy="394.7" r="0.6" fill="rgb(143,143,143)"/>
<circle cx="41.5" cy="394" r="1" fill="rgb(184,184,184)"/>
<circle cx="97.3" cy="388.1" r="0.9" fill="rgb(193,193,193)"/>
<circle cx="79.2" cy="392" r="0.9" fill="rgb(182,182,182)"/>
<circle cx="125.9" cy="385" r="0.5" fill="rgb(141,141,141)"/>
<circle cx="139.9" cy="391.3" r="0.6" fill="rgb(143,143,143)"/>
<circle cx="119.8" cy="391" r="0.6" fill="rgb(125,125,125)"/>
<circle cx="127.1" cy="390.9" r="1.1" fill="rgb(152,152,152)"/>
<circle cx="108.3" cy="394.5" r="0.9" fill="rgb(170,170,170)"/>
<circle cx="28" cy="393.3" r="1" fill="rgb(181,181,181)"/>
<circle cx="71" cy="394.8" r="0.8" fill="rgb(187,187,187)"/>
<circle cx="66" cy="388.5" r="0.6" fill="rgb(176,176,176)"/>
<circle cx="76.7" cy="396.8" r="0.8" fill="rgb(132,132,132)"/>
<circle cx="32.4" cy="390.1" r="0.5" fill="rgb(129,129,129)"/>
<circle cx="85.2" cy="395.5" r="1" fill="rgb(176,176,176)"/>
<circle cx="30.6" cy="388.6" r="0.6" fill="rgb(181,181,181)"/>
<circle cx="50.6" cy="393" r="0.6" fill="rgb(182,182,182)"/>
<circle cx="129.6" cy="390.4" r="0.8" fill="rgb(181,181,181)"/>
<circle cx="116.2" cy="385.6" r="1" fill="rgb(135,135,135)"/>
<circle cx="40.2" cy="388.3" r="0.8" fill="rgb(159,159,159)"/>
<circle cx="139.4" cy="390.4" r="0.6" fill="rgb(190,190,190)"/>
<line x1="27.3" y1="368.8" x2="141.8" y2="368.8" stroke="#b4b4b4" stroke-width="0.9"/>
<rect x="27.3" y="397.5" width="114.5" height="21.1" fill="#7c7c7c"/>
<line x1="95.58" y1="397.5" x2="92.59" y2="410.29" stroke="rgb(180,180,180)" stroke-width="0.94"/>
<line x1="38.52" y1="397.5" x2="37.5" y2="416.35" stroke="rgb(154,154,154)" stroke-width="0.78"/>
<line x1="134.16" y1="397.5" x2="131.45" y2="410.74" stroke="rgb(162,162,162)" stroke-width="0.97"/>
<line x1="46.78" y1="397.5" x2="43.1" y2="417.82" stroke="rgb(158,158,158)" stroke-width="0.53"/>
<line x1="107.26" y1="397.5" x2="110.19" y2="407.01" stroke="rgb(161,161,161)" stroke-width="0.73"/>
<line x1="93.81" y1="397.5" x2="91.75" y2="418.44" stroke="rgb(168,168,168)" stroke-width="0.73"/>
<line x1="118.25" y1="397.5" x2="117.89" y2="410.68" stroke="rgb(170,170,170)" stroke-width="0.83"/>
<line x1="76.49" y1="397.5" x2="76.59" y2="418.06" stroke="rgb(131,131,131)" stroke-width="0.79"/>
<line x1="39.3" y1="397.5" x2="37.16" y2="412.32" stroke="rgb(141,141,141)" stroke-width="1.01"/>
<line x1="40.46" y1="397.5" x2="41.54" y2="414.67" stroke="rgb(179,179,179)" stroke-width="0.54"/>
<line x1="103.91" y1="397.5" x2="105.21" y2="405.29" stroke="rgb(153,153,153)" stroke-width="0.72"/>
<line x1="49.38" y1="397.5" x2="53.12" y2="418.74" stroke="rgb(176,176,176)" stroke-width="0.88"/>
<line x1="49.51" y1="397.5" x2="46.56" y2="414.9" stroke="rgb(165,165,165)" stroke-width="1.08"/>
<line x1="66.54" y1="397.5" x2="66.41" y2="411.26" stroke="rgb(156,156,156)" stroke-width="0.98"/>
<line x1="110.22" y1="397.5" x2="110.44" y2="416.45" stroke="rgb(151,151,151)" stroke-width="0.84"/>
<line x1="115.74" y1="397.5" x2="113.13" y2="411.75" stroke="rgb(141,141,141)" stroke-width="1.04"/>
<line x1="94.6" y1="397.5" x2="93.24" y2="418.64" stroke="rgb(135,135,135)" stroke-width="0.66"/>
<line x1="130.25" y1="397.5" x2="126.32" y2="406.02" stroke="rgb(173,173,173)" stroke-width="0.97"/>
<line x1="119.32" y1="397.5" x2="122.07" y2="412.1" stroke="rgb(165,165,165)" stroke-width="1.05"/>
<line x1="93.93" y1="397.5" x2="90.01" y2="412.79" stroke="rgb(154,154,154)" stroke-width="0.61"/>
<line x1="27.3" y1="397.5" x2="141.8" y2="397.5" stroke="#a8a8a8" stroke-width="0.8"/>
</g>
<text x="32.6" y="362.5" font-size="11.8" font-weight="bold" fill="#fff">Control</text>
<rect x="102.5" y="412.6" width="36" height="2.7" fill="#fff"/>
<text x="120.3" y="406.1" font-size="11.8" font-weight="bold" fill="#fff" text-anchor="middle">2 μm</text>
<circle cx="35.3" cy="385.8" r="3.7" fill="none" stroke="#f01010" stroke-width="1.3" stroke-dasharray="2.2,1.3"/>
<circle cx="71.5" cy="385.8" r="3.7" fill="none" stroke="#f01010" stroke-width="1.3" stroke-dasharray="2.2,1.3"/>
<circle cx="82.8" cy="385.8" r="3.7" fill="none" stroke="#f01010" stroke-width="1.3" stroke-dasharray="2.2,1.3"/>
<circle cx="94.4" cy="385.8" r="3.7" fill="none" stroke="#f01010" stroke-width="1.3" stroke-dasharray="2.2,1.3"/>
<g clip-path="url(#x2)" filter="url(#xsblur)">
<rect x="186.9" y="348.5" width="117.3" height="70.1" fill="#848484"/>
<rect x="186.9" y="369" width="117.3" height="16" fill="#8e8e8e"/>
<polygon points="226,370 275,370 272,385 232,385" fill="#a2a2a2"/>
<line x1="186.9" y1="370" x2="186.37" y2="385" stroke="rgb(140,140,140)" stroke-width="1"/>
<line x1="196.14" y1="370" x2="194.25" y2="385" stroke="rgb(159,159,159)" stroke-width="1"/>
<line x1="205.48" y1="370" x2="206.56" y2="385" stroke="rgb(162,162,162)" stroke-width="1"/>
<line x1="212.66" y1="370" x2="212.02" y2="385" stroke="rgb(163,163,163)" stroke-width="1"/>
<line x1="224.04" y1="370" x2="222.02" y2="385" stroke="rgb(135,135,135)" stroke-width="1"/>
<line x1="231.75" y1="370" x2="231.72" y2="385" stroke="rgb(159,159,159)" stroke-width="1"/>
<line x1="247.6" y1="370" x2="248.93" y2="385" stroke="rgb(140,140,140)" stroke-width="1"/>
<line x1="258.21" y1="370" x2="256.06" y2="385" stroke="rgb(148,148,148)" stroke-width="1"/>
<line x1="267.44" y1="370" x2="270.16" y2="385" stroke="rgb(123,123,123)" stroke-width="1"/>
<line x1="276.25" y1="370" x2="277.59" y2="385" stroke="rgb(146,146,146)" stroke-width="1"/>
<line x1="283.75" y1="370" x2="283.92" y2="385" stroke="rgb(156,156,156)" stroke-width="1"/>
<line x1="299.48" y1="370" x2="296.96" y2="385" stroke="rgb(135,135,135)" stroke-width="1"/>
<line x1="186.9" y1="369.3" x2="304.2" y2="369.3" stroke="#a8a8a8" stroke-width="0.9"/>
<rect x="186.9" y="385" width="117.3" height="4" fill="#b2b2b2"/>
<rect x="186.9" y="389" width="117.3" height="10" fill="#959595"/>
<circle cx="252.1" cy="390.2" r="0.9" fill="rgb(137,137,137)"/>
<circle cx="229.4" cy="392.1" r="0.5" fill="rgb(162,162,162)"/>
<circle cx="242.3" cy="396.2" r="0.6" fill="rgb(166,166,166)"/>
<circle cx="222.8" cy="389.9" r="0.6" fill="rgb(155,155,155)"/>
<circle cx="281" cy="393.8" r="0.7" fill="rgb(123,123,123)"/>
<circle cx="259.6" cy="390.5" r="0.5" fill="rgb(145,145,145)"/>
<circle cx="272.8" cy="392.6" r="0.7" fill="rgb(140,140,140)"/>
<circle cx="188.9" cy="393.4" r="0.6" fill="rgb(173,173,173)"/>
<circle cx="286" cy="391.4" r="0.9" fill="rgb(166,166,166)"/>
<circle cx="292.6" cy="398.7" r="0.8" fill="rgb(145,145,145)"/>
<circle cx="225.2" cy="396.9" r="0.8" fill="rgb(146,146,146)"/>
<circle cx="276.4" cy="390.3" r="0.9" fill="rgb(147,147,147)"/>
<circle cx="267.8" cy="391.5" r="0.8" fill="rgb(145,145,145)"/>
<circle cx="300.4" cy="394.4" r="0.6" fill="rgb(178,178,178)"/>
<circle cx="214.6" cy="394.4" r="1" fill="rgb(159,159,159)"/>
<circle cx="290.8" cy="392.4" r="0.9" fill="rgb(140,140,140)"/>
<circle cx="232.5" cy="395.5" r="0.8" fill="rgb(146,146,146)"/>
<circle cx="278.9" cy="398.7" r="0.8" fill="rgb(142,142,142)"/>
<circle cx="281.6" cy="395.8" r="0.6" fill="rgb(168,168,168)"/>
<circle cx="224.3" cy="390.2" r="0.9" fill="rgb(168,168,168)"/>
<circle cx="283.8" cy="396.4" r="0.8" fill="rgb(151,151,151)"/>
<circle cx="252.4" cy="398.9" r="0.8" fill="rgb(179,179,179)"/>
<circle cx="275.5" cy="398.3" r="0.7" fill="rgb(162,162,162)"/>
<circle cx="201.2" cy="395.1" r="0.6" fill="rgb(166,166,166)"/>
<circle cx="201.4" cy="396.1" r="0.6" fill="rgb(136,136,136)"/>
<circle cx="210.5" cy="397.5" r="0.6" fill="rgb(153,153,153)"/>
<circle cx="242.9" cy="392.9" r="0.9" fill="rgb(156,156,156)"/>
<circle cx="241.1" cy="392.6" r="0.5" fill="rgb(123,123,123)"/>
<circle cx="208.7" cy="388.8" r="0.6" fill="rgb(163,163,163)"/>
<circle cx="289.4" cy="389.9" r="0.8" fill="rgb(168,168,168)"/>
<circle cx="277.1" cy="397" r="0.6" fill="rgb(141,141,141)"/>
<circle cx="215.7" cy="392.8" r="1" fill="rgb(169,169,169)"/>
<circle cx="254.8" cy="396.9" r="0.7" fill="rgb(154,154,154)"/>
<circle cx="270.5" cy="390.8" r="0.7" fill="rgb(133,133,133)"/>
<circle cx="229.9" cy="392.7" r="0.7" fill="rgb(140,140,140)"/>
<circle cx="287.3" cy="389" r="0.8" fill="rgb(128,128,128)"/>
<circle cx="279.8" cy="389.8" r="0.7" fill="rgb(143,143,143)"/>
<circle cx="237" cy="394.4" r="0.6" fill="rgb(158,158,158)"/>
<circle cx="210.9" cy="389" r="0.9" fill="rgb(128,128,128)"/>
<circle cx="262.7" cy="392" r="1" fill="rgb(145,145,145)"/>
<circle cx="292.5" cy="393" r="0.9" fill="rgb(151,151,151)"/>
<circle cx="297.1" cy="394.1" r="0.7" fill="rgb(151,151,151)"/>
<circle cx="239.5" cy="390.3" r="1" fill="rgb(142,142,142)"/>
<circle cx="256.9" cy="394.4" r="0.8" fill="rgb(176,176,176)"/>
<circle cx="278.6" cy="395.2" r="0.8" fill="rgb(120,120,120)"/>
<circle cx="267.6" cy="389" r="0.8" fill="rgb(137,137,137)"/>
<circle cx="287.4" cy="389.3" r="1" fill="rgb(144,144,144)"/>
<circle cx="222.4" cy="393.4" r="0.6" fill="rgb(162,162,162)"/>
<circle cx="273.2" cy="392.7" r="0.7" fill="rgb(138,138,138)"/>
<circle cx="204.1" cy="394.5" r="0.5" fill="rgb(170,170,170)"/>
<circle cx="285.4" cy="395.3" r="1" fill="rgb(148,148,148)"/>
<circle cx="263.5" cy="390.3" r="0.9" fill="rgb(135,135,135)"/>
<circle cx="195.2" cy="392.4" r="1" fill="rgb(156,156,156)"/>
<circle cx="294.6" cy="391.5" r="0.9" fill="rgb(121,121,121)"/>
<circle cx="300.6" cy="390" r="0.8" fill="rgb(120,120,120)"/>
<circle cx="302.6" cy="398.3" r="0.9" fill="rgb(163,163,163)"/>
<circle cx="189.4" cy="395" r="0.9" fill="rgb(121,121,121)"/>
<circle cx="248.7" cy="398.1" r="0.5" fill="rgb(136,136,136)"/>
<circle cx="191.2" cy="390.5" r="0.9" fill="rgb(159,159,159)"/>
<circle cx="245.7" cy="396.2" r="0.7" fill="rgb(178,178,178)"/>
<circle cx="250.7" cy="398.7" r="0.8" fill="rgb(175,175,175)"/>
<circle cx="289.5" cy="388.9" r="0.8" fill="rgb(130,130,130)"/>
<circle cx="268.8" cy="392.7" r="0.5" fill="rgb(145,145,145)"/>
<circle cx="204.9" cy="390.2" r="0.8" fill="rgb(171,171,171)"/>
<circle cx="190.6" cy="394.8" r="0.8" fill="rgb(176,176,176)"/>
<circle cx="256.6" cy="392.8" r="0.6" fill="rgb(155,155,155)"/>
<circle cx="260.3" cy="395.8" r="0.9" fill="rgb(159,159,159)"/>
<circle cx="262.4" cy="393.6" r="0.8" fill="rgb(150,150,150)"/>
<circle cx="186.9" cy="395.7" r="0.9" fill="rgb(166,166,166)"/>
<circle cx="300.1" cy="397.2" r="1" fill="rgb(164,164,164)"/>
<circle cx="235.4" cy="396.9" r="0.9" fill="rgb(174,174,174)"/>
<circle cx="237.5" cy="395.8" r="0.6" fill="rgb(145,145,145)"/>
<circle cx="208.1" cy="397.6" r="0.9" fill="rgb(130,130,130)"/>
<circle cx="222.1" cy="389.4" r="0.9" fill="rgb(123,123,123)"/>
<circle cx="278.3" cy="389.3" r="0.6" fill="rgb(120,120,120)"/>
<circle cx="223.5" cy="390.7" r="0.7" fill="rgb(137,137,137)"/>
<circle cx="257.5" cy="388.6" r="0.8" fill="rgb(145,145,145)"/>
<circle cx="293.3" cy="391.3" r="0.8" fill="rgb(171,171,171)"/>
<circle cx="201.3" cy="396.6" r="0.9" fill="rgb(177,177,177)"/>
<circle cx="287.2" cy="395.2" r="0.9" fill="rgb(149,149,149)"/>
<circle cx="254.5" cy="397.9" r="0.7" fill="rgb(143,143,143)"/>
<circle cx="214.2" cy="391.8" r="0.5" fill="rgb(138,138,138)"/>
<circle cx="246.3" cy="392.5" r="0.9" fill="rgb(163,163,163)"/>
<circle cx="229.9" cy="391.5" r="0.6" fill="rgb(146,146,146)"/>
<circle cx="194.5" cy="398.2" r="0.9" fill="rgb(177,177,177)"/>
<circle cx="301.7" cy="398.1" r="0.5" fill="rgb(136,136,136)"/>
<circle cx="281.4" cy="392.4" r="1" fill="rgb(144,144,144)"/>
<circle cx="271.9" cy="393.9" r="0.9" fill="rgb(173,173,173)"/>
<circle cx="294.4" cy="393.4" r="0.7" fill="rgb(166,166,166)"/>
<circle cx="213.7" cy="394.4" r="1" fill="rgb(171,171,171)"/>
<circle cx="207.3" cy="398.7" r="0.8" fill="rgb(141,141,141)"/>
<circle cx="275" cy="391.1" r="0.9" fill="rgb(157,157,157)"/>
<circle cx="245.1" cy="398.9" r="0.9" fill="rgb(131,131,131)"/>
<circle cx="274.6" cy="392.9" r="0.8" fill="rgb(164,164,164)"/>
<circle cx="254" cy="395" r="0.9" fill="rgb(135,135,135)"/>
<circle cx="208.2" cy="390.7" r="0.7" fill="rgb(171,171,171)"/>
<circle cx="269" cy="391.3" r="0.9" fill="rgb(157,157,157)"/>
<circle cx="205.3" cy="397.9" r="0.8" fill="rgb(145,145,145)"/>
<circle cx="294" cy="395.4" r="0.5" fill="rgb(158,158,158)"/>
<circle cx="283.8" cy="397.1" r="0.5" fill="rgb(176,176,176)"/>
<circle cx="230.6" cy="398.8" r="0.8" fill="rgb(170,170,170)"/>
<circle cx="238.3" cy="389.4" r="0.9" fill="rgb(149,149,149)"/>
<circle cx="199.2" cy="394.4" r="0.6" fill="rgb(163,163,163)"/>
<circle cx="239.6" cy="392.4" r="0.9" fill="rgb(167,167,167)"/>
<circle cx="289.3" cy="395.8" r="0.7" fill="rgb(144,144,144)"/>
<circle cx="206" cy="393.1" r="0.6" fill="rgb(149,149,149)"/>
<circle cx="285.7" cy="396.4" r="0.8" fill="rgb(122,122,122)"/>
<circle cx="241.1" cy="396.1" r="0.6" fill="rgb(130,130,130)"/>
<circle cx="190.1" cy="392.1" r="0.9" fill="rgb(127,127,127)"/>
<circle cx="209.2" cy="398.1" r="0.8" fill="rgb(168,168,168)"/>
<circle cx="294.4" cy="389.8" r="1" fill="rgb(120,120,120)"/>
<circle cx="258.3" cy="398" r="0.7" fill="rgb(161,161,161)"/>
<circle cx="289.8" cy="398.8" r="0.8" fill="rgb(161,161,161)"/>
<circle cx="240.5" cy="394.4" r="0.9" fill="rgb(156,156,156)"/>
<circle cx="281.2" cy="391.8" r="0.9" fill="rgb(161,161,161)"/>
<circle cx="195.8" cy="399" r="0.9" fill="rgb(154,154,154)"/>
<circle cx="266.2" cy="394" r="0.5" fill="rgb(179,179,179)"/>
<circle cx="216.1" cy="397" r="0.7" fill="rgb(147,147,147)"/>
<circle cx="191" cy="389.9" r="0.6" fill="rgb(140,140,140)"/>
<circle cx="229.2" cy="398.1" r="0.5" fill="rgb(144,144,144)"/>
<circle cx="251.5" cy="394.4" r="1" fill="rgb(137,137,137)"/>
<circle cx="210.3" cy="395.6" r="0.6" fill="rgb(150,150,150)"/>
<circle cx="217.8" cy="389.7" r="1" fill="rgb(163,163,163)"/>
<circle cx="210.4" cy="396.2" r="0.8" fill="rgb(178,178,178)"/>
<circle cx="249.9" cy="398.1" r="0.7" fill="rgb(144,144,144)"/>
<circle cx="217.6" cy="393.1" r="0.6" fill="rgb(179,179,179)"/>
<circle cx="226.7" cy="389" r="0.6" fill="rgb(151,151,151)"/>
<circle cx="208.4" cy="394.7" r="0.5" fill="rgb(121,121,121)"/>
<circle cx="204.5" cy="391" r="0.7" fill="rgb(147,147,147)"/>
<circle cx="191.7" cy="395.6" r="0.8" fill="rgb(133,133,133)"/>
<circle cx="210.7" cy="391.9" r="0.6" fill="rgb(132,132,132)"/>
<circle cx="303.2" cy="393.9" r="0.8" fill="rgb(125,125,125)"/>
<circle cx="198.2" cy="394.9" r="0.7" fill="rgb(170,170,170)"/>
<circle cx="303.1" cy="392.1" r="0.5" fill="rgb(174,174,174)"/>
<circle cx="253.5" cy="396.8" r="0.6" fill="rgb(155,155,155)"/>
<circle cx="255.1" cy="395.6" r="0.9" fill="rgb(121,121,121)"/>
<circle cx="262.8" cy="398.4" r="0.7" fill="rgb(129,129,129)"/>
<circle cx="202.7" cy="392.4" r="1" fill="rgb(125,125,125)"/>
<circle cx="284.8" cy="395.9" r="1" fill="rgb(172,172,172)"/>
<circle cx="301" cy="398.3" r="0.7" fill="rgb(126,126,126)"/>
<circle cx="234.7" cy="389.5" r="1" fill="rgb(156,156,156)"/>
<circle cx="243.7" cy="393" r="1" fill="rgb(134,134,134)"/>
<circle cx="246.6" cy="396" r="0.9" fill="rgb(126,126,126)"/>
<circle cx="293.4" cy="396.6" r="0.7" fill="rgb(141,141,141)"/>
<circle cx="230.4" cy="394.2" r="1" fill="rgb(135,135,135)"/>
<circle cx="215.5" cy="393.5" r="0.8" fill="rgb(128,128,128)"/>
<circle cx="225.8" cy="391.6" r="0.7" fill="rgb(128,128,128)"/>
<circle cx="291.2" cy="393.1" r="0.8" fill="rgb(128,128,128)"/>
<circle cx="188.9" cy="398.7" r="1" fill="rgb(172,172,172)"/>
<circle cx="219.5" cy="397" r="1" fill="rgb(124,124,124)"/>
<circle cx="298.1" cy="391" r="0.7" fill="rgb(162,162,162)"/>
<circle cx="202.2" cy="394.1" r="0.9" fill="rgb(123,123,123)"/>
<circle cx="304" cy="390" r="0.9" fill="rgb(159,159,159)"/>
<circle cx="297.6" cy="389.4" r="0.9" fill="rgb(163,163,163)"/>
<circle cx="232.3" cy="390.7" r="0.9" fill="rgb(141,141,141)"/>
<circle cx="206.8" cy="391.1" r="0.6" fill="rgb(160,160,160)"/>
<circle cx="250.2" cy="398.9" r="0.7" fill="rgb(123,123,123)"/>
<circle cx="278.5" cy="395.3" r="1" fill="rgb(171,171,171)"/>
<circle cx="213.2" cy="396.4" r="1" fill="rgb(158,158,158)"/>
<circle cx="208.6" cy="397.9" r="0.7" fill="rgb(130,130,130)"/>
<circle cx="211.9" cy="398.7" r="0.5" fill="rgb(153,153,153)"/>
<circle cx="205.4" cy="391.9" r="0.6" fill="rgb(175,175,175)"/>
<circle cx="195.4" cy="391.4" r="0.6" fill="rgb(161,161,161)"/>
<circle cx="272.5" cy="397.7" r="0.7" fill="rgb(159,159,159)"/>
<circle cx="222.6" cy="395.1" r="0.9" fill="rgb(127,127,127)"/>
<circle cx="285.7" cy="393.1" r="0.9" fill="rgb(122,122,122)"/>
<circle cx="235.5" cy="394.2" r="0.6" fill="rgb(130,130,130)"/>
<circle cx="253" cy="388.8" r="0.9" fill="rgb(154,154,154)"/>
<circle cx="200.9" cy="395.1" r="1" fill="rgb(158,158,158)"/>
<circle cx="296.4" cy="392.1" r="0.7" fill="rgb(132,132,132)"/>
<circle cx="266.4" cy="392.3" r="0.9" fill="rgb(169,169,169)"/>
<circle cx="243" cy="394.5" r="0.6" fill="rgb(124,124,124)"/>
<circle cx="258.5" cy="389.7" r="0.7" fill="rgb(176,176,176)"/>
<circle cx="248.2" cy="392.8" r="0.8" fill="rgb(165,165,165)"/>
<circle cx="283.6" cy="390.1" r="0.7" fill="rgb(141,141,141)"/>
<circle cx="248.8" cy="395.7" r="0.8" fill="rgb(174,174,174)"/>
<circle cx="191.2" cy="389.7" r="0.9" fill="rgb(175,175,175)"/>
<circle cx="227" cy="391.1" r="0.9" fill="rgb(154,154,154)"/>
<circle cx="248.5" cy="395.3" r="0.9" fill="rgb(150,150,150)"/>
<circle cx="207.3" cy="397.5" r="1" fill="rgb(148,148,148)"/>
<circle cx="221.2" cy="391.1" r="0.9" fill="rgb(133,133,133)"/>
<circle cx="202.8" cy="392.7" r="0.9" fill="rgb(124,124,124)"/>
<circle cx="214.9" cy="397.9" r="0.9" fill="rgb(153,153,153)"/>
<circle cx="215.9" cy="396" r="0.8" fill="rgb(142,142,142)"/>
<circle cx="249.3" cy="397.9" r="0.8" fill="rgb(140,140,140)"/>
<circle cx="218.4" cy="393.6" r="0.5" fill="rgb(179,179,179)"/>
<circle cx="200.4" cy="391.4" r="0.7" fill="rgb(140,140,140)"/>
<circle cx="281.5" cy="396.4" r="0.6" fill="rgb(177,177,177)"/>
<circle cx="291.7" cy="392.9" r="0.5" fill="rgb(179,179,179)"/>
<circle cx="283.4" cy="388.5" r="0.9" fill="rgb(177,177,177)"/>
<circle cx="198.5" cy="396.8" r="0.7" fill="rgb(168,168,168)"/>
<circle cx="268.4" cy="389.4" r="0.7" fill="rgb(123,123,123)"/>
<circle cx="211.8" cy="395" r="0.8" fill="rgb(143,143,143)"/>
<circle cx="229.3" cy="390.7" r="0.8" fill="rgb(173,173,173)"/>
<circle cx="247.6" cy="389.3" r="0.6" fill="rgb(123,123,123)"/>
<circle cx="264.6" cy="389.3" r="0.8" fill="rgb(157,157,157)"/>
<circle cx="278.7" cy="398.8" r="0.9" fill="rgb(164,164,164)"/>
<circle cx="292.6" cy="398.9" r="0.6" fill="rgb(155,155,155)"/>
<circle cx="228.7" cy="389.3" r="0.9" fill="rgb(148,148,148)"/>
<circle cx="206.6" cy="392.2" r="0.6" fill="rgb(127,127,127)"/>
<circle cx="232.9" cy="396.3" r="0.8" fill="rgb(161,161,161)"/>
<circle cx="223.7" cy="393.4" r="0.7" fill="rgb(164,164,164)"/>
<circle cx="301.5" cy="392.6" r="0.9" fill="rgb(152,152,152)"/>
<circle cx="250.9" cy="393.1" r="0.6" fill="rgb(160,160,160)"/>
<circle cx="273.3" cy="397.5" r="0.7" fill="rgb(157,157,157)"/>
<circle cx="235.3" cy="393.7" r="0.6" fill="rgb(133,133,133)"/>
<circle cx="215.5" cy="394.5" r="1" fill="rgb(122,122,122)"/>
<circle cx="250.8" cy="391.5" r="0.9" fill="rgb(154,154,154)"/>
<circle cx="221.1" cy="389.6" r="0.6" fill="rgb(170,170,170)"/>
<circle cx="210.3" cy="398.4" r="0.9" fill="rgb(137,137,137)"/>
<circle cx="257.7" cy="394.6" r="0.8" fill="rgb(157,157,157)"/>
<circle cx="280.7" cy="397.3" r="0.8" fill="rgb(147,147,147)"/>
<circle cx="240.3" cy="395.2" r="0.8" fill="rgb(170,170,170)"/>
<circle cx="298.2" cy="391.5" r="0.6" fill="rgb(157,157,157)"/>
<circle cx="190.2" cy="396.5" r="0.9" fill="rgb(155,155,155)"/>
<circle cx="248.8" cy="396.9" r="1" fill="rgb(153,153,153)"/>
<circle cx="242.2" cy="395.7" r="0.8" fill="rgb(168,168,168)"/>
<circle cx="293.4" cy="397.2" r="0.7" fill="rgb(157,157,157)"/>
<circle cx="270.6" cy="397.3" r="0.5" fill="rgb(176,176,176)"/>
<circle cx="280.2" cy="396" r="0.7" fill="rgb(177,177,177)"/>
<circle cx="290.6" cy="398.7" r="0.9" fill="rgb(177,177,177)"/>
<circle cx="287.2" cy="397.8" r="0.6" fill="rgb(145,145,145)"/>
<circle cx="190.8" cy="389.4" r="1" fill="rgb(142,142,142)"/>
<circle cx="195" cy="398.5" r="0.9" fill="rgb(140,140,140)"/>
<circle cx="285.4" cy="389.1" r="0.5" fill="rgb(151,151,151)"/>
<circle cx="270.1" cy="392.9" r="0.8" fill="rgb(144,144,144)"/>
<circle cx="240.5" cy="398.3" r="0.8" fill="rgb(123,123,123)"/>
<circle cx="263.4" cy="398.2" r="0.9" fill="rgb(136,136,136)"/>
<circle cx="234.4" cy="390.4" r="0.6" fill="rgb(142,142,142)"/>
<circle cx="201.3" cy="398.6" r="0.9" fill="rgb(148,148,148)"/>
<circle cx="275.3" cy="394.1" r="0.9" fill="rgb(148,148,148)"/>
<circle cx="199.2" cy="389" r="0.5" fill="rgb(148,148,148)"/>
<circle cx="303.6" cy="398.9" r="0.6" fill="rgb(165,165,165)"/>
<circle cx="189.7" cy="397.7" r="0.8" fill="rgb(120,120,120)"/>
<circle cx="192.8" cy="393.4" r="0.8" fill="rgb(135,135,135)"/>
<circle cx="229.4" cy="393.2" r="0.7" fill="rgb(143,143,143)"/>
<circle cx="201.6" cy="391.3" r="0.9" fill="rgb(151,151,151)"/>
<circle cx="203.3" cy="390.8" r="0.6" fill="rgb(151,151,151)"/>
<circle cx="274.5" cy="389.2" r="0.5" fill="rgb(166,166,166)"/>
<circle cx="270.1" cy="395.1" r="0.9" fill="rgb(146,146,146)"/>
<rect x="186.9" y="399" width="117.3" height="19.6" fill="#888"/>
</g>
<text x="191.5" y="362" font-size="11.8" font-weight="bold" fill="#fff">DO-SnO<tspan font-size="7.8" dy="2.5">2</tspan></text>
<rect x="263.5" y="412.6" width="36.1" height="2.7" fill="#fff"/>
<text x="281.9" y="406.5" font-size="11.8" font-weight="bold" fill="#fff" text-anchor="middle">2 μm</text>
<circle cx="296.7" cy="382.5" r="3.7" fill="none" stroke="#f01010" stroke-width="1.3" stroke-dasharray="2.2,1.3"/>
<path d="M41.2,55 L83.3,55 C75,64 68.6,73 68.6,81.5 C68.6,89 75,97 80.5,104.8 L45.5,104.8 C50.5,97 55.2,89 55.2,81.5 C55.2,73 47,63 41.2,55 Z" fill="url(#gl)"/>
<path d="M122.3,54.7 L171.4,54.7 L184,106 L105.3,106 Z" fill="url(#gr)"/>
<rect x="48" y="23.2" width="125.3" height="18.6" fill="#3a3a3a"/>
<path d="M48,13.6 L38.2,23.2 L49.8,24.4 Z" fill="#686868"/>
<path d="M48,13.6 L57.8,23.2 L49.8,24.4 Z" fill="#4e4e4e"/>
<path d="M38.2,23.2 L48,32.8 L49.8,24.4 Z" fill="#424242"/>
<path d="M57.8,23.2 L48,32.8 L49.8,24.4 Z" fill="#303030"/>
<path d="M65.9,13.6 L56.1,23.2 L67.7,24.4 Z" fill="#686868"/>
<path d="M65.9,13.6 L75.7,23.2 L67.7,24.4 Z" fill="#4e4e4e"/>
<path d="M56.1,23.2 L65.9,32.8 L67.7,24.4 Z" fill="#424242"/>
<path d="M75.7,23.2 L65.9,32.8 L67.7,24.4 Z" fill="#303030"/>
<path d="M83.8,13.6 L74,23.2 L85.6,24.4 Z" fill="#686868"/>
<path d="M83.8,13.6 L93.6,23.2 L85.6,24.4 Z" fill="#4e4e4e"/>
<path d="M74,23.2 L83.8,32.8 L85.6,24.4 Z" fill="#424242"/>
<path d="M93.6,23.2 L83.8,32.8 L85.6,24.4 Z" fill="#303030"/>
<path d="M101.7,13.6 L91.9,23.2 L103.5,24.4 Z" fill="#686868"/>
<path d="M101.7,13.6 L111.5,23.2 L103.5,24.4 Z" fill="#4e4e4e"/>
<path d="M91.9,23.2 L101.7,32.8 L103.5,24.4 Z" fill="#424242"/>
<path d="M111.5,23.2 L101.7,32.8 L103.5,24.4 Z" fill="#303030"/>
<path d="M119.6,13.6 L109.8,23.2 L121.4,24.4 Z" fill="#686868"/>
<path d="M119.6,13.6 L129.4,23.2 L121.4,24.4 Z" fill="#4e4e4e"/>
<path d="M109.8,23.2 L119.6,32.8 L121.4,24.4 Z" fill="#424242"/>
<path d="M129.4,23.2 L119.6,32.8 L121.4,24.4 Z" fill="#303030"/>
<path d="M137.5,13.6 L127.7,23.2 L139.3,24.4 Z" fill="#686868"/>
<path d="M137.5,13.6 L147.3,23.2 L139.3,24.4 Z" fill="#4e4e4e"/>
<path d="M127.7,23.2 L137.5,32.8 L139.3,24.4 Z" fill="#424242"/>
<path d="M147.3,23.2 L137.5,32.8 L139.3,24.4 Z" fill="#303030"/>
<path d="M155.4,13.6 L145.6,23.2 L157.2,24.4 Z" fill="#686868"/>
<path d="M155.4,13.6 L165.2,23.2 L157.2,24.4 Z" fill="#4e4e4e"/>
<path d="M145.6,23.2 L155.4,32.8 L157.2,24.4 Z" fill="#424242"/>
<path d="M165.2,23.2 L155.4,32.8 L157.2,24.4 Z" fill="#303030"/>
<path d="M173.3,13.6 L163.5,23.2 L175.1,24.4 Z" fill="#686868"/>
<path d="M173.3,13.6 L183.1,23.2 L175.1,24.4 Z" fill="#4e4e4e"/>
<path d="M163.5,23.2 L173.3,32.8 L175.1,24.4 Z" fill="#424242"/>
<path d="M183.1,23.2 L173.3,32.8 L175.1,24.4 Z" fill="#303030"/>
<path d="M48,32.2 L38.2,41.8 L49.8,43 Z" fill="#686868"/>
<path d="M48,32.2 L57.8,41.8 L49.8,43 Z" fill="#4e4e4e"/>
<path d="M38.2,41.8 L48,51.4 L49.8,43 Z" fill="#424242"/>
<path d="M57.8,41.8 L48,51.4 L49.8,43 Z" fill="#303030"/>
<path d="M65.9,32.2 L56.1,41.8 L67.7,43 Z" fill="#686868"/>
<path d="M65.9,32.2 L75.7,41.8 L67.7,43 Z" fill="#4e4e4e"/>
<path d="M56.1,41.8 L65.9,51.4 L67.7,43 Z" fill="#424242"/>
<path d="M75.7,41.8 L65.9,51.4 L67.7,43 Z" fill="#303030"/>
<path d="M83.8,32.2 L74,41.8 L85.6,43 Z" fill="#686868"/>
<path d="M83.8,32.2 L93.6,41.8 L85.6,43 Z" fill="#4e4e4e"/>
<path d="M74,41.8 L83.8,51.4 L85.6,43 Z" fill="#424242"/>
<path d="M93.6,41.8 L83.8,51.4 L85.6,43 Z" fill="#303030"/>
<path d="M101.7,32.2 L91.9,41.8 L103.5,43 Z" fill="#686868"/>
<path d="M101.7,32.2 L111.5,41.8 L103.5,43 Z" fill="#4e4e4e"/>
<path d="M91.9,41.8 L101.7,51.4 L103.5,43 Z" fill="#424242"/>
<path d="M111.5,41.8 L101.7,51.4 L103.5,43 Z" fill="#303030"/>
<path d="M119.6,32.2 L109.8,41.8 L121.4,43 Z" fill="#686868"/>
<path d="M119.6,32.2 L129.4,41.8 L121.4,43 Z" fill="#4e4e4e"/>
<path d="M109.8,41.8 L119.6,51.4 L121.4,43 Z" fill="#424242"/>
<path d="M129.4,41.8 L119.6,51.4 L121.4,43 Z" fill="#303030"/>
<path d="M137.5,32.2 L127.7,41.8 L139.3,43 Z" fill="#686868"/>
<path d="M137.5,32.2 L147.3,41.8 L139.3,43 Z" fill="#4e4e4e"/>
<path d="M127.7,41.8 L137.5,51.4 L139.3,43 Z" fill="#424242"/>
<path d="M147.3,41.8 L137.5,51.4 L139.3,43 Z" fill="#303030"/>
<path d="M155.4,32.2 L145.6,41.8 L157.2,43 Z" fill="#686868"/>
<path d="M155.4,32.2 L165.2,41.8 L157.2,43 Z" fill="#4e4e4e"/>
<path d="M145.6,41.8 L155.4,51.4 L157.2,43 Z" fill="#424242"/>
<path d="M165.2,41.8 L155.4,51.4 L157.2,43 Z" fill="#303030"/>
<path d="M173.3,32.2 L163.5,41.8 L175.1,43 Z" fill="#686868"/>
<path d="M173.3,32.2 L183.1,41.8 L175.1,43 Z" fill="#4e4e4e"/>
<path d="M163.5,41.8 L173.3,51.4 L175.1,43 Z" fill="#424242"/>
<path d="M183.1,41.8 L173.3,51.4 L175.1,43 Z" fill="#303030"/>
<path d="M56.95,26.5 L62.35,32.5 L56.95,38.5 L51.55,32.5 Z" fill="#fff"/>
<path d="M74.85,26.5 L80.25,32.5 L74.85,38.5 L69.45,32.5 Z" fill="#fff"/>
<path d="M92.75,26.5 L98.15,32.5 L92.75,38.5 L87.35,32.5 Z" fill="#fff"/>
<path d="M110.65,26.5 L116.05,32.5 L110.65,38.5 L105.25,32.5 Z" fill="#fff"/>
<path d="M128.55,26.5 L133.95,32.5 L128.55,38.5 L123.15,32.5 Z" fill="#fff"/>
<path d="M146.45,26.5 L151.85,32.5 L146.45,38.5 L141.05,32.5 Z" fill="#fff"/>
<path d="M164.35,26.5 L169.75,32.5 L164.35,38.5 L158.95,32.5 Z" fill="#fff"/>
<circle cx="48" cy="13.6" r="1.45" fill="url(#ball_t)"/>
<circle cx="38.2" cy="23.2" r="1.45" fill="url(#ball_t)"/>
<circle cx="57.8" cy="23.2" r="1.45" fill="url(#ball_t)"/>
<circle cx="48" cy="32.8" r="1.45" fill="url(#ball_t)"/>
<circle cx="50.9" cy="18.6" r="1.45" fill="url(#ball_t)"/>
<circle cx="45.2" cy="27.8" r="1.45" fill="url(#ball_t)"/>
<circle cx="65.9" cy="13.6" r="1.45" fill="url(#ball_t)"/>
<circle cx="56.1" cy="23.2" r="1.45" fill="url(#ball_t)"/>
<circle cx="75.7" cy="23.2" r="1.45" fill="url(#ball_t)"/>
<circle cx="65.9" cy="32.8" r="1.45" fill="url(#ball_t)"/>
<circle cx="68.8" cy="18.6" r="1.45" fill="url(#ball_t)"/>
<circle cx="63.1" cy="27.8" r="1.45" fill="url(#ball_t)"/>
<circle cx="83.8" cy="13.6" r="1.45" fill="url(#ball_t)"/>
<circle cx="74" cy="23.2" r="1.45" fill="url(#ball_t)"/>
<circle cx="93.6" cy="23.2" r="1.45" fill="url(#ball_t)"/>
<circle cx="83.8" cy="32.8" r="1.45" fill="url(#ball_t)"/>
<circle cx="86.7" cy="18.6" r="1.45" fill="url(#ball_t)"/>
<circle cx="81" cy="27.8" r="1.45" fill="url(#ball_t)"/>
<circle cx="101.7" cy="13.6" r="1.45" fill="url(#ball_t)"/>
<circle cx="91.9" cy="23.2" r="1.45" fill="url(#ball_t)"/>
<circle cx="111.5" cy="23.2" r="1.45" fill="url(#ball_t)"/>
<circle cx="101.7" cy="32.8" r="1.45" fill="url(#ball_t)"/>
<circle cx="104.6" cy="18.6" r="1.45" fill="url(#ball_t)"/>
<circle cx="98.9" cy="27.8" r="1.45" fill="url(#ball_t)"/>
<circle cx="119.6" cy="13.6" r="1.45" fill="url(#ball_t)"/>
<circle cx="109.8" cy="23.2" r="1.45" fill="url(#ball_t)"/>
<circle cx="129.4" cy="23.2" r="1.45" fill="url(#ball_t)"/>
<circle cx="119.6" cy="32.8" r="1.45" fill="url(#ball_t)"/>
<circle cx="122.5" cy="18.6" r="1.45" fill="url(#ball_t)"/>
<circle cx="116.8" cy="27.8" r="1.45" fill="url(#ball_t)"/>
<circle cx="137.5" cy="13.6" r="1.45" fill="url(#ball_t)"/>
<circle cx="127.7" cy="23.2" r="1.45" fill="url(#ball_t)"/>
<circle cx="147.3" cy="23.2" r="1.45" fill="url(#ball_t)"/>
<circle cx="137.5" cy="32.8" r="1.45" fill="url(#ball_t)"/>
<circle cx="140.4" cy="18.6" r="1.45" fill="url(#ball_t)"/>
<circle cx="134.7" cy="27.8" r="1.45" fill="url(#ball_t)"/>
<circle cx="155.4" cy="13.6" r="1.45" fill="url(#ball_t)"/>
<circle cx="145.6" cy="23.2" r="1.45" fill="url(#ball_t)"/>
<circle cx="165.2" cy="23.2" r="1.45" fill="url(#ball_t)"/>
<circle cx="155.4" cy="32.8" r="1.45" fill="url(#ball_t)"/>
<circle cx="158.3" cy="18.6" r="1.45" fill="url(#ball_t)"/>
<circle cx="152.6" cy="27.8" r="1.45" fill="url(#ball_t)"/>
<circle cx="173.3" cy="13.6" r="1.45" fill="url(#ball_t)"/>
<circle cx="163.5" cy="23.2" r="1.45" fill="url(#ball_t)"/>
<circle cx="183.1" cy="23.2" r="1.45" fill="url(#ball_t)"/>
<circle cx="173.3" cy="32.8" r="1.45" fill="url(#ball_t)"/>
<circle cx="176.2" cy="18.6" r="1.45" fill="url(#ball_t)"/>
<circle cx="170.5" cy="27.8" r="1.45" fill="url(#ball_t)"/>
<circle cx="48" cy="32.2" r="1.45" fill="url(#ball_t)"/>
<circle cx="38.2" cy="41.8" r="1.45" fill="url(#ball_t)"/>
<circle cx="57.8" cy="41.8" r="1.45" fill="url(#ball_t)"/>
<circle cx="48" cy="51.4" r="1.45" fill="url(#ball_t)"/>
<circle cx="50.9" cy="37.2" r="1.45" fill="url(#ball_t)"/>
<circle cx="45.2" cy="46.4" r="1.45" fill="url(#ball_t)"/>
<circle cx="65.9" cy="32.2" r="1.45" fill="url(#ball_t)"/>
<circle cx="56.1" cy="41.8" r="1.45" fill="url(#ball_t)"/>
<circle cx="75.7" cy="41.8" r="1.45" fill="url(#ball_t)"/>
<circle cx="65.9" cy="51.4" r="1.45" fill="url(#ball_t)"/>
<circle cx="68.8" cy="37.2" r="1.45" fill="url(#ball_t)"/>
<circle cx="63.1" cy="46.4" r="1.45" fill="url(#ball_t)"/>
<circle cx="83.8" cy="32.2" r="1.45" fill="url(#ball_t)"/>
<circle cx="74" cy="41.8" r="1.45" fill="url(#ball_t)"/>
<circle cx="93.6" cy="41.8" r="1.45" fill="url(#ball_t)"/>
<circle cx="83.8" cy="51.4" r="1.45" fill="url(#ball_t)"/>
<circle cx="86.7" cy="37.2" r="1.45" fill="url(#ball_t)"/>
<circle cx="81" cy="46.4" r="1.45" fill="url(#ball_t)"/>
<circle cx="101.7" cy="32.2" r="1.45" fill="url(#ball_t)"/>
<circle cx="91.9" cy="41.8" r="1.45" fill="url(#ball_t)"/>
<circle cx="111.5" cy="41.8" r="1.45" fill="url(#ball_t)"/>
<circle cx="101.7" cy="51.4" r="1.45" fill="url(#ball_t)"/>
<circle cx="104.6" cy="37.2" r="1.45" fill="url(#ball_t)"/>
<circle cx="98.9" cy="46.4" r="1.45" fill="url(#ball_t)"/>
<circle cx="119.6" cy="32.2" r="1.45" fill="url(#ball_t)"/>
<circle cx="109.8" cy="41.8" r="1.45" fill="url(#ball_t)"/>
<circle cx="129.4" cy="41.8" r="1.45" fill="url(#ball_t)"/>
<circle cx="119.6" cy="51.4" r="1.45" fill="url(#ball_t)"/>
<circle cx="122.5" cy="37.2" r="1.45" fill="url(#ball_t)"/>
<circle cx="116.8" cy="46.4" r="1.45" fill="url(#ball_t)"/>
<circle cx="137.5" cy="32.2" r="1.45" fill="url(#ball_t)"/>
<circle cx="127.7" cy="41.8" r="1.45" fill="url(#ball_t)"/>
<circle cx="147.3" cy="41.8" r="1.45" fill="url(#ball_t)"/>
<circle cx="137.5" cy="51.4" r="1.45" fill="url(#ball_t)"/>
<circle cx="140.4" cy="37.2" r="1.45" fill="url(#ball_t)"/>
<circle cx="134.7" cy="46.4" r="1.45" fill="url(#ball_t)"/>
<circle cx="155.4" cy="32.2" r="1.45" fill="url(#ball_t)"/>
<circle cx="145.6" cy="41.8" r="1.45" fill="url(#ball_t)"/>
<circle cx="165.2" cy="41.8" r="1.45" fill="url(#ball_t)"/>
<circle cx="155.4" cy="51.4" r="1.45" fill="url(#ball_t)"/>
<circle cx="158.3" cy="37.2" r="1.45" fill="url(#ball_t)"/>
<circle cx="152.6" cy="46.4" r="1.45" fill="url(#ball_t)"/>
<circle cx="173.3" cy="32.2" r="1.45" fill="url(#ball_t)"/>
<circle cx="163.5" cy="41.8" r="1.45" fill="url(#ball_t)"/>
<circle cx="183.1" cy="41.8" r="1.45" fill="url(#ball_t)"/>
<circle cx="173.3" cy="51.4" r="1.45" fill="url(#ball_t)"/>
<circle cx="176.2" cy="37.2" r="1.45" fill="url(#ball_t)"/>
<circle cx="170.5" cy="46.4" r="1.45" fill="url(#ball_t)"/>
<circle cx="51.55" cy="32.5" r="1.3" fill="url(#ball_t)"/>
<circle cx="62.35" cy="32.5" r="1.3" fill="url(#ball_t)"/>
<circle cx="69.45" cy="32.5" r="1.3" fill="url(#ball_t)"/>
<circle cx="80.25" cy="32.5" r="1.3" fill="url(#ball_t)"/>
<circle cx="87.35" cy="32.5" r="1.3" fill="url(#ball_t)"/>
<circle cx="98.15" cy="32.5" r="1.3" fill="url(#ball_t)"/>
<circle cx="105.25" cy="32.5" r="1.3" fill="url(#ball_t)"/>
<circle cx="116.05" cy="32.5" r="1.3" fill="url(#ball_t)"/>
<circle cx="123.15" cy="32.5" r="1.3" fill="url(#ball_t)"/>
<circle cx="133.95" cy="32.5" r="1.3" fill="url(#ball_t)"/>
<circle cx="141.05" cy="32.5" r="1.3" fill="url(#ball_t)"/>
<circle cx="151.85" cy="32.5" r="1.3" fill="url(#ball_t)"/>
<circle cx="158.95" cy="32.5" r="1.3" fill="url(#ball_t)"/>
<circle cx="169.75" cy="32.5" r="1.3" fill="url(#ball_t)"/>
<circle cx="57.6" cy="32.6" r="2.4" fill="#fde7cf" stroke="#e37b1e" stroke-width="1.5"/>
<circle cx="93.6" cy="32.6" r="2.4" fill="#fde7cf" stroke="#e37b1e" stroke-width="1.5"/>
<circle cx="129.4" cy="32.6" r="2.4" fill="#fde7cf" stroke="#e37b1e" stroke-width="1.5"/>
<circle cx="165.4" cy="32.6" r="2.4" fill="#fde7cf" stroke="#e37b1e" stroke-width="1.5"/>
<circle cx="49.6" cy="53" r="1.5" fill="#fff" stroke="#e83a3a" stroke-width="0.8"/>
<circle cx="103.4" cy="53" r="1.5" fill="#fff" stroke="#e83a3a" stroke-width="0.8"/>
<circle cx="157.3" cy="53" r="1.5" fill="#fff" stroke="#e83a3a" stroke-width="0.8"/>
<line x1="38" y1="116.7" x2="190" y2="116.7" stroke="#f0dc3c" stroke-width="1"/>
<polygon points="50.5,118.2 56.5,123.4 50.5,128.7 44.5,123.4" fill="#fff" stroke="#f2e270" stroke-width="0.9" stroke-linejoin="round"/>
<polygon points="63.2,118.2 69.2,123.4 63.2,128.7 57.2,123.4" fill="#fff" stroke="#f2e270" stroke-width="0.9" stroke-linejoin="round"/>
<polygon points="75.9,118.2 81.9,123.4 75.9,128.7 69.9,123.4" fill="#fff" stroke="#f2e270" stroke-width="0.9" stroke-linejoin="round"/>
<polygon points="88.6,118.2 94.6,123.4 88.6,128.7 82.6,123.4" fill="#fff" stroke="#f2e270" stroke-width="0.9" stroke-linejoin="round"/>
<polygon points="101.3,118.2 107.3,123.4 101.3,128.7 95.3,123.4" fill="#fff" stroke="#f2e270" stroke-width="0.9" stroke-linejoin="round"/>
<polygon points="114,118.2 120,123.4 114,128.7 108,123.4" fill="#fff" stroke="#f2e270" stroke-width="0.9" stroke-linejoin="round"/>
<polygon points="126.7,118.2 132.8,123.4 126.7,128.7 120.7,123.4" fill="#fff" stroke="#f2e270" stroke-width="0.9" stroke-linejoin="round"/>
<polygon points="139.4,118.2 145.4,123.4 139.4,128.7 133.4,123.4" fill="#fff" stroke="#f2e270" stroke-width="0.9" stroke-linejoin="round"/>
<polygon points="152.1,118.2 158.1,123.4 152.1,128.7 146.1,123.4" fill="#fff" stroke="#f2e270" stroke-width="0.9" stroke-linejoin="round"/>
<polygon points="164.8,118.2 170.8,123.4 164.8,128.7 158.8,123.4" fill="#fff" stroke="#f2e270" stroke-width="0.9" stroke-linejoin="round"/>
<polygon points="177.6,118.2 183.6,123.4 177.6,128.7 171.6,123.4" fill="#fff" stroke="#f2e270" stroke-width="0.9" stroke-linejoin="round"/>
<circle cx="44.2" cy="121.75" r="1" fill="#f08a20"/>
<circle cx="44.2" cy="125.15" r="1.05" fill="#e01010"/>
<circle cx="56.9" cy="121.75" r="1" fill="#f08a20"/>
<circle cx="56.9" cy="125.15" r="1.05" fill="#e01010"/>
<circle cx="69.6" cy="121.75" r="1" fill="#f08a20"/>
<circle cx="69.6" cy="125.15" r="1.05" fill="#e01010"/>
<circle cx="82.3" cy="121.75" r="1" fill="#f08a20"/>
<circle cx="82.3" cy="125.15" r="1.05" fill="#e01010"/>
<circle cx="95" cy="121.75" r="1" fill="#f08a20"/>
<circle cx="95" cy="125.15" r="1.05" fill="#e01010"/>
<circle cx="107.7" cy="121.75" r="1" fill="#f08a20"/>
<circle cx="107.7" cy="125.15" r="1.05" fill="#e01010"/>
<circle cx="120.4" cy="121.75" r="1" fill="#f08a20"/>
<circle cx="120.4" cy="125.15" r="1.05" fill="#e01010"/>
<circle cx="133.1" cy="121.75" r="1" fill="#f08a20"/>
<circle cx="133.1" cy="125.15" r="1.05" fill="#e01010"/>
<circle cx="145.8" cy="121.75" r="1" fill="#f08a20"/>
<circle cx="145.8" cy="125.15" r="1.05" fill="#e01010"/>
<circle cx="158.5" cy="121.75" r="1" fill="#f08a20"/>
<circle cx="158.5" cy="125.15" r="1.05" fill="#e01010"/>
<circle cx="171.2" cy="121.75" r="1" fill="#f08a20"/>
<circle cx="171.2" cy="125.15" r="1.05" fill="#e01010"/>
<circle cx="183.9" cy="121.75" r="1" fill="#f08a20"/>
<circle cx="183.9" cy="125.15" r="1.05" fill="#e01010"/>
<line x1="38" y1="130.2" x2="190" y2="130.2" stroke="#f0dc3c" stroke-width="1"/>
<polygon points="50.5,131.7 56.5,136.9 50.5,142.2 44.5,136.9" fill="#fff" stroke="#f2e270" stroke-width="0.9" stroke-linejoin="round"/>
<polygon points="63.2,131.7 69.2,136.9 63.2,142.2 57.2,136.9" fill="#fff" stroke="#f2e270" stroke-width="0.9" stroke-linejoin="round"/>
<polygon points="75.9,131.7 81.9,136.9 75.9,142.2 69.9,136.9" fill="#fff" stroke="#f2e270" stroke-width="0.9" stroke-linejoin="round"/>
<polygon points="88.6,131.7 94.6,136.9 88.6,142.2 82.6,136.9" fill="#fff" stroke="#f2e270" stroke-width="0.9" stroke-linejoin="round"/>
<polygon points="101.3,131.7 107.3,136.9 101.3,142.2 95.3,136.9" fill="#fff" stroke="#f2e270" stroke-width="0.9" stroke-linejoin="round"/>
<polygon points="114,131.7 120,136.9 114,142.2 108,136.9" fill="#fff" stroke="#f2e270" stroke-width="0.9" stroke-linejoin="round"/>
<polygon points="126.7,131.7 132.8,136.9 126.7,142.2 120.7,136.9" fill="#fff" stroke="#f2e270" stroke-width="0.9" stroke-linejoin="round"/>
<polygon points="139.4,131.7 145.4,136.9 139.4,142.2 133.4,136.9" fill="#fff" stroke="#f2e270" stroke-width="0.9" stroke-linejoin="round"/>
<polygon points="152.1,131.7 158.1,136.9 152.1,142.2 146.1,136.9" fill="#fff" stroke="#f2e270" stroke-width="0.9" stroke-linejoin="round"/>
<polygon points="164.8,131.7 170.8,136.9 164.8,142.2 158.8,136.9" fill="#fff" stroke="#f2e270" stroke-width="0.9" stroke-linejoin="round"/>
<polygon points="177.6,131.7 183.6,136.9 177.6,142.2 171.6,136.9" fill="#fff" stroke="#f2e270" stroke-width="0.9" stroke-linejoin="round"/>
<circle cx="44.2" cy="135.25" r="1" fill="#f08a20"/>
<circle cx="44.2" cy="138.65" r="1.05" fill="#e01010"/>
<circle cx="56.9" cy="135.25" r="1" fill="#f08a20"/>
<circle cx="56.9" cy="138.65" r="1.05" fill="#e01010"/>
<circle cx="69.6" cy="135.25" r="1" fill="#f08a20"/>
<circle cx="69.6" cy="138.65" r="1.05" fill="#e01010"/>
<circle cx="82.3" cy="135.25" r="1" fill="#f08a20"/>
<circle cx="82.3" cy="138.65" r="1.05" fill="#e01010"/>
<circle cx="95" cy="135.25" r="1" fill="#f08a20"/>
<circle cx="95" cy="138.65" r="1.05" fill="#e01010"/>
<circle cx="107.7" cy="135.25" r="1" fill="#f08a20"/>
<circle cx="107.7" cy="138.65" r="1.05" fill="#e01010"/>
<circle cx="120.4" cy="135.25" r="1" fill="#f08a20"/>
<circle cx="120.4" cy="138.65" r="1.05" fill="#e01010"/>
<circle cx="133.1" cy="135.25" r="1" fill="#f08a20"/>
<circle cx="133.1" cy="138.65" r="1.05" fill="#e01010"/>
<circle cx="145.8" cy="135.25" r="1" fill="#f08a20"/>
<circle cx="145.8" cy="138.65" r="1.05" fill="#e01010"/>
<circle cx="158.5" cy="135.25" r="1" fill="#f08a20"/>
<circle cx="158.5" cy="138.65" r="1.05" fill="#e01010"/>
<circle cx="171.2" cy="135.25" r="1" fill="#f08a20"/>
<circle cx="171.2" cy="138.65" r="1.05" fill="#e01010"/>
<circle cx="183.9" cy="135.25" r="1" fill="#f08a20"/>
<circle cx="183.9" cy="138.65" r="1.05" fill="#e01010"/>
<line x1="38" y1="143.7" x2="190" y2="143.7" stroke="#f0dc3c" stroke-width="1"/>
<line x1="44.2" y1="109" x2="44.2" y2="116" stroke="#f0dc3c" stroke-width="1"/>
<circle cx="44.2" cy="112.3" r="0.9" fill="#f08a20"/>
<line x1="56.9" y1="109" x2="56.9" y2="116" stroke="#f0dc3c" stroke-width="1"/>
<circle cx="56.9" cy="112.3" r="0.9" fill="#f08a20"/>
<line x1="69.6" y1="109" x2="69.6" y2="116" stroke="#f0dc3c" stroke-width="1"/>
<circle cx="69.6" cy="112.3" r="0.9" fill="#f08a20"/>
<line x1="82.3" y1="109" x2="82.3" y2="116" stroke="#f0dc3c" stroke-width="1"/>
<circle cx="82.3" cy="112.3" r="0.9" fill="#f08a20"/>
<line x1="95" y1="109" x2="95" y2="116" stroke="#f0dc3c" stroke-width="1"/>
<circle cx="95" cy="112.3" r="0.9" fill="#f08a20"/>
<line x1="107.7" y1="109" x2="107.7" y2="116" stroke="#f0dc3c" stroke-width="1"/>
<circle cx="107.7" cy="112.3" r="0.9" fill="#f08a20"/>
<line x1="120.4" y1="109" x2="120.4" y2="116" stroke="#f0dc3c" stroke-width="1"/>
<circle cx="120.4" cy="112.3" r="0.9" fill="#f08a20"/>
<line x1="133.1" y1="109" x2="133.1" y2="116" stroke="#f0dc3c" stroke-width="1"/>
<circle cx="133.1" cy="112.3" r="0.9" fill="#f08a20"/>
<line x1="145.8" y1="109" x2="145.8" y2="116" stroke="#f0dc3c" stroke-width="1"/>
<circle cx="145.8" cy="112.3" r="0.9" fill="#f08a20"/>
<line x1="158.5" y1="109" x2="158.5" y2="116" stroke="#f0dc3c" stroke-width="1"/>
<circle cx="158.5" cy="112.3" r="0.9" fill="#f08a20"/>
<line x1="171.2" y1="109" x2="171.2" y2="116" stroke="#f0dc3c" stroke-width="1"/>
<circle cx="171.2" cy="112.3" r="0.9" fill="#f08a20"/>
<line x1="183.9" y1="109" x2="183.9" y2="116" stroke="#f0dc3c" stroke-width="1"/>
<circle cx="183.9" cy="112.3" r="0.9" fill="#f08a20"/>
<circle cx="44.2" cy="116.7" r="2.6" fill="url(#ball_c)"/>
<circle cx="50.55" cy="116.7" r="2.6" fill="url(#ball_c)"/>
<circle cx="50.55" cy="118" r="1.15" fill="#e01010"/>
<circle cx="56.9" cy="116.7" r="2.6" fill="url(#ball_c)"/>
<circle cx="63.25" cy="116.7" r="2.6" fill="url(#ball_c)"/>
<circle cx="63.25" cy="118" r="1.15" fill="#e01010"/>
<circle cx="69.6" cy="116.7" r="2.6" fill="url(#ball_c)"/>
<circle cx="75.95" cy="116.7" r="2.6" fill="url(#ball_c)"/>
<circle cx="75.95" cy="118" r="1.15" fill="#e01010"/>
<circle cx="82.3" cy="116.7" r="2.6" fill="url(#ball_c)"/>
<circle cx="88.65" cy="116.7" r="2.6" fill="url(#ball_c)"/>
<circle cx="88.65" cy="118" r="1.15" fill="#e01010"/>
<circle cx="95" cy="116.7" r="2.6" fill="url(#ball_c)"/>
<circle cx="101.35" cy="116.7" r="2.6" fill="url(#ball_c)"/>
<circle cx="101.35" cy="118" r="1.15" fill="#e01010"/>
<circle cx="107.7" cy="116.7" r="2.6" fill="url(#ball_c)"/>
<circle cx="114.05" cy="116.7" r="2.6" fill="url(#ball_c)"/>
<circle cx="114.05" cy="118" r="1.15" fill="#e01010"/>
<circle cx="120.4" cy="116.7" r="2.6" fill="url(#ball_c)"/>
<circle cx="126.75" cy="116.7" r="2.6" fill="url(#ball_c)"/>
<circle cx="126.75" cy="118" r="1.15" fill="#e01010"/>
<circle cx="133.1" cy="116.7" r="2.6" fill="url(#ball_c)"/>
<circle cx="139.45" cy="116.7" r="2.6" fill="url(#ball_c)"/>
<circle cx="139.45" cy="118" r="1.15" fill="#e01010"/>
<circle cx="145.8" cy="116.7" r="2.6" fill="url(#ball_c)"/>
<circle cx="152.15" cy="116.7" r="2.6" fill="url(#ball_c)"/>
<circle cx="152.15" cy="118" r="1.15" fill="#e01010"/>
<circle cx="158.5" cy="116.7" r="2.6" fill="url(#ball_c)"/>
<circle cx="164.85" cy="116.7" r="2.6" fill="url(#ball_c)"/>
<circle cx="164.85" cy="118" r="1.15" fill="#e01010"/>
<circle cx="171.2" cy="116.7" r="2.6" fill="url(#ball_c)"/>
<circle cx="177.55" cy="116.7" r="2.6" fill="url(#ball_c)"/>
<circle cx="177.55" cy="118" r="1.15" fill="#e01010"/>
<circle cx="183.9" cy="116.7" r="2.6" fill="url(#ball_c)"/>
<circle cx="37.8" cy="117.9" r="1" fill="#e01010"/>
<circle cx="190" cy="117.9" r="1" fill="#e01010"/>
<circle cx="44.2" cy="130.2" r="2.6" fill="url(#ball_c)"/>
<circle cx="50.55" cy="130.2" r="2.6" fill="url(#ball_c)"/>
<circle cx="50.55" cy="131.5" r="1.15" fill="#e01010"/>
<circle cx="56.9" cy="130.2" r="2.6" fill="url(#ball_c)"/>
<circle cx="63.25" cy="130.2" r="2.6" fill="url(#ball_c)"/>
<circle cx="63.25" cy="131.5" r="1.15" fill="#e01010"/>
<circle cx="69.6" cy="130.2" r="2.6" fill="url(#ball_c)"/>
<circle cx="75.95" cy="130.2" r="2.6" fill="url(#ball_c)"/>
<circle cx="75.95" cy="131.5" r="1.15" fill="#e01010"/>
<circle cx="82.3" cy="130.2" r="2.6" fill="url(#ball_c)"/>
<circle cx="88.65" cy="130.2" r="2.6" fill="url(#ball_c)"/>
<circle cx="88.65" cy="131.5" r="1.15" fill="#e01010"/>
<circle cx="95" cy="130.2" r="2.6" fill="url(#ball_c)"/>
<circle cx="101.35" cy="130.2" r="2.6" fill="url(#ball_c)"/>
<circle cx="101.35" cy="131.5" r="1.15" fill="#e01010"/>
<circle cx="107.7" cy="130.2" r="2.6" fill="url(#ball_c)"/>
<circle cx="114.05" cy="130.2" r="2.6" fill="url(#ball_c)"/>
<circle cx="114.05" cy="131.5" r="1.15" fill="#e01010"/>
<circle cx="120.4" cy="130.2" r="2.6" fill="url(#ball_c)"/>
<circle cx="126.75" cy="130.2" r="2.6" fill="url(#ball_c)"/>
<circle cx="126.75" cy="131.5" r="1.15" fill="#e01010"/>
<circle cx="133.1" cy="130.2" r="2.6" fill="url(#ball_c)"/>
<circle cx="139.45" cy="130.2" r="2.6" fill="url(#ball_c)"/>
<circle cx="139.45" cy="131.5" r="1.15" fill="#e01010"/>
<circle cx="145.8" cy="130.2" r="2.6" fill="url(#ball_c)"/>
<circle cx="152.15" cy="130.2" r="2.6" fill="url(#ball_c)"/>
<circle cx="152.15" cy="131.5" r="1.15" fill="#e01010"/>
<circle cx="158.5" cy="130.2" r="2.6" fill="url(#ball_c)"/>
<circle cx="164.85" cy="130.2" r="2.6" fill="url(#ball_c)"/>
<circle cx="164.85" cy="131.5" r="1.15" fill="#e01010"/>
<circle cx="171.2" cy="130.2" r="2.6" fill="url(#ball_c)"/>
<circle cx="177.55" cy="130.2" r="2.6" fill="url(#ball_c)"/>
<circle cx="177.55" cy="131.5" r="1.15" fill="#e01010"/>
<circle cx="183.9" cy="130.2" r="2.6" fill="url(#ball_c)"/>
<circle cx="37.8" cy="131.4" r="1" fill="#e01010"/>
<circle cx="190" cy="131.4" r="1" fill="#e01010"/>
<circle cx="44.2" cy="143.7" r="2.6" fill="url(#ball_c)"/>
<circle cx="50.55" cy="143.7" r="2.6" fill="url(#ball_c)"/>
<circle cx="50.55" cy="145" r="1.15" fill="#e01010"/>
<circle cx="56.9" cy="143.7" r="2.6" fill="url(#ball_c)"/>
<circle cx="63.25" cy="143.7" r="2.6" fill="url(#ball_c)"/>
<circle cx="63.25" cy="145" r="1.15" fill="#e01010"/>
<circle cx="69.6" cy="143.7" r="2.6" fill="url(#ball_c)"/>
<circle cx="75.95" cy="143.7" r="2.6" fill="url(#ball_c)"/>
<circle cx="75.95" cy="145" r="1.15" fill="#e01010"/>
<circle cx="82.3" cy="143.7" r="2.6" fill="url(#ball_c)"/>
<circle cx="88.65" cy="143.7" r="2.6" fill="url(#ball_c)"/>
<circle cx="88.65" cy="145" r="1.15" fill="#e01010"/>
<circle cx="95" cy="143.7" r="2.6" fill="url(#ball_c)"/>
<circle cx="101.35" cy="143.7" r="2.6" fill="url(#ball_c)"/>
<circle cx="101.35" cy="145" r="1.15" fill="#e01010"/>
<circle cx="107.7" cy="143.7" r="2.6" fill="url(#ball_c)"/>
<circle cx="114.05" cy="143.7" r="2.6" fill="url(#ball_c)"/>
<circle cx="114.05" cy="145" r="1.15" fill="#e01010"/>
<circle cx="120.4" cy="143.7" r="2.6" fill="url(#ball_c)"/>
<circle cx="126.75" cy="143.7" r="2.6" fill="url(#ball_c)"/>
<circle cx="126.75" cy="145" r="1.15" fill="#e01010"/>
<circle cx="133.1" cy="143.7" r="2.6" fill="url(#ball_c)"/>
<circle cx="139.45" cy="143.7" r="2.6" fill="url(#ball_c)"/>
<circle cx="139.45" cy="145" r="1.15" fill="#e01010"/>
<circle cx="145.8" cy="143.7" r="2.6" fill="url(#ball_c)"/>
<circle cx="152.15" cy="143.7" r="2.6" fill="url(#ball_c)"/>
<circle cx="152.15" cy="145" r="1.15" fill="#e01010"/>
<circle cx="158.5" cy="143.7" r="2.6" fill="url(#ball_c)"/>
<circle cx="164.85" cy="143.7" r="2.6" fill="url(#ball_c)"/>
<circle cx="164.85" cy="145" r="1.15" fill="#e01010"/>
<circle cx="171.2" cy="143.7" r="2.6" fill="url(#ball_c)"/>
<circle cx="177.55" cy="143.7" r="2.6" fill="url(#ball_c)"/>
<circle cx="177.55" cy="145" r="1.15" fill="#e01010"/>
<circle cx="183.9" cy="143.7" r="2.6" fill="url(#ball_c)"/>
<circle cx="37.8" cy="144.9" r="1" fill="#e01010"/>
<circle cx="190" cy="144.9" r="1" fill="#e01010"/>
<circle cx="44.2" cy="108.3" r="1.7" fill="#fff" stroke="#e83a3a" stroke-width="0.85"/>
<circle cx="56.9" cy="108.8" r="1.1" fill="#e01010"/>
<circle cx="69.6" cy="108.3" r="1.7" fill="#fff" stroke="#e83a3a" stroke-width="0.85"/>
<circle cx="82.3" cy="108.8" r="1.1" fill="#e01010"/>
<circle cx="95" cy="108.8" r="1.1" fill="#e01010"/>
<circle cx="107.7" cy="108.3" r="1.7" fill="#fff" stroke="#e83a3a" stroke-width="0.85"/>
<circle cx="120.4" cy="108.8" r="1.1" fill="#e01010"/>
<circle cx="133.1" cy="108.8" r="1.1" fill="#e01010"/>
<circle cx="145.8" cy="108.3" r="1.7" fill="#fff" stroke="#e83a3a" stroke-width="0.85"/>
<circle cx="158.5" cy="108.8" r="1.1" fill="#e01010"/>
<circle cx="171.2" cy="108.8" r="1.1" fill="#e01010"/>
<circle cx="183.9" cy="108.3" r="1.7" fill="#fff" stroke="#e83a3a" stroke-width="0.85"/>
<path d="M122.5,49 L125.6,80 L107.6,106.5" fill="none" stroke="#f01818" stroke-width="1.25" stroke-dasharray="2,1.1"/>
<path d="M157.4,46 L158.2,65 M154.5,99 L145.6,106.5" fill="none" stroke="#3050d8" stroke-width="1" stroke-dasharray="1.6,1"/>
<line x1="108" y1="82.6" x2="114.5" y2="79" stroke="#9a9a9a" stroke-width="1.4"/>
<line x1="114.5" y1="79" x2="118.9" y2="84" stroke="#9a9a9a" stroke-width="1.4"/>
<line x1="118.9" y1="84" x2="125.9" y2="80.9" stroke="#9a9a9a" stroke-width="1.4"/>
<line x1="125.9" y1="80.9" x2="129.8" y2="84.8" stroke="#9a9a9a" stroke-width="1.4"/>
<line x1="129.8" y1="84.8" x2="137.1" y2="81.2" stroke="#9a9a9a" stroke-width="1.4"/>
<line x1="137.1" y1="81.2" x2="141.5" y2="86" stroke="#9a9a9a" stroke-width="1.4"/>
<line x1="108" y1="82.6" x2="106" y2="79.5" stroke="#9a9a9a" stroke-width="1.4"/>
<line x1="114.5" y1="79" x2="113.5" y2="75.5" stroke="#9a9a9a" stroke-width="1.4"/>
<line x1="118.9" y1="84" x2="118" y2="87.8" stroke="#9a9a9a" stroke-width="1.4"/>
<line x1="129.8" y1="84.8" x2="130" y2="88.6" stroke="#9a9a9a" stroke-width="1.4"/>
<line x1="137.1" y1="81.2" x2="137" y2="77.3" stroke="#9a9a9a" stroke-width="1.4"/>
<line x1="141.5" y1="86" x2="144.5" y2="84" stroke="#9a9a9a" stroke-width="1.4"/>
<line x1="141.5" y1="86" x2="140.5" y2="89.6" stroke="#9a9a9a" stroke-width="1.4"/>
<line x1="108" y1="82.6" x2="104.6" y2="84" stroke="#9a9a9a" stroke-width="1.4"/>
<circle cx="108" cy="82.6" r="2.0" fill="url(#ball_b)"/>
<circle cx="114.5" cy="79" r="2.0" fill="url(#ball_g)"/>
<circle cx="118.9" cy="84" r="2.0" fill="url(#ball_g)"/>
<circle cx="125.9" cy="80.9" r="2.0" fill="url(#ball_r)"/>
<circle cx="129.8" cy="84.8" r="2.0" fill="url(#ball_g)"/>
<circle cx="137.1" cy="81.2" r="2.0" fill="url(#ball_g)"/>
<circle cx="141.5" cy="86" r="2.0" fill="url(#ball_b)"/>
<circle cx="106" cy="79.5" r="1.3" fill="#f4f4f4"/>
<circle cx="113.5" cy="75.5" r="1.3" fill="#f4f4f4"/>
<circle cx="118" cy="87.8" r="1.3" fill="#f4f4f4"/>
<circle cx="130" cy="88.6" r="1.3" fill="#f4f4f4"/>
<circle cx="137" cy="77.3" r="1.3" fill="#f4f4f4"/>
<circle cx="144.5" cy="84" r="1.3" fill="#f4f4f4"/>
<circle cx="140.5" cy="89.6" r="1.3" fill="#f4f4f4"/>
<circle cx="104.6" cy="84" r="1.3" fill="#f4f4f4"/>
<line x1="158.2" y1="65.9" x2="161" y2="73.2" stroke="#9a9a9a" stroke-width="1.4"/>
<line x1="161" y1="73.2" x2="156.7" y2="77.5" stroke="#9a9a9a" stroke-width="1.4"/>
<line x1="156.7" y1="77.5" x2="160.4" y2="82.6" stroke="#9a9a9a" stroke-width="1.4"/>
<line x1="160.4" y1="82.6" x2="156" y2="86.3" stroke="#9a9a9a" stroke-width="1.4"/>
<line x1="156" y1="86.3" x2="159.6" y2="93.5" stroke="#9a9a9a" stroke-width="1.4"/>
<line x1="159.6" y1="93.5" x2="154.5" y2="98.6" stroke="#9a9a9a" stroke-width="1.4"/>
<line x1="158.2" y1="65.9" x2="155" y2="63.5" stroke="#9a9a9a" stroke-width="1.4"/>
<line x1="158.2" y1="65.9" x2="161.5" y2="62.5" stroke="#9a9a9a" stroke-width="1.4"/>
<line x1="161" y1="73.2" x2="164.6" y2="72.5" stroke="#9a9a9a" stroke-width="1.4"/>
<line x1="156.7" y1="77.5" x2="152.9" y2="76.8" stroke="#9a9a9a" stroke-width="1.4"/>
<line x1="156" y1="86.3" x2="152.4" y2="87" stroke="#9a9a9a" stroke-width="1.4"/>
<line x1="159.6" y1="93.5" x2="163.2" y2="92.5" stroke="#9a9a9a" stroke-width="1.4"/>
<line x1="154.5" y1="98.6" x2="151" y2="98" stroke="#9a9a9a" stroke-width="1.4"/>
<line x1="154.5" y1="98.6" x2="157" y2="101.8" stroke="#9a9a9a" stroke-width="1.4"/>
<circle cx="158.2" cy="65.9" r="2.0" fill="url(#ball_b)"/>
<circle cx="161" cy="73.2" r="2.0" fill="url(#ball_g)"/>
<circle cx="156.7" cy="77.5" r="2.0" fill="url(#ball_g)"/>
<circle cx="160.4" cy="82.6" r="2.0" fill="url(#ball_r)"/>
<circle cx="156" cy="86.3" r="2.0" fill="url(#ball_g)"/>
<circle cx="159.6" cy="93.5" r="2.0" fill="url(#ball_g)"/>
<circle cx="154.5" cy="98.6" r="2.0" fill="url(#ball_b)"/>
<circle cx="155" cy="63.5" r="1.3" fill="#f4f4f4"/>
<circle cx="161.5" cy="62.5" r="1.3" fill="#f4f4f4"/>
<circle cx="164.6" cy="72.5" r="1.3" fill="#f4f4f4"/>
<circle cx="152.9" cy="76.8" r="1.3" fill="#f4f4f4"/>
<circle cx="152.4" cy="87" r="1.3" fill="#f4f4f4"/>
<circle cx="163.2" cy="92.5" r="1.3" fill="#f4f4f4"/>
<circle cx="151" cy="98" r="1.3" fill="#f4f4f4"/>
<circle cx="157" cy="101.8" r="1.3" fill="#f4f4f4"/>
<circle cx="55.5" cy="61.8" r="4.4" fill="#6f7fb6"/>
<text x="55.2" y="63.3" font-size="4.6" fill="#e4eeff" fill-opacity="0.85" text-anchor="middle">e<tspan font-size="3" dy="-1.6">-</tspan></text>
<circle cx="61.5" cy="82.7" r="4.4" fill="#68a9df"/>
<text x="61.2" y="84.2" font-size="4.6" fill="#e4eeff" fill-opacity="0.85" text-anchor="middle">e<tspan font-size="3" dy="-1.6">-</tspan></text>
<circle cx="51.8" cy="100" r="4.4" fill="#63b6ea"/>
<text x="51.5" y="101.5" font-size="4.6" fill="#e4eeff" fill-opacity="0.85" text-anchor="middle">e<tspan font-size="3" dy="-1.6">-</tspan></text>
<circle cx="166.2" cy="63.3" r="4.4" fill="#7283b4"/>
<text x="165.9" y="64.8" font-size="4.6" fill="#e4eeff" fill-opacity="0.85" text-anchor="middle">e<tspan font-size="3" dy="-1.6">-</tspan></text>
<circle cx="171.3" cy="82.6" r="4.4" fill="#6fb0e0"/>
<text x="171" y="84.1" font-size="4.6" fill="#e4eeff" fill-opacity="0.85" text-anchor="middle">e<tspan font-size="3" dy="-1.6">-</tspan></text>
<circle cx="174.9" cy="100" r="4.4" fill="#5cb4ea"/>
<text x="174.6" y="101.5" font-size="4.6" fill="#e4eeff" fill-opacity="0.85" text-anchor="middle">e<tspan font-size="3" dy="-1.6">-</tspan></text>
<path d="M37.6,59.5 Q60,79 39.5,97.5" fill="none" stroke="url(#garr)" stroke-width="3.4" stroke-dasharray="5.5,2.6"/>
<path d="M30,104.3 L34.8,94 L42.6,99.6 Z" fill="#bdbdbd"/>
<path d="M172.9,55.2 L183,96" fill="none" stroke="url(#garr)" stroke-width="3.4" stroke-dasharray="6,2.8"/>
<path d="M185.4,103.5 L179.6,96.5 L186.8,94.8 Z" fill="#bcbcbc"/>
<text x="21.8" y="83.8" font-size="7.4" font-weight="bold" fill="#1a1a1a" stroke="#1a1a1a" stroke-width="0.2" textLength="23.4" lengthAdjust="spacingAndGlyphs">Control</text>
<text x="181.6" y="80.4" font-size="7.2" font-weight="bold" fill="#1a1a1a" stroke="#1a1a1a" stroke-width="0.2" textLength="26.8" lengthAdjust="spacingAndGlyphs">DO-SnO<tspan font-size="5" dy="1.8">2</tspan></text>
</svg>
</body></html>
